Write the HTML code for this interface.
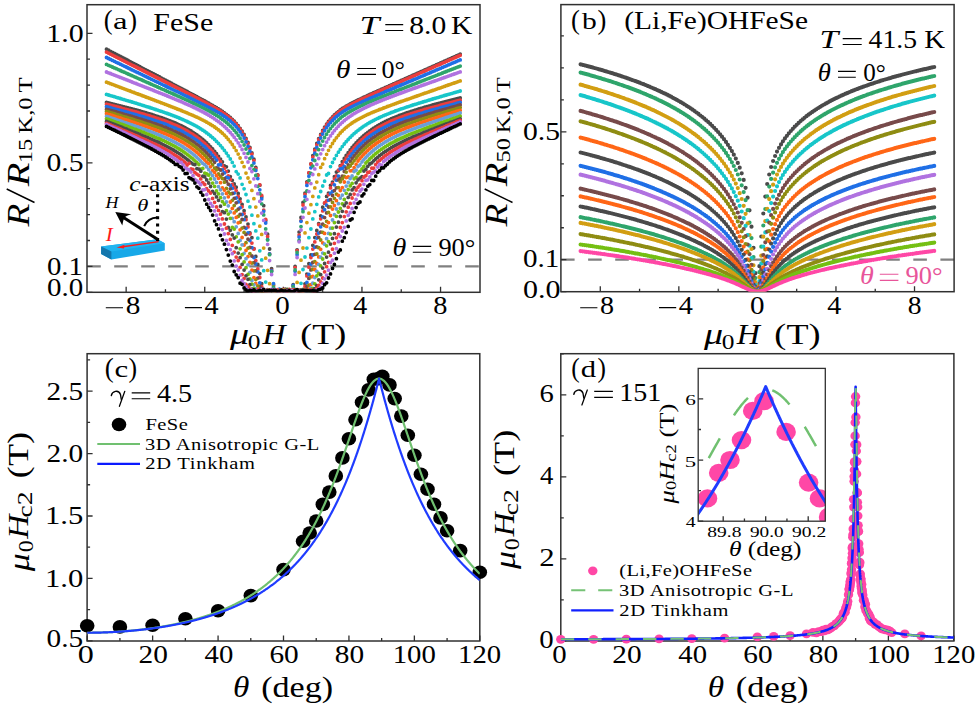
<!DOCTYPE html>
<html><head><meta charset="utf-8"><title>Figure</title>
<style>html,body{margin:0;padding:0;background:#fff;width:977px;height:707px;overflow:hidden}svg{display:block}text{font-family:"Liberation Serif",serif}</style>
</head><body><svg width="977" height="707" viewBox="0 0 977 707"><rect width="977" height="707" fill="#fff"/><clipPath id="ca"><rect x="87" y="4.7" width="393" height="287.6"/></clipPath><clipPath id="cb"><rect x="560.9" y="4.6" width="393.2" height="287.1"/></clipPath><clipPath id="cc"><rect x="87.1" y="353.7" width="392.7" height="287.3"/></clipPath><clipPath id="cd"><rect x="560.8" y="353.7" width="393.1" height="287.3"/></clipPath><clipPath id="ci"><rect x="698.2" y="368.4" width="127.1" height="152.8"/></clipPath><path d="M87.2 266.40H480" stroke="#808080" stroke-width="2.4" stroke-dasharray="13.6 13.4" fill="none"/><path d="M561 259.72H954" stroke="#808080" stroke-width="2.2" stroke-dasharray="13.6 13.5" fill="none"/><path d="M126.15 292.30L126.15 286.80M204.75 292.30L204.75 286.80M283.35 292.30L283.35 286.80M361.95 292.30L361.95 286.80M440.55 292.30L440.55 286.80M165.45 292.30L165.45 289.30M244.05 292.30L244.05 289.30M322.65 292.30L322.65 289.30M401.25 292.30L401.25 289.30M87.00 292.30L92.50 292.30M87.00 266.40L92.50 266.40M87.00 162.80L92.50 162.80M87.00 33.30L92.50 33.30M87.00 240.50L90.00 240.50M87.00 214.60L90.00 214.60M87.00 188.70L90.00 188.70M87.00 136.90L90.00 136.90M87.00 111.00L90.00 111.00M87.00 85.10L90.00 85.10M87.00 59.20L90.00 59.20M600.28 291.70L600.28 286.20M678.84 291.70L678.84 286.20M757.40 291.70L757.40 286.20M835.96 291.70L835.96 286.20M914.52 291.70L914.52 286.20M639.56 291.70L639.56 288.70M718.12 291.70L718.12 288.70M796.68 291.70L796.68 288.70M875.24 291.70L875.24 288.70M560.90 291.70L566.40 291.70M560.90 259.72L566.40 259.72M560.90 131.80L566.40 131.80M560.90 227.74L563.90 227.74M560.90 195.76L563.90 195.76M560.90 163.78L563.90 163.78M560.90 99.82L563.90 99.82M560.90 67.84L563.90 67.84M560.90 35.86L563.90 35.86M87.20 641.00L87.20 635.50M152.63 641.00L152.63 635.50M218.07 641.00L218.07 635.50M283.50 641.00L283.50 635.50M348.94 641.00L348.94 635.50M414.37 641.00L414.37 635.50M479.80 641.00L479.80 635.50M119.92 641.00L119.92 638.00M185.35 641.00L185.35 638.00M250.79 641.00L250.79 638.00M316.22 641.00L316.22 638.00M381.65 641.00L381.65 638.00M447.09 641.00L447.09 638.00M87.10 640.90L92.60 640.90M87.10 578.45L92.60 578.45M87.10 516.00L92.60 516.00M87.10 453.55L92.60 453.55M87.10 391.10L92.60 391.10M87.10 609.67L90.10 609.67M87.10 547.22L90.10 547.22M87.10 484.77L90.10 484.77M87.10 422.32L90.10 422.32M87.10 359.87L90.10 359.87M560.80 641.00L560.80 635.50M626.32 641.00L626.32 635.50M691.83 641.00L691.83 635.50M757.35 641.00L757.35 635.50M822.86 641.00L822.86 635.50M888.38 641.00L888.38 635.50M953.90 641.00L953.90 635.50M593.56 641.00L593.56 638.00M659.07 641.00L659.07 638.00M724.59 641.00L724.59 638.00M790.11 641.00L790.11 638.00M855.62 641.00L855.62 638.00M921.14 641.00L921.14 638.00M560.80 640.90L566.30 640.90M560.80 558.90L566.30 558.90M560.80 476.90L566.30 476.90M560.80 394.90L566.30 394.90M560.80 599.90L563.80 599.90M560.80 517.90L563.80 517.90M560.80 435.90L563.80 435.90M560.80 353.90L563.80 353.90" stroke="#303030" stroke-width="1.3" fill="none"/><rect x="87.0" y="4.7" width="393.00" height="287.60" fill="none" stroke="#303030" stroke-width="1.5"/><rect x="560.9" y="4.6" width="393.20" height="287.10" fill="none" stroke="#303030" stroke-width="1.5"/><rect x="87.1" y="353.7" width="392.70" height="287.30" fill="none" stroke="#303030" stroke-width="1.5"/><rect x="560.8" y="353.7" width="393.10" height="287.30" fill="none" stroke="#303030" stroke-width="1.5"/><g clip-path="url(#ca)" stroke-linecap="round" stroke-width="3.8" fill="none"><path stroke="#4a4a4a" d="M106.5 49.2h0M108.5 50.2h0M110.4 51.3h0M112.4 52.3h0M114.4 53.3h0M116.3 54.4h0M118.3 55.4h0M120.3 56.4h0M122.2 57.5h0M124.2 58.5h0M126.2 59.5h0M128.1 60.5h0M130.1 61.6h0M132.0 62.6h0M134.0 63.6h0M136.0 64.7h0M137.9 65.7h0M139.9 66.7h0M141.9 67.8h0M143.8 68.8h0M145.8 69.8h0M147.8 70.9h0M149.7 71.9h0M151.7 72.9h0M153.7 74.0h0M155.6 75.0h0M157.6 76.0h0M159.6 77.0h0M161.5 78.1h0M163.5 79.1h0M165.5 80.1h0M167.4 81.2h0M169.4 82.2h0M171.3 83.2h0M173.3 84.3h0M175.3 85.3h0M177.2 86.3h0M179.2 87.4h0M181.2 88.4h0M183.1 89.4h0M185.1 90.5h0M187.1 91.5h0M189.0 92.6h0M191.0 93.6h0M193.0 94.6h0M194.9 95.7h0M196.9 96.7h0M198.9 97.8h0M200.8 98.8h0M202.8 99.9h0M204.8 101.0h0M206.7 102.1h0M208.7 103.2h0M210.6 104.3h0M212.6 105.4h0M214.6 106.6h0M216.5 107.7h0M218.5 109.0h0M220.5 110.2h0M222.4 111.5h0M224.4 112.9h0M226.4 114.3h0M228.3 115.9h0M230.3 117.5h0M232.3 119.3h0M234.2 121.2h0M236.2 123.4h0M238.2 125.7h0M240.1 128.3h0M242.1 131.2h0M244.1 134.5h0M246.0 138.3h0M248.0 142.5h0M249.9 147.3h0M251.9 152.9h0M253.9 159.2h0M255.8 167.5h0M257.8 175.0h0M259.8 185.2h0M261.7 196.9h0M263.7 205.7h0M265.7 220.7h0M267.6 234.2h0M269.6 249.0h0M271.6 268.7h0M273.5 284.7h0M275.5 290.6h0M277.5 290.2h0M279.4 291.4h0M281.4 289.9h0M283.4 290.6h0M285.3 289.1h0M287.3 291.3h0M289.2 290.6h0M291.2 290.6h0M293.2 284.7h0M295.1 266.4h0M297.1 249.8h0M299.1 232.1h0M301.0 217.5h0M303.0 202.4h0M305.0 193.1h0M306.9 181.8h0M308.9 172.8h0M310.9 164.0h0M312.8 155.6h0M314.8 149.2h0M316.8 143.5h0M318.7 138.6h0M320.7 134.3h0M322.7 130.5h0M324.6 127.1h0M326.6 124.1h0M328.5 121.5h0M330.5 119.1h0M332.5 117.0h0M334.4 115.0h0M336.4 113.2h0M338.4 111.6h0M340.3 110.0h0M342.3 108.5h0M344.3 107.3h0M346.2 106.2h0M348.2 105.1h0M350.2 104.0h0M352.1 103.0h0M354.1 102.0h0M356.1 101.0h0M358.0 100.0h0M360.0 99.1h0M362.0 98.2h0M363.9 97.2h0M365.9 96.3h0M367.8 95.4h0M369.8 94.5h0M371.8 93.6h0M373.7 92.7h0M375.7 91.9h0M377.7 91.0h0M379.6 90.1h0M381.6 89.2h0M383.6 88.3h0M385.5 87.5h0M387.5 86.6h0M389.5 85.7h0M391.4 84.8h0M393.4 83.9h0M395.4 83.1h0M397.3 82.2h0M399.3 81.3h0M401.2 80.4h0M403.2 79.6h0M405.2 78.7h0M407.1 77.8h0M409.1 76.9h0M411.1 76.1h0M413.0 75.2h0M415.0 74.3h0M417.0 73.4h0M418.9 72.6h0M420.9 71.7h0M422.9 70.8h0M424.8 69.9h0M426.8 69.1h0M428.8 68.2h0M430.7 67.3h0M432.7 66.4h0M434.7 65.6h0M436.6 64.7h0M438.6 63.8h0M440.6 62.9h0M442.5 62.1h0M444.5 61.2h0M446.4 60.3h0M448.4 59.4h0M450.4 58.6h0M452.3 57.7h0M454.3 56.8h0M456.3 55.9h0M458.2 55.1h0M460.2 54.2h0"/><path stroke="#ec3d3d" d="M106.5 52.1h0M108.5 53.1h0M110.4 54.1h0M112.4 55.1h0M114.4 56.1h0M116.3 57.1h0M118.3 58.1h0M120.3 59.1h0M122.2 60.1h0M124.2 61.1h0M126.2 62.1h0M128.1 63.1h0M130.1 64.1h0M132.0 65.1h0M134.0 66.0h0M136.0 67.0h0M137.9 68.0h0M139.9 69.0h0M141.9 70.0h0M143.8 71.0h0M145.8 72.0h0M147.8 73.0h0M149.7 74.0h0M151.7 75.0h0M153.7 76.0h0M155.6 77.0h0M157.6 78.0h0M159.6 79.0h0M161.5 80.0h0M163.5 81.0h0M165.5 82.0h0M167.4 83.0h0M169.4 84.0h0M171.3 85.0h0M173.3 86.0h0M175.3 87.0h0M177.2 88.0h0M179.2 89.0h0M181.2 90.0h0M183.1 91.0h0M185.1 92.0h0M187.1 93.0h0M189.0 94.0h0M191.0 95.0h0M193.0 96.0h0M194.9 97.0h0M196.9 98.0h0M198.9 99.0h0M200.8 100.1h0M202.8 101.1h0M204.8 102.1h0M206.7 103.2h0M208.7 104.3h0M210.6 105.3h0M212.6 106.4h0M214.6 107.6h0M216.5 108.7h0M218.5 109.9h0M220.5 111.1h0M222.4 112.4h0M224.4 113.8h0M226.4 115.2h0M228.3 116.7h0M230.3 118.4h0M232.3 120.1h0M234.2 122.1h0M236.2 124.2h0M238.2 126.6h0M240.1 129.2h0M242.1 132.2h0M244.1 135.5h0M246.0 139.3h0M248.0 143.6h0M249.9 148.5h0M251.9 154.1h0M253.9 160.6h0M255.8 168.7h0M257.8 175.4h0M259.8 184.9h0M261.7 195.4h0M263.7 210.1h0M265.7 219.4h0M267.6 236.5h0M269.6 254.0h0M271.6 270.5h0M273.5 285.6h0M275.5 291.4h0M277.5 289.6h0M279.4 290.1h0M281.4 290.1h0M283.4 290.3h0M285.3 290.0h0M287.3 291.3h0M289.2 290.0h0M291.2 291.0h0M293.2 286.0h0M295.1 267.6h0M297.1 250.6h0M299.1 235.1h0M301.0 220.6h0M303.0 205.0h0M305.0 194.3h0M306.9 183.0h0M308.9 172.9h0M310.9 164.1h0M312.8 157.1h0M314.8 150.5h0M316.8 144.8h0M318.7 139.7h0M320.7 135.3h0M322.7 131.5h0M324.6 128.1h0M326.6 125.0h0M328.5 122.4h0M330.5 120.0h0M332.5 117.8h0M334.4 115.8h0M336.4 114.1h0M338.4 112.4h0M340.3 110.9h0M342.3 109.4h0M344.3 108.2h0M346.2 107.0h0M348.2 105.9h0M350.2 104.8h0M352.1 103.8h0M354.1 102.8h0M356.1 101.8h0M358.0 100.9h0M360.0 99.9h0M362.0 99.0h0M363.9 98.1h0M365.9 97.2h0M367.8 96.3h0M369.8 95.4h0M371.8 94.5h0M373.7 93.6h0M375.7 92.7h0M377.7 91.9h0M379.6 91.0h0M381.6 90.1h0M383.6 89.2h0M385.5 88.4h0M387.5 87.5h0M389.5 86.6h0M391.4 85.7h0M393.4 84.9h0M395.4 84.0h0M397.3 83.1h0M399.3 82.3h0M401.2 81.4h0M403.2 80.5h0M405.2 79.6h0M407.1 78.8h0M409.1 77.9h0M411.1 77.0h0M413.0 76.2h0M415.0 75.3h0M417.0 74.4h0M418.9 73.6h0M420.9 72.7h0M422.9 71.8h0M424.8 71.0h0M426.8 70.1h0M428.8 69.2h0M430.7 68.3h0M432.7 67.5h0M434.7 66.6h0M436.6 65.7h0M438.6 64.9h0M440.6 64.0h0M442.5 63.1h0M444.5 62.3h0M446.4 61.4h0M448.4 60.5h0M450.4 59.6h0M452.3 58.8h0M454.3 57.9h0M456.3 57.0h0M458.2 56.2h0M460.2 55.3h0"/><path stroke="#1f6fe6" d="M106.5 57.5h0M108.5 58.5h0M110.4 59.4h0M112.4 60.4h0M114.4 61.3h0M116.3 62.3h0M118.3 63.2h0M120.3 64.2h0M122.2 65.1h0M124.2 66.1h0M126.2 67.0h0M128.1 68.0h0M130.1 68.9h0M132.0 69.9h0M134.0 70.8h0M136.0 71.8h0M137.9 72.7h0M139.9 73.7h0M141.9 74.6h0M143.8 75.6h0M145.8 76.5h0M147.8 77.5h0M149.7 78.4h0M151.7 79.4h0M153.7 80.3h0M155.6 81.3h0M157.6 82.2h0M159.6 83.2h0M161.5 84.1h0M163.5 85.1h0M165.5 86.0h0M167.4 87.0h0M169.4 87.9h0M171.3 88.9h0M173.3 89.8h0M175.3 90.8h0M177.2 91.7h0M179.2 92.7h0M181.2 93.6h0M183.1 94.6h0M185.1 95.6h0M187.1 96.5h0M189.0 97.5h0M191.0 98.4h0M193.0 99.4h0M194.9 100.4h0M196.9 101.3h0M198.9 102.3h0M200.8 103.3h0M202.8 104.3h0M204.8 105.3h0M206.7 106.3h0M208.7 107.3h0M210.6 108.3h0M212.6 109.4h0M214.6 110.5h0M216.5 111.6h0M218.5 112.7h0M220.5 113.9h0M222.4 115.2h0M224.4 116.5h0M226.4 117.9h0M228.3 119.4h0M230.3 121.0h0M232.3 122.8h0M234.2 124.7h0M236.2 126.8h0M238.2 129.2h0M240.1 131.8h0M242.1 134.8h0M244.1 138.1h0M246.0 141.9h0M248.0 146.3h0M249.9 151.2h0M251.9 156.9h0M253.9 163.1h0M255.8 170.4h0M257.8 178.6h0M259.8 189.8h0M261.7 198.9h0M263.7 211.3h0M265.7 223.0h0M267.6 239.6h0M269.6 254.0h0M271.6 270.9h0M273.5 283.6h0M275.5 291.9h0M277.5 291.3h0M279.4 290.4h0M281.4 290.2h0M283.4 291.7h0M285.3 291.6h0M287.3 290.2h0M289.2 289.7h0M291.2 291.4h0M293.2 285.5h0M295.1 271.3h0M297.1 254.7h0M299.1 237.1h0M301.0 221.3h0M303.0 209.2h0M305.0 196.7h0M306.9 185.4h0M308.9 176.2h0M310.9 167.8h0M312.8 159.8h0M314.8 153.2h0M316.8 147.5h0M318.7 142.4h0M320.7 138.0h0M322.7 134.1h0M324.6 130.7h0M326.6 127.7h0M328.5 125.0h0M330.5 122.6h0M332.5 120.4h0M334.4 118.5h0M336.4 116.7h0M338.4 115.1h0M340.3 113.6h0M342.3 112.2h0M344.3 110.9h0M346.2 109.8h0M348.2 108.7h0M350.2 107.7h0M352.1 106.7h0M354.1 105.7h0M356.1 104.7h0M358.0 103.8h0M360.0 102.9h0M362.0 102.0h0M363.9 101.1h0M365.9 100.2h0M367.8 99.4h0M369.8 98.5h0M371.8 97.7h0M373.7 96.8h0M375.7 96.0h0M377.7 95.1h0M379.6 94.3h0M381.6 93.4h0M383.6 92.6h0M385.5 91.7h0M387.5 90.9h0M389.5 90.1h0M391.4 89.2h0M393.4 88.4h0M395.4 87.5h0M397.3 86.7h0M399.3 85.9h0M401.2 85.0h0M403.2 84.2h0M405.2 83.3h0M407.1 82.5h0M409.1 81.7h0M411.1 80.8h0M413.0 80.0h0M415.0 79.2h0M417.0 78.3h0M418.9 77.5h0M420.9 76.6h0M422.9 75.8h0M424.8 75.0h0M426.8 74.1h0M428.8 73.3h0M430.7 72.5h0M432.7 71.6h0M434.7 70.8h0M436.6 69.9h0M438.6 69.1h0M440.6 68.3h0M442.5 67.4h0M444.5 66.6h0M446.4 65.8h0M448.4 64.9h0M450.4 64.1h0M452.3 63.2h0M454.3 62.4h0M456.3 61.6h0M458.2 60.7h0M460.2 59.9h0"/><path stroke="#2ea56b" d="M106.5 64.4h0M108.5 65.3h0M110.4 66.1h0M112.4 67.0h0M114.4 67.9h0M116.3 68.7h0M118.3 69.6h0M120.3 70.5h0M122.2 71.4h0M124.2 72.2h0M126.2 73.1h0M128.1 74.0h0M130.1 74.8h0M132.0 75.7h0M134.0 76.6h0M136.0 77.4h0M137.9 78.3h0M139.9 79.2h0M141.9 80.0h0M143.8 80.9h0M145.8 81.8h0M147.8 82.7h0M149.7 83.5h0M151.7 84.4h0M153.7 85.3h0M155.6 86.1h0M157.6 87.0h0M159.6 87.9h0M161.5 88.8h0M163.5 89.6h0M165.5 90.5h0M167.4 91.4h0M169.4 92.3h0M171.3 93.1h0M173.3 94.0h0M175.3 94.9h0M177.2 95.8h0M179.2 96.7h0M181.2 97.6h0M183.1 98.4h0M185.1 99.3h0M187.1 100.2h0M189.0 101.1h0M191.0 102.1h0M193.0 103.0h0M194.9 103.9h0M196.9 104.9h0M198.9 105.8h0M200.8 106.8h0M202.8 107.8h0M204.8 108.8h0M206.7 109.8h0M208.7 110.8h0M210.6 111.9h0M212.6 113.0h0M214.6 114.2h0M216.5 115.4h0M218.5 116.7h0M220.5 118.0h0M222.4 119.4h0M224.4 120.9h0M226.4 122.5h0M228.3 124.2h0M230.3 126.1h0M232.3 128.1h0M234.2 130.3h0M236.2 132.7h0M238.2 135.3h0M240.1 138.2h0M242.1 141.4h0M244.1 145.0h0M246.0 149.0h0M248.0 153.4h0M249.9 158.4h0M251.9 165.7h0M253.9 169.7h0M255.8 175.5h0M257.8 186.3h0M259.8 193.7h0M261.7 203.8h0M263.7 214.9h0M265.7 228.9h0M267.6 239.9h0M269.6 254.7h0M271.6 271.6h0M273.5 287.0h0M275.5 289.8h0M277.5 290.8h0M279.4 291.3h0M281.4 290.4h0M283.4 290.2h0M285.3 290.1h0M287.3 290.7h0M289.2 290.8h0M291.2 291.6h0M293.2 286.7h0M295.1 269.9h0M297.1 252.5h0M299.1 240.4h0M301.0 226.6h0M303.0 211.7h0M305.0 200.5h0M306.9 191.0h0M308.9 180.4h0M310.9 173.3h0M312.8 166.1h0M314.8 160.5h0M316.8 154.8h0M318.7 149.7h0M320.7 145.2h0M322.7 141.1h0M324.6 137.5h0M326.6 134.2h0M328.5 131.2h0M330.5 128.6h0M332.5 126.1h0M334.4 123.9h0M336.4 121.9h0M338.4 120.0h0M340.3 118.2h0M342.3 116.6h0M344.3 115.2h0M346.2 113.9h0M348.2 112.7h0M350.2 111.5h0M352.1 110.4h0M354.1 109.3h0M356.1 108.3h0M358.0 107.3h0M360.0 106.3h0M362.0 105.4h0M363.9 104.5h0M365.9 103.6h0M367.8 102.7h0M369.8 101.9h0M371.8 101.0h0M373.7 100.2h0M375.7 99.4h0M377.7 98.6h0M379.6 97.8h0M381.6 97.0h0M383.6 96.2h0M385.5 95.4h0M387.5 94.6h0M389.5 93.8h0M391.4 93.0h0M393.4 92.3h0M395.4 91.5h0M397.3 90.7h0M399.3 89.9h0M401.2 89.2h0M403.2 88.4h0M405.2 87.6h0M407.1 86.8h0M409.1 86.1h0M411.1 85.3h0M413.0 84.5h0M415.0 83.8h0M417.0 83.0h0M418.9 82.2h0M420.9 81.5h0M422.9 80.7h0M424.8 79.9h0M426.8 79.1h0M428.8 78.4h0M430.7 77.6h0M432.7 76.8h0M434.7 76.1h0M436.6 75.3h0M438.6 74.5h0M440.6 73.8h0M442.5 73.0h0M444.5 72.2h0M446.4 71.5h0M448.4 70.7h0M450.4 69.9h0M452.3 69.2h0M454.3 68.4h0M456.3 67.6h0M458.2 66.9h0M460.2 66.1h0"/><path stroke="#b072e0" d="M106.5 72.0h0M108.5 72.8h0M110.4 73.5h0M112.4 74.3h0M114.4 75.1h0M116.3 75.8h0M118.3 76.6h0M120.3 77.4h0M122.2 78.1h0M124.2 78.9h0M126.2 79.7h0M128.1 80.4h0M130.1 81.2h0M132.0 82.0h0M134.0 82.8h0M136.0 83.5h0M137.9 84.3h0M139.9 85.1h0M141.9 85.8h0M143.8 86.6h0M145.8 87.4h0M147.8 88.2h0M149.7 88.9h0M151.7 89.7h0M153.7 90.5h0M155.6 91.3h0M157.6 92.1h0M159.6 92.9h0M161.5 93.6h0M163.5 94.4h0M165.5 95.2h0M167.4 96.0h0M169.4 96.8h0M171.3 97.6h0M173.3 98.4h0M175.3 99.3h0M177.2 100.1h0M179.2 100.9h0M181.2 101.7h0M183.1 102.6h0M185.1 103.5h0M187.1 104.3h0M189.0 105.2h0M191.0 106.1h0M193.0 107.0h0M194.9 107.9h0M196.9 108.9h0M198.9 109.9h0M200.8 110.9h0M202.8 111.9h0M204.8 113.0h0M206.7 114.0h0M208.7 115.2h0M210.6 116.4h0M212.6 117.6h0M214.6 118.9h0M216.5 120.3h0M218.5 121.7h0M220.5 123.2h0M222.4 124.8h0M224.4 126.6h0M226.4 128.4h0M228.3 130.4h0M230.3 132.5h0M232.3 134.8h0M234.2 137.2h0M236.2 139.9h0M238.2 142.8h0M240.1 146.0h0M242.1 149.5h0M244.1 153.3h0M246.0 157.4h0M248.0 162.0h0M249.9 168.4h0M251.9 171.6h0M253.9 178.8h0M255.8 185.9h0M257.8 193.7h0M259.8 201.4h0M261.7 213.1h0M263.7 220.4h0M265.7 233.0h0M267.6 244.3h0M269.6 260.6h0M271.6 274.5h0M273.5 289.4h0M275.5 290.7h0M277.5 291.3h0M279.4 290.1h0M281.4 291.0h0M283.4 290.2h0M285.3 289.5h0M287.3 290.5h0M289.2 290.5h0M291.2 291.2h0M293.2 289.3h0M295.1 274.4h0M297.1 257.5h0M299.1 241.8h0M301.0 230.0h0M303.0 217.3h0M305.0 208.0h0M306.9 199.4h0M308.9 191.6h0M310.9 183.6h0M312.8 174.5h0M314.8 168.9h0M316.8 164.4h0M318.7 158.5h0M320.7 153.8h0M322.7 149.6h0M324.6 145.7h0M326.6 142.2h0M328.5 138.9h0M330.5 135.9h0M332.5 133.2h0M334.4 130.7h0M336.4 128.4h0M338.4 126.2h0M340.3 124.2h0M342.3 122.4h0M344.3 120.7h0M346.2 119.1h0M348.2 117.7h0M350.2 116.3h0M352.1 115.0h0M354.1 113.7h0M356.1 112.6h0M358.0 111.4h0M360.0 110.4h0M362.0 109.3h0M363.9 108.3h0M365.9 107.4h0M367.8 106.4h0M369.8 105.5h0M371.8 104.6h0M373.7 103.8h0M375.7 102.9h0M377.7 102.1h0M379.6 101.3h0M381.6 100.5h0M383.6 99.7h0M385.5 98.9h0M387.5 98.2h0M389.5 97.4h0M391.4 96.7h0M393.4 95.9h0M395.4 95.2h0M397.3 94.4h0M399.3 93.7h0M401.2 93.0h0M403.2 92.3h0M405.2 91.5h0M407.1 90.8h0M409.1 90.1h0M411.1 89.4h0M413.0 88.7h0M415.0 88.0h0M417.0 87.3h0M418.9 86.6h0M420.9 85.9h0M422.9 85.2h0M424.8 84.5h0M426.8 83.8h0M428.8 83.1h0M430.7 82.4h0M432.7 81.7h0M434.7 81.0h0M436.6 80.3h0M438.6 79.6h0M440.6 78.9h0M442.5 78.2h0M444.5 77.5h0M446.4 76.8h0M448.4 76.1h0M450.4 75.4h0M452.3 74.7h0M454.3 74.0h0M456.3 73.3h0M458.2 72.6h0M460.2 71.9h0"/><path stroke="#d29e12" d="M106.5 82.2h0M108.5 82.9h0M110.4 83.7h0M112.4 84.4h0M114.4 85.1h0M116.3 85.9h0M118.3 86.6h0M120.3 87.4h0M122.2 88.1h0M124.2 88.8h0M126.2 89.6h0M128.1 90.3h0M130.1 91.0h0M132.0 91.8h0M134.0 92.5h0M136.0 93.3h0M137.9 94.0h0M139.9 94.7h0M141.9 95.5h0M143.8 96.2h0M145.8 97.0h0M147.8 97.7h0M149.7 98.4h0M151.7 99.2h0M153.7 99.9h0M155.6 100.7h0M157.6 101.4h0M159.6 102.1h0M161.5 102.9h0M163.5 103.6h0M165.5 104.4h0M167.4 105.1h0M169.4 105.9h0M171.3 106.7h0M173.3 107.4h0M175.3 108.2h0M177.2 109.0h0M179.2 109.7h0M181.2 110.5h0M183.1 111.3h0M185.1 112.1h0M187.1 112.9h0M189.0 113.8h0M191.0 114.6h0M193.0 115.4h0M194.9 116.3h0M196.9 117.2h0M198.9 118.1h0M200.8 119.1h0M202.8 120.1h0M204.8 121.1h0M206.7 122.2h0M208.7 123.3h0M210.6 124.5h0M212.6 125.7h0M214.6 127.0h0M216.5 128.4h0M218.5 129.9h0M220.5 131.5h0M222.4 133.2h0M224.4 135.1h0M226.4 137.2h0M228.3 139.4h0M230.3 141.8h0M232.3 144.5h0M234.2 147.4h0M236.2 150.6h0M238.2 154.1h0M240.1 158.0h0M242.1 162.3h0M244.1 166.7h0M246.0 173.1h0M248.0 178.0h0M249.9 182.1h0M251.9 190.4h0M253.9 198.7h0M255.8 207.1h0M257.8 215.9h0M259.8 226.2h0M261.7 234.4h0M263.7 248.1h0M265.7 258.2h0M267.6 270.3h0M269.6 283.7h0M271.6 290.4h0M273.5 290.7h0M275.5 291.4h0M277.5 290.5h0M279.4 291.0h0M281.4 290.7h0M283.4 290.2h0M285.3 291.3h0M287.3 291.2h0M289.2 290.5h0M291.2 290.4h0M293.2 290.3h0M295.1 290.7h0M297.1 282.4h0M299.1 272.4h0M301.0 260.2h0M303.0 248.0h0M305.0 232.9h0M306.9 222.6h0M308.9 213.2h0M310.9 204.7h0M312.8 196.4h0M314.8 187.9h0M316.8 182.1h0M318.7 174.7h0M320.7 167.4h0M322.7 164.1h0M324.6 158.7h0M326.6 154.3h0M328.5 150.3h0M330.5 146.7h0M332.5 143.5h0M334.4 140.5h0M336.4 137.8h0M338.4 135.3h0M340.3 133.0h0M342.3 131.0h0M344.3 129.1h0M346.2 127.4h0M348.2 125.8h0M350.2 124.3h0M352.1 123.0h0M354.1 121.7h0M356.1 120.5h0M358.0 119.4h0M360.0 118.3h0M362.0 117.3h0M363.9 116.3h0M365.9 115.3h0M367.8 114.4h0M369.8 113.6h0M371.8 112.7h0M373.7 111.9h0M375.7 111.1h0M377.7 110.3h0M379.6 109.5h0M381.6 108.8h0M383.6 108.0h0M385.5 107.3h0M387.5 106.5h0M389.5 105.8h0M391.4 105.1h0M393.4 104.4h0M395.4 103.7h0M397.3 102.9h0M399.3 102.2h0M401.2 101.5h0M403.2 100.8h0M405.2 100.1h0M407.1 99.5h0M409.1 98.8h0M411.1 98.1h0M413.0 97.4h0M415.0 96.7h0M417.0 96.0h0M418.9 95.3h0M420.9 94.6h0M422.9 93.9h0M424.8 93.2h0M426.8 92.6h0M428.8 91.9h0M430.7 91.2h0M432.7 90.5h0M434.7 89.8h0M436.6 89.1h0M438.6 88.4h0M440.6 87.8h0M442.5 87.1h0M444.5 86.4h0M446.4 85.7h0M448.4 85.0h0M450.4 84.3h0M452.3 83.6h0M454.3 83.0h0M456.3 82.3h0M458.2 81.6h0M460.2 80.9h0"/><path stroke="#17c6c9" d="M106.5 94.4h0M108.5 95.0h0M110.4 95.6h0M112.4 96.1h0M114.4 96.7h0M116.3 97.3h0M118.3 97.9h0M120.3 98.5h0M122.2 99.1h0M124.2 99.7h0M126.2 100.3h0M128.1 100.8h0M130.1 101.4h0M132.0 102.0h0M134.0 102.6h0M136.0 103.2h0M137.9 103.8h0M139.9 104.4h0M141.9 105.1h0M143.8 105.7h0M145.8 106.3h0M147.8 106.9h0M149.7 107.5h0M151.7 108.2h0M153.7 108.8h0M155.6 109.5h0M157.6 110.1h0M159.6 110.8h0M161.5 111.4h0M163.5 112.1h0M165.5 112.8h0M167.4 113.5h0M169.4 114.2h0M171.3 114.9h0M173.3 115.7h0M175.3 116.4h0M177.2 117.2h0M179.2 118.0h0M181.2 118.8h0M183.1 119.7h0M185.1 120.6h0M187.1 121.5h0M189.0 122.4h0M191.0 123.4h0M193.0 124.4h0M194.9 125.4h0M196.9 126.5h0M198.9 127.7h0M200.8 128.9h0M202.8 130.2h0M204.8 131.5h0M206.7 132.9h0M208.7 134.4h0M210.6 136.0h0M212.6 137.7h0M214.6 139.4h0M216.5 141.4h0M218.5 143.4h0M220.5 145.6h0M222.4 147.9h0M224.4 150.4h0M226.4 153.1h0M228.3 155.9h0M230.3 159.0h0M232.3 162.4h0M234.2 166.1h0M236.2 171.6h0M238.2 174.1h0M240.1 177.9h0M242.1 184.3h0M244.1 188.8h0M246.0 194.5h0M248.0 201.2h0M249.9 206.9h0M251.9 215.2h0M253.9 223.7h0M255.8 230.9h0M257.8 238.2h0M259.8 250.8h0M261.7 259.9h0M263.7 270.7h0M265.7 282.1h0M267.6 291.6h0M269.6 291.2h0M271.6 290.9h0M273.5 291.0h0M275.5 291.6h0M277.5 290.5h0M279.4 291.1h0M281.4 289.7h0M283.4 290.5h0M285.3 291.0h0M287.3 289.8h0M289.2 290.5h0M291.2 290.8h0M293.2 291.4h0M295.1 291.1h0M297.1 290.3h0M299.1 290.3h0M301.0 283.3h0M303.0 269.5h0M305.0 257.0h0M306.9 248.1h0M308.9 237.7h0M310.9 229.0h0M312.8 218.9h0M314.8 211.7h0M316.8 204.3h0M318.7 196.9h0M320.7 191.5h0M322.7 186.0h0M324.6 181.2h0M326.6 175.0h0M328.5 173.5h0M330.5 166.6h0M332.5 162.5h0M334.4 158.8h0M336.4 155.4h0M338.4 152.2h0M340.3 149.3h0M342.3 146.6h0M344.3 144.0h0M346.2 141.7h0M348.2 139.5h0M350.2 137.4h0M352.1 135.5h0M354.1 133.7h0M356.1 132.0h0M358.0 130.4h0M360.0 128.9h0M362.0 127.5h0M363.9 126.1h0M365.9 124.9h0M367.8 123.6h0M369.8 122.5h0M371.8 121.4h0M373.7 120.4h0M375.7 119.3h0M377.7 118.4h0M379.6 117.5h0M381.6 116.6h0M383.6 115.7h0M385.5 114.9h0M387.5 114.1h0M389.5 113.3h0M391.4 112.5h0M393.4 111.8h0M395.4 111.0h0M397.3 110.3h0M399.3 109.6h0M401.2 108.9h0M403.2 108.3h0M405.2 107.6h0M407.1 106.9h0M409.1 106.3h0M411.1 105.7h0M413.0 105.0h0M415.0 104.4h0M417.0 103.8h0M418.9 103.2h0M420.9 102.6h0M422.9 102.0h0M424.8 101.4h0M426.8 100.8h0M428.8 100.2h0M430.7 99.6h0M432.7 99.0h0M434.7 98.4h0M436.6 97.8h0M438.6 97.3h0M440.6 96.7h0M442.5 96.1h0M444.5 95.5h0M446.4 95.0h0M448.4 94.4h0M450.4 93.8h0M452.3 93.3h0M454.3 92.7h0M456.3 92.1h0M458.2 91.6h0M460.2 91.0h0"/><path stroke="#4a4a4a" d="M106.5 102.3h0M108.5 102.8h0M110.4 103.3h0M112.4 103.8h0M114.4 104.3h0M116.3 104.8h0M118.3 105.3h0M120.3 105.8h0M122.2 106.3h0M124.2 106.8h0M126.2 107.3h0M128.1 107.8h0M130.1 108.4h0M132.0 108.9h0M134.0 109.4h0M136.0 110.0h0M137.9 110.5h0M139.9 111.0h0M141.9 111.6h0M143.8 112.2h0M145.8 112.7h0M147.8 113.3h0M149.7 113.9h0M151.7 114.5h0M153.7 115.1h0M155.6 115.8h0M157.6 116.4h0M159.6 117.1h0M161.5 117.7h0M163.5 118.4h0M165.5 119.1h0M167.4 119.9h0M169.4 120.6h0M171.3 121.4h0M173.3 122.2h0M175.3 123.0h0M177.2 123.9h0M179.2 124.8h0M181.2 125.7h0M183.1 126.7h0M185.1 127.7h0M187.1 128.8h0M189.0 129.9h0M191.0 131.0h0M193.0 132.3h0M194.9 133.6h0M196.9 134.9h0M198.9 136.3h0M200.8 137.9h0M202.8 139.5h0M204.8 141.2h0M206.7 142.9h0M208.7 144.9h0M210.6 146.9h0M212.6 149.0h0M214.6 151.3h0M216.5 153.7h0M218.5 156.3h0M220.5 159.1h0M222.4 162.0h0M224.4 166.0h0M226.4 166.8h0M228.3 171.1h0M230.3 176.6h0M232.3 180.3h0M234.2 183.9h0M236.2 187.2h0M238.2 193.4h0M240.1 198.8h0M242.1 204.4h0M244.1 210.7h0M246.0 217.0h0M248.0 224.1h0M249.9 232.9h0M251.9 237.7h0M253.9 248.7h0M255.8 256.5h0M257.8 264.4h0M259.8 273.6h0M261.7 283.7h0M263.7 290.9h0M265.7 291.1h0M267.6 291.2h0M269.6 290.5h0M271.6 290.5h0M273.5 291.0h0M275.5 289.6h0M277.5 290.9h0M279.4 289.6h0M281.4 290.7h0M283.4 291.2h0M285.3 291.1h0M287.3 290.7h0M289.2 290.9h0M291.2 290.3h0M293.2 291.4h0M295.1 291.0h0M297.1 291.1h0M299.1 290.5h0M301.0 289.8h0M303.0 290.7h0M305.0 283.8h0M306.9 274.1h0M308.9 263.7h0M310.9 255.0h0M312.8 245.3h0M314.8 237.6h0M316.8 230.4h0M318.7 223.6h0M320.7 215.8h0M322.7 207.2h0M324.6 203.2h0M326.6 196.4h0M328.5 193.1h0M330.5 185.5h0M332.5 182.1h0M334.4 176.7h0M336.4 172.1h0M338.4 170.8h0M340.3 165.6h0M342.3 161.7h0M344.3 158.5h0M346.2 155.5h0M348.2 152.7h0M350.2 150.0h0M352.1 147.5h0M354.1 145.2h0M356.1 143.0h0M358.0 140.9h0M360.0 139.0h0M362.0 137.2h0M363.9 135.4h0M365.9 133.8h0M367.8 132.3h0M369.8 130.8h0M371.8 129.4h0M373.7 128.1h0M375.7 126.9h0M377.7 125.7h0M379.6 124.6h0M381.6 123.5h0M383.6 122.4h0M385.5 121.5h0M387.5 120.5h0M389.5 119.6h0M391.4 118.7h0M393.4 117.9h0M395.4 117.1h0M397.3 116.3h0M399.3 115.5h0M401.2 114.8h0M403.2 114.1h0M405.2 113.4h0M407.1 112.7h0M409.1 112.1h0M411.1 111.4h0M413.0 110.8h0M415.0 110.2h0M417.0 109.6h0M418.9 109.0h0M420.9 108.4h0M422.9 107.8h0M424.8 107.2h0M426.8 106.7h0M428.8 106.1h0M430.7 105.6h0M432.7 105.0h0M434.7 104.5h0M436.6 104.0h0M438.6 103.4h0M440.6 102.9h0M442.5 102.4h0M444.5 101.9h0M446.4 101.4h0M448.4 100.9h0M450.4 100.4h0M452.3 99.9h0M454.3 99.4h0M456.3 98.9h0M458.2 98.4h0M460.2 97.9h0"/><path stroke="#ec3d3d" d="M106.5 104.2h0M108.5 104.7h0M110.4 105.2h0M112.4 105.7h0M114.4 106.2h0M116.3 106.7h0M118.3 107.2h0M120.3 107.7h0M122.2 108.3h0M124.2 108.8h0M126.2 109.3h0M128.1 109.8h0M130.1 110.4h0M132.0 110.9h0M134.0 111.4h0M136.0 112.0h0M137.9 112.5h0M139.9 113.1h0M141.9 113.6h0M143.8 114.2h0M145.8 114.8h0M147.8 115.4h0M149.7 116.0h0M151.7 116.6h0M153.7 117.2h0M155.6 117.8h0M157.6 118.5h0M159.6 119.2h0M161.5 119.8h0M163.5 120.5h0M165.5 121.2h0M167.4 122.0h0M169.4 122.7h0M171.3 123.5h0M173.3 124.3h0M175.3 125.2h0M177.2 126.0h0M179.2 126.9h0M181.2 127.9h0M183.1 128.9h0M185.1 129.9h0M187.1 131.0h0M189.0 132.1h0M191.0 133.3h0M193.0 134.5h0M194.9 135.8h0M196.9 137.2h0M198.9 138.6h0M200.8 140.2h0M202.8 141.8h0M204.8 143.5h0M206.7 145.3h0M208.7 147.3h0M210.6 149.3h0M212.6 151.5h0M214.6 153.8h0M216.5 156.3h0M218.5 158.9h0M220.5 161.7h0M222.4 165.5h0M224.4 168.3h0M226.4 171.7h0M228.3 176.0h0M230.3 179.5h0M232.3 184.5h0M234.2 187.7h0M236.2 190.6h0M238.2 196.5h0M240.1 201.7h0M242.1 206.8h0M244.1 213.6h0M246.0 219.7h0M248.0 226.9h0M249.9 234.0h0M251.9 243.1h0M253.9 249.0h0M255.8 260.6h0M257.8 269.0h0M259.8 277.5h0M261.7 286.7h0M263.7 290.6h0M265.7 291.5h0M267.6 289.6h0M269.6 290.4h0M271.6 290.6h0M273.5 292.0h0M275.5 290.9h0M277.5 290.0h0M279.4 290.7h0M281.4 290.3h0M283.4 289.5h0M285.3 290.1h0M287.3 291.5h0M289.2 289.5h0M291.2 290.7h0M293.2 290.9h0M295.1 291.0h0M297.1 291.2h0M299.1 289.9h0M301.0 290.4h0M303.0 291.0h0M305.0 286.5h0M306.9 275.9h0M308.9 267.2h0M310.9 257.5h0M312.8 249.1h0M314.8 241.9h0M316.8 234.0h0M318.7 224.6h0M320.7 218.8h0M322.7 210.9h0M324.6 203.0h0M326.6 200.8h0M328.5 194.6h0M330.5 187.9h0M332.5 183.6h0M334.4 178.8h0M336.4 175.9h0M338.4 170.2h0M340.3 166.6h0M342.3 164.4h0M344.3 161.2h0M346.2 158.1h0M348.2 155.3h0M350.2 152.6h0M352.1 150.1h0M354.1 147.7h0M356.1 145.5h0M358.0 143.4h0M360.0 141.4h0M362.0 139.6h0M363.9 137.8h0M365.9 136.2h0M367.8 134.6h0M369.8 133.2h0M371.8 131.8h0M373.7 130.5h0M375.7 129.2h0M377.7 128.0h0M379.6 126.9h0M381.6 125.8h0M383.6 124.8h0M385.5 123.8h0M387.5 122.8h0M389.5 121.9h0M391.4 121.0h0M393.4 120.2h0M395.4 119.4h0M397.3 118.6h0M399.3 117.8h0M401.2 117.1h0M403.2 116.4h0M405.2 115.7h0M407.1 115.0h0M409.1 114.4h0M411.1 113.7h0M413.0 113.1h0M415.0 112.5h0M417.0 111.9h0M418.9 111.3h0M420.9 110.7h0M422.9 110.1h0M424.8 109.5h0M426.8 109.0h0M428.8 108.4h0M430.7 107.9h0M432.7 107.3h0M434.7 106.8h0M436.6 106.3h0M438.6 105.8h0M440.6 105.2h0M442.5 104.7h0M444.5 104.2h0M446.4 103.7h0M448.4 103.2h0M450.4 102.7h0M452.3 102.2h0M454.3 101.7h0M456.3 101.2h0M458.2 100.7h0M460.2 100.2h0"/><path stroke="#1f6fe6" d="M106.5 106.7h0M108.5 107.2h0M110.4 107.7h0M112.4 108.3h0M114.4 108.8h0M116.3 109.3h0M118.3 109.8h0M120.3 110.4h0M122.2 110.9h0M124.2 111.4h0M126.2 112.0h0M128.1 112.5h0M130.1 113.1h0M132.0 113.6h0M134.0 114.2h0M136.0 114.7h0M137.9 115.3h0M139.9 115.9h0M141.9 116.4h0M143.8 117.0h0M145.8 117.6h0M147.8 118.2h0M149.7 118.8h0M151.7 119.5h0M153.7 120.1h0M155.6 120.8h0M157.6 121.4h0M159.6 122.1h0M161.5 122.8h0M163.5 123.5h0M165.5 124.2h0M167.4 125.0h0M169.4 125.8h0M171.3 126.6h0M173.3 127.4h0M175.3 128.2h0M177.2 129.1h0M179.2 130.0h0M181.2 131.0h0M183.1 132.0h0M185.1 133.1h0M187.1 134.2h0M189.0 135.3h0M191.0 136.5h0M193.0 137.8h0M194.9 139.1h0M196.9 140.5h0M198.9 142.0h0M200.8 143.6h0M202.8 145.3h0M204.8 147.0h0M206.7 148.9h0M208.7 150.9h0M210.6 153.0h0M212.6 155.3h0M214.6 157.7h0M216.5 160.2h0M218.5 165.0h0M220.5 164.7h0M222.4 169.9h0M224.4 172.9h0M226.4 177.4h0M228.3 177.8h0M230.3 185.4h0M232.3 188.3h0M234.2 193.1h0M236.2 198.0h0M238.2 201.9h0M240.1 207.8h0M242.1 214.5h0M244.1 219.6h0M246.0 228.3h0M248.0 232.8h0M249.9 240.5h0M251.9 247.7h0M253.9 257.5h0M255.8 264.0h0M257.8 271.8h0M259.8 282.8h0M261.7 289.2h0M263.7 290.3h0M265.7 290.9h0M267.6 290.7h0M269.6 290.2h0M271.6 289.9h0M273.5 291.2h0M275.5 290.4h0M277.5 290.9h0M279.4 289.2h0M281.4 291.4h0M283.4 289.9h0M285.3 290.7h0M287.3 290.8h0M289.2 292.1h0M291.2 290.4h0M293.2 291.3h0M295.1 289.3h0M297.1 291.5h0M299.1 290.4h0M301.0 290.8h0M303.0 290.6h0M305.0 289.7h0M306.9 282.5h0M308.9 274.3h0M310.9 264.1h0M312.8 255.0h0M314.8 247.2h0M316.8 238.1h0M318.7 233.1h0M320.7 226.8h0M322.7 216.8h0M324.6 209.7h0M326.6 205.2h0M328.5 200.2h0M330.5 193.4h0M332.5 191.5h0M334.4 184.8h0M336.4 180.2h0M338.4 176.1h0M340.3 168.9h0M342.3 168.4h0M344.3 166.4h0M346.2 162.3h0M348.2 159.3h0M350.2 156.5h0M352.1 153.9h0M354.1 151.5h0M356.1 149.2h0M358.0 147.0h0M360.0 145.0h0M362.0 143.1h0M363.9 141.3h0M365.9 139.6h0M367.8 138.0h0M369.8 136.5h0M371.8 135.0h0M373.7 133.7h0M375.7 132.4h0M377.7 131.2h0M379.6 130.0h0M381.6 128.9h0M383.6 127.8h0M385.5 126.8h0M387.5 125.9h0M389.5 124.9h0M391.4 124.0h0M393.4 123.2h0M395.4 122.3h0M397.3 121.5h0M399.3 120.7h0M401.2 120.0h0M403.2 119.3h0M405.2 118.5h0M407.1 117.9h0M409.1 117.2h0M411.1 116.5h0M413.0 115.9h0M415.0 115.2h0M417.0 114.6h0M418.9 114.0h0M420.9 113.4h0M422.9 112.8h0M424.8 112.2h0M426.8 111.6h0M428.8 111.1h0M430.7 110.5h0M432.7 109.9h0M434.7 109.4h0M436.6 108.8h0M438.6 108.3h0M440.6 107.7h0M442.5 107.2h0M444.5 106.7h0M446.4 106.1h0M448.4 105.6h0M450.4 105.1h0M452.3 104.6h0M454.3 104.1h0M456.3 103.5h0M458.2 103.0h0M460.2 102.5h0"/><path stroke="#774a4a" d="M106.5 109.3h0M108.5 109.8h0M110.4 110.4h0M112.4 110.9h0M114.4 111.5h0M116.3 112.0h0M118.3 112.6h0M120.3 113.1h0M122.2 113.7h0M124.2 114.3h0M126.2 114.8h0M128.1 115.4h0M130.1 116.0h0M132.0 116.5h0M134.0 117.1h0M136.0 117.7h0M137.9 118.3h0M139.9 118.9h0M141.9 119.5h0M143.8 120.1h0M145.8 120.7h0M147.8 121.3h0M149.7 122.0h0M151.7 122.6h0M153.7 123.3h0M155.6 123.9h0M157.6 124.6h0M159.6 125.3h0M161.5 126.0h0M163.5 126.8h0M165.5 127.5h0M167.4 128.3h0M169.4 129.1h0M171.3 129.9h0M173.3 130.8h0M175.3 131.6h0M177.2 132.6h0M179.2 133.5h0M181.2 134.5h0M183.1 135.5h0M185.1 136.6h0M187.1 137.8h0M189.0 139.0h0M191.0 140.2h0M193.0 141.5h0M194.9 142.9h0M196.9 144.4h0M198.9 145.9h0M200.8 147.6h0M202.8 149.3h0M204.8 151.1h0M206.7 153.1h0M208.7 155.2h0M210.6 157.4h0M212.6 159.8h0M214.6 162.3h0M216.5 167.9h0M218.5 168.9h0M220.5 170.0h0M222.4 174.2h0M224.4 178.7h0M226.4 181.4h0M228.3 184.2h0M230.3 188.8h0M232.3 193.5h0M234.2 198.4h0M236.2 202.8h0M238.2 209.2h0M240.1 214.5h0M242.1 219.5h0M244.1 227.3h0M246.0 234.4h0M248.0 239.2h0M249.9 247.3h0M251.9 256.0h0M253.9 262.7h0M255.8 270.8h0M257.8 278.1h0M259.8 286.6h0M261.7 291.0h0M263.7 289.9h0M265.7 291.2h0M267.6 290.2h0M269.6 291.8h0M271.6 290.5h0M273.5 290.1h0M275.5 291.4h0M277.5 290.7h0M279.4 291.4h0M281.4 290.7h0M283.4 291.8h0M285.3 290.8h0M287.3 291.0h0M289.2 289.8h0M291.2 290.8h0M293.2 291.0h0M295.1 290.8h0M297.1 290.8h0M299.1 290.3h0M301.0 291.8h0M303.0 292.4h0M305.0 291.0h0M306.9 286.7h0M308.9 278.4h0M310.9 269.9h0M312.8 262.5h0M314.8 254.3h0M316.8 246.8h0M318.7 237.4h0M320.7 232.1h0M322.7 224.2h0M324.6 217.6h0M326.6 212.9h0M328.5 207.0h0M330.5 199.7h0M332.5 195.5h0M334.4 190.6h0M336.4 187.8h0M338.4 179.8h0M340.3 178.6h0M342.3 176.1h0M344.3 171.4h0M346.2 168.2h0M348.2 164.8h0M350.2 161.3h0M352.1 158.5h0M354.1 156.0h0M356.1 153.6h0M358.0 151.3h0M360.0 149.2h0M362.0 147.2h0M363.9 145.3h0M365.9 143.5h0M367.8 141.9h0M369.8 140.3h0M371.8 138.8h0M373.7 137.4h0M375.7 136.1h0M377.7 134.8h0M379.6 133.6h0M381.6 132.4h0M383.6 131.3h0M385.5 130.3h0M387.5 129.3h0M389.5 128.3h0M391.4 127.4h0M393.4 126.5h0M395.4 125.6h0M397.3 124.8h0M399.3 124.0h0M401.2 123.2h0M403.2 122.5h0M405.2 121.7h0M407.1 121.0h0M409.1 120.3h0M411.1 119.6h0M413.0 119.0h0M415.0 118.3h0M417.0 117.6h0M418.9 117.0h0M420.9 116.4h0M422.9 115.8h0M424.8 115.2h0M426.8 114.6h0M428.8 114.0h0M430.7 113.4h0M432.7 112.8h0M434.7 112.2h0M436.6 111.6h0M438.6 111.1h0M440.6 110.5h0M442.5 109.9h0M444.5 109.4h0M446.4 108.8h0M448.4 108.3h0M450.4 107.7h0M452.3 107.2h0M454.3 106.6h0M456.3 106.1h0M458.2 105.5h0M460.2 105.0h0"/><path stroke="#8e8c12" d="M106.5 111.4h0M108.5 112.0h0M110.4 112.6h0M112.4 113.1h0M114.4 113.7h0M116.3 114.3h0M118.3 114.9h0M120.3 115.5h0M122.2 116.1h0M124.2 116.6h0M126.2 117.2h0M128.1 117.8h0M130.1 118.4h0M132.0 119.0h0M134.0 119.7h0M136.0 120.3h0M137.9 120.9h0M139.9 121.5h0M141.9 122.1h0M143.8 122.8h0M145.8 123.4h0M147.8 124.1h0M149.7 124.7h0M151.7 125.4h0M153.7 126.1h0M155.6 126.8h0M157.6 127.5h0M159.6 128.2h0M161.5 129.0h0M163.5 129.8h0M165.5 130.5h0M167.4 131.3h0M169.4 132.2h0M171.3 133.0h0M173.3 133.9h0M175.3 134.8h0M177.2 135.8h0M179.2 136.8h0M181.2 137.8h0M183.1 138.9h0M185.1 140.1h0M187.1 141.2h0M189.0 142.5h0M191.0 143.8h0M193.0 145.2h0M194.9 146.6h0M196.9 148.2h0M198.9 149.8h0M200.8 151.5h0M202.8 153.4h0M204.8 155.3h0M206.7 157.4h0M208.7 159.6h0M210.6 161.9h0M212.6 164.8h0M214.6 168.2h0M216.5 169.8h0M218.5 174.0h0M220.5 176.7h0M222.4 178.5h0M224.4 182.2h0M226.4 188.4h0M228.3 192.1h0M230.3 193.9h0M232.3 200.3h0M234.2 205.6h0M236.2 210.8h0M238.2 216.4h0M240.1 222.2h0M242.1 228.1h0M244.1 232.4h0M246.0 242.7h0M248.0 248.2h0M249.9 253.6h0M251.9 263.1h0M253.9 270.8h0M255.8 279.4h0M257.8 285.9h0M259.8 290.6h0M261.7 290.2h0M263.7 290.6h0M265.7 290.8h0M267.6 291.1h0M269.6 290.9h0M271.6 290.9h0M273.5 290.5h0M275.5 290.8h0M277.5 290.2h0M279.4 290.7h0M281.4 290.3h0M283.4 290.5h0M285.3 289.7h0M287.3 289.8h0M289.2 291.6h0M291.2 291.5h0M293.2 291.8h0M295.1 291.1h0M297.1 291.1h0M299.1 291.5h0M301.0 290.7h0M303.0 289.3h0M305.0 290.2h0M306.9 290.4h0M308.9 285.2h0M310.9 276.8h0M312.8 269.3h0M314.8 261.6h0M316.8 254.0h0M318.7 247.7h0M320.7 240.0h0M322.7 232.3h0M324.6 225.6h0M326.6 221.3h0M328.5 212.4h0M330.5 206.8h0M332.5 202.4h0M334.4 198.3h0M336.4 194.1h0M338.4 187.6h0M340.3 181.8h0M342.3 178.9h0M344.3 176.5h0M346.2 172.1h0M348.2 167.7h0M350.2 166.0h0M352.1 163.3h0M354.1 160.8h0M356.1 158.2h0M358.0 155.8h0M360.0 153.6h0M362.0 151.5h0M363.9 149.5h0M365.9 147.6h0M367.8 145.9h0M369.8 144.2h0M371.8 142.7h0M373.7 141.2h0M375.7 139.8h0M377.7 138.5h0M379.6 137.2h0M381.6 136.0h0M383.6 134.9h0M385.5 133.8h0M387.5 132.7h0M389.5 131.7h0M391.4 130.8h0M393.4 129.9h0M395.4 129.0h0M397.3 128.1h0M399.3 127.3h0M401.2 126.5h0M403.2 125.7h0M405.2 125.0h0M407.1 124.2h0M409.1 123.5h0M411.1 122.8h0M413.0 122.1h0M415.0 121.4h0M417.0 120.7h0M418.9 120.1h0M420.9 119.4h0M422.9 118.8h0M424.8 118.2h0M426.8 117.6h0M428.8 116.9h0M430.7 116.3h0M432.7 115.7h0M434.7 115.1h0M436.6 114.5h0M438.6 113.9h0M440.6 113.3h0M442.5 112.8h0M444.5 112.2h0M446.4 111.6h0M448.4 111.0h0M450.4 110.4h0M452.3 109.9h0M454.3 109.3h0M456.3 108.7h0M458.2 108.2h0M460.2 107.6h0"/><path stroke="#ff6616" d="M106.5 113.7h0M108.5 114.3h0M110.4 114.9h0M112.4 115.5h0M114.4 116.2h0M116.3 116.8h0M118.3 117.4h0M120.3 118.0h0M122.2 118.7h0M124.2 119.3h0M126.2 119.9h0M128.1 120.5h0M130.1 121.2h0M132.0 121.8h0M134.0 122.5h0M136.0 123.1h0M137.9 123.8h0M139.9 124.4h0M141.9 125.1h0M143.8 125.8h0M145.8 126.5h0M147.8 127.1h0M149.7 127.8h0M151.7 128.6h0M153.7 129.3h0M155.6 130.0h0M157.6 130.8h0M159.6 131.5h0M161.5 132.3h0M163.5 133.1h0M165.5 133.9h0M167.4 134.8h0M169.4 135.6h0M171.3 136.5h0M173.3 137.5h0M175.3 138.4h0M177.2 139.4h0M179.2 140.5h0M181.2 141.6h0M183.1 142.7h0M185.1 143.9h0M187.1 145.2h0M189.0 146.5h0M191.0 147.9h0M193.0 149.3h0M194.9 150.9h0M196.9 152.5h0M198.9 154.3h0M200.8 156.1h0M202.8 158.0h0M204.8 160.1h0M206.7 162.3h0M208.7 163.6h0M210.6 166.8h0M212.6 170.7h0M214.6 172.3h0M216.5 175.5h0M218.5 178.3h0M220.5 182.7h0M222.4 187.9h0M224.4 190.1h0M226.4 193.4h0M228.3 196.8h0M230.3 202.0h0M232.3 208.4h0M234.2 212.9h0M236.2 217.4h0M238.2 222.8h0M240.1 229.8h0M242.1 237.5h0M244.1 245.0h0M246.0 250.4h0M248.0 256.6h0M249.9 262.5h0M251.9 270.2h0M253.9 277.7h0M255.8 283.3h0M257.8 289.0h0M259.8 290.9h0M261.7 290.7h0M263.7 290.4h0M265.7 290.9h0M267.6 291.0h0M269.6 291.2h0M271.6 290.3h0M273.5 290.8h0M275.5 290.8h0M277.5 290.6h0M279.4 291.7h0M281.4 290.1h0M283.4 290.0h0M285.3 290.8h0M287.3 291.1h0M289.2 291.2h0M291.2 290.3h0M293.2 290.8h0M295.1 290.2h0M297.1 289.7h0M299.1 291.1h0M301.0 290.3h0M303.0 291.1h0M305.0 289.3h0M306.9 290.2h0M308.9 289.1h0M310.9 284.6h0M312.8 276.5h0M314.8 269.5h0M316.8 263.4h0M318.7 256.9h0M320.7 249.3h0M322.7 242.8h0M324.6 233.4h0M326.6 226.4h0M328.5 222.6h0M330.5 215.5h0M332.5 209.1h0M334.4 205.5h0M336.4 200.7h0M338.4 195.4h0M340.3 190.5h0M342.3 187.6h0M344.3 182.0h0M346.2 177.6h0M348.2 177.0h0M350.2 170.8h0M352.1 170.6h0M354.1 167.6h0M356.1 164.3h0M358.0 161.0h0M360.0 158.6h0M362.0 156.3h0M363.9 154.2h0M365.9 152.3h0M367.8 150.4h0M369.8 148.7h0M371.8 147.0h0M373.7 145.4h0M375.7 144.0h0M377.7 142.6h0M379.6 141.3h0M381.6 140.0h0M383.6 138.8h0M385.5 137.7h0M387.5 136.6h0M389.5 135.5h0M391.4 134.5h0M393.4 133.6h0M395.4 132.7h0M397.3 131.8h0M399.3 130.9h0M401.2 130.1h0M403.2 129.3h0M405.2 128.5h0M407.1 127.7h0M409.1 127.0h0M411.1 126.2h0M413.0 125.5h0M415.0 124.8h0M417.0 124.1h0M418.9 123.4h0M420.9 122.7h0M422.9 122.1h0M424.8 121.4h0M426.8 120.8h0M428.8 120.1h0M430.7 119.5h0M432.7 118.8h0M434.7 118.2h0M436.6 117.6h0M438.6 117.0h0M440.6 116.4h0M442.5 115.7h0M444.5 115.1h0M446.4 114.5h0M448.4 113.9h0M450.4 113.3h0M452.3 112.7h0M454.3 112.1h0M456.3 111.5h0M458.2 110.9h0M460.2 110.3h0"/><path stroke="#6a9fd8" d="M106.5 116.3h0M108.5 117.0h0M110.4 117.6h0M112.4 118.3h0M114.4 118.9h0M116.3 119.6h0M118.3 120.3h0M120.3 120.9h0M122.2 121.6h0M124.2 122.3h0M126.2 122.9h0M128.1 123.6h0M130.1 124.3h0M132.0 125.0h0M134.0 125.6h0M136.0 126.3h0M137.9 127.0h0M139.9 127.7h0M141.9 128.4h0M143.8 129.1h0M145.8 129.9h0M147.8 130.6h0M149.7 131.3h0M151.7 132.1h0M153.7 132.8h0M155.6 133.6h0M157.6 134.4h0M159.6 135.2h0M161.5 136.0h0M163.5 136.9h0M165.5 137.7h0M167.4 138.6h0M169.4 139.6h0M171.3 140.5h0M173.3 141.5h0M175.3 142.5h0M177.2 143.6h0M179.2 144.7h0M181.2 145.8h0M183.1 147.0h0M185.1 148.3h0M187.1 149.6h0M189.0 151.0h0M191.0 152.5h0M193.0 154.1h0M194.9 155.7h0M196.9 157.5h0M198.9 159.3h0M200.8 161.3h0M202.8 163.4h0M204.8 164.7h0M206.7 166.9h0M208.7 169.7h0M210.6 172.9h0M212.6 175.7h0M214.6 179.0h0M216.5 182.4h0M218.5 186.7h0M220.5 189.8h0M222.4 193.9h0M224.4 197.9h0M226.4 202.0h0M228.3 205.8h0M230.3 212.0h0M232.3 218.3h0M234.2 221.7h0M236.2 226.8h0M238.2 233.4h0M240.1 240.4h0M242.1 244.8h0M244.1 253.3h0M246.0 258.7h0M248.0 264.8h0M249.9 272.4h0M251.9 280.4h0M253.9 284.8h0M255.8 288.7h0M257.8 291.0h0M259.8 290.5h0M261.7 291.1h0M263.7 290.0h0M265.7 291.2h0M267.6 290.9h0M269.6 291.2h0M271.6 290.7h0M273.5 290.8h0M275.5 290.7h0M277.5 290.0h0M279.4 291.4h0M281.4 290.8h0M283.4 290.4h0M285.3 291.2h0M287.3 290.2h0M289.2 291.5h0M291.2 290.8h0M293.2 290.6h0M295.1 290.9h0M297.1 290.9h0M299.1 290.6h0M301.0 290.6h0M303.0 290.2h0M305.0 291.5h0M306.9 290.5h0M308.9 291.5h0M310.9 288.2h0M312.8 283.2h0M314.8 277.6h0M316.8 271.3h0M318.7 264.4h0M320.7 257.1h0M322.7 253.1h0M324.6 244.2h0M326.6 238.7h0M328.5 233.4h0M330.5 228.2h0M332.5 220.0h0M334.4 214.7h0M336.4 209.0h0M338.4 203.7h0M340.3 198.1h0M342.3 195.1h0M344.3 190.3h0M346.2 186.1h0M348.2 182.5h0M350.2 178.5h0M352.1 176.0h0M354.1 171.5h0M356.1 170.2h0M358.0 166.6h0M360.0 165.0h0M362.0 161.9h0M363.9 159.6h0M365.9 157.5h0M367.8 155.5h0M369.8 153.6h0M371.8 151.9h0M373.7 150.2h0M375.7 148.6h0M377.7 147.1h0M379.6 145.7h0M381.6 144.4h0M383.6 143.1h0M385.5 141.9h0M387.5 140.8h0M389.5 139.7h0M391.4 138.6h0M393.4 137.6h0M395.4 136.7h0M397.3 135.7h0M399.3 134.8h0M401.2 133.9h0M403.2 133.1h0M405.2 132.3h0M407.1 131.4h0M409.1 130.7h0M411.1 129.9h0M413.0 129.1h0M415.0 128.4h0M417.0 127.6h0M418.9 126.9h0M420.9 126.2h0M422.9 125.5h0M424.8 124.8h0M426.8 124.1h0M428.8 123.4h0M430.7 122.8h0M432.7 122.1h0M434.7 121.4h0M436.6 120.8h0M438.6 120.1h0M440.6 119.5h0M442.5 118.8h0M444.5 118.1h0M446.4 117.5h0M448.4 116.9h0M450.4 116.2h0M452.3 115.6h0M454.3 114.9h0M456.3 114.3h0M458.2 113.6h0M460.2 113.0h0"/><path stroke="#74bf12" d="M106.5 118.8h0M108.5 119.5h0M110.4 120.2h0M112.4 120.9h0M114.4 121.6h0M116.3 122.3h0M118.3 123.0h0M120.3 123.8h0M122.2 124.5h0M124.2 125.2h0M126.2 125.9h0M128.1 126.6h0M130.1 127.3h0M132.0 128.1h0M134.0 128.8h0M136.0 129.5h0M137.9 130.3h0M139.9 131.0h0M141.9 131.8h0M143.8 132.5h0M145.8 133.3h0M147.8 134.1h0M149.7 134.9h0M151.7 135.6h0M153.7 136.5h0M155.6 137.3h0M157.6 138.1h0M159.6 139.0h0M161.5 139.8h0M163.5 140.7h0M165.5 141.6h0M167.4 142.6h0M169.4 143.6h0M171.3 144.6h0M173.3 145.6h0M175.3 146.7h0M177.2 147.8h0M179.2 149.0h0M181.2 150.2h0M183.1 151.5h0M185.1 152.9h0M187.1 154.3h0M189.0 155.8h0M191.0 157.4h0M193.0 159.0h0M194.9 160.8h0M196.9 162.7h0M198.9 164.5h0M200.8 169.2h0M202.8 168.4h0M204.8 173.1h0M206.7 173.9h0M208.7 175.2h0M210.6 178.9h0M212.6 183.1h0M214.6 186.4h0M216.5 190.9h0M218.5 193.9h0M220.5 197.7h0M222.4 201.6h0M224.4 204.2h0M226.4 210.6h0M228.3 214.1h0M230.3 218.3h0M232.3 227.3h0M234.2 229.1h0M236.2 236.8h0M238.2 241.8h0M240.1 248.8h0M242.1 254.7h0M244.1 261.9h0M246.0 267.7h0M248.0 274.4h0M249.9 278.9h0M251.9 284.1h0M253.9 288.4h0M255.8 290.9h0M257.8 291.0h0M259.8 290.2h0M261.7 291.9h0M263.7 290.5h0M265.7 291.4h0M267.6 290.0h0M269.6 290.0h0M271.6 290.2h0M273.5 291.4h0M275.5 291.7h0M277.5 290.4h0M279.4 290.6h0M281.4 291.3h0M283.4 290.8h0M285.3 289.6h0M287.3 289.5h0M289.2 291.2h0M291.2 291.3h0M293.2 289.8h0M295.1 289.9h0M297.1 290.9h0M299.1 290.0h0M301.0 291.2h0M303.0 292.0h0M305.0 290.7h0M306.9 289.9h0M308.9 291.0h0M310.9 291.0h0M312.8 288.5h0M314.8 283.8h0M316.8 275.8h0M318.7 273.3h0M320.7 265.9h0M322.7 259.0h0M324.6 253.8h0M326.6 245.8h0M328.5 241.7h0M330.5 234.1h0M332.5 228.1h0M334.4 222.6h0M336.4 216.3h0M338.4 212.0h0M340.3 208.3h0M342.3 203.8h0M344.3 199.4h0M346.2 193.3h0M348.2 189.6h0M350.2 185.9h0M352.1 183.4h0M354.1 178.8h0M356.1 177.3h0M358.0 173.6h0M360.0 171.4h0M362.0 168.8h0M363.9 166.4h0M365.9 163.0h0M367.8 161.1h0M369.8 159.0h0M371.8 157.2h0M373.7 155.4h0M375.7 153.7h0M377.7 152.1h0M379.6 150.6h0M381.6 149.2h0M383.6 147.9h0M385.5 146.6h0M387.5 145.4h0M389.5 144.2h0M391.4 143.1h0M393.4 142.1h0M395.4 141.0h0M397.3 140.0h0M399.3 139.1h0M401.2 138.2h0M403.2 137.3h0M405.2 136.4h0M407.1 135.6h0M409.1 134.7h0M411.1 133.9h0M413.0 133.1h0M415.0 132.4h0M417.0 131.6h0M418.9 130.8h0M420.9 130.1h0M422.9 129.4h0M424.8 128.6h0M426.8 127.9h0M428.8 127.2h0M430.7 126.5h0M432.7 125.8h0M434.7 125.1h0M436.6 124.4h0M438.6 123.7h0M440.6 123.0h0M442.5 122.3h0M444.5 121.6h0M446.4 120.9h0M448.4 120.3h0M450.4 119.6h0M452.3 118.9h0M454.3 118.2h0M456.3 117.6h0M458.2 116.9h0M460.2 116.2h0"/><path stroke="#4a4a4a" d="M106.5 121.4h0M108.5 122.2h0M110.4 122.9h0M112.4 123.7h0M114.4 124.4h0M116.3 125.2h0M118.3 126.0h0M120.3 126.7h0M122.2 127.5h0M124.2 128.3h0M126.2 129.0h0M128.1 129.8h0M130.1 130.6h0M132.0 131.3h0M134.0 132.1h0M136.0 132.9h0M137.9 133.7h0M139.9 134.5h0M141.9 135.3h0M143.8 136.1h0M145.8 136.9h0M147.8 137.7h0M149.7 138.6h0M151.7 139.4h0M153.7 140.3h0M155.6 141.1h0M157.6 142.0h0M159.6 142.9h0M161.5 143.9h0M163.5 144.8h0M165.5 145.8h0M167.4 146.8h0M169.4 147.8h0M171.3 148.9h0M173.3 150.0h0M175.3 151.2h0M177.2 152.4h0M179.2 153.6h0M181.2 154.9h0M183.1 156.3h0M185.1 157.8h0M187.1 159.3h0M189.0 160.9h0M191.0 162.6h0M193.0 164.1h0M194.9 164.7h0M196.9 168.7h0M198.9 169.1h0M200.8 171.2h0M202.8 176.2h0M204.8 176.9h0M206.7 179.9h0M208.7 183.0h0M210.6 186.5h0M212.6 191.4h0M214.6 193.6h0M216.5 196.9h0M218.5 200.3h0M220.5 206.2h0M222.4 211.7h0M224.4 212.7h0M226.4 219.1h0M228.3 227.5h0M230.3 230.3h0M232.3 234.8h0M234.2 238.1h0M236.2 247.7h0M238.2 253.1h0M240.1 257.7h0M242.1 264.4h0M244.1 270.1h0M246.0 275.8h0M248.0 279.3h0M249.9 284.7h0M251.9 289.1h0M253.9 289.9h0M255.8 292.4h0M257.8 291.3h0M259.8 290.5h0M261.7 291.2h0M263.7 289.9h0M265.7 290.8h0M267.6 290.2h0M269.6 291.7h0M271.6 290.9h0M273.5 290.7h0M275.5 291.3h0M277.5 291.1h0M279.4 290.5h0M281.4 290.8h0M283.4 291.0h0M285.3 290.4h0M287.3 289.6h0M289.2 290.5h0M291.2 291.7h0M293.2 290.6h0M295.1 291.2h0M297.1 291.0h0M299.1 290.9h0M301.0 290.2h0M303.0 290.1h0M305.0 291.8h0M306.9 290.8h0M308.9 291.0h0M310.9 289.7h0M312.8 290.6h0M314.8 288.7h0M316.8 285.6h0M318.7 279.8h0M320.7 274.7h0M322.7 268.1h0M324.6 263.5h0M326.6 257.1h0M328.5 252.2h0M330.5 244.1h0M332.5 238.4h0M334.4 233.7h0M336.4 227.1h0M338.4 222.2h0M340.3 216.5h0M342.3 211.3h0M344.3 205.7h0M346.2 202.9h0M348.2 197.4h0M350.2 194.4h0M352.1 189.9h0M354.1 187.6h0M356.1 182.8h0M358.0 179.9h0M360.0 178.1h0M362.0 176.7h0M363.9 171.1h0M365.9 169.3h0M367.8 166.3h0M369.8 164.0h0M371.8 162.8h0M373.7 160.8h0M375.7 159.0h0M377.7 157.3h0M379.6 155.7h0M381.6 154.2h0M383.6 152.7h0M385.5 151.4h0M387.5 150.1h0M389.5 148.8h0M391.4 147.6h0M393.4 146.5h0M395.4 145.4h0M397.3 144.4h0M399.3 143.4h0M401.2 142.4h0M403.2 141.4h0M405.2 140.5h0M407.1 139.6h0M409.1 138.7h0M411.1 137.9h0M413.0 137.0h0M415.0 136.2h0M417.0 135.4h0M418.9 134.6h0M420.9 133.8h0M422.9 133.0h0M424.8 132.2h0M426.8 131.5h0M428.8 130.7h0M430.7 129.9h0M432.7 129.2h0M434.7 128.4h0M436.6 127.7h0M438.6 126.9h0M440.6 126.2h0M442.5 125.5h0M444.5 124.7h0M446.4 124.0h0M448.4 123.3h0M450.4 122.5h0M452.3 121.8h0M454.3 121.1h0M456.3 120.4h0M458.2 119.6h0M460.2 118.9h0"/><path stroke="#ec3d3d" d="M106.5 123.3h0M108.5 124.1h0M110.4 124.9h0M112.4 125.8h0M114.4 126.6h0M116.3 127.4h0M118.3 128.2h0M120.3 129.0h0M122.2 129.9h0M124.2 130.7h0M126.2 131.5h0M128.1 132.3h0M130.1 133.2h0M132.0 134.0h0M134.0 134.9h0M136.0 135.7h0M137.9 136.5h0M139.9 137.4h0M141.9 138.3h0M143.8 139.1h0M145.8 140.0h0M147.8 140.9h0M149.7 141.8h0M151.7 142.7h0M153.7 143.6h0M155.6 144.5h0M157.6 145.5h0M159.6 146.5h0M161.5 147.4h0M163.5 148.5h0M165.5 149.5h0M167.4 150.6h0M169.4 151.7h0M171.3 152.9h0M173.3 154.1h0M175.3 155.3h0M177.2 156.6h0M179.2 158.0h0M181.2 159.4h0M183.1 160.9h0M185.1 162.5h0M187.1 165.1h0M189.0 163.4h0M191.0 168.9h0M193.0 169.5h0M194.9 172.6h0M196.9 174.1h0M198.9 175.4h0M200.8 178.9h0M202.8 182.7h0M204.8 184.5h0M206.7 188.7h0M208.7 190.9h0M210.6 193.1h0M212.6 198.4h0M214.6 202.3h0M216.5 206.9h0M218.5 210.4h0M220.5 214.2h0M222.4 218.9h0M224.4 224.0h0M226.4 228.2h0M228.3 233.6h0M230.3 239.4h0M232.3 245.3h0M234.2 252.1h0M236.2 257.1h0M238.2 260.5h0M240.1 267.4h0M242.1 274.6h0M244.1 278.4h0M246.0 284.4h0M248.0 286.6h0M249.9 289.2h0M251.9 290.5h0M253.9 291.5h0M255.8 290.8h0M257.8 289.6h0M259.8 290.5h0M261.7 291.0h0M263.7 290.5h0M265.7 291.0h0M267.6 290.5h0M269.6 290.5h0M271.6 290.2h0M273.5 290.6h0M275.5 290.9h0M277.5 290.0h0M279.4 291.1h0M281.4 291.4h0M283.4 290.6h0M285.3 290.3h0M287.3 291.2h0M289.2 290.1h0M291.2 290.6h0M293.2 290.0h0M295.1 290.1h0M297.1 291.7h0M299.1 290.5h0M301.0 291.1h0M303.0 291.1h0M305.0 290.3h0M306.9 290.2h0M308.9 290.3h0M310.9 289.8h0M312.8 291.1h0M314.8 291.5h0M316.8 288.3h0M318.7 285.3h0M320.7 281.8h0M322.7 278.0h0M324.6 271.8h0M326.6 266.7h0M328.5 262.3h0M330.5 255.6h0M332.5 249.2h0M334.4 243.3h0M336.4 237.8h0M338.4 234.5h0M340.3 227.5h0M342.3 222.6h0M344.3 216.6h0M346.2 211.8h0M348.2 207.2h0M350.2 203.4h0M352.1 198.0h0M354.1 194.1h0M356.1 190.0h0M358.0 187.2h0M360.0 185.0h0M362.0 180.7h0M363.9 177.2h0M365.9 175.7h0M367.8 172.5h0M369.8 172.0h0M371.8 168.2h0M373.7 168.1h0M375.7 164.6h0M377.7 162.2h0M379.6 160.4h0M381.6 158.8h0M383.6 157.2h0M385.5 155.7h0M387.5 154.3h0M389.5 152.9h0M391.4 151.6h0M393.4 150.4h0M395.4 149.2h0M397.3 148.1h0M399.3 147.0h0M401.2 145.9h0M403.2 144.9h0M405.2 143.9h0M407.1 142.9h0M409.1 142.0h0M411.1 141.0h0M413.0 140.1h0M415.0 139.2h0M417.0 138.3h0M418.9 137.5h0M420.9 136.6h0M422.9 135.8h0M424.8 134.9h0M426.8 134.1h0M428.8 133.3h0M430.7 132.4h0M432.7 131.6h0M434.7 130.8h0M436.6 130.0h0M438.6 129.2h0M440.6 128.4h0M442.5 127.6h0M444.5 126.8h0M446.4 126.0h0M448.4 125.2h0M450.4 124.4h0M452.3 123.6h0M454.3 122.8h0M456.3 122.0h0M458.2 121.2h0M460.2 120.4h0"/><path stroke="#b072e0" d="M106.5 124.5h0M108.5 125.4h0M110.4 126.3h0M112.4 127.2h0M114.4 128.1h0M116.3 128.9h0M118.3 129.8h0M120.3 130.7h0M122.2 131.6h0M124.2 132.5h0M126.2 133.4h0M128.1 134.3h0M130.1 135.2h0M132.0 136.1h0M134.0 137.0h0M136.0 137.9h0M137.9 138.8h0M139.9 139.8h0M141.9 140.7h0M143.8 141.6h0M145.8 142.6h0M147.8 143.5h0M149.7 144.5h0M151.7 145.5h0M153.7 146.5h0M155.6 147.5h0M157.6 148.5h0M159.6 149.5h0M161.5 150.6h0M163.5 151.7h0M165.5 152.8h0M167.4 154.0h0M169.4 155.2h0M171.3 156.5h0M173.3 157.8h0M175.3 159.1h0M177.2 160.6h0M179.2 162.1h0M181.2 162.4h0M183.1 164.8h0M185.1 168.0h0M187.1 168.9h0M189.0 169.9h0M191.0 172.1h0M193.0 175.7h0M194.9 179.5h0M196.9 180.9h0M198.9 182.5h0M200.8 184.7h0M202.8 190.0h0M204.8 189.6h0M206.7 194.5h0M208.7 199.5h0M210.6 203.4h0M212.6 206.2h0M214.6 210.9h0M216.5 215.2h0M218.5 219.2h0M220.5 224.9h0M222.4 229.6h0M224.4 234.0h0M226.4 240.4h0M228.3 244.2h0M230.3 249.7h0M232.3 253.7h0M234.2 260.9h0M236.2 266.1h0M238.2 269.9h0M240.1 275.3h0M242.1 280.5h0M244.1 283.6h0M246.0 286.8h0M248.0 290.0h0M249.9 290.8h0M251.9 289.8h0M253.9 291.3h0M255.8 291.0h0M257.8 290.9h0M259.8 290.6h0M261.7 290.0h0M263.7 289.6h0M265.7 291.2h0M267.6 290.4h0M269.6 290.9h0M271.6 289.3h0M273.5 291.0h0M275.5 290.1h0M277.5 291.7h0M279.4 291.4h0M281.4 290.8h0M283.4 290.9h0M285.3 291.0h0M287.3 291.2h0M289.2 291.3h0M291.2 290.5h0M293.2 291.2h0M295.1 290.8h0M297.1 290.9h0M299.1 290.5h0M301.0 290.9h0M303.0 290.8h0M305.0 290.5h0M306.9 290.6h0M308.9 290.8h0M310.9 290.8h0M312.8 290.6h0M314.8 290.6h0M316.8 290.1h0M318.7 289.5h0M320.7 287.3h0M322.7 283.3h0M324.6 278.8h0M326.6 275.1h0M328.5 270.2h0M330.5 262.6h0M332.5 260.2h0M334.4 253.2h0M336.4 248.7h0M338.4 241.7h0M340.3 236.5h0M342.3 231.0h0M344.3 227.3h0M346.2 220.9h0M348.2 215.3h0M350.2 212.4h0M352.1 208.5h0M354.1 202.9h0M356.1 199.3h0M358.0 194.8h0M360.0 191.2h0M362.0 189.1h0M363.9 184.3h0M365.9 180.4h0M367.8 179.8h0M369.8 176.8h0M371.8 173.6h0M373.7 172.2h0M375.7 170.8h0M377.7 167.1h0M379.6 164.5h0M381.6 165.1h0M383.6 161.7h0M385.5 160.1h0M387.5 158.5h0M389.5 157.0h0M391.4 155.6h0M393.4 154.3h0M395.4 153.0h0M397.3 151.8h0M399.3 150.6h0M401.2 149.4h0M403.2 148.3h0M405.2 147.2h0M407.1 146.2h0M409.1 145.2h0M411.1 144.2h0M413.0 143.2h0M415.0 142.2h0M417.0 141.3h0M418.9 140.4h0M420.9 139.4h0M422.9 138.5h0M424.8 137.6h0M426.8 136.7h0M428.8 135.8h0M430.7 135.0h0M432.7 134.1h0M434.7 133.2h0M436.6 132.3h0M438.6 131.5h0M440.6 130.6h0M442.5 129.7h0M444.5 128.9h0M446.4 128.0h0M448.4 127.1h0M450.4 126.3h0M452.3 125.4h0M454.3 124.6h0M456.3 123.7h0M458.2 122.9h0M460.2 122.0h0"/><path stroke="#000000" d="M106.5 126.4h0M108.5 127.4h0M110.4 128.3h0M112.4 129.3h0M114.4 130.2h0M116.3 131.2h0M118.3 132.2h0M120.3 133.1h0M122.2 134.1h0M124.2 135.0h0M126.2 136.0h0M128.1 137.0h0M130.1 138.0h0M132.0 138.9h0M134.0 139.9h0M136.0 140.9h0M137.9 141.9h0M139.9 142.9h0M141.9 143.9h0M143.8 144.9h0M145.8 145.9h0M147.8 146.9h0M149.7 147.9h0M151.7 149.0h0M153.7 150.1h0M155.6 151.2h0M157.6 152.3h0M159.6 153.4h0M161.5 154.5h0M163.5 155.7h0M165.5 157.0h0M167.4 158.2h0M169.4 159.6h0M171.3 160.9h0M173.3 162.3h0M175.3 164.4h0M177.2 164.4h0M179.2 166.3h0M181.2 167.5h0M183.1 170.1h0M185.1 173.6h0M187.1 173.4h0M189.0 177.6h0M191.0 178.7h0M193.0 179.9h0M194.9 183.1h0M196.9 186.8h0M198.9 188.3h0M200.8 192.3h0M202.8 195.2h0M204.8 200.0h0M206.7 204.2h0M208.7 207.5h0M210.6 210.6h0M212.6 215.1h0M214.6 220.9h0M216.5 224.7h0M218.5 228.9h0M220.5 235.3h0M222.4 239.8h0M224.4 244.2h0M226.4 249.6h0M228.3 255.1h0M230.3 261.1h0M232.3 265.1h0M234.2 271.5h0M236.2 274.8h0M238.2 277.7h0M240.1 283.2h0M242.1 284.3h0M244.1 287.9h0M246.0 290.0h0M248.0 291.5h0M249.9 290.3h0M251.9 290.7h0M253.9 290.0h0M255.8 291.3h0M257.8 291.1h0M259.8 290.5h0M261.7 291.1h0M263.7 289.5h0M265.7 291.6h0M267.6 290.6h0M269.6 290.5h0M271.6 290.5h0M273.5 290.5h0M275.5 290.3h0M277.5 291.5h0M279.4 291.2h0M281.4 290.1h0M283.4 290.8h0M285.3 291.0h0M287.3 291.4h0M289.2 290.6h0M291.2 291.6h0M293.2 291.7h0M295.1 290.3h0M297.1 289.7h0M299.1 291.4h0M301.0 290.9h0M303.0 290.4h0M305.0 290.3h0M306.9 290.4h0M308.9 290.9h0M310.9 290.8h0M312.8 290.6h0M314.8 290.9h0M316.8 291.1h0M318.7 289.6h0M320.7 289.1h0M322.7 288.0h0M324.6 284.7h0M326.6 282.8h0M328.5 278.0h0M330.5 273.9h0M332.5 268.4h0M334.4 264.5h0M336.4 258.7h0M338.4 252.1h0M340.3 249.9h0M342.3 241.2h0M344.3 237.7h0M346.2 232.5h0M348.2 226.4h0M350.2 220.0h0M352.1 218.8h0M354.1 212.3h0M356.1 207.6h0M358.0 203.4h0M360.0 202.0h0M362.0 195.9h0M363.9 193.8h0M365.9 189.9h0M367.8 186.2h0M369.8 184.6h0M371.8 180.4h0M373.7 180.5h0M375.7 176.2h0M377.7 172.3h0M379.6 170.7h0M381.6 168.0h0M383.6 167.8h0M385.5 165.7h0M387.5 164.0h0M389.5 161.9h0M391.4 160.3h0M393.4 158.9h0M395.4 157.5h0M397.3 156.1h0M399.3 154.8h0M401.2 153.6h0M403.2 152.4h0M405.2 151.2h0M407.1 150.1h0M409.1 149.0h0M411.1 147.9h0M413.0 146.8h0M415.0 145.8h0M417.0 144.8h0M418.9 143.8h0M420.9 142.8h0M422.9 141.8h0M424.8 140.8h0M426.8 139.8h0M428.8 138.9h0M430.7 137.9h0M432.7 137.0h0M434.7 136.0h0M436.6 135.1h0M438.6 134.1h0M440.6 133.2h0M442.5 132.3h0M444.5 131.3h0M446.4 130.4h0M448.4 129.5h0M450.4 128.5h0M452.3 127.6h0M454.3 126.7h0M456.3 125.8h0M458.2 124.8h0M460.2 123.9h0"/></g><polygon points="101.1,246.4 157.5,239.2 164.8,243.2 164.8,250.6 111.4,259.6 101.1,254.0" fill="#17a8e8"/><polygon points="101.1,246.4 157.5,239.2 164.8,243.2 111.4,251.4" fill="#22b4f0"/><polygon points="101.1,246.4 111.4,251.4 111.4,259.6 101.1,254.0" fill="#1477ad"/><path d="M158.6 241.6L121 247.0" stroke="#ff1a1a" stroke-width="1.3"/><polygon points="116.6,247.6 124.5,244.8 124.0,248.6" fill="#ff1a1a"/><path d="M157.6 194.25V241" stroke="#000" stroke-width="3.1" stroke-dasharray="3.1 4.2"/><path d="M157.8 239.6L123.5 217.4" stroke="#000" stroke-width="3.0"/><path d="M115.3 212.1L131.4 214.3Q126 215.6 124.3 217.9Q122.9 220.6 122.3 225.6Z" fill="#000"/><path d="M157.4 217.6C151 217.8 146.5 221 144.2 226.2" stroke="#000" stroke-width="2.0" fill="none"/><g clip-path="url(#cb)" stroke-linecap="round" stroke-width="4.2" fill="none"><path stroke="#4a4a4a" d="M580.6 64.3h0M582.6 64.8h0M584.6 65.3h0M586.5 65.8h0M588.5 66.4h0M590.5 66.9h0M592.4 67.4h0M594.4 68.0h0M596.4 68.5h0M598.3 69.1h0M600.3 69.7h0M602.2 70.2h0M604.2 70.8h0M606.2 71.4h0M608.1 72.0h0M610.1 72.6h0M612.1 73.2h0M614.0 73.8h0M616.0 74.4h0M618.0 75.1h0M619.9 75.7h0M621.9 76.4h0M623.8 77.0h0M625.8 77.7h0M627.8 78.4h0M629.7 79.1h0M631.7 79.8h0M633.7 80.5h0M635.6 81.2h0M637.6 81.9h0M639.6 82.7h0M641.5 83.5h0M643.5 84.2h0M645.5 85.0h0M647.4 85.8h0M649.4 86.6h0M651.3 87.5h0M653.3 88.3h0M655.3 89.2h0M657.2 90.1h0M659.2 90.9h0M661.2 91.9h0M663.1 92.8h0M665.1 93.7h0M667.1 94.7h0M669.0 95.7h0M671.0 96.7h0M672.9 97.8h0M674.9 98.8h0M676.9 99.9h0M678.8 101.0h0M680.8 102.2h0M682.8 103.3h0M684.7 104.5h0M686.7 105.8h0M688.7 107.0h0M690.6 108.3h0M692.6 109.7h0M694.6 111.1h0M696.5 112.5h0M698.5 113.9h0M700.4 115.5h0M702.4 117.0h0M704.4 118.7h0M706.3 120.4h0M708.3 122.1h0M710.3 123.9h0M712.2 125.8h0M714.2 127.8h0M716.2 129.9h0M718.1 132.0h0M720.1 134.3h0M722.0 136.7h0M724.0 139.2h0M726.0 141.9h0M727.9 144.8h0M729.9 147.8h0M731.9 151.1h0M733.8 154.7h0M735.8 158.6h0M737.8 162.9h0M739.7 167.7h0M741.7 173.3h0M743.7 179.9h0M745.6 187.8h0M747.6 197.7h0M749.5 210.3h0M751.5 226.7h0M753.5 247.8h0M755.4 273.2h0M757.4 291.7h0M759.4 266.2h0M761.3 236.5h0M763.3 213.5h0M765.3 196.6h0M767.2 184.0h0M769.2 174.5h0M771.1 167.0h0M773.1 161.0h0M775.1 156.0h0M777.0 151.6h0M779.0 147.8h0M781.0 144.4h0M782.9 141.3h0M784.9 138.4h0M786.9 135.8h0M788.8 133.3h0M790.8 131.0h0M792.8 128.8h0M794.7 126.7h0M796.7 124.8h0M798.6 122.9h0M800.6 121.1h0M802.6 119.4h0M804.5 117.8h0M806.5 116.2h0M808.5 114.7h0M810.4 113.3h0M812.4 111.9h0M814.4 110.6h0M816.3 109.3h0M818.3 108.0h0M820.2 106.8h0M822.2 105.6h0M824.2 104.5h0M826.1 103.4h0M828.1 102.3h0M830.1 101.2h0M832.0 100.2h0M834.0 99.2h0M836.0 98.2h0M837.9 97.3h0M839.9 96.3h0M841.9 95.4h0M843.8 94.6h0M845.8 93.7h0M847.7 92.9h0M849.7 92.0h0M851.7 91.2h0M853.6 90.4h0M855.6 89.6h0M857.6 88.9h0M859.5 88.1h0M861.5 87.4h0M863.5 86.7h0M865.4 86.0h0M867.4 85.3h0M869.3 84.6h0M871.3 83.9h0M873.3 83.3h0M875.2 82.6h0M877.2 82.0h0M879.2 81.4h0M881.1 80.7h0M883.1 80.1h0M885.1 79.5h0M887.0 79.0h0M889.0 78.4h0M891.0 77.8h0M892.9 77.2h0M894.9 76.7h0M896.8 76.1h0M898.8 75.6h0M900.8 75.1h0M902.7 74.5h0M904.7 74.0h0M906.7 73.5h0M908.6 73.0h0M910.6 72.5h0M912.6 72.0h0M914.5 71.5h0M916.5 71.1h0M918.4 70.6h0M920.4 70.1h0M922.4 69.7h0M924.3 69.2h0M926.3 68.8h0M928.3 68.3h0M930.2 67.9h0M932.2 67.4h0M934.2 67.0h0"/><path stroke="#2ea56b" d="M580.6 72.6h0M582.6 73.1h0M584.6 73.7h0M586.5 74.2h0M588.5 74.7h0M590.5 75.3h0M592.4 75.9h0M594.4 76.4h0M596.4 77.0h0M598.3 77.6h0M600.3 78.2h0M602.2 78.8h0M604.2 79.4h0M606.2 80.0h0M608.1 80.6h0M610.1 81.2h0M612.1 81.8h0M614.0 82.5h0M616.0 83.1h0M618.0 83.8h0M619.9 84.5h0M621.9 85.1h0M623.8 85.8h0M625.8 86.5h0M627.8 87.2h0M629.7 87.9h0M631.7 88.7h0M633.7 89.4h0M635.6 90.2h0M637.6 90.9h0M639.6 91.7h0M641.5 92.5h0M643.5 93.3h0M645.5 94.1h0M647.4 95.0h0M649.4 95.8h0M651.3 96.7h0M653.3 97.5h0M655.3 98.4h0M657.2 99.3h0M659.2 100.3h0M661.2 101.2h0M663.1 102.2h0M665.1 103.2h0M667.1 104.2h0M669.0 105.2h0M671.0 106.3h0M672.9 107.3h0M674.9 108.4h0M676.9 109.6h0M678.8 110.7h0M680.8 111.9h0M682.8 113.1h0M684.7 114.3h0M686.7 115.6h0M688.7 116.9h0M690.6 118.3h0M692.6 119.7h0M694.6 121.1h0M696.5 122.6h0M698.5 124.1h0M700.4 125.6h0M702.4 127.3h0M704.4 128.9h0M706.3 130.7h0M708.3 132.5h0M710.3 134.4h0M712.2 136.3h0M714.2 138.4h0M716.2 140.5h0M718.1 142.7h0M720.1 145.1h0M722.0 147.5h0M724.0 150.1h0M726.0 152.9h0M727.9 155.8h0M729.9 159.0h0M731.9 162.3h0M733.8 166.0h0M735.8 170.0h0M737.8 174.5h0M739.7 179.5h0M741.7 185.3h0M743.7 192.1h0M745.6 200.2h0M747.6 210.2h0M749.5 222.6h0M751.5 238.1h0M753.5 257.0h0M755.4 278.1h0M757.4 291.7h0M759.4 272.2h0M761.3 246.7h0M763.3 225.5h0M765.3 209.0h0M767.2 196.4h0M769.2 186.6h0M771.1 178.9h0M773.1 172.6h0M775.1 167.3h0M777.0 162.8h0M779.0 158.8h0M781.0 155.3h0M782.9 152.1h0M784.9 149.1h0M786.9 146.4h0M788.8 143.9h0M790.8 141.5h0M792.8 139.3h0M794.7 137.2h0M796.7 135.2h0M798.6 133.3h0M800.6 131.4h0M802.6 129.7h0M804.5 128.0h0M806.5 126.4h0M808.5 124.9h0M810.4 123.4h0M812.4 122.0h0M814.4 120.6h0M816.3 119.3h0M818.3 118.0h0M820.2 116.8h0M822.2 115.6h0M824.2 114.4h0M826.1 113.3h0M828.1 112.1h0M830.1 111.1h0M832.0 110.0h0M834.0 109.0h0M836.0 108.0h0M837.9 107.0h0M839.9 106.1h0M841.9 105.2h0M843.8 104.3h0M845.8 103.4h0M847.7 102.5h0M849.7 101.7h0M851.7 100.8h0M853.6 100.0h0M855.6 99.2h0M857.6 98.4h0M859.5 97.7h0M861.5 96.9h0M863.5 96.2h0M865.4 95.5h0M867.4 94.7h0M869.3 94.0h0M871.3 93.4h0M873.3 92.7h0M875.2 92.0h0M877.2 91.4h0M879.2 90.7h0M881.1 90.1h0M883.1 89.5h0M885.1 88.9h0M887.0 88.3h0M889.0 87.7h0M891.0 87.1h0M892.9 86.5h0M894.9 85.9h0M896.8 85.4h0M898.8 84.8h0M900.8 84.3h0M902.7 83.7h0M904.7 83.2h0M906.7 82.7h0M908.6 82.2h0M910.6 81.7h0M912.6 81.2h0M914.5 80.7h0M916.5 80.2h0M918.4 79.7h0M920.4 79.2h0M922.4 78.7h0M924.3 78.3h0M926.3 77.8h0M928.3 77.3h0M930.2 76.9h0M932.2 76.4h0M934.2 76.0h0"/><path stroke="#d29e12" d="M580.6 84.7h0M582.6 85.2h0M584.6 85.8h0M586.5 86.3h0M588.5 86.9h0M590.5 87.5h0M592.4 88.0h0M594.4 88.6h0M596.4 89.2h0M598.3 89.8h0M600.3 90.4h0M602.2 91.0h0M604.2 91.6h0M606.2 92.2h0M608.1 92.9h0M610.1 93.5h0M612.1 94.2h0M614.0 94.8h0M616.0 95.5h0M618.0 96.2h0M619.9 96.8h0M621.9 97.5h0M623.8 98.2h0M625.8 99.0h0M627.8 99.7h0M629.7 100.4h0M631.7 101.2h0M633.7 101.9h0M635.6 102.7h0M637.6 103.5h0M639.6 104.3h0M641.5 105.1h0M643.5 105.9h0M645.5 106.7h0M647.4 107.6h0M649.4 108.4h0M651.3 109.3h0M653.3 110.2h0M655.3 111.1h0M657.2 112.1h0M659.2 113.0h0M661.2 114.0h0M663.1 115.0h0M665.1 116.0h0M667.1 117.0h0M669.0 118.0h0M671.0 119.1h0M672.9 120.2h0M674.9 121.3h0M676.9 122.5h0M678.8 123.6h0M680.8 124.8h0M682.8 126.1h0M684.7 127.3h0M686.7 128.6h0M688.7 130.0h0M690.6 131.3h0M692.6 132.8h0M694.6 134.2h0M696.5 135.7h0M698.5 137.2h0M700.4 138.8h0M702.4 140.5h0M704.4 142.2h0M706.3 143.9h0M708.3 145.8h0M710.3 147.7h0M712.2 149.7h0M714.2 151.7h0M716.2 153.9h0M718.1 156.1h0M720.1 158.5h0M722.0 161.0h0M724.0 163.6h0M726.0 166.4h0M727.9 169.3h0M729.9 172.5h0M731.9 175.9h0M733.8 179.6h0M735.8 183.6h0M737.8 188.1h0M739.7 193.2h0M741.7 199.0h0M743.7 205.8h0M745.6 213.8h0M747.6 223.4h0M749.5 235.0h0M751.5 249.0h0M753.5 265.3h0M755.4 282.0h0M757.4 291.7h0M759.4 277.2h0M761.3 255.7h0M763.3 236.7h0M765.3 221.2h0M767.2 208.9h0M769.2 199.1h0M771.1 191.2h0M773.1 184.7h0M775.1 179.3h0M777.0 174.6h0M779.0 170.5h0M781.0 166.9h0M782.9 163.6h0M784.9 160.6h0M786.9 157.8h0M788.8 155.3h0M790.8 152.8h0M792.8 150.6h0M794.7 148.4h0M796.7 146.4h0M798.6 144.4h0M800.6 142.6h0M802.6 140.8h0M804.5 139.1h0M806.5 137.5h0M808.5 136.0h0M810.4 134.4h0M812.4 133.0h0M814.4 131.6h0M816.3 130.2h0M818.3 128.9h0M820.2 127.7h0M822.2 126.4h0M824.2 125.2h0M826.1 124.1h0M828.1 122.9h0M830.1 121.8h0M832.0 120.8h0M834.0 119.7h0M836.0 118.7h0M837.9 117.7h0M839.9 116.8h0M841.9 115.8h0M843.8 114.9h0M845.8 114.0h0M847.7 113.1h0M849.7 112.2h0M851.7 111.4h0M853.6 110.6h0M855.6 109.7h0M857.6 108.9h0M859.5 108.2h0M861.5 107.4h0M863.5 106.6h0M865.4 105.9h0M867.4 105.2h0M869.3 104.5h0M871.3 103.8h0M873.3 103.1h0M875.2 102.4h0M877.2 101.7h0M879.2 101.1h0M881.1 100.4h0M883.1 99.8h0M885.1 99.2h0M887.0 98.5h0M889.0 97.9h0M891.0 97.3h0M892.9 96.7h0M894.9 96.2h0M896.8 95.6h0M898.8 95.0h0M900.8 94.5h0M902.7 93.9h0M904.7 93.4h0M906.7 92.8h0M908.6 92.3h0M910.6 91.8h0M912.6 91.3h0M914.5 90.8h0M916.5 90.3h0M918.4 89.8h0M920.4 89.3h0M922.4 88.8h0M924.3 88.3h0M926.3 87.8h0M928.3 87.4h0M930.2 86.9h0M932.2 86.5h0M934.2 86.0h0"/><path stroke="#17c6c9" d="M580.6 95.1h0M582.6 95.7h0M584.6 96.2h0M586.5 96.8h0M588.5 97.4h0M590.5 98.0h0M592.4 98.6h0M594.4 99.2h0M596.4 99.8h0M598.3 100.4h0M600.3 101.0h0M602.2 101.6h0M604.2 102.3h0M606.2 102.9h0M608.1 103.6h0M610.1 104.2h0M612.1 104.9h0M614.0 105.6h0M616.0 106.3h0M618.0 107.0h0M619.9 107.7h0M621.9 108.4h0M623.8 109.1h0M625.8 109.8h0M627.8 110.6h0M629.7 111.3h0M631.7 112.1h0M633.7 112.9h0M635.6 113.7h0M637.6 114.5h0M639.6 115.3h0M641.5 116.2h0M643.5 117.0h0M645.5 117.9h0M647.4 118.7h0M649.4 119.6h0M651.3 120.5h0M653.3 121.5h0M655.3 122.4h0M657.2 123.4h0M659.2 124.3h0M661.2 125.3h0M663.1 126.3h0M665.1 127.4h0M667.1 128.4h0M669.0 129.5h0M671.0 130.6h0M672.9 131.7h0M674.9 132.9h0M676.9 134.1h0M678.8 135.3h0M680.8 136.5h0M682.8 137.8h0M684.7 139.1h0M686.7 140.4h0M688.7 141.8h0M690.6 143.2h0M692.6 144.6h0M694.6 146.1h0M696.5 147.6h0M698.5 149.2h0M700.4 150.8h0M702.4 152.5h0M704.4 154.3h0M706.3 156.1h0M708.3 157.9h0M710.3 159.9h0M712.2 161.9h0M714.2 164.0h0M716.2 166.1h0M718.1 168.4h0M720.1 170.8h0M722.0 173.3h0M724.0 176.0h0M726.0 178.8h0M727.9 181.8h0M729.9 185.0h0M731.9 188.4h0M733.8 192.1h0M735.8 196.2h0M737.8 200.7h0M739.7 205.8h0M741.7 211.5h0M743.7 218.2h0M745.6 225.9h0M747.6 235.0h0M749.5 245.7h0M751.5 258.1h0M753.5 271.8h0M755.4 284.8h0M757.4 291.7h0M759.4 281.0h0M761.3 263.4h0M763.3 246.6h0M765.3 232.4h0M767.2 220.6h0M769.2 211.0h0M771.1 203.1h0M773.1 196.6h0M775.1 191.0h0M777.0 186.3h0M779.0 182.1h0M781.0 178.3h0M782.9 175.0h0M784.9 171.9h0M786.9 169.1h0M788.8 166.5h0M790.8 164.0h0M792.8 161.7h0M794.7 159.5h0M796.7 157.4h0M798.6 155.4h0M800.6 153.6h0M802.6 151.8h0M804.5 150.0h0M806.5 148.4h0M808.5 146.8h0M810.4 145.2h0M812.4 143.8h0M814.4 142.3h0M816.3 141.0h0M818.3 139.6h0M820.2 138.3h0M822.2 137.1h0M824.2 135.8h0M826.1 134.6h0M828.1 133.5h0M830.1 132.4h0M832.0 131.3h0M834.0 130.2h0M836.0 129.2h0M837.9 128.1h0M839.9 127.2h0M841.9 126.2h0M843.8 125.2h0M845.8 124.3h0M847.7 123.4h0M849.7 122.5h0M851.7 121.7h0M853.6 120.8h0M855.6 120.0h0M857.6 119.2h0M859.5 118.3h0M861.5 117.6h0M863.5 116.8h0M865.4 116.0h0M867.4 115.3h0M869.3 114.6h0M871.3 113.8h0M873.3 113.1h0M875.2 112.4h0M877.2 111.7h0M879.2 111.1h0M881.1 110.4h0M883.1 109.8h0M885.1 109.1h0M887.0 108.5h0M889.0 107.9h0M891.0 107.2h0M892.9 106.6h0M894.9 106.0h0M896.8 105.5h0M898.8 104.9h0M900.8 104.3h0M902.7 103.7h0M904.7 103.2h0M906.7 102.6h0M908.6 102.1h0M910.6 101.5h0M912.6 101.0h0M914.5 100.5h0M916.5 100.0h0M918.4 99.5h0M920.4 99.0h0M922.4 98.5h0M924.3 98.0h0M926.3 97.5h0M928.3 97.0h0M930.2 96.5h0M932.2 96.1h0M934.2 95.6h0"/><path stroke="#774a4a" d="M580.6 110.9h0M582.6 111.4h0M584.6 112.0h0M586.5 112.6h0M588.5 113.1h0M590.5 113.7h0M592.4 114.3h0M594.4 114.8h0M596.4 115.4h0M598.3 116.0h0M600.3 116.6h0M602.2 117.2h0M604.2 117.9h0M606.2 118.5h0M608.1 119.1h0M610.1 119.8h0M612.1 120.4h0M614.0 121.1h0M616.0 121.7h0M618.0 122.4h0M619.9 123.1h0M621.9 123.8h0M623.8 124.5h0M625.8 125.2h0M627.8 125.9h0M629.7 126.7h0M631.7 127.4h0M633.7 128.2h0M635.6 128.9h0M637.6 129.7h0M639.6 130.5h0M641.5 131.3h0M643.5 132.1h0M645.5 133.0h0M647.4 133.8h0M649.4 134.7h0M651.3 135.6h0M653.3 136.5h0M655.3 137.4h0M657.2 138.3h0M659.2 139.2h0M661.2 140.2h0M663.1 141.2h0M665.1 142.2h0M667.1 143.2h0M669.0 144.3h0M671.0 145.3h0M672.9 146.4h0M674.9 147.5h0M676.9 148.7h0M678.8 149.8h0M680.8 151.0h0M682.8 152.2h0M684.7 153.5h0M686.7 154.8h0M688.7 156.1h0M690.6 157.4h0M692.6 158.8h0M694.6 160.3h0M696.5 161.7h0M698.5 163.3h0M700.4 164.8h0M702.4 166.4h0M704.4 168.1h0M706.3 169.8h0M708.3 171.6h0M710.3 173.5h0M712.2 175.4h0M714.2 177.4h0M716.2 179.5h0M718.1 181.7h0M720.1 184.0h0M722.0 186.4h0M724.0 188.9h0M726.0 191.6h0M727.9 194.4h0M729.9 197.5h0M731.9 200.8h0M733.8 204.3h0M735.8 208.2h0M737.8 212.5h0M739.7 217.3h0M741.7 222.8h0M743.7 229.0h0M745.6 236.2h0M747.6 244.5h0M749.5 254.1h0M751.5 264.8h0M753.5 276.2h0M755.4 286.6h0M757.4 291.7h0M759.4 283.6h0M761.3 269.3h0M763.3 255.0h0M765.3 242.3h0M767.2 231.6h0M769.2 222.6h0M771.1 215.2h0M773.1 208.9h0M775.1 203.6h0M777.0 199.0h0M779.0 194.9h0M781.0 191.3h0M782.9 188.1h0M784.9 185.1h0M786.9 182.4h0M788.8 179.9h0M790.8 177.5h0M792.8 175.3h0M794.7 173.2h0M796.7 171.3h0M798.6 169.4h0M800.6 167.6h0M802.6 165.8h0M804.5 164.2h0M806.5 162.6h0M808.5 161.1h0M810.4 159.6h0M812.4 158.2h0M814.4 156.8h0M816.3 155.5h0M818.3 154.2h0M820.2 153.0h0M822.2 151.8h0M824.2 150.6h0M826.1 149.5h0M828.1 148.4h0M830.1 147.3h0M832.0 146.2h0M834.0 145.2h0M836.0 144.2h0M837.9 143.2h0M839.9 142.3h0M841.9 141.4h0M843.8 140.5h0M845.8 139.6h0M847.7 138.7h0M849.7 137.9h0M851.7 137.0h0M853.6 136.2h0M855.6 135.4h0M857.6 134.6h0M859.5 133.8h0M861.5 133.1h0M863.5 132.4h0M865.4 131.6h0M867.4 130.9h0M869.3 130.2h0M871.3 129.5h0M873.3 128.8h0M875.2 128.2h0M877.2 127.5h0M879.2 126.9h0M881.1 126.2h0M883.1 125.6h0M885.1 125.0h0M887.0 124.4h0M889.0 123.8h0M891.0 123.2h0M892.9 122.6h0M894.9 122.0h0M896.8 121.5h0M898.8 120.9h0M900.8 120.4h0M902.7 119.8h0M904.7 119.3h0M906.7 118.8h0M908.6 118.2h0M910.6 117.7h0M912.6 117.2h0M914.5 116.7h0M916.5 116.2h0M918.4 115.7h0M920.4 115.2h0M922.4 114.8h0M924.3 114.3h0M926.3 113.8h0M928.3 113.4h0M930.2 112.9h0M932.2 112.4h0M934.2 112.0h0"/><path stroke="#8e8c12" d="M580.6 121.3h0M582.6 121.8h0M584.6 122.4h0M586.5 122.9h0M588.5 123.5h0M590.5 124.1h0M592.4 124.6h0M594.4 125.2h0M596.4 125.8h0M598.3 126.4h0M600.3 127.0h0M602.2 127.6h0M604.2 128.2h0M606.2 128.9h0M608.1 129.5h0M610.1 130.1h0M612.1 130.8h0M614.0 131.4h0M616.0 132.1h0M618.0 132.8h0M619.9 133.5h0M621.9 134.1h0M623.8 134.9h0M625.8 135.6h0M627.8 136.3h0M629.7 137.0h0M631.7 137.8h0M633.7 138.5h0M635.6 139.3h0M637.6 140.1h0M639.6 140.9h0M641.5 141.7h0M643.5 142.5h0M645.5 143.3h0M647.4 144.1h0M649.4 145.0h0M651.3 145.9h0M653.3 146.8h0M655.3 147.7h0M657.2 148.6h0M659.2 149.5h0M661.2 150.5h0M663.1 151.5h0M665.1 152.4h0M667.1 153.5h0M669.0 154.5h0M671.0 155.5h0M672.9 156.6h0M674.9 157.7h0M676.9 158.9h0M678.8 160.0h0M680.8 161.2h0M682.8 162.4h0M684.7 163.6h0M686.7 164.9h0M688.7 166.2h0M690.6 167.5h0M692.6 168.9h0M694.6 170.3h0M696.5 171.8h0M698.5 173.3h0M700.4 174.8h0M702.4 176.4h0M704.4 178.0h0M706.3 179.7h0M708.3 181.5h0M710.3 183.3h0M712.2 185.2h0M714.2 187.2h0M716.2 189.2h0M718.1 191.4h0M720.1 193.6h0M722.0 196.0h0M724.0 198.4h0M726.0 201.1h0M727.9 203.8h0M729.9 206.8h0M731.9 210.0h0M733.8 213.5h0M735.8 217.3h0M737.8 221.4h0M739.7 226.1h0M741.7 231.3h0M743.7 237.3h0M745.6 244.0h0M747.6 251.7h0M749.5 260.3h0M751.5 269.8h0M753.5 279.4h0M755.4 287.8h0M757.4 291.7h0M759.4 285.4h0M761.3 273.5h0M763.3 261.0h0M765.3 249.5h0M767.2 239.6h0M769.2 231.0h0M771.1 223.8h0M773.1 217.7h0M775.1 212.4h0M777.0 207.9h0M779.0 203.9h0M781.0 200.3h0M782.9 197.1h0M784.9 194.2h0M786.9 191.5h0M788.8 189.0h0M790.8 186.7h0M792.8 184.5h0M794.7 182.4h0M796.7 180.5h0M798.6 178.6h0M800.6 176.8h0M802.6 175.1h0M804.5 173.5h0M806.5 171.9h0M808.5 170.4h0M810.4 169.0h0M812.4 167.6h0M814.4 166.2h0M816.3 164.9h0M818.3 163.7h0M820.2 162.4h0M822.2 161.2h0M824.2 160.1h0M826.1 159.0h0M828.1 157.9h0M830.1 156.8h0M832.0 155.8h0M834.0 154.8h0M836.0 153.8h0M837.9 152.8h0M839.9 151.9h0M841.9 150.9h0M843.8 150.0h0M845.8 149.2h0M847.7 148.3h0M849.7 147.5h0M851.7 146.6h0M853.6 145.8h0M855.6 145.0h0M857.6 144.3h0M859.5 143.5h0M861.5 142.7h0M863.5 142.0h0M865.4 141.3h0M867.4 140.6h0M869.3 139.9h0M871.3 139.2h0M873.3 138.5h0M875.2 137.9h0M877.2 137.2h0M879.2 136.6h0M881.1 135.9h0M883.1 135.3h0M885.1 134.7h0M887.0 134.1h0M889.0 133.5h0M891.0 132.9h0M892.9 132.3h0M894.9 131.8h0M896.8 131.2h0M898.8 130.7h0M900.8 130.1h0M902.7 129.6h0M904.7 129.0h0M906.7 128.5h0M908.6 128.0h0M910.6 127.5h0M912.6 127.0h0M914.5 126.5h0M916.5 126.0h0M918.4 125.5h0M920.4 125.0h0M922.4 124.5h0M924.3 124.1h0M926.3 123.6h0M928.3 123.1h0M930.2 122.7h0M932.2 122.2h0M934.2 121.8h0"/><path stroke="#ff6616" d="M580.6 137.6h0M582.6 138.1h0M584.6 138.6h0M586.5 139.2h0M588.5 139.7h0M590.5 140.3h0M592.4 140.8h0M594.4 141.4h0M596.4 141.9h0M598.3 142.5h0M600.3 143.1h0M602.2 143.7h0M604.2 144.3h0M606.2 144.8h0M608.1 145.5h0M610.1 146.1h0M612.1 146.7h0M614.0 147.3h0M616.0 148.0h0M618.0 148.6h0M619.9 149.3h0M621.9 149.9h0M623.8 150.6h0M625.8 151.3h0M627.8 152.0h0M629.7 152.7h0M631.7 153.4h0M633.7 154.1h0M635.6 154.8h0M637.6 155.6h0M639.6 156.3h0M641.5 157.1h0M643.5 157.9h0M645.5 158.7h0M647.4 159.5h0M649.4 160.3h0M651.3 161.1h0M653.3 162.0h0M655.3 162.8h0M657.2 163.7h0M659.2 164.6h0M661.2 165.5h0M663.1 166.4h0M665.1 167.4h0M667.1 168.3h0M669.0 169.3h0M671.0 170.3h0M672.9 171.4h0M674.9 172.4h0M676.9 173.5h0M678.8 174.6h0M680.8 175.7h0M682.8 176.8h0M684.7 178.0h0M686.7 179.2h0M688.7 180.5h0M690.6 181.7h0M692.6 183.0h0M694.6 184.4h0M696.5 185.7h0M698.5 187.1h0M700.4 188.6h0M702.4 190.1h0M704.4 191.6h0M706.3 193.2h0M708.3 194.9h0M710.3 196.6h0M712.2 198.4h0M714.2 200.2h0M716.2 202.2h0M718.1 204.2h0M720.1 206.3h0M722.0 208.5h0M724.0 210.8h0M726.0 213.2h0M727.9 215.8h0M729.9 218.6h0M731.9 221.6h0M733.8 224.8h0M735.8 228.3h0M737.8 232.2h0M739.7 236.5h0M741.7 241.2h0M743.7 246.6h0M745.6 252.6h0M747.6 259.3h0M749.5 266.7h0M751.5 274.6h0M753.5 282.4h0M755.4 288.9h0M757.4 291.7h0M759.4 287.1h0M761.3 277.8h0M763.3 267.4h0M765.3 257.6h0M767.2 248.9h0M769.2 241.3h0M771.1 234.7h0M773.1 229.1h0M775.1 224.2h0M777.0 219.9h0M779.0 216.2h0M781.0 212.8h0M782.9 209.8h0M784.9 207.0h0M786.9 204.5h0M788.8 202.2h0M790.8 200.0h0M792.8 197.9h0M794.7 196.0h0M796.7 194.1h0M798.6 192.4h0M800.6 190.7h0M802.6 189.1h0M804.5 187.6h0M806.5 186.1h0M808.5 184.7h0M810.4 183.4h0M812.4 182.1h0M814.4 180.8h0M816.3 179.6h0M818.3 178.4h0M820.2 177.2h0M822.2 176.1h0M824.2 175.0h0M826.1 173.9h0M828.1 172.9h0M830.1 171.9h0M832.0 170.9h0M834.0 170.0h0M836.0 169.0h0M837.9 168.1h0M839.9 167.2h0M841.9 166.4h0M843.8 165.5h0M845.8 164.7h0M847.7 163.9h0M849.7 163.1h0M851.7 162.3h0M853.6 161.5h0M855.6 160.8h0M857.6 160.1h0M859.5 159.3h0M861.5 158.6h0M863.5 157.9h0M865.4 157.2h0M867.4 156.6h0M869.3 155.9h0M871.3 155.3h0M873.3 154.6h0M875.2 154.0h0M877.2 153.4h0M879.2 152.8h0M881.1 152.2h0M883.1 151.6h0M885.1 151.0h0M887.0 150.4h0M889.0 149.9h0M891.0 149.3h0M892.9 148.8h0M894.9 148.2h0M896.8 147.7h0M898.8 147.2h0M900.8 146.7h0M902.7 146.2h0M904.7 145.7h0M906.7 145.2h0M908.6 144.7h0M910.6 144.2h0M912.6 143.7h0M914.5 143.2h0M916.5 142.8h0M918.4 142.3h0M920.4 141.8h0M922.4 141.4h0M924.3 141.0h0M926.3 140.5h0M928.3 140.1h0M930.2 139.6h0M932.2 139.2h0M934.2 138.8h0"/><path stroke="#4a4a4a" d="M580.6 152.5h0M582.6 153.0h0M584.6 153.5h0M586.5 154.0h0M588.5 154.5h0M590.5 155.1h0M592.4 155.6h0M594.4 156.1h0M596.4 156.7h0M598.3 157.2h0M600.3 157.8h0M602.2 158.3h0M604.2 158.9h0M606.2 159.5h0M608.1 160.0h0M610.1 160.6h0M612.1 161.2h0M614.0 161.8h0M616.0 162.4h0M618.0 163.0h0M619.9 163.7h0M621.9 164.3h0M623.8 165.0h0M625.8 165.6h0M627.8 166.3h0M629.7 166.9h0M631.7 167.6h0M633.7 168.3h0M635.6 169.0h0M637.6 169.7h0M639.6 170.4h0M641.5 171.2h0M643.5 171.9h0M645.5 172.7h0M647.4 173.4h0M649.4 174.2h0M651.3 175.0h0M653.3 175.8h0M655.3 176.6h0M657.2 177.5h0M659.2 178.3h0M661.2 179.2h0M663.1 180.1h0M665.1 181.0h0M667.1 181.9h0M669.0 182.8h0M671.0 183.8h0M672.9 184.8h0M674.9 185.8h0M676.9 186.8h0M678.8 187.8h0M680.8 188.9h0M682.8 190.0h0M684.7 191.1h0M686.7 192.2h0M688.7 193.4h0M690.6 194.6h0M692.6 195.8h0M694.6 197.1h0M696.5 198.4h0M698.5 199.7h0M700.4 201.1h0M702.4 202.5h0M704.4 203.9h0M706.3 205.4h0M708.3 207.0h0M710.3 208.6h0M712.2 210.3h0M714.2 212.0h0M716.2 213.8h0M718.1 215.7h0M720.1 217.6h0M722.0 219.7h0M724.0 221.8h0M726.0 224.1h0M727.9 226.5h0M729.9 229.1h0M731.9 231.9h0M733.8 234.8h0M735.8 238.1h0M737.8 241.6h0M739.7 245.5h0M741.7 249.8h0M743.7 254.6h0M745.6 259.9h0M747.6 265.7h0M749.5 272.0h0M751.5 278.4h0M753.5 284.7h0M755.4 289.6h0M757.4 291.7h0M759.4 288.3h0M761.3 280.9h0M763.3 272.4h0M765.3 264.1h0M767.2 256.4h0M769.2 249.6h0M771.1 243.6h0M773.1 238.4h0M775.1 233.9h0M777.0 229.9h0M779.0 226.3h0M781.0 223.1h0M782.9 220.3h0M784.9 217.7h0M786.9 215.3h0M788.8 213.0h0M790.8 211.0h0M792.8 209.0h0M794.7 207.2h0M796.7 205.4h0M798.6 203.8h0M800.6 202.2h0M802.6 200.7h0M804.5 199.2h0M806.5 197.8h0M808.5 196.5h0M810.4 195.2h0M812.4 194.0h0M814.4 192.7h0M816.3 191.6h0M818.3 190.4h0M820.2 189.3h0M822.2 188.3h0M824.2 187.2h0M826.1 186.2h0M828.1 185.2h0M830.1 184.3h0M832.0 183.3h0M834.0 182.4h0M836.0 181.5h0M837.9 180.7h0M839.9 179.8h0M841.9 179.0h0M843.8 178.2h0M845.8 177.4h0M847.7 176.6h0M849.7 175.9h0M851.7 175.1h0M853.6 174.4h0M855.6 173.7h0M857.6 173.0h0M859.5 172.3h0M861.5 171.6h0M863.5 170.9h0M865.4 170.3h0M867.4 169.6h0M869.3 169.0h0M871.3 168.4h0M873.3 167.8h0M875.2 167.2h0M877.2 166.6h0M879.2 166.0h0M881.1 165.4h0M883.1 164.9h0M885.1 164.3h0M887.0 163.8h0M889.0 163.2h0M891.0 162.7h0M892.9 162.2h0M894.9 161.7h0M896.8 161.1h0M898.8 160.6h0M900.8 160.1h0M902.7 159.7h0M904.7 159.2h0M906.7 158.7h0M908.6 158.2h0M910.6 157.8h0M912.6 157.3h0M914.5 156.9h0M916.5 156.4h0M918.4 156.0h0M920.4 155.5h0M922.4 155.1h0M924.3 154.7h0M926.3 154.2h0M928.3 153.8h0M930.2 153.4h0M932.2 153.0h0M934.2 152.6h0"/><path stroke="#1f6fe6" d="M580.6 165.8h0M582.6 166.3h0M584.6 166.8h0M586.5 167.3h0M588.5 167.8h0M590.5 168.3h0M592.4 168.8h0M594.4 169.3h0M596.4 169.8h0M598.3 170.3h0M600.3 170.9h0M602.2 171.4h0M604.2 171.9h0M606.2 172.5h0M608.1 173.1h0M610.1 173.6h0M612.1 174.2h0M614.0 174.8h0M616.0 175.4h0M618.0 175.9h0M619.9 176.5h0M621.9 177.2h0M623.8 177.8h0M625.8 178.4h0M627.8 179.0h0M629.7 179.7h0M631.7 180.3h0M633.7 181.0h0M635.6 181.7h0M637.6 182.3h0M639.6 183.0h0M641.5 183.7h0M643.5 184.4h0M645.5 185.2h0M647.4 185.9h0M649.4 186.7h0M651.3 187.4h0M653.3 188.2h0M655.3 189.0h0M657.2 189.8h0M659.2 190.6h0M661.2 191.4h0M663.1 192.3h0M665.1 193.1h0M667.1 194.0h0M669.0 194.9h0M671.0 195.8h0M672.9 196.7h0M674.9 197.7h0M676.9 198.6h0M678.8 199.6h0M680.8 200.6h0M682.8 201.6h0M684.7 202.7h0M686.7 203.8h0M688.7 204.9h0M690.6 206.0h0M692.6 207.2h0M694.6 208.4h0M696.5 209.6h0M698.5 210.8h0M700.4 212.1h0M702.4 213.5h0M704.4 214.8h0M706.3 216.2h0M708.3 217.7h0M710.3 219.2h0M712.2 220.8h0M714.2 222.4h0M716.2 224.1h0M718.1 225.8h0M720.1 227.6h0M722.0 229.5h0M724.0 231.5h0M726.0 233.6h0M727.9 235.9h0M729.9 238.2h0M731.9 240.8h0M733.8 243.5h0M735.8 246.5h0M737.8 249.7h0M739.7 253.2h0M741.7 257.0h0M743.7 261.3h0M745.6 265.9h0M747.6 270.9h0M749.5 276.1h0M751.5 281.4h0M753.5 286.4h0M755.4 290.2h0M757.4 291.7h0M759.4 289.2h0M761.3 283.4h0M763.3 276.5h0M765.3 269.5h0M767.2 262.9h0M769.2 256.9h0M771.1 251.6h0M773.1 246.9h0M775.1 242.7h0M777.0 239.0h0M779.0 235.7h0M781.0 232.7h0M782.9 230.0h0M784.9 227.6h0M786.9 225.3h0M788.8 223.2h0M790.8 221.3h0M792.8 219.5h0M794.7 217.7h0M796.7 216.1h0M798.6 214.5h0M800.6 213.0h0M802.6 211.6h0M804.5 210.2h0M806.5 208.9h0M808.5 207.7h0M810.4 206.4h0M812.4 205.2h0M814.4 204.1h0M816.3 203.0h0M818.3 201.9h0M820.2 200.9h0M822.2 199.9h0M824.2 198.9h0M826.1 197.9h0M828.1 197.0h0M830.1 196.1h0M832.0 195.2h0M834.0 194.3h0M836.0 193.5h0M837.9 192.7h0M839.9 191.9h0M841.9 191.1h0M843.8 190.3h0M845.8 189.6h0M847.7 188.8h0M849.7 188.1h0M851.7 187.4h0M853.6 186.7h0M855.6 186.0h0M857.6 185.3h0M859.5 184.7h0M861.5 184.0h0M863.5 183.4h0M865.4 182.8h0M867.4 182.2h0M869.3 181.6h0M871.3 181.0h0M873.3 180.4h0M875.2 179.8h0M877.2 179.3h0M879.2 178.7h0M881.1 178.2h0M883.1 177.6h0M885.1 177.1h0M887.0 176.6h0M889.0 176.1h0M891.0 175.5h0M892.9 175.0h0M894.9 174.6h0M896.8 174.1h0M898.8 173.6h0M900.8 173.1h0M902.7 172.6h0M904.7 172.2h0M906.7 171.7h0M908.6 171.3h0M910.6 170.8h0M912.6 170.4h0M914.5 170.0h0M916.5 169.5h0M918.4 169.1h0M920.4 168.7h0M922.4 168.3h0M924.3 167.9h0M926.3 167.5h0M928.3 167.1h0M930.2 166.7h0M932.2 166.3h0M934.2 165.9h0"/><path stroke="#b072e0" d="M580.6 174.7h0M582.6 175.2h0M584.6 175.6h0M586.5 176.1h0M588.5 176.6h0M590.5 177.1h0M592.4 177.6h0M594.4 178.1h0M596.4 178.6h0M598.3 179.1h0M600.3 179.7h0M602.2 180.2h0M604.2 180.7h0M606.2 181.3h0M608.1 181.8h0M610.1 182.4h0M612.1 182.9h0M614.0 183.5h0M616.0 184.1h0M618.0 184.6h0M619.9 185.2h0M621.9 185.8h0M623.8 186.4h0M625.8 187.0h0M627.8 187.6h0M629.7 188.3h0M631.7 188.9h0M633.7 189.6h0M635.6 190.2h0M637.6 190.9h0M639.6 191.5h0M641.5 192.2h0M643.5 192.9h0M645.5 193.6h0M647.4 194.3h0M649.4 195.1h0M651.3 195.8h0M653.3 196.6h0M655.3 197.3h0M657.2 198.1h0M659.2 198.9h0M661.2 199.7h0M663.1 200.5h0M665.1 201.3h0M667.1 202.2h0M669.0 203.1h0M671.0 203.9h0M672.9 204.8h0M674.9 205.7h0M676.9 206.7h0M678.8 207.6h0M680.8 208.6h0M682.8 209.6h0M684.7 210.6h0M686.7 211.7h0M688.7 212.7h0M690.6 213.8h0M692.6 214.9h0M694.6 216.1h0M696.5 217.2h0M698.5 218.5h0M700.4 219.7h0M702.4 221.0h0M704.4 222.3h0M706.3 223.6h0M708.3 225.0h0M710.3 226.4h0M712.2 227.9h0M714.2 229.5h0M716.2 231.1h0M718.1 232.7h0M720.1 234.4h0M722.0 236.3h0M724.0 238.1h0M726.0 240.1h0M727.9 242.2h0M729.9 244.5h0M731.9 246.9h0M733.8 249.4h0M735.8 252.2h0M737.8 255.2h0M739.7 258.4h0M741.7 261.9h0M743.7 265.8h0M745.6 269.9h0M747.6 274.3h0M749.5 278.9h0M751.5 283.4h0M753.5 287.5h0M755.4 290.5h0M757.4 291.7h0M759.4 289.9h0M761.3 285.6h0M763.3 280.2h0M765.3 274.4h0M767.2 268.8h0M769.2 263.6h0M771.1 258.8h0M773.1 254.5h0M775.1 250.6h0M777.0 247.2h0M779.0 244.0h0M781.0 241.2h0M782.9 238.6h0M784.9 236.3h0M786.9 234.1h0M788.8 232.0h0M790.8 230.1h0M792.8 228.3h0M794.7 226.6h0M796.7 225.0h0M798.6 223.5h0M800.6 222.0h0M802.6 220.6h0M804.5 219.3h0M806.5 218.0h0M808.5 216.7h0M810.4 215.5h0M812.4 214.3h0M814.4 213.2h0M816.3 212.1h0M818.3 211.0h0M820.2 210.0h0M822.2 209.0h0M824.2 208.0h0M826.1 207.1h0M828.1 206.1h0M830.1 205.2h0M832.0 204.3h0M834.0 203.5h0M836.0 202.6h0M837.9 201.8h0M839.9 201.0h0M841.9 200.2h0M843.8 199.4h0M845.8 198.7h0M847.7 197.9h0M849.7 197.2h0M851.7 196.5h0M853.6 195.8h0M855.6 195.1h0M857.6 194.4h0M859.5 193.8h0M861.5 193.1h0M863.5 192.5h0M865.4 191.9h0M867.4 191.3h0M869.3 190.7h0M871.3 190.1h0M873.3 189.5h0M875.2 188.9h0M877.2 188.3h0M879.2 187.8h0M881.1 187.2h0M883.1 186.7h0M885.1 186.1h0M887.0 185.6h0M889.0 185.1h0M891.0 184.6h0M892.9 184.1h0M894.9 183.6h0M896.8 183.1h0M898.8 182.6h0M900.8 182.1h0M902.7 181.6h0M904.7 181.2h0M906.7 180.7h0M908.6 180.3h0M910.6 179.8h0M912.6 179.4h0M914.5 178.9h0M916.5 178.5h0M918.4 178.1h0M920.4 177.6h0M922.4 177.2h0M924.3 176.8h0M926.3 176.4h0M928.3 176.0h0M930.2 175.6h0M932.2 175.2h0M934.2 174.8h0"/><path stroke="#774a4a" d="M580.6 188.7h0M582.6 189.1h0M584.6 189.6h0M586.5 190.0h0M588.5 190.5h0M590.5 190.9h0M592.4 191.4h0M594.4 191.9h0M596.4 192.3h0M598.3 192.8h0M600.3 193.3h0M602.2 193.8h0M604.2 194.3h0M606.2 194.8h0M608.1 195.3h0M610.1 195.8h0M612.1 196.3h0M614.0 196.8h0M616.0 197.4h0M618.0 197.9h0M619.9 198.5h0M621.9 199.0h0M623.8 199.6h0M625.8 200.1h0M627.8 200.7h0M629.7 201.3h0M631.7 201.9h0M633.7 202.5h0M635.6 203.1h0M637.6 203.7h0M639.6 204.3h0M641.5 204.9h0M643.5 205.6h0M645.5 206.2h0M647.4 206.9h0M649.4 207.6h0M651.3 208.2h0M653.3 208.9h0M655.3 209.6h0M657.2 210.3h0M659.2 211.1h0M661.2 211.8h0M663.1 212.6h0M665.1 213.3h0M667.1 214.1h0M669.0 214.9h0M671.0 215.7h0M672.9 216.5h0M674.9 217.4h0M676.9 218.2h0M678.8 219.1h0M680.8 220.0h0M682.8 220.9h0M684.7 221.8h0M686.7 222.8h0M688.7 223.7h0M690.6 224.7h0M692.6 225.7h0M694.6 226.8h0M696.5 227.8h0M698.5 228.9h0M700.4 230.1h0M702.4 231.2h0M704.4 232.4h0M706.3 233.6h0M708.3 234.9h0M710.3 236.2h0M712.2 237.5h0M714.2 238.9h0M716.2 240.3h0M718.1 241.8h0M720.1 243.3h0M722.0 245.0h0M724.0 246.7h0M726.0 248.4h0M727.9 250.3h0M729.9 252.3h0M731.9 254.4h0M733.8 256.7h0M735.8 259.1h0M737.8 261.7h0M739.7 264.5h0M741.7 267.6h0M743.7 270.8h0M745.6 274.3h0M747.6 278.0h0M749.5 281.7h0M751.5 285.3h0M753.5 288.5h0M755.4 290.8h0M757.4 291.7h0M759.4 290.5h0M761.3 287.5h0M763.3 283.4h0M765.3 279.0h0M767.2 274.5h0M769.2 270.3h0M771.1 266.3h0M773.1 262.7h0M775.1 259.4h0M777.0 256.4h0M779.0 253.7h0M781.0 251.1h0M782.9 248.8h0M784.9 246.7h0M786.9 244.7h0M788.8 242.9h0M790.8 241.2h0M792.8 239.5h0M794.7 238.0h0M796.7 236.5h0M798.6 235.1h0M800.6 233.8h0M802.6 232.5h0M804.5 231.2h0M806.5 230.0h0M808.5 228.9h0M810.4 227.8h0M812.4 226.7h0M814.4 225.6h0M816.3 224.6h0M818.3 223.6h0M820.2 222.7h0M822.2 221.7h0M824.2 220.8h0M826.1 219.9h0M828.1 219.0h0M830.1 218.2h0M832.0 217.4h0M834.0 216.6h0M836.0 215.8h0M837.9 215.0h0M839.9 214.2h0M841.9 213.5h0M843.8 212.8h0M845.8 212.1h0M847.7 211.4h0M849.7 210.7h0M851.7 210.0h0M853.6 209.3h0M855.6 208.7h0M857.6 208.1h0M859.5 207.4h0M861.5 206.8h0M863.5 206.2h0M865.4 205.6h0M867.4 205.0h0M869.3 204.5h0M871.3 203.9h0M873.3 203.4h0M875.2 202.8h0M877.2 202.3h0M879.2 201.7h0M881.1 201.2h0M883.1 200.7h0M885.1 200.2h0M887.0 199.7h0M889.0 199.2h0M891.0 198.7h0M892.9 198.2h0M894.9 197.8h0M896.8 197.3h0M898.8 196.8h0M900.8 196.4h0M902.7 195.9h0M904.7 195.5h0M906.7 195.0h0M908.6 194.6h0M910.6 194.2h0M912.6 193.7h0M914.5 193.3h0M916.5 192.9h0M918.4 192.5h0M920.4 192.1h0M922.4 191.7h0M924.3 191.3h0M926.3 190.9h0M928.3 190.5h0M930.2 190.2h0M932.2 189.8h0M934.2 189.4h0"/><path stroke="#ff6616" d="M580.6 196.4h0M582.6 196.8h0M584.6 197.3h0M586.5 197.7h0M588.5 198.1h0M590.5 198.6h0M592.4 199.0h0M594.4 199.5h0M596.4 200.0h0M598.3 200.4h0M600.3 200.9h0M602.2 201.4h0M604.2 201.9h0M606.2 202.3h0M608.1 202.8h0M610.1 203.3h0M612.1 203.8h0M614.0 204.4h0M616.0 204.9h0M618.0 205.4h0M619.9 205.9h0M621.9 206.5h0M623.8 207.0h0M625.8 207.6h0M627.8 208.1h0M629.7 208.7h0M631.7 209.2h0M633.7 209.8h0M635.6 210.4h0M637.6 211.0h0M639.6 211.6h0M641.5 212.2h0M643.5 212.8h0M645.5 213.5h0M647.4 214.1h0M649.4 214.8h0M651.3 215.4h0M653.3 216.1h0M655.3 216.8h0M657.2 217.5h0M659.2 218.2h0M661.2 218.9h0M663.1 219.6h0M665.1 220.3h0M667.1 221.1h0M669.0 221.8h0M671.0 222.6h0M672.9 223.4h0M674.9 224.2h0M676.9 225.0h0M678.8 225.9h0M680.8 226.7h0M682.8 227.6h0M684.7 228.5h0M686.7 229.4h0M688.7 230.3h0M690.6 231.3h0M692.6 232.2h0M694.6 233.2h0M696.5 234.2h0M698.5 235.3h0M700.4 236.3h0M702.4 237.4h0M704.4 238.6h0M706.3 239.7h0M708.3 240.9h0M710.3 242.1h0M712.2 243.4h0M714.2 244.7h0M716.2 246.0h0M718.1 247.4h0M720.1 248.9h0M722.0 250.4h0M724.0 252.0h0M726.0 253.6h0M727.9 255.4h0M729.9 257.2h0M731.9 259.2h0M733.8 261.3h0M735.8 263.5h0M737.8 265.9h0M739.7 268.4h0M741.7 271.2h0M743.7 274.1h0M745.6 277.1h0M747.6 280.3h0M749.5 283.5h0M751.5 286.5h0M753.5 289.2h0M755.4 291.0h0M757.4 291.7h0M759.4 290.8h0M761.3 288.5h0M763.3 285.4h0M765.3 281.8h0M767.2 278.1h0M769.2 274.5h0M771.1 271.1h0M773.1 267.9h0M775.1 264.9h0M777.0 262.2h0M779.0 259.7h0M781.0 257.4h0M782.9 255.2h0M784.9 253.2h0M786.9 251.4h0M788.8 249.6h0M790.8 248.0h0M792.8 246.5h0M794.7 245.0h0M796.7 243.6h0M798.6 242.2h0M800.6 240.9h0M802.6 239.7h0M804.5 238.5h0M806.5 237.3h0M808.5 236.2h0M810.4 235.1h0M812.4 234.1h0M814.4 233.0h0M816.3 232.0h0M818.3 231.1h0M820.2 230.1h0M822.2 229.2h0M824.2 228.3h0M826.1 227.4h0M828.1 226.6h0M830.1 225.7h0M832.0 224.9h0M834.0 224.1h0M836.0 223.4h0M837.9 222.6h0M839.9 221.8h0M841.9 221.1h0M843.8 220.4h0M845.8 219.7h0M847.7 219.0h0M849.7 218.3h0M851.7 217.6h0M853.6 217.0h0M855.6 216.3h0M857.6 215.7h0M859.5 215.1h0M861.5 214.5h0M863.5 213.9h0M865.4 213.3h0M867.4 212.7h0M869.3 212.1h0M871.3 211.6h0M873.3 211.0h0M875.2 210.5h0M877.2 209.9h0M879.2 209.4h0M881.1 208.9h0M883.1 208.4h0M885.1 207.8h0M887.0 207.3h0M889.0 206.9h0M891.0 206.4h0M892.9 205.9h0M894.9 205.4h0M896.8 204.9h0M898.8 204.5h0M900.8 204.0h0M902.7 203.6h0M904.7 203.1h0M906.7 202.7h0M908.6 202.2h0M910.6 201.8h0M912.6 201.4h0M914.5 201.0h0M916.5 200.5h0M918.4 200.1h0M920.4 199.7h0M922.4 199.3h0M924.3 198.9h0M926.3 198.5h0M928.3 198.1h0M930.2 197.8h0M932.2 197.4h0M934.2 197.0h0"/><path stroke="#4a4a4a" d="M580.6 206.5h0M582.6 206.9h0M584.6 207.3h0M586.5 207.7h0M588.5 208.1h0M590.5 208.6h0M592.4 209.0h0M594.4 209.4h0M596.4 209.9h0M598.3 210.3h0M600.3 210.8h0M602.2 211.2h0M604.2 211.7h0M606.2 212.1h0M608.1 212.6h0M610.1 213.0h0M612.1 213.5h0M614.0 214.0h0M616.0 214.5h0M618.0 215.0h0M619.9 215.5h0M621.9 216.0h0M623.8 216.5h0M625.8 217.0h0M627.8 217.5h0M629.7 218.1h0M631.7 218.6h0M633.7 219.1h0M635.6 219.7h0M637.6 220.3h0M639.6 220.8h0M641.5 221.4h0M643.5 222.0h0M645.5 222.6h0M647.4 223.2h0M649.4 223.8h0M651.3 224.4h0M653.3 225.0h0M655.3 225.6h0M657.2 226.3h0M659.2 226.9h0M661.2 227.6h0M663.1 228.3h0M665.1 229.0h0M667.1 229.7h0M669.0 230.4h0M671.0 231.1h0M672.9 231.8h0M674.9 232.6h0M676.9 233.3h0M678.8 234.1h0M680.8 234.9h0M682.8 235.7h0M684.7 236.5h0M686.7 237.4h0M688.7 238.2h0M690.6 239.1h0M692.6 240.0h0M694.6 240.9h0M696.5 241.8h0M698.5 242.8h0M700.4 243.7h0M702.4 244.7h0M704.4 245.8h0M706.3 246.8h0M708.3 247.9h0M710.3 249.0h0M712.2 250.1h0M714.2 251.3h0M716.2 252.5h0M718.1 253.8h0M720.1 255.1h0M722.0 256.5h0M724.0 257.9h0M726.0 259.4h0M727.9 261.0h0M729.9 262.6h0M731.9 264.3h0M733.8 266.2h0M735.8 268.2h0M737.8 270.3h0M739.7 272.5h0M741.7 274.8h0M743.7 277.3h0M745.6 279.9h0M747.6 282.6h0M749.5 285.2h0M751.5 287.7h0M753.5 289.7h0M755.4 291.2h0M757.4 291.7h0M759.4 291.1h0M761.3 289.4h0M763.3 287.0h0M765.3 284.3h0M767.2 281.3h0M769.2 278.4h0M771.1 275.6h0M773.1 272.9h0M775.1 270.4h0M777.0 268.0h0M779.0 265.9h0M781.0 263.8h0M782.9 261.9h0M784.9 260.2h0M786.9 258.5h0M788.8 256.9h0M790.8 255.4h0M792.8 254.0h0M794.7 252.7h0M796.7 251.4h0M798.6 250.2h0M800.6 249.0h0M802.6 247.8h0M804.5 246.7h0M806.5 245.6h0M808.5 244.6h0M810.4 243.6h0M812.4 242.6h0M814.4 241.7h0M816.3 240.7h0M818.3 239.8h0M820.2 239.0h0M822.2 238.1h0M824.2 237.3h0M826.1 236.4h0M828.1 235.6h0M830.1 234.8h0M832.0 234.1h0M834.0 233.3h0M836.0 232.6h0M837.9 231.9h0M839.9 231.1h0M841.9 230.5h0M843.8 229.8h0M845.8 229.1h0M847.7 228.4h0M849.7 227.8h0M851.7 227.2h0M853.6 226.5h0M855.6 225.9h0M857.6 225.3h0M859.5 224.7h0M861.5 224.1h0M863.5 223.6h0M865.4 223.0h0M867.4 222.4h0M869.3 221.9h0M871.3 221.4h0M873.3 220.8h0M875.2 220.3h0M877.2 219.8h0M879.2 219.3h0M881.1 218.8h0M883.1 218.3h0M885.1 217.8h0M887.0 217.3h0M889.0 216.8h0M891.0 216.4h0M892.9 215.9h0M894.9 215.4h0M896.8 215.0h0M898.8 214.5h0M900.8 214.1h0M902.7 213.7h0M904.7 213.2h0M906.7 212.8h0M908.6 212.4h0M910.6 212.0h0M912.6 211.5h0M914.5 211.1h0M916.5 210.7h0M918.4 210.3h0M920.4 209.9h0M922.4 209.6h0M924.3 209.2h0M926.3 208.8h0M928.3 208.4h0M930.2 208.0h0M932.2 207.7h0M934.2 207.3h0"/><path stroke="#2ea56b" d="M580.6 217.2h0M582.6 217.6h0M584.6 218.0h0M586.5 218.3h0M588.5 218.7h0M590.5 219.1h0M592.4 219.5h0M594.4 219.9h0M596.4 220.3h0M598.3 220.7h0M600.3 221.1h0M602.2 221.5h0M604.2 222.0h0M606.2 222.4h0M608.1 222.8h0M610.1 223.3h0M612.1 223.7h0M614.0 224.1h0M616.0 224.6h0M618.0 225.0h0M619.9 225.5h0M621.9 226.0h0M623.8 226.4h0M625.8 226.9h0M627.8 227.4h0M629.7 227.9h0M631.7 228.4h0M633.7 228.9h0M635.6 229.4h0M637.6 229.9h0M639.6 230.4h0M641.5 230.9h0M643.5 231.5h0M645.5 232.0h0M647.4 232.5h0M649.4 233.1h0M651.3 233.7h0M653.3 234.2h0M655.3 234.8h0M657.2 235.4h0M659.2 236.0h0M661.2 236.6h0M663.1 237.2h0M665.1 237.8h0M667.1 238.5h0M669.0 239.1h0M671.0 239.8h0M672.9 240.4h0M674.9 241.1h0M676.9 241.8h0M678.8 242.5h0M680.8 243.2h0M682.8 243.9h0M684.7 244.7h0M686.7 245.4h0M688.7 246.2h0M690.6 247.0h0M692.6 247.8h0M694.6 248.6h0M696.5 249.4h0M698.5 250.3h0M700.4 251.2h0M702.4 252.0h0M704.4 253.0h0M706.3 253.9h0M708.3 254.8h0M710.3 255.8h0M712.2 256.8h0M714.2 257.9h0M716.2 259.0h0M718.1 260.1h0M720.1 261.2h0M722.0 262.4h0M724.0 263.7h0M726.0 265.0h0M727.9 266.3h0M729.9 267.8h0M731.9 269.3h0M733.8 270.9h0M735.8 272.5h0M737.8 274.3h0M739.7 276.2h0M741.7 278.2h0M743.7 280.3h0M745.6 282.4h0M747.6 284.6h0M749.5 286.7h0M751.5 288.6h0M753.5 290.2h0M755.4 291.3h0M757.4 291.7h0M759.4 291.3h0M761.3 290.1h0M763.3 288.3h0M765.3 286.2h0M767.2 283.9h0M769.2 281.6h0M771.1 279.3h0M773.1 277.1h0M775.1 275.0h0M777.0 273.0h0M779.0 271.1h0M781.0 269.4h0M782.9 267.8h0M784.9 266.2h0M786.9 264.8h0M788.8 263.4h0M790.8 262.1h0M792.8 260.8h0M794.7 259.6h0M796.7 258.5h0M798.6 257.4h0M800.6 256.3h0M802.6 255.3h0M804.5 254.3h0M806.5 253.3h0M808.5 252.4h0M810.4 251.4h0M812.4 250.6h0M814.4 249.7h0M816.3 248.8h0M818.3 248.0h0M820.2 247.2h0M822.2 246.4h0M824.2 245.6h0M826.1 244.9h0M828.1 244.1h0M830.1 243.4h0M832.0 242.7h0M834.0 242.0h0M836.0 241.3h0M837.9 240.6h0M839.9 240.0h0M841.9 239.3h0M843.8 238.7h0M845.8 238.1h0M847.7 237.5h0M849.7 236.9h0M851.7 236.3h0M853.6 235.7h0M855.6 235.1h0M857.6 234.5h0M859.5 234.0h0M861.5 233.4h0M863.5 232.9h0M865.4 232.3h0M867.4 231.8h0M869.3 231.3h0M871.3 230.8h0M873.3 230.3h0M875.2 229.8h0M877.2 229.3h0M879.2 228.8h0M881.1 228.3h0M883.1 227.9h0M885.1 227.4h0M887.0 227.0h0M889.0 226.5h0M891.0 226.1h0M892.9 225.6h0M894.9 225.2h0M896.8 224.7h0M898.8 224.3h0M900.8 223.9h0M902.7 223.5h0M904.7 223.1h0M906.7 222.7h0M908.6 222.3h0M910.6 221.9h0M912.6 221.5h0M914.5 221.1h0M916.5 220.7h0M918.4 220.3h0M920.4 219.9h0M922.4 219.6h0M924.3 219.2h0M926.3 218.8h0M928.3 218.5h0M930.2 218.1h0M932.2 217.8h0M934.2 217.4h0"/><path stroke="#d29e12" d="M580.6 222.9h0M582.6 223.3h0M584.6 223.6h0M586.5 224.0h0M588.5 224.4h0M590.5 224.8h0M592.4 225.2h0M594.4 225.6h0M596.4 225.9h0M598.3 226.3h0M600.3 226.7h0M602.2 227.2h0M604.2 227.6h0M606.2 228.0h0M608.1 228.4h0M610.1 228.8h0M612.1 229.2h0M614.0 229.7h0M616.0 230.1h0M618.0 230.6h0M619.9 231.0h0M621.9 231.4h0M623.8 231.9h0M625.8 232.4h0M627.8 232.8h0M629.7 233.3h0M631.7 233.8h0M633.7 234.3h0M635.6 234.8h0M637.6 235.2h0M639.6 235.7h0M641.5 236.3h0M643.5 236.8h0M645.5 237.3h0M647.4 237.8h0M649.4 238.4h0M651.3 238.9h0M653.3 239.4h0M655.3 240.0h0M657.2 240.6h0M659.2 241.1h0M661.2 241.7h0M663.1 242.3h0M665.1 242.9h0M667.1 243.5h0M669.0 244.1h0M671.0 244.8h0M672.9 245.4h0M674.9 246.0h0M676.9 246.7h0M678.8 247.4h0M680.8 248.0h0M682.8 248.7h0M684.7 249.4h0M686.7 250.1h0M688.7 250.9h0M690.6 251.6h0M692.6 252.4h0M694.6 253.1h0M696.5 253.9h0M698.5 254.7h0M700.4 255.5h0M702.4 256.4h0M704.4 257.2h0M706.3 258.1h0M708.3 259.0h0M710.3 259.9h0M712.2 260.9h0M714.2 261.8h0M716.2 262.8h0M718.1 263.9h0M720.1 264.9h0M722.0 266.0h0M724.0 267.2h0M726.0 268.4h0M727.9 269.6h0M729.9 270.9h0M731.9 272.3h0M733.8 273.7h0M735.8 275.3h0M737.8 276.9h0M739.7 278.5h0M741.7 280.3h0M743.7 282.1h0M745.6 284.0h0M747.6 285.8h0M749.5 287.6h0M751.5 289.2h0M753.5 290.5h0M755.4 291.4h0M757.4 291.7h0M759.4 291.4h0M761.3 290.5h0M763.3 289.1h0M765.3 287.5h0M767.2 285.7h0M769.2 283.8h0M771.1 281.9h0M773.1 280.1h0M775.1 278.3h0M777.0 276.6h0M779.0 275.0h0M781.0 273.5h0M782.9 272.0h0M784.9 270.7h0M786.9 269.4h0M788.8 268.1h0M790.8 266.9h0M792.8 265.8h0M794.7 264.7h0M796.7 263.7h0M798.6 262.7h0M800.6 261.7h0M802.6 260.7h0M804.5 259.8h0M806.5 258.9h0M808.5 258.0h0M810.4 257.2h0M812.4 256.4h0M814.4 255.5h0M816.3 254.7h0M818.3 254.0h0M820.2 253.2h0M822.2 252.5h0M824.2 251.7h0M826.1 251.0h0M828.1 250.3h0M830.1 249.6h0M832.0 248.9h0M834.0 248.3h0M836.0 247.6h0M837.9 247.0h0M839.9 246.3h0M841.9 245.7h0M843.8 245.1h0M845.8 244.5h0M847.7 243.9h0M849.7 243.3h0M851.7 242.7h0M853.6 242.2h0M855.6 241.6h0M857.6 241.1h0M859.5 240.5h0M861.5 240.0h0M863.5 239.5h0M865.4 239.0h0M867.4 238.4h0M869.3 237.9h0M871.3 237.4h0M873.3 236.9h0M875.2 236.5h0M877.2 236.0h0M879.2 235.5h0M881.1 235.0h0M883.1 234.6h0M885.1 234.1h0M887.0 233.7h0M889.0 233.2h0M891.0 232.8h0M892.9 232.3h0M894.9 231.9h0M896.8 231.5h0M898.8 231.1h0M900.8 230.7h0M902.7 230.2h0M904.7 229.8h0M906.7 229.4h0M908.6 229.0h0M910.6 228.6h0M912.6 228.2h0M914.5 227.9h0M916.5 227.5h0M918.4 227.1h0M920.4 226.7h0M922.4 226.4h0M924.3 226.0h0M926.3 225.6h0M928.3 225.3h0M930.2 224.9h0M932.2 224.6h0M934.2 224.2h0"/><path stroke="#8e8c12" d="M580.6 234.1h0M582.6 234.4h0M584.6 234.8h0M586.5 235.1h0M588.5 235.4h0M590.5 235.8h0M592.4 236.1h0M594.4 236.5h0M596.4 236.8h0M598.3 237.2h0M600.3 237.5h0M602.2 237.9h0M604.2 238.2h0M606.2 238.6h0M608.1 239.0h0M610.1 239.3h0M612.1 239.7h0M614.0 240.1h0M616.0 240.5h0M618.0 240.9h0M619.9 241.3h0M621.9 241.7h0M623.8 242.1h0M625.8 242.5h0M627.8 242.9h0M629.7 243.3h0M631.7 243.7h0M633.7 244.1h0M635.6 244.6h0M637.6 245.0h0M639.6 245.4h0M641.5 245.9h0M643.5 246.3h0M645.5 246.8h0M647.4 247.2h0M649.4 247.7h0M651.3 248.2h0M653.3 248.7h0M655.3 249.1h0M657.2 249.6h0M659.2 250.1h0M661.2 250.6h0M663.1 251.1h0M665.1 251.7h0M667.1 252.2h0M669.0 252.7h0M671.0 253.3h0M672.9 253.8h0M674.9 254.4h0M676.9 254.9h0M678.8 255.5h0M680.8 256.1h0M682.8 256.7h0M684.7 257.3h0M686.7 257.9h0M688.7 258.5h0M690.6 259.1h0M692.6 259.8h0M694.6 260.4h0M696.5 261.1h0M698.5 261.8h0M700.4 262.5h0M702.4 263.2h0M704.4 263.9h0M706.3 264.7h0M708.3 265.4h0M710.3 266.2h0M712.2 267.0h0M714.2 267.8h0M716.2 268.6h0M718.1 269.5h0M720.1 270.4h0M722.0 271.3h0M724.0 272.3h0M726.0 273.2h0M727.9 274.3h0M729.9 275.4h0M731.9 276.5h0M733.8 277.7h0M735.8 278.9h0M737.8 280.2h0M739.7 281.6h0M741.7 283.0h0M743.7 284.4h0M745.6 285.9h0M747.6 287.3h0M749.5 288.6h0M751.5 289.9h0M753.5 290.8h0M755.4 291.5h0M757.4 291.7h0M759.4 291.5h0M761.3 290.9h0M763.3 289.9h0M765.3 288.7h0M767.2 287.3h0M769.2 285.9h0M771.1 284.4h0M773.1 283.0h0M775.1 281.6h0M777.0 280.3h0M779.0 279.0h0M781.0 277.7h0M782.9 276.6h0M784.9 275.4h0M786.9 274.4h0M788.8 273.3h0M790.8 272.4h0M792.8 271.4h0M794.7 270.5h0M796.7 269.6h0M798.6 268.8h0M800.6 267.9h0M802.6 267.1h0M804.5 266.3h0M806.5 265.6h0M808.5 264.8h0M810.4 264.1h0M812.4 263.3h0M814.4 262.6h0M816.3 262.0h0M818.3 261.3h0M820.2 260.6h0M822.2 260.0h0M824.2 259.3h0M826.1 258.7h0M828.1 258.1h0M830.1 257.5h0M832.0 256.9h0M834.0 256.3h0M836.0 255.7h0M837.9 255.1h0M839.9 254.6h0M841.9 254.0h0M843.8 253.5h0M845.8 252.9h0M847.7 252.4h0M849.7 251.9h0M851.7 251.3h0M853.6 250.8h0M855.6 250.3h0M857.6 249.8h0M859.5 249.4h0M861.5 248.9h0M863.5 248.4h0M865.4 247.9h0M867.4 247.5h0M869.3 247.0h0M871.3 246.6h0M873.3 246.1h0M875.2 245.7h0M877.2 245.2h0M879.2 244.8h0M881.1 244.4h0M883.1 244.0h0M885.1 243.5h0M887.0 243.1h0M889.0 242.7h0M891.0 242.3h0M892.9 241.9h0M894.9 241.5h0M896.8 241.1h0M898.8 240.7h0M900.8 240.4h0M902.7 240.0h0M904.7 239.6h0M906.7 239.2h0M908.6 238.9h0M910.6 238.5h0M912.6 238.1h0M914.5 237.8h0M916.5 237.4h0M918.4 237.1h0M920.4 236.7h0M922.4 236.4h0M924.3 236.1h0M926.3 235.7h0M928.3 235.4h0M930.2 235.1h0M932.2 234.7h0M934.2 234.4h0"/><path stroke="#74bf12" d="M580.6 244.5h0M582.6 244.8h0M584.6 245.1h0M586.5 245.3h0M588.5 245.6h0M590.5 245.9h0M592.4 246.2h0M594.4 246.5h0M596.4 246.8h0M598.3 247.1h0M600.3 247.4h0M602.2 247.7h0M604.2 248.0h0M606.2 248.3h0M608.1 248.6h0M610.1 248.9h0M612.1 249.3h0M614.0 249.6h0M616.0 249.9h0M618.0 250.2h0M619.9 250.6h0M621.9 250.9h0M623.8 251.2h0M625.8 251.6h0M627.8 251.9h0M629.7 252.3h0M631.7 252.6h0M633.7 253.0h0M635.6 253.4h0M637.6 253.7h0M639.6 254.1h0M641.5 254.5h0M643.5 254.8h0M645.5 255.2h0M647.4 255.6h0M649.4 256.0h0M651.3 256.4h0M653.3 256.8h0M655.3 257.2h0M657.2 257.6h0M659.2 258.0h0M661.2 258.5h0M663.1 258.9h0M665.1 259.3h0M667.1 259.8h0M669.0 260.2h0M671.0 260.7h0M672.9 261.1h0M674.9 261.6h0M676.9 262.1h0M678.8 262.5h0M680.8 263.0h0M682.8 263.5h0M684.7 264.0h0M686.7 264.5h0M688.7 265.0h0M690.6 265.6h0M692.6 266.1h0M694.6 266.6h0M696.5 267.2h0M698.5 267.8h0M700.4 268.3h0M702.4 268.9h0M704.4 269.5h0M706.3 270.1h0M708.3 270.7h0M710.3 271.4h0M712.2 272.0h0M714.2 272.7h0M716.2 273.4h0M718.1 274.1h0M720.1 274.8h0M722.0 275.6h0M724.0 276.3h0M726.0 277.1h0M727.9 278.0h0M729.9 278.9h0M731.9 279.8h0M733.8 280.7h0M735.8 281.7h0M737.8 282.8h0M739.7 283.9h0M741.7 285.0h0M743.7 286.1h0M745.6 287.3h0M747.6 288.4h0M749.5 289.4h0M751.5 290.3h0M753.5 291.1h0M755.4 291.5h0M757.4 291.7h0M759.4 291.5h0M761.3 291.0h0M763.3 290.3h0M765.3 289.3h0M767.2 288.2h0M769.2 287.1h0M771.1 285.9h0M773.1 284.7h0M775.1 283.5h0M777.0 282.4h0M779.0 281.3h0M781.0 280.3h0M782.9 279.3h0M784.9 278.3h0M786.9 277.4h0M788.8 276.6h0M790.8 275.7h0M792.8 274.9h0M794.7 274.1h0M796.7 273.4h0M798.6 272.6h0M800.6 271.9h0M802.6 271.2h0M804.5 270.6h0M806.5 269.9h0M808.5 269.3h0M810.4 268.6h0M812.4 268.0h0M814.4 267.4h0M816.3 266.8h0M818.3 266.2h0M820.2 265.6h0M822.2 265.1h0M824.2 264.5h0M826.1 264.0h0M828.1 263.4h0M830.1 262.9h0M832.0 262.4h0M834.0 261.9h0M836.0 261.4h0M837.9 260.9h0M839.9 260.4h0M841.9 259.9h0M843.8 259.4h0M845.8 258.9h0M847.7 258.5h0M849.7 258.0h0M851.7 257.6h0M853.6 257.1h0M855.6 256.7h0M857.6 256.3h0M859.5 255.8h0M861.5 255.4h0M863.5 255.0h0M865.4 254.6h0M867.4 254.2h0M869.3 253.8h0M871.3 253.4h0M873.3 253.0h0M875.2 252.6h0M877.2 252.2h0M879.2 251.8h0M881.1 251.4h0M883.1 251.1h0M885.1 250.7h0M887.0 250.3h0M889.0 250.0h0M891.0 249.6h0M892.9 249.3h0M894.9 248.9h0M896.8 248.6h0M898.8 248.2h0M900.8 247.9h0M902.7 247.6h0M904.7 247.2h0M906.7 246.9h0M908.6 246.6h0M910.6 246.2h0M912.6 245.9h0M914.5 245.6h0M916.5 245.3h0M918.4 245.0h0M920.4 244.7h0M922.4 244.4h0M924.3 244.1h0M926.3 243.8h0M928.3 243.5h0M930.2 243.2h0M932.2 242.9h0M934.2 242.6h0"/><path stroke="#ff47a6" d="M580.6 251.1h0M582.6 251.3h0M584.6 251.6h0M586.5 251.9h0M588.5 252.1h0M590.5 252.4h0M592.4 252.6h0M594.4 252.9h0M596.4 253.1h0M598.3 253.4h0M600.3 253.7h0M602.2 254.0h0M604.2 254.2h0M606.2 254.5h0M608.1 254.8h0M610.1 255.1h0M612.1 255.3h0M614.0 255.6h0M616.0 255.9h0M618.0 256.2h0M619.9 256.5h0M621.9 256.8h0M623.8 257.1h0M625.8 257.4h0M627.8 257.7h0M629.7 258.0h0M631.7 258.3h0M633.7 258.7h0M635.6 259.0h0M637.6 259.3h0M639.6 259.6h0M641.5 260.0h0M643.5 260.3h0M645.5 260.6h0M647.4 261.0h0M649.4 261.3h0M651.3 261.7h0M653.3 262.0h0M655.3 262.4h0M657.2 262.7h0M659.2 263.1h0M661.2 263.5h0M663.1 263.9h0M665.1 264.2h0M667.1 264.6h0M669.0 265.0h0M671.0 265.4h0M672.9 265.8h0M674.9 266.2h0M676.9 266.6h0M678.8 267.0h0M680.8 267.5h0M682.8 267.9h0M684.7 268.3h0M686.7 268.8h0M688.7 269.2h0M690.6 269.7h0M692.6 270.1h0M694.6 270.6h0M696.5 271.1h0M698.5 271.6h0M700.4 272.1h0M702.4 272.6h0M704.4 273.1h0M706.3 273.6h0M708.3 274.2h0M710.3 274.7h0M712.2 275.3h0M714.2 275.8h0M716.2 276.4h0M718.1 277.0h0M720.1 277.7h0M722.0 278.3h0M724.0 279.0h0M726.0 279.7h0M727.9 280.4h0M729.9 281.1h0M731.9 281.9h0M733.8 282.7h0M735.8 283.6h0M737.8 284.4h0M739.7 285.3h0M741.7 286.3h0M743.7 287.2h0M745.6 288.1h0M747.6 289.0h0M749.5 289.9h0M751.5 290.6h0M753.5 291.2h0M755.4 291.6h0M757.4 291.7h0M759.4 291.6h0M761.3 291.2h0M763.3 290.6h0M765.3 289.9h0M767.2 289.0h0M769.2 288.1h0M771.1 287.2h0M773.1 286.2h0M775.1 285.3h0M777.0 284.4h0M779.0 283.5h0M781.0 282.7h0M782.9 281.8h0M784.9 281.1h0M786.9 280.3h0M788.8 279.6h0M790.8 278.9h0M792.8 278.2h0M794.7 277.6h0M796.7 277.0h0M798.6 276.4h0M800.6 275.8h0M802.6 275.2h0M804.5 274.6h0M806.5 274.1h0M808.5 273.5h0M810.4 273.0h0M812.4 272.5h0M814.4 272.0h0M816.3 271.5h0M818.3 271.0h0M820.2 270.5h0M822.2 270.0h0M824.2 269.6h0M826.1 269.1h0M828.1 268.7h0M830.1 268.2h0M832.0 267.8h0M834.0 267.4h0M836.0 266.9h0M837.9 266.5h0M839.9 266.1h0M841.9 265.7h0M843.8 265.3h0M845.8 264.9h0M847.7 264.5h0M849.7 264.1h0M851.7 263.7h0M853.6 263.3h0M855.6 263.0h0M857.6 262.6h0M859.5 262.2h0M861.5 261.9h0M863.5 261.5h0M865.4 261.2h0M867.4 260.8h0M869.3 260.5h0M871.3 260.1h0M873.3 259.8h0M875.2 259.5h0M877.2 259.1h0M879.2 258.8h0M881.1 258.5h0M883.1 258.2h0M885.1 257.9h0M887.0 257.6h0M889.0 257.2h0M891.0 256.9h0M892.9 256.6h0M894.9 256.3h0M896.8 256.0h0M898.8 255.7h0M900.8 255.5h0M902.7 255.2h0M904.7 254.9h0M906.7 254.6h0M908.6 254.3h0M910.6 254.0h0M912.6 253.8h0M914.5 253.5h0M916.5 253.2h0M918.4 253.0h0M920.4 252.7h0M922.4 252.4h0M924.3 252.2h0M926.3 251.9h0M928.3 251.7h0M930.2 251.4h0M932.2 251.1h0M934.2 250.9h0"/></g><g fill="#000"><ellipse cx="87.2" cy="625.7" rx="7.3" ry="6.8"/><ellipse cx="119.9" cy="626.9" rx="7.3" ry="6.8"/><ellipse cx="152.6" cy="625.3" rx="7.3" ry="6.8"/><ellipse cx="185.4" cy="618.8" rx="7.3" ry="6.8"/><ellipse cx="218.1" cy="610.7" rx="7.3" ry="6.8"/><ellipse cx="250.8" cy="595.6" rx="7.3" ry="6.8"/><ellipse cx="283.5" cy="569.6" rx="7.3" ry="6.8"/><ellipse cx="303.1" cy="541.2" rx="7.3" ry="6.8"/><ellipse cx="309.7" cy="533.0" rx="7.3" ry="6.8"/><ellipse cx="316.2" cy="521.0" rx="7.3" ry="6.8"/><ellipse cx="322.8" cy="504.4" rx="7.3" ry="6.8"/><ellipse cx="329.3" cy="492.1" rx="7.3" ry="6.8"/><ellipse cx="335.8" cy="475.9" rx="7.3" ry="6.8"/><ellipse cx="342.4" cy="457.9" rx="7.3" ry="6.8"/><ellipse cx="348.9" cy="438.8" rx="7.3" ry="6.8"/><ellipse cx="355.5" cy="419.8" rx="7.3" ry="6.8"/><ellipse cx="362.0" cy="402.3" rx="7.3" ry="6.8"/><ellipse cx="368.6" cy="389.9" rx="7.3" ry="6.8"/><ellipse cx="373.8" cy="379.2" rx="7.3" ry="6.8"/><ellipse cx="378.4" cy="378.6" rx="7.3" ry="6.8"/><ellipse cx="382.3" cy="376.4" rx="7.3" ry="6.8"/><ellipse cx="389.5" cy="384.9" rx="7.3" ry="6.8"/><ellipse cx="394.7" cy="398.6" rx="7.3" ry="6.8"/><ellipse cx="401.3" cy="416.1" rx="7.3" ry="6.8"/><ellipse cx="407.8" cy="435.3" rx="7.3" ry="6.8"/><ellipse cx="414.4" cy="455.3" rx="7.3" ry="6.8"/><ellipse cx="420.9" cy="474.2" rx="7.3" ry="6.8"/><ellipse cx="427.5" cy="489.3" rx="7.3" ry="6.8"/><ellipse cx="434.0" cy="504.3" rx="7.3" ry="6.8"/><ellipse cx="440.5" cy="517.9" rx="7.3" ry="6.8"/><ellipse cx="447.1" cy="530.7" rx="7.3" ry="6.8"/><ellipse cx="460.2" cy="550.6" rx="7.3" ry="6.8"/><ellipse cx="479.8" cy="572.2" rx="7.3" ry="6.8"/></g><g clip-path="url(#cc)"><path d="M87.20 632.77 L87.53 632.77 L87.85 632.77 L88.18 632.77 L88.51 632.77 L88.84 632.76 L89.16 632.76 L89.49 632.76 L89.82 632.76 L90.14 632.75 L90.47 632.75 L90.80 632.74 L91.13 632.74 L91.45 632.74 L91.78 632.73 L92.11 632.73 L92.43 632.72 L92.76 632.72 L93.09 632.71 L93.42 632.71 L93.74 632.70 L94.07 632.70 L94.40 632.69 L94.72 632.68 L95.05 632.68 L95.38 632.67 L95.71 632.66 L96.03 632.66 L96.36 632.65 L96.69 632.64 L97.02 632.63 L97.34 632.63 L97.67 632.62 L98.00 632.61 L98.32 632.60 L98.65 632.59 L98.98 632.58 L99.31 632.57 L99.63 632.56 L99.96 632.55 L100.29 632.54 L100.61 632.53 L100.94 632.52 L101.27 632.51 L101.60 632.50 L101.92 632.49 L102.25 632.48 L102.58 632.47 L102.90 632.46 L103.23 632.45 L103.56 632.44 L103.89 632.42 L104.21 632.41 L104.54 632.40 L104.87 632.39 L105.19 632.37 L105.52 632.36 L105.85 632.35 L106.18 632.33 L106.50 632.32 L106.83 632.31 L107.16 632.29 L107.48 632.28 L107.81 632.26 L108.14 632.25 L108.47 632.23 L108.79 632.22 L109.12 632.20 L109.45 632.19 L109.77 632.17 L110.10 632.15 L110.43 632.14 L110.76 632.12 L111.08 632.10 L111.41 632.09 L111.74 632.07 L112.06 632.05 L112.39 632.04 L112.72 632.02 L113.05 632.00 L113.37 631.98 L113.70 631.96 L114.03 631.94 L114.36 631.93 L114.68 631.91 L115.01 631.89 L115.34 631.87 L115.66 631.85 L115.99 631.83 L116.32 631.81 L116.65 631.79 L116.97 631.77 L117.30 631.75 L117.63 631.72 L117.95 631.70 L118.28 631.68 L118.61 631.66 L118.94 631.64 L119.26 631.62 L119.59 631.59 L119.92 631.57 L120.24 631.55 L120.57 631.52 L120.90 631.50 L121.23 631.48 L121.55 631.45 L121.88 631.43 L122.21 631.41 L122.53 631.38 L122.86 631.36 L123.19 631.33 L123.52 631.31 L123.84 631.28 L124.17 631.26 L124.50 631.23 L124.82 631.20 L125.15 631.18 L125.48 631.15 L125.81 631.13 L126.13 631.10 L126.46 631.07 L126.79 631.04 L127.11 631.02 L127.44 630.99 L127.77 630.96 L128.10 630.93 L128.42 630.90 L128.75 630.87 L129.08 630.85 L129.40 630.82 L129.73 630.79 L130.06 630.76 L130.39 630.73 L130.71 630.70 L131.04 630.67 L131.37 630.64 L131.70 630.61 L132.02 630.57 L132.35 630.54 L132.68 630.51 L133.00 630.48 L133.33 630.45 L133.66 630.42 L133.99 630.38 L134.31 630.35 L134.64 630.32 L134.97 630.28 L135.29 630.25 L135.62 630.22 L135.95 630.18 L136.28 630.15 L136.60 630.11 L136.93 630.08 L137.26 630.04 L137.58 630.01 L137.91 629.97 L138.24 629.94 L138.57 629.90 L138.89 629.87 L139.22 629.83 L139.55 629.79 L139.87 629.76 L140.20 629.72 L140.53 629.68 L140.86 629.64 L141.18 629.61 L141.51 629.57 L141.84 629.53 L142.16 629.49 L142.49 629.45 L142.82 629.41 L143.15 629.37 L143.47 629.33 L143.80 629.29 L144.13 629.25 L144.45 629.21 L144.78 629.17 L145.11 629.13 L145.44 629.09 L145.76 629.05 L146.09 629.01 L146.42 628.97 L146.74 628.92 L147.07 628.88 L147.40 628.84 L147.73 628.80 L148.05 628.75 L148.38 628.71 L148.71 628.66 L149.04 628.62 L149.36 628.58 L149.69 628.53 L150.02 628.49 L150.34 628.44 L150.67 628.40 L151.00 628.35 L151.33 628.30 L151.65 628.26 L151.98 628.21 L152.31 628.16 L152.63 628.12 L152.96 628.07 L153.29 628.02 L153.62 627.97 L153.94 627.93 L154.27 627.88 L154.60 627.83 L154.92 627.78 L155.25 627.73 L155.58 627.68 L155.91 627.63 L156.23 627.58 L156.56 627.53 L156.89 627.48 L157.21 627.43 L157.54 627.38 L157.87 627.33 L158.20 627.27 L158.52 627.22 L158.85 627.17 L159.18 627.12 L159.50 627.06 L159.83 627.01 L160.16 626.96 L160.49 626.90 L160.81 626.85 L161.14 626.80 L161.47 626.74 L161.79 626.69 L162.12 626.63 L162.45 626.57 L162.78 626.52 L163.10 626.46 L163.43 626.41 L163.76 626.35 L164.08 626.29 L164.41 626.23 L164.74 626.18 L165.07 626.12 L165.39 626.06 L165.72 626.00 L166.05 625.94 L166.38 625.88 L166.70 625.82 L167.03 625.76 L167.36 625.70 L167.68 625.64 L168.01 625.58 L168.34 625.52 L168.67 625.46 L168.99 625.40 L169.32 625.34 L169.65 625.27 L169.97 625.21 L170.30 625.15 L170.63 625.08 L170.96 625.02 L171.28 624.96 L171.61 624.89 L171.94 624.83 L172.26 624.76 L172.59 624.70 L172.92 624.63 L173.25 624.56 L173.57 624.50 L173.90 624.43 L174.23 624.36 L174.55 624.30 L174.88 624.23 L175.21 624.16 L175.54 624.09 L175.86 624.02 L176.19 623.95 L176.52 623.89 L176.84 623.82 L177.17 623.75 L177.50 623.67 L177.83 623.60 L178.15 623.53 L178.48 623.46 L178.81 623.39 L179.13 623.32 L179.46 623.24 L179.79 623.17 L180.12 623.10 L180.44 623.02 L180.77 622.95 L181.10 622.88 L181.42 622.80 L181.75 622.73 L182.08 622.65 L182.41 622.57 L182.73 622.50 L183.06 622.42 L183.39 622.34 L183.72 622.27 L184.04 622.19 L184.37 622.11 L184.70 622.03 L185.02 621.95 L185.35 621.88 L185.68 621.80 L186.01 621.72 L186.33 621.63 L186.66 621.55 L186.99 621.47 L187.31 621.39 L187.64 621.31 L187.97 621.23 L188.30 621.14 L188.62 621.06 L188.95 620.98 L189.28 620.89 L189.60 620.81 L189.93 620.72 L190.26 620.64 L190.59 620.55 L190.91 620.47 L191.24 620.38 L191.57 620.30 L191.89 620.21 L192.22 620.12 L192.55 620.03 L192.88 619.94 L193.20 619.85 L193.53 619.77 L193.86 619.68 L194.18 619.59 L194.51 619.50 L194.84 619.40 L195.17 619.31 L195.49 619.22 L195.82 619.13 L196.15 619.04 L196.47 618.94 L196.80 618.85 L197.13 618.76 L197.46 618.66 L197.78 618.57 L198.11 618.47 L198.44 618.38 L198.76 618.28 L199.09 618.18 L199.42 618.08 L199.75 617.99 L200.07 617.89 L200.40 617.79 L200.73 617.69 L201.06 617.59 L201.38 617.49 L201.71 617.39 L202.04 617.29 L202.36 617.19 L202.69 617.09 L203.02 616.99 L203.35 616.88 L203.67 616.78 L204.00 616.68 L204.33 616.57 L204.65 616.47 L204.98 616.36 L205.31 616.26 L205.64 616.15 L205.96 616.04 L206.29 615.94 L206.62 615.83 L206.94 615.72 L207.27 615.61 L207.60 615.50 L207.93 615.39 L208.25 615.28 L208.58 615.17 L208.91 615.06 L209.23 614.95 L209.56 614.84 L209.89 614.72 L210.22 614.61 L210.54 614.50 L210.87 614.38 L211.20 614.27 L211.52 614.15 L211.85 614.04 L212.18 613.92 L212.51 613.80 L212.83 613.68 L213.16 613.57 L213.49 613.45 L213.81 613.33 L214.14 613.21 L214.47 613.09 L214.80 612.97 L215.12 612.85 L215.45 612.72 L215.78 612.60 L216.10 612.48 L216.43 612.35 L216.76 612.23 L217.09 612.10 L217.41 611.98 L217.74 611.85 L218.07 611.73 L218.40 611.60 L218.72 611.47 L219.05 611.34 L219.38 611.21 L219.70 611.08 L220.03 610.95 L220.36 610.82 L220.69 610.69 L221.01 610.56 L221.34 610.43 L221.67 610.29 L221.99 610.16 L222.32 610.02 L222.65 609.89 L222.98 609.75 L223.30 609.62 L223.63 609.48 L223.96 609.34 L224.28 609.20 L224.61 609.06 L224.94 608.92 L225.27 608.78 L225.59 608.64 L225.92 608.50 L226.25 608.36 L226.57 608.21 L226.90 608.07 L227.23 607.92 L227.56 607.78 L227.88 607.63 L228.21 607.49 L228.54 607.34 L228.86 607.19 L229.19 607.04 L229.52 606.89 L229.85 606.74 L230.17 606.59 L230.50 606.44 L230.83 606.29 L231.15 606.14 L231.48 605.98 L231.81 605.83 L232.14 605.67 L232.46 605.52 L232.79 605.36 L233.12 605.20 L233.44 605.04 L233.77 604.88 L234.10 604.72 L234.43 604.56 L234.75 604.40 L235.08 604.24 L235.41 604.08 L235.74 603.91 L236.06 603.75 L236.39 603.58 L236.72 603.42 L237.04 603.25 L237.37 603.08 L237.70 602.92 L238.03 602.75 L238.35 602.58 L238.68 602.41 L239.01 602.23 L239.33 602.06 L239.66 601.89 L239.99 601.71 L240.32 601.54 L240.64 601.36 L240.97 601.19 L241.30 601.01 L241.62 600.83 L241.95 600.65 L242.28 600.47 L242.61 600.29 L242.93 600.11 L243.26 599.92 L243.59 599.74 L243.91 599.56 L244.24 599.37 L244.57 599.18 L244.90 599.00 L245.22 598.81 L245.55 598.62 L245.88 598.43 L246.20 598.24 L246.53 598.05 L246.86 597.85 L247.19 597.66 L247.51 597.46 L247.84 597.27 L248.17 597.07 L248.49 596.87 L248.82 596.67 L249.15 596.47 L249.48 596.27 L249.80 596.07 L250.13 595.87 L250.46 595.67 L250.79 595.46 L251.11 595.25 L251.44 595.05 L251.77 594.84 L252.09 594.63 L252.42 594.42 L252.75 594.21 L253.08 594.00 L253.40 593.78 L253.73 593.57 L254.06 593.35 L254.38 593.14 L254.71 592.92 L255.04 592.70 L255.37 592.48 L255.69 592.26 L256.02 592.04 L256.35 591.82 L256.67 591.59 L257.00 591.37 L257.33 591.14 L257.66 590.91 L257.98 590.68 L258.31 590.45 L258.64 590.22 L258.96 589.99 L259.29 589.75 L259.62 589.52 L259.95 589.28 L260.27 589.05 L260.60 588.81 L260.93 588.57 L261.25 588.33 L261.58 588.08 L261.91 587.84 L262.24 587.60 L262.56 587.35 L262.89 587.10 L263.22 586.85 L263.54 586.60 L263.87 586.35 L264.20 586.10 L264.53 585.85 L264.85 585.59 L265.18 585.33 L265.51 585.08 L265.83 584.82 L266.16 584.56 L266.49 584.29 L266.82 584.03 L267.14 583.77 L267.47 583.50 L267.80 583.23 L268.13 582.96 L268.45 582.69 L268.78 582.42 L269.11 582.15 L269.43 581.87 L269.76 581.60 L270.09 581.32 L270.42 581.04 L270.74 580.76 L271.07 580.48 L271.40 580.19 L271.72 579.91 L272.05 579.62 L272.38 579.33 L272.71 579.04 L273.03 578.75 L273.36 578.46 L273.69 578.16 L274.01 577.87 L274.34 577.57 L274.67 577.27 L275.00 576.97 L275.32 576.67 L275.65 576.36 L275.98 576.06 L276.30 575.75 L276.63 575.44 L276.96 575.13 L277.29 574.82 L277.61 574.50 L277.94 574.19 L278.27 573.87 L278.59 573.55 L278.92 573.23 L279.25 572.90 L279.58 572.58 L279.90 572.25 L280.23 571.92 L280.56 571.59 L280.88 571.26 L281.21 570.93 L281.54 570.59 L281.87 570.25 L282.19 569.91 L282.52 569.57 L282.85 569.23 L283.17 568.88 L283.50 568.53 L283.83 568.18 L284.16 567.83 L284.48 567.48 L284.81 567.12 L285.14 566.77 L285.47 566.41 L285.79 566.05 L286.12 565.68 L286.45 565.32 L286.77 564.95 L287.10 564.58 L287.43 564.21 L287.76 563.83 L288.08 563.46 L288.41 563.08 L288.74 562.70 L289.06 562.32 L289.39 561.93 L289.72 561.54 L290.05 561.16 L290.37 560.76 L290.70 560.37 L291.03 559.97 L291.35 559.58 L291.68 559.18 L292.01 558.77 L292.34 558.37 L292.66 557.96 L292.99 557.55 L293.32 557.14 L293.64 556.72 L293.97 556.31 L294.30 555.89 L294.63 555.46 L294.95 555.04 L295.28 554.61 L295.61 554.18 L295.93 553.75 L296.26 553.32 L296.59 552.88 L296.92 552.44 L297.24 552.00 L297.57 551.55 L297.90 551.11 L298.22 550.66 L298.55 550.20 L298.88 549.75 L299.21 549.29 L299.53 548.83 L299.86 548.37 L300.19 547.90 L300.51 547.43 L300.84 546.96 L301.17 546.49 L301.50 546.01 L301.82 545.53 L302.15 545.04 L302.48 544.56 L302.81 544.07 L303.13 543.58 L303.46 543.08 L303.79 542.59 L304.11 542.09 L304.44 541.58 L304.77 541.08 L305.10 540.57 L305.42 540.05 L305.75 539.54 L306.08 539.02 L306.40 538.50 L306.73 537.97 L307.06 537.44 L307.39 536.91 L307.71 536.38 L308.04 535.84 L308.37 535.30 L308.69 534.76 L309.02 534.21 L309.35 533.66 L309.68 533.10 L310.00 532.55 L310.33 531.99 L310.66 531.42 L310.98 530.86 L311.31 530.29 L311.64 529.71 L311.97 529.13 L312.29 528.55 L312.62 527.97 L312.95 527.38 L313.27 526.79 L313.60 526.19 L313.93 525.60 L314.26 524.99 L314.58 524.39 L314.91 523.78 L315.24 523.17 L315.56 522.55 L315.89 521.93 L316.22 521.31 L316.55 520.68 L316.87 520.05 L317.20 519.41 L317.53 518.77 L317.85 518.13 L318.18 517.48 L318.51 516.83 L318.84 516.18 L319.16 515.52 L319.49 514.86 L319.82 514.20 L320.15 513.53 L320.47 512.85 L320.80 512.18 L321.13 511.50 L321.45 510.81 L321.78 510.12 L322.11 509.43 L322.44 508.73 L322.76 508.03 L323.09 507.33 L323.42 506.62 L323.74 505.90 L324.07 505.19 L324.40 504.47 L324.73 503.74 L325.05 503.01 L325.38 502.28 L325.71 501.54 L326.03 500.80 L326.36 500.05 L326.69 499.31 L327.02 498.55 L327.34 497.79 L327.67 497.03 L328.00 496.27 L328.32 495.50 L328.65 494.72 L328.98 493.94 L329.31 493.16 L329.63 492.37 L329.96 491.58 L330.29 490.79 L330.61 489.99 L330.94 489.19 L331.27 488.38 L331.60 487.57 L331.92 486.75 L332.25 485.93 L332.58 485.11 L332.90 484.28 L333.23 483.45 L333.56 482.62 L333.89 481.78 L334.21 480.93 L334.54 480.08 L334.87 479.23 L335.19 478.38 L335.52 477.52 L335.85 476.66 L336.18 475.79 L336.50 474.92 L336.83 474.04 L337.16 473.17 L337.49 472.29 L337.81 471.40 L338.14 470.51 L338.47 469.62 L338.79 468.72 L339.12 467.82 L339.45 466.92 L339.78 466.01 L340.10 465.10 L340.43 464.19 L340.76 463.28 L341.08 462.36 L341.41 461.43 L341.74 460.51 L342.07 459.58 L342.39 458.65 L342.72 457.72 L343.05 456.78 L343.37 455.84 L343.70 454.90 L344.03 453.96 L344.36 453.01 L344.68 452.06 L345.01 451.11 L345.34 450.16 L345.66 449.21 L345.99 448.25 L346.32 447.29 L346.65 446.33 L346.97 445.37 L347.30 444.41 L347.63 443.44 L347.95 442.48 L348.28 441.51 L348.61 440.55 L348.94 439.58 L349.26 438.61 L349.59 437.65 L349.92 436.68 L350.24 435.71 L350.57 434.74 L350.90 433.78 L351.23 432.81 L351.55 431.84 L351.88 430.88 L352.21 429.91 L352.53 428.95 L352.86 427.99 L353.19 427.03 L353.52 426.07 L353.84 425.11 L354.17 424.16 L354.50 423.21 L354.83 422.26 L355.15 421.31 L355.48 420.37 L355.81 419.43 L356.13 418.50 L356.46 417.57 L356.79 416.64 L357.12 415.71 L357.44 414.80 L357.77 413.88 L358.10 412.97 L358.42 412.07 L358.75 411.17 L359.08 410.28 L359.41 409.40 L359.73 408.52 L360.06 407.65 L360.39 406.78 L360.71 405.93 L361.04 405.08 L361.37 404.24 L361.70 403.40 L362.02 402.58 L362.35 401.76 L362.68 400.96 L363.00 400.16 L363.33 399.37 L363.66 398.60 L363.99 397.83 L364.31 397.07 L364.64 396.33 L364.97 395.60 L365.29 394.87 L365.62 394.16 L365.95 393.47 L366.28 392.78 L366.60 392.11 L366.93 391.45 L367.26 390.80 L367.58 390.17 L367.91 389.55 L368.24 388.95 L368.57 388.36 L368.89 387.79 L369.22 387.23 L369.55 386.68 L369.87 386.16 L370.20 385.64 L370.53 385.15 L370.86 384.67 L371.18 384.21 L371.51 383.76 L371.84 383.33 L372.17 382.92 L372.49 382.53 L372.82 382.15 L373.15 381.79 L373.47 381.46 L373.80 381.13 L374.13 380.83 L374.46 380.55 L374.78 380.28 L375.11 380.04 L375.44 379.81 L375.76 379.60 L376.09 379.42 L376.42 379.25 L376.75 379.10 L377.07 378.97 L377.40 378.86 L377.73 378.77 L378.05 378.70 L378.38 378.65 L378.71 378.62 L379.04 378.61 L379.36 378.62 L379.69 378.65 L380.02 378.70 L380.34 378.77 L380.67 378.86 L381.00 378.97 L381.33 379.10 L381.65 379.25 L381.98 379.42 L382.31 379.60 L382.63 379.81 L382.96 380.04 L383.29 380.28 L383.62 380.55 L383.94 380.83 L384.27 381.13 L384.60 381.46 L384.92 381.79 L385.25 382.15 L385.58 382.53 L385.91 382.92 L386.23 383.33 L386.56 383.76 L386.89 384.21 L387.21 384.67 L387.54 385.15 L387.87 385.64 L388.20 386.16 L388.52 386.68 L388.85 387.23 L389.18 387.79 L389.51 388.36 L389.83 388.95 L390.16 389.55 L390.49 390.17 L390.81 390.80 L391.14 391.45 L391.47 392.11 L391.80 392.78 L392.12 393.47 L392.45 394.16 L392.78 394.87 L393.10 395.60 L393.43 396.33 L393.76 397.07 L394.09 397.83 L394.41 398.60 L394.74 399.37 L395.07 400.16 L395.39 400.96 L395.72 401.76 L396.05 402.58 L396.38 403.40 L396.70 404.24 L397.03 405.08 L397.36 405.93 L397.68 406.78 L398.01 407.65 L398.34 408.52 L398.67 409.40 L398.99 410.28 L399.32 411.17 L399.65 412.07 L399.97 412.97 L400.30 413.88 L400.63 414.80 L400.96 415.71 L401.28 416.64 L401.61 417.57 L401.94 418.50 L402.26 419.43 L402.59 420.37 L402.92 421.31 L403.25 422.26 L403.57 423.21 L403.90 424.16 L404.23 425.11 L404.55 426.07 L404.88 427.03 L405.21 427.99 L405.54 428.95 L405.86 429.91 L406.19 430.88 L406.52 431.84 L406.85 432.81 L407.17 433.78 L407.50 434.74 L407.83 435.71 L408.15 436.68 L408.48 437.65 L408.81 438.61 L409.14 439.58 L409.46 440.55 L409.79 441.51 L410.12 442.48 L410.44 443.44 L410.77 444.41 L411.10 445.37 L411.43 446.33 L411.75 447.29 L412.08 448.25 L412.41 449.21 L412.73 450.16 L413.06 451.11 L413.39 452.06 L413.72 453.01 L414.04 453.96 L414.37 454.90 L414.70 455.84 L415.02 456.78 L415.35 457.72 L415.68 458.65 L416.01 459.58 L416.33 460.51 L416.66 461.43 L416.99 462.36 L417.31 463.28 L417.64 464.19 L417.97 465.10 L418.30 466.01 L418.62 466.92 L418.95 467.82 L419.28 468.72 L419.60 469.62 L419.93 470.51 L420.26 471.40 L420.59 472.29 L420.91 473.17 L421.24 474.04 L421.57 474.92 L421.89 475.79 L422.22 476.66 L422.55 477.52 L422.88 478.38 L423.20 479.23 L423.53 480.08 L423.86 480.93 L424.19 481.78 L424.51 482.62 L424.84 483.45 L425.17 484.28 L425.49 485.11 L425.82 485.93 L426.15 486.75 L426.48 487.57 L426.80 488.38 L427.13 489.19 L427.46 489.99 L427.78 490.79 L428.11 491.58 L428.44 492.37 L428.77 493.16 L429.09 493.94 L429.42 494.72 L429.75 495.50 L430.07 496.27 L430.40 497.03 L430.73 497.79 L431.06 498.55 L431.38 499.31 L431.71 500.05 L432.04 500.80 L432.36 501.54 L432.69 502.28 L433.02 503.01 L433.35 503.74 L433.67 504.47 L434.00 505.19 L434.33 505.90 L434.65 506.62 L434.98 507.33 L435.31 508.03 L435.64 508.73 L435.96 509.43 L436.29 510.12 L436.62 510.81 L436.94 511.50 L437.27 512.18 L437.60 512.85 L437.93 513.53 L438.25 514.20 L438.58 514.86 L438.91 515.52 L439.23 516.18 L439.56 516.83 L439.89 517.48 L440.22 518.13 L440.54 518.77 L440.87 519.41 L441.20 520.05 L441.53 520.68 L441.85 521.31 L442.18 521.93 L442.51 522.55 L442.83 523.17 L443.16 523.78 L443.49 524.39 L443.82 524.99 L444.14 525.60 L444.47 526.19 L444.80 526.79 L445.12 527.38 L445.45 527.97 L445.78 528.55 L446.11 529.13 L446.43 529.71 L446.76 530.29 L447.09 530.86 L447.41 531.42 L447.74 531.99 L448.07 532.55 L448.40 533.10 L448.72 533.66 L449.05 534.21 L449.38 534.76 L449.70 535.30 L450.03 535.84 L450.36 536.38 L450.69 536.91 L451.01 537.44 L451.34 537.97 L451.67 538.50 L451.99 539.02 L452.32 539.54 L452.65 540.05 L452.98 540.57 L453.30 541.08 L453.63 541.58 L453.96 542.09 L454.28 542.59 L454.61 543.08 L454.94 543.58 L455.27 544.07 L455.59 544.56 L455.92 545.04 L456.25 545.53 L456.57 546.01 L456.90 546.49 L457.23 546.96 L457.56 547.43 L457.88 547.90 L458.21 548.37 L458.54 548.83 L458.87 549.29 L459.19 549.75 L459.52 550.20 L459.85 550.66 L460.17 551.11 L460.50 551.55 L460.83 552.00 L461.16 552.44 L461.48 552.88 L461.81 553.32 L462.14 553.75 L462.46 554.18 L462.79 554.61 L463.12 555.04 L463.45 555.46 L463.77 555.89 L464.10 556.31 L464.43 556.72 L464.75 557.14 L465.08 557.55 L465.41 557.96 L465.74 558.37 L466.06 558.77 L466.39 559.18 L466.72 559.58 L467.04 559.97 L467.37 560.37 L467.70 560.76 L468.03 561.16 L468.35 561.54 L468.68 561.93 L469.01 562.32 L469.33 562.70 L469.66 563.08 L469.99 563.46 L470.32 563.83 L470.64 564.21 L470.97 564.58 L471.30 564.95 L471.62 565.32 L471.95 565.68 L472.28 566.05 L472.61 566.41 L472.93 566.77 L473.26 567.12 L473.59 567.48 L473.91 567.83 L474.24 568.18 L474.57 568.53 L474.90 568.88 L475.22 569.23 L475.55 569.57 L475.88 569.91 L476.21 570.25 L476.53 570.59 L476.86 570.93 L477.19 571.26 L477.51 571.59 L477.84 571.92 L478.17 572.25 L478.50 572.58 L478.82 572.90 L479.15 573.23 L479.48 573.55 L479.80 573.87" stroke="#70c070" stroke-width="2.2" stroke-linejoin="round" fill="none"/><path d="M87.20 632.78 L87.53 632.77 L87.85 632.77 L88.18 632.77 L88.51 632.77 L88.84 632.77 L89.16 632.76 L89.49 632.76 L89.82 632.76 L90.14 632.75 L90.47 632.75 L90.80 632.75 L91.13 632.74 L91.45 632.74 L91.78 632.73 L92.11 632.73 L92.43 632.73 L92.76 632.72 L93.09 632.72 L93.42 632.71 L93.74 632.71 L94.07 632.70 L94.40 632.69 L94.72 632.69 L95.05 632.68 L95.38 632.68 L95.71 632.67 L96.03 632.66 L96.36 632.66 L96.69 632.65 L97.02 632.64 L97.34 632.63 L97.67 632.63 L98.00 632.62 L98.32 632.61 L98.65 632.60 L98.98 632.59 L99.31 632.58 L99.63 632.58 L99.96 632.57 L100.29 632.56 L100.61 632.55 L100.94 632.54 L101.27 632.53 L101.60 632.52 L101.92 632.51 L102.25 632.50 L102.58 632.49 L102.90 632.48 L103.23 632.46 L103.56 632.45 L103.89 632.44 L104.21 632.43 L104.54 632.42 L104.87 632.41 L105.19 632.39 L105.52 632.38 L105.85 632.37 L106.18 632.36 L106.50 632.34 L106.83 632.33 L107.16 632.32 L107.48 632.30 L107.81 632.29 L108.14 632.27 L108.47 632.26 L108.79 632.25 L109.12 632.23 L109.45 632.22 L109.77 632.20 L110.10 632.19 L110.43 632.17 L110.76 632.15 L111.08 632.14 L111.41 632.12 L111.74 632.11 L112.06 632.09 L112.39 632.07 L112.72 632.06 L113.05 632.04 L113.37 632.02 L113.70 632.00 L114.03 631.99 L114.36 631.97 L114.68 631.95 L115.01 631.93 L115.34 631.91 L115.66 631.89 L115.99 631.88 L116.32 631.86 L116.65 631.84 L116.97 631.82 L117.30 631.80 L117.63 631.78 L117.95 631.76 L118.28 631.74 L118.61 631.72 L118.94 631.70 L119.26 631.67 L119.59 631.65 L119.92 631.63 L120.24 631.61 L120.57 631.59 L120.90 631.57 L121.23 631.54 L121.55 631.52 L121.88 631.50 L122.21 631.48 L122.53 631.45 L122.86 631.43 L123.19 631.41 L123.52 631.38 L123.84 631.36 L124.17 631.33 L124.50 631.31 L124.82 631.29 L125.15 631.26 L125.48 631.24 L125.81 631.21 L126.13 631.18 L126.46 631.16 L126.79 631.13 L127.11 631.11 L127.44 631.08 L127.77 631.05 L128.10 631.03 L128.42 631.00 L128.75 630.97 L129.08 630.95 L129.40 630.92 L129.73 630.89 L130.06 630.86 L130.39 630.83 L130.71 630.80 L131.04 630.78 L131.37 630.75 L131.70 630.72 L132.02 630.69 L132.35 630.66 L132.68 630.63 L133.00 630.60 L133.33 630.57 L133.66 630.54 L133.99 630.51 L134.31 630.48 L134.64 630.45 L134.97 630.41 L135.29 630.38 L135.62 630.35 L135.95 630.32 L136.28 630.29 L136.60 630.25 L136.93 630.22 L137.26 630.19 L137.58 630.15 L137.91 630.12 L138.24 630.09 L138.57 630.05 L138.89 630.02 L139.22 629.98 L139.55 629.95 L139.87 629.92 L140.20 629.88 L140.53 629.84 L140.86 629.81 L141.18 629.77 L141.51 629.74 L141.84 629.70 L142.16 629.66 L142.49 629.63 L142.82 629.59 L143.15 629.55 L143.47 629.52 L143.80 629.48 L144.13 629.44 L144.45 629.40 L144.78 629.36 L145.11 629.33 L145.44 629.29 L145.76 629.25 L146.09 629.21 L146.42 629.17 L146.74 629.13 L147.07 629.09 L147.40 629.05 L147.73 629.01 L148.05 628.97 L148.38 628.93 L148.71 628.88 L149.04 628.84 L149.36 628.80 L149.69 628.76 L150.02 628.72 L150.34 628.67 L150.67 628.63 L151.00 628.59 L151.33 628.54 L151.65 628.50 L151.98 628.46 L152.31 628.41 L152.63 628.37 L152.96 628.32 L153.29 628.28 L153.62 628.23 L153.94 628.19 L154.27 628.14 L154.60 628.10 L154.92 628.05 L155.25 628.01 L155.58 627.96 L155.91 627.91 L156.23 627.86 L156.56 627.82 L156.89 627.77 L157.21 627.72 L157.54 627.67 L157.87 627.62 L158.20 627.58 L158.52 627.53 L158.85 627.48 L159.18 627.43 L159.50 627.38 L159.83 627.33 L160.16 627.28 L160.49 627.23 L160.81 627.18 L161.14 627.13 L161.47 627.07 L161.79 627.02 L162.12 626.97 L162.45 626.92 L162.78 626.87 L163.10 626.81 L163.43 626.76 L163.76 626.71 L164.08 626.65 L164.41 626.60 L164.74 626.54 L165.07 626.49 L165.39 626.44 L165.72 626.38 L166.05 626.33 L166.38 626.27 L166.70 626.21 L167.03 626.16 L167.36 626.10 L167.68 626.04 L168.01 625.99 L168.34 625.93 L168.67 625.87 L168.99 625.81 L169.32 625.76 L169.65 625.70 L169.97 625.64 L170.30 625.58 L170.63 625.52 L170.96 625.46 L171.28 625.40 L171.61 625.34 L171.94 625.28 L172.26 625.22 L172.59 625.16 L172.92 625.10 L173.25 625.04 L173.57 624.97 L173.90 624.91 L174.23 624.85 L174.55 624.79 L174.88 624.72 L175.21 624.66 L175.54 624.59 L175.86 624.53 L176.19 624.47 L176.52 624.40 L176.84 624.34 L177.17 624.27 L177.50 624.20 L177.83 624.14 L178.15 624.07 L178.48 624.01 L178.81 623.94 L179.13 623.87 L179.46 623.80 L179.79 623.74 L180.12 623.67 L180.44 623.60 L180.77 623.53 L181.10 623.46 L181.42 623.39 L181.75 623.32 L182.08 623.25 L182.41 623.18 L182.73 623.11 L183.06 623.04 L183.39 622.97 L183.72 622.89 L184.04 622.82 L184.37 622.75 L184.70 622.68 L185.02 622.60 L185.35 622.53 L185.68 622.45 L186.01 622.38 L186.33 622.31 L186.66 622.23 L186.99 622.15 L187.31 622.08 L187.64 622.00 L187.97 621.93 L188.30 621.85 L188.62 621.77 L188.95 621.70 L189.28 621.62 L189.60 621.54 L189.93 621.46 L190.26 621.38 L190.59 621.30 L190.91 621.22 L191.24 621.14 L191.57 621.06 L191.89 620.98 L192.22 620.90 L192.55 620.82 L192.88 620.74 L193.20 620.65 L193.53 620.57 L193.86 620.49 L194.18 620.41 L194.51 620.32 L194.84 620.24 L195.17 620.15 L195.49 620.07 L195.82 619.98 L196.15 619.90 L196.47 619.81 L196.80 619.73 L197.13 619.64 L197.46 619.55 L197.78 619.46 L198.11 619.38 L198.44 619.29 L198.76 619.20 L199.09 619.11 L199.42 619.02 L199.75 618.93 L200.07 618.84 L200.40 618.75 L200.73 618.66 L201.06 618.57 L201.38 618.47 L201.71 618.38 L202.04 618.29 L202.36 618.19 L202.69 618.10 L203.02 618.01 L203.35 617.91 L203.67 617.82 L204.00 617.72 L204.33 617.63 L204.65 617.53 L204.98 617.43 L205.31 617.34 L205.64 617.24 L205.96 617.14 L206.29 617.04 L206.62 616.94 L206.94 616.84 L207.27 616.74 L207.60 616.64 L207.93 616.54 L208.25 616.44 L208.58 616.34 L208.91 616.24 L209.23 616.14 L209.56 616.03 L209.89 615.93 L210.22 615.83 L210.54 615.72 L210.87 615.62 L211.20 615.51 L211.52 615.41 L211.85 615.30 L212.18 615.20 L212.51 615.09 L212.83 614.98 L213.16 614.87 L213.49 614.76 L213.81 614.66 L214.14 614.55 L214.47 614.44 L214.80 614.33 L215.12 614.22 L215.45 614.10 L215.78 613.99 L216.10 613.88 L216.43 613.77 L216.76 613.65 L217.09 613.54 L217.41 613.43 L217.74 613.31 L218.07 613.20 L218.40 613.08 L218.72 612.96 L219.05 612.85 L219.38 612.73 L219.70 612.61 L220.03 612.49 L220.36 612.37 L220.69 612.25 L221.01 612.13 L221.34 612.01 L221.67 611.89 L221.99 611.77 L222.32 611.65 L222.65 611.53 L222.98 611.40 L223.30 611.28 L223.63 611.16 L223.96 611.03 L224.28 610.91 L224.61 610.78 L224.94 610.65 L225.27 610.53 L225.59 610.40 L225.92 610.27 L226.25 610.14 L226.57 610.01 L226.90 609.88 L227.23 609.75 L227.56 609.62 L227.88 609.49 L228.21 609.36 L228.54 609.23 L228.86 609.09 L229.19 608.96 L229.52 608.82 L229.85 608.69 L230.17 608.55 L230.50 608.42 L230.83 608.28 L231.15 608.14 L231.48 608.00 L231.81 607.87 L232.14 607.73 L232.46 607.59 L232.79 607.45 L233.12 607.30 L233.44 607.16 L233.77 607.02 L234.10 606.88 L234.43 606.73 L234.75 606.59 L235.08 606.44 L235.41 606.30 L235.74 606.15 L236.06 606.00 L236.39 605.86 L236.72 605.71 L237.04 605.56 L237.37 605.41 L237.70 605.26 L238.03 605.11 L238.35 604.96 L238.68 604.81 L239.01 604.65 L239.33 604.50 L239.66 604.34 L239.99 604.19 L240.32 604.03 L240.64 603.88 L240.97 603.72 L241.30 603.56 L241.62 603.40 L241.95 603.24 L242.28 603.08 L242.61 602.92 L242.93 602.76 L243.26 602.60 L243.59 602.44 L243.91 602.27 L244.24 602.11 L244.57 601.95 L244.90 601.78 L245.22 601.61 L245.55 601.45 L245.88 601.28 L246.20 601.11 L246.53 600.94 L246.86 600.77 L247.19 600.60 L247.51 600.43 L247.84 600.25 L248.17 600.08 L248.49 599.91 L248.82 599.73 L249.15 599.56 L249.48 599.38 L249.80 599.20 L250.13 599.02 L250.46 598.84 L250.79 598.66 L251.11 598.48 L251.44 598.30 L251.77 598.12 L252.09 597.94 L252.42 597.75 L252.75 597.57 L253.08 597.38 L253.40 597.20 L253.73 597.01 L254.06 596.82 L254.38 596.63 L254.71 596.44 L255.04 596.25 L255.37 596.06 L255.69 595.87 L256.02 595.67 L256.35 595.48 L256.67 595.28 L257.00 595.09 L257.33 594.89 L257.66 594.69 L257.98 594.49 L258.31 594.29 L258.64 594.09 L258.96 593.89 L259.29 593.69 L259.62 593.49 L259.95 593.28 L260.27 593.08 L260.60 592.87 L260.93 592.66 L261.25 592.46 L261.58 592.25 L261.91 592.04 L262.24 591.82 L262.56 591.61 L262.89 591.40 L263.22 591.19 L263.54 590.97 L263.87 590.75 L264.20 590.54 L264.53 590.32 L264.85 590.10 L265.18 589.88 L265.51 589.66 L265.83 589.44 L266.16 589.21 L266.49 588.99 L266.82 588.76 L267.14 588.54 L267.47 588.31 L267.80 588.08 L268.13 587.85 L268.45 587.62 L268.78 587.39 L269.11 587.16 L269.43 586.92 L269.76 586.69 L270.09 586.45 L270.42 586.21 L270.74 585.97 L271.07 585.74 L271.40 585.49 L271.72 585.25 L272.05 585.01 L272.38 584.77 L272.71 584.52 L273.03 584.27 L273.36 584.03 L273.69 583.78 L274.01 583.53 L274.34 583.28 L274.67 583.02 L275.00 582.77 L275.32 582.51 L275.65 582.26 L275.98 582.00 L276.30 581.74 L276.63 581.48 L276.96 581.22 L277.29 580.96 L277.61 580.70 L277.94 580.43 L278.27 580.16 L278.59 579.90 L278.92 579.63 L279.25 579.36 L279.58 579.09 L279.90 578.81 L280.23 578.54 L280.56 578.26 L280.88 577.99 L281.21 577.71 L281.54 577.43 L281.87 577.15 L282.19 576.87 L282.52 576.58 L282.85 576.30 L283.17 576.01 L283.50 575.73 L283.83 575.44 L284.16 575.15 L284.48 574.85 L284.81 574.56 L285.14 574.27 L285.47 573.97 L285.79 573.67 L286.12 573.37 L286.45 573.07 L286.77 572.77 L287.10 572.47 L287.43 572.16 L287.76 571.85 L288.08 571.55 L288.41 571.24 L288.74 570.92 L289.06 570.61 L289.39 570.30 L289.72 569.98 L290.05 569.66 L290.37 569.34 L290.70 569.02 L291.03 568.70 L291.35 568.38 L291.68 568.05 L292.01 567.72 L292.34 567.40 L292.66 567.07 L292.99 566.73 L293.32 566.40 L293.64 566.06 L293.97 565.73 L294.30 565.39 L294.63 565.05 L294.95 564.71 L295.28 564.36 L295.61 564.02 L295.93 563.67 L296.26 563.32 L296.59 562.97 L296.92 562.62 L297.24 562.26 L297.57 561.90 L297.90 561.55 L298.22 561.19 L298.55 560.82 L298.88 560.46 L299.21 560.09 L299.53 559.73 L299.86 559.36 L300.19 558.99 L300.51 558.61 L300.84 558.24 L301.17 557.86 L301.50 557.48 L301.82 557.10 L302.15 556.72 L302.48 556.34 L302.81 555.95 L303.13 555.56 L303.46 555.17 L303.79 554.78 L304.11 554.38 L304.44 553.99 L304.77 553.59 L305.10 553.19 L305.42 552.78 L305.75 552.38 L306.08 551.97 L306.40 551.56 L306.73 551.15 L307.06 550.74 L307.39 550.32 L307.71 549.90 L308.04 549.48 L308.37 549.06 L308.69 548.64 L309.02 548.21 L309.35 547.78 L309.68 547.35 L310.00 546.92 L310.33 546.48 L310.66 546.04 L310.98 545.60 L311.31 545.16 L311.64 544.72 L311.97 544.27 L312.29 543.82 L312.62 543.37 L312.95 542.91 L313.27 542.46 L313.60 542.00 L313.93 541.54 L314.26 541.07 L314.58 540.61 L314.91 540.14 L315.24 539.67 L315.56 539.20 L315.89 538.72 L316.22 538.24 L316.55 537.76 L316.87 537.28 L317.20 536.79 L317.53 536.30 L317.85 535.81 L318.18 535.32 L318.51 534.82 L318.84 534.32 L319.16 533.82 L319.49 533.31 L319.82 532.81 L320.15 532.30 L320.47 531.78 L320.80 531.27 L321.13 530.75 L321.45 530.23 L321.78 529.71 L322.11 529.18 L322.44 528.65 L322.76 528.12 L323.09 527.58 L323.42 527.05 L323.74 526.51 L324.07 525.96 L324.40 525.42 L324.73 524.87 L325.05 524.31 L325.38 523.76 L325.71 523.20 L326.03 522.64 L326.36 522.08 L326.69 521.51 L327.02 520.94 L327.34 520.36 L327.67 519.79 L328.00 519.21 L328.32 518.63 L328.65 518.04 L328.98 517.45 L329.31 516.86 L329.63 516.27 L329.96 515.67 L330.29 515.07 L330.61 514.46 L330.94 513.85 L331.27 513.24 L331.60 512.63 L331.92 512.01 L332.25 511.39 L332.58 510.76 L332.90 510.14 L333.23 509.51 L333.56 508.87 L333.89 508.23 L334.21 507.59 L334.54 506.95 L334.87 506.30 L335.19 505.65 L335.52 504.99 L335.85 504.33 L336.18 503.67 L336.50 503.00 L336.83 502.33 L337.16 501.66 L337.49 500.98 L337.81 500.30 L338.14 499.62 L338.47 498.93 L338.79 498.24 L339.12 497.55 L339.45 496.85 L339.78 496.15 L340.10 495.44 L340.43 494.73 L340.76 494.02 L341.08 493.30 L341.41 492.58 L341.74 491.85 L342.07 491.12 L342.39 490.39 L342.72 489.65 L343.05 488.91 L343.37 488.16 L343.70 487.42 L344.03 486.66 L344.36 485.91 L344.68 485.14 L345.01 484.38 L345.34 483.61 L345.66 482.84 L345.99 482.06 L346.32 481.28 L346.65 480.49 L346.97 479.70 L347.30 478.91 L347.63 478.11 L347.95 477.31 L348.28 476.50 L348.61 475.69 L348.94 474.87 L349.26 474.05 L349.59 473.23 L349.92 472.40 L350.24 471.57 L350.57 470.73 L350.90 469.89 L351.23 469.04 L351.55 468.19 L351.88 467.34 L352.21 466.48 L352.53 465.61 L352.86 464.74 L353.19 463.87 L353.52 462.99 L353.84 462.11 L354.17 461.22 L354.50 460.33 L354.83 459.43 L355.15 458.53 L355.48 457.62 L355.81 456.71 L356.13 455.80 L356.46 454.88 L356.79 453.95 L357.12 453.02 L357.44 452.09 L357.77 451.15 L358.10 450.20 L358.42 449.25 L358.75 448.30 L359.08 447.34 L359.41 446.37 L359.73 445.40 L360.06 444.43 L360.39 443.45 L360.71 442.47 L361.04 441.48 L361.37 440.48 L361.70 439.48 L362.02 438.48 L362.35 437.47 L362.68 436.45 L363.00 435.43 L363.33 434.40 L363.66 433.37 L363.99 432.34 L364.31 431.30 L364.64 430.25 L364.97 429.20 L365.29 428.14 L365.62 427.08 L365.95 426.01 L366.28 424.93 L366.60 423.85 L366.93 422.77 L367.26 421.68 L367.58 420.58 L367.91 419.48 L368.24 418.37 L368.57 417.26 L368.89 416.14 L369.22 415.02 L369.55 413.89 L369.87 412.76 L370.20 411.62 L370.53 410.47 L370.86 409.32 L371.18 408.16 L371.51 407.00 L371.84 405.83 L372.17 404.65 L372.49 403.47 L372.82 402.29 L373.15 401.09 L373.47 399.90 L373.80 398.69 L374.13 397.48 L374.46 396.27 L374.78 395.04 L375.11 393.82 L375.44 392.58 L375.76 391.34 L376.09 390.10 L376.42 388.85 L376.75 387.59 L377.07 386.32 L377.40 385.05 L377.73 383.78 L378.05 382.49 L378.38 381.21 L378.71 379.91 L379.04 378.61 L379.36 379.91 L379.69 381.21 L380.02 382.49 L380.34 383.78 L380.67 385.05 L381.00 386.32 L381.33 387.59 L381.65 388.85 L381.98 390.10 L382.31 391.34 L382.63 392.58 L382.96 393.82 L383.29 395.04 L383.62 396.27 L383.94 397.48 L384.27 398.69 L384.60 399.90 L384.92 401.09 L385.25 402.29 L385.58 403.47 L385.91 404.65 L386.23 405.83 L386.56 407.00 L386.89 408.16 L387.21 409.32 L387.54 410.47 L387.87 411.62 L388.20 412.76 L388.52 413.89 L388.85 415.02 L389.18 416.14 L389.51 417.26 L389.83 418.37 L390.16 419.48 L390.49 420.58 L390.81 421.68 L391.14 422.77 L391.47 423.85 L391.80 424.93 L392.12 426.01 L392.45 427.08 L392.78 428.14 L393.10 429.20 L393.43 430.25 L393.76 431.30 L394.09 432.34 L394.41 433.37 L394.74 434.40 L395.07 435.43 L395.39 436.45 L395.72 437.47 L396.05 438.48 L396.38 439.48 L396.70 440.48 L397.03 441.48 L397.36 442.47 L397.68 443.45 L398.01 444.43 L398.34 445.40 L398.67 446.37 L398.99 447.34 L399.32 448.30 L399.65 449.25 L399.97 450.20 L400.30 451.15 L400.63 452.09 L400.96 453.02 L401.28 453.95 L401.61 454.88 L401.94 455.80 L402.26 456.71 L402.59 457.62 L402.92 458.53 L403.25 459.43 L403.57 460.33 L403.90 461.22 L404.23 462.11 L404.55 462.99 L404.88 463.87 L405.21 464.74 L405.54 465.61 L405.86 466.48 L406.19 467.34 L406.52 468.19 L406.85 469.04 L407.17 469.89 L407.50 470.73 L407.83 471.57 L408.15 472.40 L408.48 473.23 L408.81 474.05 L409.14 474.87 L409.46 475.69 L409.79 476.50 L410.12 477.31 L410.44 478.11 L410.77 478.91 L411.10 479.70 L411.43 480.49 L411.75 481.28 L412.08 482.06 L412.41 482.84 L412.73 483.61 L413.06 484.38 L413.39 485.14 L413.72 485.91 L414.04 486.66 L414.37 487.42 L414.70 488.16 L415.02 488.91 L415.35 489.65 L415.68 490.39 L416.01 491.12 L416.33 491.85 L416.66 492.58 L416.99 493.30 L417.31 494.02 L417.64 494.73 L417.97 495.44 L418.30 496.15 L418.62 496.85 L418.95 497.55 L419.28 498.24 L419.60 498.93 L419.93 499.62 L420.26 500.30 L420.59 500.98 L420.91 501.66 L421.24 502.33 L421.57 503.00 L421.89 503.67 L422.22 504.33 L422.55 504.99 L422.88 505.65 L423.20 506.30 L423.53 506.95 L423.86 507.59 L424.19 508.23 L424.51 508.87 L424.84 509.51 L425.17 510.14 L425.49 510.76 L425.82 511.39 L426.15 512.01 L426.48 512.63 L426.80 513.24 L427.13 513.85 L427.46 514.46 L427.78 515.07 L428.11 515.67 L428.44 516.27 L428.77 516.86 L429.09 517.45 L429.42 518.04 L429.75 518.63 L430.07 519.21 L430.40 519.79 L430.73 520.36 L431.06 520.94 L431.38 521.51 L431.71 522.08 L432.04 522.64 L432.36 523.20 L432.69 523.76 L433.02 524.31 L433.35 524.87 L433.67 525.42 L434.00 525.96 L434.33 526.51 L434.65 527.05 L434.98 527.58 L435.31 528.12 L435.64 528.65 L435.96 529.18 L436.29 529.71 L436.62 530.23 L436.94 530.75 L437.27 531.27 L437.60 531.78 L437.93 532.30 L438.25 532.81 L438.58 533.31 L438.91 533.82 L439.23 534.32 L439.56 534.82 L439.89 535.32 L440.22 535.81 L440.54 536.30 L440.87 536.79 L441.20 537.28 L441.53 537.76 L441.85 538.24 L442.18 538.72 L442.51 539.20 L442.83 539.67 L443.16 540.14 L443.49 540.61 L443.82 541.07 L444.14 541.54 L444.47 542.00 L444.80 542.46 L445.12 542.91 L445.45 543.37 L445.78 543.82 L446.11 544.27 L446.43 544.72 L446.76 545.16 L447.09 545.60 L447.41 546.04 L447.74 546.48 L448.07 546.92 L448.40 547.35 L448.72 547.78 L449.05 548.21 L449.38 548.64 L449.70 549.06 L450.03 549.48 L450.36 549.90 L450.69 550.32 L451.01 550.74 L451.34 551.15 L451.67 551.56 L451.99 551.97 L452.32 552.38 L452.65 552.78 L452.98 553.19 L453.30 553.59 L453.63 553.99 L453.96 554.38 L454.28 554.78 L454.61 555.17 L454.94 555.56 L455.27 555.95 L455.59 556.34 L455.92 556.72 L456.25 557.10 L456.57 557.48 L456.90 557.86 L457.23 558.24 L457.56 558.61 L457.88 558.99 L458.21 559.36 L458.54 559.73 L458.87 560.09 L459.19 560.46 L459.52 560.82 L459.85 561.19 L460.17 561.55 L460.50 561.90 L460.83 562.26 L461.16 562.62 L461.48 562.97 L461.81 563.32 L462.14 563.67 L462.46 564.02 L462.79 564.36 L463.12 564.71 L463.45 565.05 L463.77 565.39 L464.10 565.73 L464.43 566.06 L464.75 566.40 L465.08 566.73 L465.41 567.07 L465.74 567.40 L466.06 567.72 L466.39 568.05 L466.72 568.38 L467.04 568.70 L467.37 569.02 L467.70 569.34 L468.03 569.66 L468.35 569.98 L468.68 570.30 L469.01 570.61 L469.33 570.92 L469.66 571.24 L469.99 571.55 L470.32 571.85 L470.64 572.16 L470.97 572.47 L471.30 572.77 L471.62 573.07 L471.95 573.37 L472.28 573.67 L472.61 573.97 L472.93 574.27 L473.26 574.56 L473.59 574.85 L473.91 575.15 L474.24 575.44 L474.57 575.73 L474.90 576.01 L475.22 576.30 L475.55 576.58 L475.88 576.87 L476.21 577.15 L476.53 577.43 L476.86 577.71 L477.19 577.99 L477.51 578.26 L477.84 578.54 L478.17 578.81 L478.50 579.09 L478.82 579.36 L479.15 579.63 L479.48 579.90 L479.80 580.16" stroke="#1f3cff" stroke-width="2.2" stroke-linejoin="round" fill="none"/></g><ellipse cx="119" cy="424.5" rx="7.3" ry="6.8" fill="#000"/><path d="M97.3 444H140" stroke="#70c070" stroke-width="2.1"/><path d="M97.3 463.9H140" stroke="#0a1aff" stroke-width="2.3"/><g fill="#ff47a6"><ellipse cx="560.8" cy="639.3" rx="4.7" ry="4.4"/><ellipse cx="593.6" cy="639.3" rx="4.7" ry="4.4"/><ellipse cx="626.3" cy="639.1" rx="4.7" ry="4.4"/><ellipse cx="659.1" cy="638.9" rx="4.7" ry="4.4"/><ellipse cx="691.8" cy="638.6" rx="4.7" ry="4.4"/><ellipse cx="724.6" cy="638.2" rx="4.7" ry="4.4"/><ellipse cx="757.3" cy="636.9" rx="4.7" ry="4.4"/><ellipse cx="773.7" cy="636.4" rx="4.7" ry="4.4"/><ellipse cx="790.1" cy="635.6" rx="4.7" ry="4.4"/><ellipse cx="806.5" cy="633.9" rx="4.7" ry="4.4"/><ellipse cx="813.0" cy="632.3" rx="4.7" ry="4.4"/><ellipse cx="816.3" cy="632.9" rx="4.7" ry="4.4"/><ellipse cx="817.9" cy="632.0" rx="4.7" ry="4.4"/><ellipse cx="819.7" cy="631.7" rx="4.7" ry="4.4"/><ellipse cx="821.2" cy="631.6" rx="4.7" ry="4.4"/><ellipse cx="822.9" cy="630.2" rx="4.7" ry="4.4"/><ellipse cx="824.5" cy="630.8" rx="4.7" ry="4.4"/><ellipse cx="826.1" cy="629.1" rx="4.7" ry="4.4"/><ellipse cx="827.8" cy="629.9" rx="4.7" ry="4.4"/><ellipse cx="829.4" cy="628.9" rx="4.7" ry="4.4"/><ellipse cx="831.0" cy="627.8" rx="4.7" ry="4.4"/><ellipse cx="832.6" cy="626.3" rx="4.7" ry="4.4"/><ellipse cx="834.3" cy="625.8" rx="4.7" ry="4.4"/><ellipse cx="836.0" cy="623.7" rx="4.7" ry="4.4"/><ellipse cx="837.5" cy="623.0" rx="4.7" ry="4.4"/><ellipse cx="839.2" cy="621.1" rx="4.7" ry="4.4"/><ellipse cx="839.8" cy="620.2" rx="4.7" ry="4.4"/><ellipse cx="840.6" cy="619.5" rx="4.7" ry="4.4"/><ellipse cx="841.1" cy="618.7" rx="4.7" ry="4.4"/><ellipse cx="841.8" cy="618.5" rx="4.7" ry="4.4"/><ellipse cx="842.5" cy="617.0" rx="4.7" ry="4.4"/><ellipse cx="843.3" cy="613.8" rx="4.7" ry="4.4"/><ellipse cx="843.7" cy="613.3" rx="4.7" ry="4.4"/><ellipse cx="844.4" cy="611.8" rx="4.7" ry="4.4"/><ellipse cx="845.1" cy="612.2" rx="4.7" ry="4.4"/><ellipse cx="845.8" cy="608.2" rx="4.7" ry="4.4"/><ellipse cx="846.5" cy="606.9" rx="4.7" ry="4.4"/><ellipse cx="847.2" cy="604.3" rx="4.7" ry="4.4"/><ellipse cx="847.7" cy="601.3" rx="4.7" ry="4.4"/><ellipse cx="848.5" cy="594.7" rx="4.7" ry="4.4"/><ellipse cx="849.2" cy="589.7" rx="4.7" ry="4.4"/><ellipse cx="849.3" cy="588.6" rx="4.7" ry="4.4"/><ellipse cx="849.4" cy="589.6" rx="4.7" ry="4.4"/><ellipse cx="849.7" cy="587.6" rx="4.7" ry="4.4"/><ellipse cx="849.9" cy="585.7" rx="4.7" ry="4.4"/><ellipse cx="850.1" cy="584.4" rx="4.7" ry="4.4"/><ellipse cx="850.2" cy="581.6" rx="4.7" ry="4.4"/><ellipse cx="850.5" cy="581.9" rx="4.7" ry="4.4"/><ellipse cx="850.7" cy="580.3" rx="4.7" ry="4.4"/><ellipse cx="850.8" cy="579.5" rx="4.7" ry="4.4"/><ellipse cx="851.1" cy="572.9" rx="4.7" ry="4.4"/><ellipse cx="851.2" cy="574.1" rx="4.7" ry="4.4"/><ellipse cx="851.5" cy="569.7" rx="4.7" ry="4.4"/><ellipse cx="851.5" cy="563.5" rx="4.7" ry="4.4"/><ellipse cx="851.7" cy="562.9" rx="4.7" ry="4.4"/><ellipse cx="852.0" cy="558.1" rx="4.7" ry="4.4"/><ellipse cx="852.2" cy="548.1" rx="4.7" ry="4.4"/><ellipse cx="852.4" cy="553.3" rx="4.7" ry="4.4"/><ellipse cx="852.5" cy="546.9" rx="4.7" ry="4.4"/><ellipse cx="852.8" cy="537.2" rx="4.7" ry="4.4"/><ellipse cx="853.0" cy="534.5" rx="4.7" ry="4.4"/><ellipse cx="853.2" cy="528.9" rx="4.7" ry="4.4"/><ellipse cx="853.4" cy="518.9" rx="4.7" ry="4.4"/><ellipse cx="853.6" cy="499.3" rx="4.7" ry="4.4"/><ellipse cx="853.8" cy="507.1" rx="4.7" ry="4.4"/><ellipse cx="854.1" cy="481.3" rx="4.7" ry="4.4"/><ellipse cx="854.1" cy="476.6" rx="4.7" ry="4.4"/><ellipse cx="854.4" cy="470.0" rx="4.7" ry="4.4"/><ellipse cx="854.5" cy="462.3" rx="4.7" ry="4.4"/><ellipse cx="856.7" cy="444.7" rx="4.7" ry="4.4"/><ellipse cx="856.8" cy="461.6" rx="4.7" ry="4.4"/><ellipse cx="857.2" cy="493.0" rx="4.7" ry="4.4"/><ellipse cx="857.3" cy="492.5" rx="4.7" ry="4.4"/><ellipse cx="857.4" cy="502.3" rx="4.7" ry="4.4"/><ellipse cx="857.7" cy="507.0" rx="4.7" ry="4.4"/><ellipse cx="857.8" cy="515.8" rx="4.7" ry="4.4"/><ellipse cx="858.1" cy="525.3" rx="4.7" ry="4.4"/><ellipse cx="858.3" cy="531.5" rx="4.7" ry="4.4"/><ellipse cx="858.5" cy="531.3" rx="4.7" ry="4.4"/><ellipse cx="858.7" cy="543.7" rx="4.7" ry="4.4"/><ellipse cx="858.9" cy="552.4" rx="4.7" ry="4.4"/><ellipse cx="859.0" cy="549.3" rx="4.7" ry="4.4"/><ellipse cx="859.3" cy="552.5" rx="4.7" ry="4.4"/><ellipse cx="859.4" cy="565.0" rx="4.7" ry="4.4"/><ellipse cx="859.7" cy="562.9" rx="4.7" ry="4.4"/><ellipse cx="859.7" cy="562.1" rx="4.7" ry="4.4"/><ellipse cx="860.0" cy="575.1" rx="4.7" ry="4.4"/><ellipse cx="860.2" cy="573.8" rx="4.7" ry="4.4"/><ellipse cx="860.5" cy="578.6" rx="4.7" ry="4.4"/><ellipse cx="860.6" cy="578.2" rx="4.7" ry="4.4"/><ellipse cx="860.8" cy="581.8" rx="4.7" ry="4.4"/><ellipse cx="861.0" cy="579.7" rx="4.7" ry="4.4"/><ellipse cx="861.2" cy="586.4" rx="4.7" ry="4.4"/><ellipse cx="861.3" cy="584.8" rx="4.7" ry="4.4"/><ellipse cx="861.5" cy="588.4" rx="4.7" ry="4.4"/><ellipse cx="861.7" cy="584.3" rx="4.7" ry="4.4"/><ellipse cx="862.0" cy="592.9" rx="4.7" ry="4.4"/><ellipse cx="862.2" cy="590.0" rx="4.7" ry="4.4"/><ellipse cx="862.0" cy="592.0" rx="4.7" ry="4.4"/><ellipse cx="862.8" cy="595.0" rx="4.7" ry="4.4"/><ellipse cx="863.5" cy="600.2" rx="4.7" ry="4.4"/><ellipse cx="864.1" cy="600.2" rx="4.7" ry="4.4"/><ellipse cx="864.9" cy="606.8" rx="4.7" ry="4.4"/><ellipse cx="865.4" cy="604.2" rx="4.7" ry="4.4"/><ellipse cx="866.0" cy="610.4" rx="4.7" ry="4.4"/><ellipse cx="866.8" cy="611.1" rx="4.7" ry="4.4"/><ellipse cx="867.5" cy="613.0" rx="4.7" ry="4.4"/><ellipse cx="868.0" cy="614.1" rx="4.7" ry="4.4"/><ellipse cx="868.7" cy="614.2" rx="4.7" ry="4.4"/><ellipse cx="869.4" cy="618.4" rx="4.7" ry="4.4"/><ellipse cx="870.0" cy="616.8" rx="4.7" ry="4.4"/><ellipse cx="870.7" cy="620.9" rx="4.7" ry="4.4"/><ellipse cx="871.3" cy="620.0" rx="4.7" ry="4.4"/><ellipse cx="872.1" cy="621.8" rx="4.7" ry="4.4"/><ellipse cx="873.7" cy="622.2" rx="4.7" ry="4.4"/><ellipse cx="875.2" cy="624.3" rx="4.7" ry="4.4"/><ellipse cx="877.0" cy="624.6" rx="4.7" ry="4.4"/><ellipse cx="878.6" cy="626.4" rx="4.7" ry="4.4"/><ellipse cx="880.3" cy="627.6" rx="4.7" ry="4.4"/><ellipse cx="881.8" cy="628.8" rx="4.7" ry="4.4"/><ellipse cx="883.5" cy="629.1" rx="4.7" ry="4.4"/><ellipse cx="885.3" cy="629.9" rx="4.7" ry="4.4"/><ellipse cx="886.8" cy="629.8" rx="4.7" ry="4.4"/><ellipse cx="888.4" cy="630.4" rx="4.7" ry="4.4"/><ellipse cx="889.9" cy="631.2" rx="4.7" ry="4.4"/><ellipse cx="891.7" cy="632.6" rx="4.7" ry="4.4"/><ellipse cx="854.7" cy="461.6" rx="4.7" ry="4.4"/><ellipse cx="854.9" cy="444.5" rx="4.7" ry="4.4"/><ellipse cx="855.1" cy="435.9" rx="4.7" ry="4.4"/><ellipse cx="855.2" cy="422.5" rx="4.7" ry="4.4"/><ellipse cx="855.4" cy="402.9" rx="4.7" ry="4.4"/><ellipse cx="855.6" cy="396.5" rx="4.7" ry="4.4"/><ellipse cx="855.9" cy="417.0" rx="4.7" ry="4.4"/><ellipse cx="856.3" cy="451.0" rx="4.7" ry="4.4"/><ellipse cx="856.5" cy="461.6" rx="4.7" ry="4.4"/><ellipse cx="856.6" cy="474.0" rx="4.7" ry="4.4"/><ellipse cx="904.8" cy="633.9" rx="4.7" ry="4.4"/><ellipse cx="921.1" cy="635.8" rx="4.7" ry="4.4"/></g><g clip-path="url(#cd)"><path d="M560.80 639.22 L561.50 639.22 L562.20 639.22 L562.89 639.22 L563.59 639.22 L564.29 639.22 L564.99 639.22 L565.68 639.22 L566.38 639.22 L567.08 639.22 L567.78 639.22 L568.48 639.22 L569.17 639.22 L569.87 639.22 L570.57 639.22 L571.27 639.22 L571.97 639.22 L572.66 639.22 L573.36 639.22 L574.06 639.21 L574.76 639.21 L575.45 639.21 L576.15 639.21 L576.85 639.21 L577.55 639.21 L578.25 639.21 L578.94 639.21 L579.64 639.21 L580.34 639.21 L581.04 639.21 L581.74 639.21 L582.43 639.21 L583.13 639.21 L583.83 639.21 L584.53 639.21 L585.22 639.20 L585.92 639.20 L586.62 639.20 L587.32 639.20 L588.02 639.20 L588.71 639.20 L589.41 639.20 L590.11 639.20 L590.81 639.20 L591.51 639.20 L592.20 639.20 L592.90 639.19 L593.60 639.19 L594.30 639.19 L594.99 639.19 L595.69 639.19 L596.39 639.19 L597.09 639.19 L597.79 639.19 L598.48 639.18 L599.18 639.18 L599.88 639.18 L600.58 639.18 L601.28 639.18 L601.97 639.18 L602.67 639.18 L603.37 639.17 L604.07 639.17 L604.76 639.17 L605.46 639.17 L606.16 639.17 L606.86 639.17 L607.56 639.17 L608.25 639.16 L608.95 639.16 L609.65 639.16 L610.35 639.16 L611.05 639.16 L611.74 639.16 L612.44 639.15 L613.14 639.15 L613.84 639.15 L614.53 639.15 L615.23 639.15 L615.93 639.14 L616.63 639.14 L617.33 639.14 L618.02 639.14 L618.72 639.14 L619.42 639.13 L620.12 639.13 L620.82 639.13 L621.51 639.13 L622.21 639.12 L622.91 639.12 L623.61 639.12 L624.30 639.12 L625.00 639.12 L625.70 639.11 L626.40 639.11 L627.10 639.11 L627.79 639.11 L628.49 639.10 L629.19 639.10 L629.89 639.10 L630.59 639.10 L631.28 639.09 L631.98 639.09 L632.68 639.09 L633.38 639.09 L634.07 639.08 L634.77 639.08 L635.47 639.08 L636.17 639.07 L636.87 639.07 L637.56 639.07 L638.26 639.06 L638.96 639.06 L639.66 639.06 L640.36 639.06 L641.05 639.05 L641.75 639.05 L642.45 639.05 L643.15 639.04 L643.84 639.04 L644.54 639.04 L645.24 639.03 L645.94 639.03 L646.64 639.03 L647.33 639.02 L648.03 639.02 L648.73 639.02 L649.43 639.01 L650.13 639.01 L650.82 639.01 L651.52 639.00 L652.22 639.00 L652.92 638.99 L653.61 638.99 L654.31 638.99 L655.01 638.98 L655.71 638.98 L656.41 638.97 L657.10 638.97 L657.80 638.97 L658.50 638.96 L659.20 638.96 L659.90 638.95 L660.59 638.95 L661.29 638.95 L661.99 638.94 L662.69 638.94 L663.38 638.93 L664.08 638.93 L664.78 638.92 L665.48 638.92 L666.18 638.91 L666.87 638.91 L667.57 638.90 L668.27 638.90 L668.97 638.90 L669.66 638.89 L670.36 638.89 L671.06 638.88 L671.76 638.88 L672.46 638.87 L673.15 638.87 L673.85 638.86 L674.55 638.85 L675.25 638.85 L675.95 638.84 L676.64 638.84 L677.34 638.83 L678.04 638.83 L678.74 638.82 L679.43 638.82 L680.13 638.81 L680.83 638.81 L681.53 638.80 L682.23 638.79 L682.92 638.79 L683.62 638.78 L684.32 638.78 L685.02 638.77 L685.72 638.76 L686.41 638.76 L687.11 638.75 L687.81 638.74 L688.51 638.74 L689.20 638.73 L689.90 638.72 L690.60 638.72 L691.30 638.71 L692.00 638.70 L692.69 638.70 L693.39 638.69 L694.09 638.68 L694.79 638.68 L695.49 638.67 L696.18 638.66 L696.88 638.65 L697.58 638.65 L698.28 638.64 L698.97 638.63 L699.67 638.62 L700.37 638.62 L701.07 638.61 L701.77 638.60 L702.46 638.59 L703.16 638.58 L703.86 638.58 L704.56 638.57 L705.26 638.56 L705.95 638.55 L706.65 638.54 L707.35 638.53 L708.05 638.52 L708.74 638.52 L709.44 638.51 L710.14 638.50 L710.84 638.49 L711.54 638.48 L712.23 638.47 L712.93 638.46 L713.63 638.45 L714.33 638.44 L715.03 638.43 L715.72 638.42 L716.42 638.41 L717.12 638.40 L717.82 638.39 L718.51 638.38 L719.21 638.37 L719.91 638.36 L720.61 638.35 L721.31 638.34 L722.00 638.33 L722.70 638.32 L723.40 638.30 L724.10 638.29 L724.80 638.28 L725.49 638.27 L726.19 638.26 L726.89 638.25 L727.59 638.23 L728.28 638.22 L728.98 638.21 L729.68 638.20 L730.38 638.18 L731.08 638.17 L731.77 638.16 L732.47 638.14 L733.17 638.13 L733.87 638.12 L734.57 638.10 L735.26 638.09 L735.96 638.08 L736.66 638.06 L737.36 638.05 L738.05 638.03 L738.75 638.02 L739.45 638.00 L740.15 637.99 L740.85 637.97 L741.54 637.96 L742.24 637.94 L742.94 637.92 L743.64 637.91 L744.34 637.89 L745.03 637.88 L745.73 637.86 L746.43 637.84 L747.13 637.82 L747.82 637.81 L748.52 637.79 L749.22 637.77 L749.92 637.75 L750.62 637.73 L751.31 637.71 L752.01 637.69 L752.71 637.68 L753.41 637.66 L754.11 637.64 L754.80 637.62 L755.50 637.59 L756.20 637.57 L756.90 637.55 L757.59 637.53 L758.29 637.51 L758.99 637.49 L759.69 637.46 L760.39 637.44 L761.08 637.42 L761.78 637.39 L762.48 637.37 L763.18 637.35 L763.87 637.32 L764.57 637.30 L765.27 637.27 L765.97 637.24 L766.67 637.22 L767.36 637.19 L768.06 637.16 L768.76 637.14 L769.46 637.11 L770.16 637.08 L770.85 637.05 L771.55 637.02 L772.25 636.99 L772.95 636.96 L773.64 636.93 L774.34 636.90 L775.04 636.86 L775.74 636.83 L776.44 636.80 L777.13 636.76 L777.83 636.73 L778.53 636.69 L779.23 636.65 L779.93 636.62 L780.62 636.58 L781.32 636.54 L782.02 636.50 L782.72 636.46 L783.41 636.42 L784.11 636.38 L784.81 636.34 L785.51 636.29 L786.21 636.25 L786.90 636.21 L787.60 636.16 L788.30 636.11 L789.00 636.07 L789.70 636.02 L790.39 635.97 L791.09 635.91 L791.79 635.86 L792.49 635.81 L793.18 635.75 L793.88 635.70 L794.58 635.64 L795.28 635.58 L795.98 635.52 L796.67 635.46 L797.37 635.40 L798.07 635.33 L798.77 635.27 L799.47 635.20 L800.16 635.13 L800.86 635.06 L801.56 634.99 L802.26 634.91 L802.95 634.83 L803.65 634.75 L804.35 634.67 L805.05 634.59 L805.75 634.50 L806.44 634.41 L807.14 634.32 L807.84 634.23 L808.54 634.13 L809.24 634.03 L809.93 633.93 L810.63 633.82 L811.33 633.72 L812.03 633.60 L812.72 633.49 L813.42 633.37 L814.12 633.24 L814.82 633.11 L815.52 632.98 L816.21 632.84 L816.91 632.70 L817.61 632.55 L818.31 632.40 L819.01 632.24 L819.70 632.07 L820.40 631.90 L821.10 631.72 L821.80 631.53 L822.49 631.34 L823.19 631.14 L823.89 630.92 L824.59 630.70 L825.29 630.47 L825.98 630.23 L826.68 629.97 L827.38 629.71 L828.08 629.43 L828.78 629.13 L829.47 628.82 L830.17 628.49 L830.87 628.15 L831.57 627.78 L832.26 627.40 L832.96 626.98 L833.66 626.55 L834.36 626.08 L835.06 625.58 L835.75 625.05 L836.45 624.48 L837.15 623.87 L837.85 623.21 L838.55 622.50 L839.24 621.72 L839.24 621.72 L839.26 621.70 L839.28 621.68 L839.29 621.66 L839.31 621.65 L839.32 621.63 L839.34 621.61 L839.36 621.59 L839.37 621.57 L839.39 621.55 L839.41 621.53 L839.42 621.51 L839.44 621.49 L839.46 621.47 L839.47 621.45 L839.49 621.43 L839.51 621.41 L839.52 621.39 L839.54 621.38 L839.55 621.36 L839.57 621.34 L839.59 621.32 L839.60 621.30 L839.62 621.28 L839.64 621.26 L839.65 621.24 L839.67 621.22 L839.69 621.20 L839.70 621.18 L839.72 621.16 L839.73 621.14 L839.75 621.12 L839.77 621.10 L839.78 621.08 L839.80 621.06 L839.82 621.04 L839.83 621.02 L839.85 621.00 L839.87 620.98 L839.88 620.95 L839.90 620.93 L839.91 620.91 L839.93 620.89 L839.95 620.87 L839.96 620.85 L839.98 620.83 L840.00 620.81 L840.01 620.79 L840.03 620.77 L840.05 620.75 L840.06 620.73 L840.08 620.71 L840.09 620.69 L840.11 620.66 L840.13 620.64 L840.14 620.62 L840.16 620.60 L840.18 620.58 L840.19 620.56 L840.21 620.54 L840.23 620.52 L840.24 620.49 L840.26 620.47 L840.27 620.45 L840.29 620.43 L840.31 620.41 L840.32 620.39 L840.34 620.37 L840.36 620.34 L840.37 620.32 L840.39 620.30 L840.41 620.28 L840.42 620.26 L840.44 620.23 L840.46 620.21 L840.47 620.19 L840.49 620.17 L840.50 620.15 L840.52 620.12 L840.54 620.10 L840.55 620.08 L840.57 620.06 L840.59 620.03 L840.60 620.01 L840.62 619.99 L840.64 619.97 L840.65 619.94 L840.67 619.92 L840.68 619.90 L840.70 619.88 L840.72 619.85 L840.73 619.83 L840.75 619.81 L840.77 619.79 L840.78 619.76 L840.80 619.74 L840.82 619.72 L840.83 619.69 L840.85 619.67 L840.86 619.65 L840.88 619.62 L840.90 619.60 L840.91 619.58 L840.93 619.55 L840.95 619.53 L840.96 619.51 L840.98 619.48 L841.00 619.46 L841.01 619.44 L841.03 619.41 L841.04 619.39 L841.06 619.36 L841.08 619.34 L841.09 619.32 L841.11 619.29 L841.13 619.27 L841.14 619.25 L841.16 619.22 L841.18 619.20 L841.19 619.17 L841.21 619.15 L841.22 619.12 L841.24 619.10 L841.26 619.08 L841.27 619.05 L841.29 619.03 L841.31 619.00 L841.32 618.98 L841.34 618.95 L841.36 618.93 L841.37 618.90 L841.39 618.88 L841.41 618.85 L841.42 618.83 L841.44 618.80 L841.45 618.78 L841.47 618.75 L841.49 618.73 L841.50 618.70 L841.52 618.68 L841.54 618.65 L841.55 618.63 L841.57 618.60 L841.59 618.57 L841.60 618.55 L841.62 618.52 L841.63 618.50 L841.65 618.47 L841.67 618.45 L841.68 618.42 L841.70 618.39 L841.72 618.37 L841.73 618.34 L841.75 618.32 L841.77 618.29 L841.78 618.26 L841.80 618.24 L841.81 618.21 L841.83 618.18 L841.85 618.16 L841.86 618.13 L841.88 618.10 L841.90 618.08 L841.91 618.05 L841.93 618.02 L841.95 618.00 L841.96 617.97 L841.98 617.94 L841.99 617.92 L842.01 617.89 L842.03 617.86 L842.04 617.83 L842.06 617.81 L842.08 617.78 L842.09 617.75 L842.11 617.72 L842.13 617.70 L842.14 617.67 L842.16 617.64 L842.17 617.61 L842.19 617.59 L842.21 617.56 L842.22 617.53 L842.24 617.50 L842.26 617.47 L842.27 617.45 L842.29 617.42 L842.31 617.39 L842.32 617.36 L842.34 617.33 L842.36 617.30 L842.37 617.27 L842.39 617.25 L842.40 617.22 L842.42 617.19 L842.44 617.16 L842.45 617.13 L842.47 617.10 L842.49 617.07 L842.50 617.04 L842.52 617.01 L842.54 616.98 L842.55 616.95 L842.57 616.93 L842.58 616.90 L842.60 616.87 L842.62 616.84 L842.63 616.81 L842.65 616.78 L842.67 616.75 L842.68 616.72 L842.70 616.69 L842.72 616.66 L842.73 616.63 L842.75 616.60 L842.76 616.57 L842.78 616.54 L842.80 616.51 L842.81 616.47 L842.83 616.44 L842.85 616.41 L842.86 616.38 L842.88 616.35 L842.90 616.32 L842.91 616.29 L842.93 616.26 L842.94 616.23 L842.96 616.20 L842.98 616.16 L842.99 616.13 L843.01 616.10 L843.03 616.07 L843.04 616.04 L843.06 616.01 L843.08 615.97 L843.09 615.94 L843.11 615.91 L843.12 615.88 L843.14 615.85 L843.16 615.81 L843.17 615.78 L843.19 615.75 L843.21 615.72 L843.22 615.68 L843.24 615.65 L843.26 615.62 L843.27 615.59 L843.29 615.55 L843.30 615.52 L843.32 615.49 L843.34 615.45 L843.35 615.42 L843.37 615.39 L843.39 615.35 L843.40 615.32 L843.42 615.29 L843.44 615.25 L843.45 615.22 L843.47 615.19 L843.49 615.15 L843.50 615.12 L843.52 615.08 L843.53 615.05 L843.55 615.02 L843.57 614.98 L843.58 614.95 L843.60 614.91 L843.62 614.88 L843.63 614.84 L843.65 614.81 L843.67 614.77 L843.68 614.74 L843.70 614.70 L843.71 614.67 L843.73 614.63 L843.75 614.60 L843.76 614.56 L843.78 614.53 L843.80 614.49 L843.81 614.45 L843.83 614.42 L843.85 614.38 L843.86 614.35 L843.88 614.31 L843.89 614.27 L843.91 614.24 L843.93 614.20 L843.94 614.16 L843.96 614.13 L843.98 614.09 L843.99 614.05 L844.01 614.02 L844.03 613.98 L844.04 613.94 L844.06 613.90 L844.07 613.87 L844.09 613.83 L844.11 613.79 L844.12 613.75 L844.14 613.72 L844.16 613.68 L844.17 613.64 L844.19 613.60 L844.21 613.56 L844.22 613.53 L844.24 613.49 L844.25 613.45 L844.27 613.41 L844.29 613.37 L844.30 613.33 L844.32 613.29 L844.34 613.26 L844.35 613.22 L844.37 613.18 L844.39 613.14 L844.40 613.10 L844.42 613.06 L844.44 613.02 L844.45 612.98 L844.47 612.94 L844.48 612.90 L844.50 612.86 L844.52 612.82 L844.53 612.78 L844.55 612.74 L844.57 612.70 L844.58 612.66 L844.60 612.61 L844.62 612.57 L844.63 612.53 L844.65 612.49 L844.66 612.45 L844.68 612.41 L844.70 612.37 L844.71 612.32 L844.73 612.28 L844.75 612.24 L844.76 612.20 L844.78 612.16 L844.80 612.11 L844.81 612.07 L844.83 612.03 L844.84 611.99 L844.86 611.94 L844.88 611.90 L844.89 611.86 L844.91 611.81 L844.93 611.77 L844.94 611.73 L844.96 611.68 L844.98 611.64 L844.99 611.60 L845.01 611.55 L845.02 611.51 L845.04 611.46 L845.06 611.42 L845.07 611.38 L845.09 611.33 L845.11 611.29 L845.12 611.24 L845.14 611.20 L845.16 611.15 L845.17 611.11 L845.19 611.06 L845.20 611.01 L845.22 610.97 L845.24 610.92 L845.25 610.88 L845.27 610.83 L845.29 610.78 L845.30 610.74 L845.32 610.69 L845.34 610.64 L845.35 610.60 L845.37 610.55 L845.39 610.50 L845.40 610.46 L845.42 610.41 L845.43 610.36 L845.45 610.31 L845.47 610.27 L845.48 610.22 L845.50 610.17 L845.52 610.12 L845.53 610.07 L845.55 610.02 L845.57 609.98 L845.58 609.93 L845.60 609.88 L845.61 609.83 L845.63 609.78 L845.65 609.73 L845.66 609.68 L845.68 609.63 L845.70 609.58 L845.71 609.53 L845.73 609.48 L845.75 609.43 L845.76 609.38 L845.78 609.33 L845.79 609.28 L845.81 609.23 L845.83 609.17 L845.84 609.12 L845.86 609.07 L845.88 609.02 L845.89 608.97 L845.91 608.91 L845.93 608.86 L845.94 608.81 L845.96 608.76 L845.97 608.70 L845.99 608.65 L846.01 608.60 L846.02 608.55 L846.04 608.49 L846.06 608.44 L846.07 608.38 L846.09 608.33 L846.11 608.28 L846.12 608.22 L846.14 608.17 L846.15 608.11 L846.17 608.06 L846.19 608.00 L846.20 607.95 L846.22 607.89 L846.24 607.84 L846.25 607.78 L846.27 607.72 L846.29 607.67 L846.30 607.61 L846.32 607.56 L846.34 607.50 L846.35 607.44 L846.37 607.38 L846.38 607.33 L846.40 607.27 L846.42 607.21 L846.43 607.15 L846.45 607.10 L846.47 607.04 L846.48 606.98 L846.50 606.92 L846.52 606.86 L846.53 606.80 L846.55 606.74 L846.56 606.68 L846.58 606.62 L846.60 606.56 L846.61 606.50 L846.63 606.44 L846.65 606.38 L846.66 606.32 L846.68 606.26 L846.70 606.20 L846.71 606.14 L846.73 606.08 L846.74 606.01 L846.76 605.95 L846.78 605.89 L846.79 605.83 L846.81 605.77 L846.83 605.70 L846.84 605.64 L846.86 605.58 L846.88 605.51 L846.89 605.45 L846.91 605.38 L846.92 605.32 L846.94 605.26 L846.96 605.19 L846.97 605.13 L846.99 605.06 L847.01 605.00 L847.02 604.93 L847.04 604.86 L847.06 604.80 L847.07 604.73 L847.09 604.66 L847.10 604.60 L847.12 604.53 L847.14 604.46 L847.15 604.40 L847.17 604.33 L847.19 604.26 L847.20 604.19 L847.22 604.12 L847.24 604.05 L847.25 603.98 L847.27 603.92 L847.29 603.85 L847.30 603.78 L847.32 603.71 L847.33 603.64 L847.35 603.56 L847.37 603.49 L847.38 603.42 L847.40 603.35 L847.42 603.28 L847.43 603.21 L847.45 603.14 L847.47 603.06 L847.48 602.99 L847.50 602.92 L847.51 602.84 L847.53 602.77 L847.55 602.70 L847.56 602.62 L847.58 602.55 L847.60 602.47 L847.61 602.40 L847.63 602.32 L847.65 602.25 L847.66 602.17 L847.68 602.10 L847.69 602.02 L847.71 601.94 L847.73 601.86 L847.74 601.79 L847.76 601.71 L847.78 601.63 L847.79 601.55 L847.81 601.48 L847.83 601.40 L847.84 601.32 L847.86 601.24 L847.87 601.16 L847.89 601.08 L847.91 601.00 L847.92 600.92 L847.94 600.84 L847.96 600.75 L847.97 600.67 L847.99 600.59 L848.01 600.51 L848.02 600.42 L848.04 600.34 L848.05 600.26 L848.07 600.17 L848.09 600.09 L848.10 600.01 L848.12 599.92 L848.14 599.84 L848.15 599.75 L848.17 599.67 L848.19 599.58 L848.20 599.49 L848.22 599.41 L848.24 599.32 L848.25 599.23 L848.27 599.14 L848.28 599.06 L848.30 598.97 L848.32 598.88 L848.33 598.79 L848.35 598.70 L848.37 598.61 L848.38 598.52 L848.40 598.43 L848.42 598.34 L848.43 598.24 L848.45 598.15 L848.46 598.06 L848.48 597.97 L848.50 597.87 L848.51 597.78 L848.53 597.69 L848.55 597.59 L848.56 597.50 L848.58 597.40 L848.60 597.31 L848.61 597.21 L848.63 597.11 L848.64 597.02 L848.66 596.92 L848.68 596.82 L848.69 596.72 L848.71 596.63 L848.73 596.53 L848.74 596.43 L848.76 596.33 L848.78 596.23 L848.79 596.13 L848.81 596.03 L848.82 595.92 L848.84 595.82 L848.86 595.72 L848.87 595.62 L848.89 595.51 L848.91 595.41 L848.92 595.31 L848.94 595.20 L848.96 595.10 L848.97 594.99 L848.99 594.88 L849.00 594.78 L849.02 594.67 L849.04 594.56 L849.05 594.46 L849.07 594.35 L849.09 594.24 L849.10 594.13 L849.12 594.02 L849.14 593.91 L849.15 593.80 L849.17 593.68 L849.19 593.57 L849.20 593.46 L849.22 593.35 L849.23 593.23 L849.25 593.12 L849.27 593.00 L849.28 592.89 L849.30 592.77 L849.32 592.66 L849.33 592.54 L849.35 592.42 L849.37 592.31 L849.38 592.19 L849.40 592.07 L849.41 591.95 L849.43 591.83 L849.45 591.71 L849.46 591.59 L849.48 591.46 L849.50 591.34 L849.51 591.22 L849.53 591.10 L849.55 590.97 L849.56 590.85 L849.58 590.72 L849.59 590.59 L849.61 590.47 L849.63 590.34 L849.64 590.21 L849.66 590.08 L849.68 589.96 L849.69 589.83 L849.71 589.69 L849.73 589.56 L849.74 589.43 L849.76 589.30 L849.77 589.17 L849.79 589.03 L849.81 588.90 L849.82 588.76 L849.84 588.63 L849.86 588.49 L849.87 588.35 L849.89 588.22 L849.91 588.08 L849.92 587.94 L849.94 587.80 L849.95 587.66 L849.97 587.52 L849.99 587.38 L850.00 587.23 L850.02 587.09 L850.04 586.95 L850.05 586.80 L850.07 586.65 L850.09 586.51 L850.10 586.36 L850.12 586.21 L850.14 586.06 L850.15 585.92 L850.17 585.76 L850.18 585.61 L850.20 585.46 L850.22 585.31 L850.23 585.16 L850.25 585.00 L850.27 584.85 L850.28 584.69 L850.30 584.53 L850.32 584.38 L850.33 584.22 L850.35 584.06 L850.36 583.90 L850.38 583.74 L850.40 583.58 L850.41 583.41 L850.43 583.25 L850.45 583.09 L850.46 582.92 L850.48 582.75 L850.50 582.59 L850.51 582.42 L850.53 582.25 L850.54 582.08 L850.56 581.91 L850.58 581.74 L850.59 581.56 L850.61 581.39 L850.63 581.22 L850.64 581.04 L850.66 580.86 L850.68 580.69 L850.69 580.51 L850.71 580.33 L850.72 580.15 L850.74 579.96 L850.76 579.78 L850.77 579.60 L850.79 579.41 L850.81 579.23 L850.82 579.04 L850.84 578.85 L850.86 578.66 L850.87 578.47 L850.89 578.28 L850.90 578.09 L850.92 577.90 L850.94 577.70 L850.95 577.51 L850.97 577.31 L850.99 577.11 L851.00 576.91 L851.02 576.71 L851.04 576.51 L851.05 576.31 L851.07 576.10 L851.09 575.90 L851.10 575.69 L851.12 575.48 L851.13 575.27 L851.15 575.06 L851.17 574.85 L851.18 574.64 L851.20 574.43 L851.22 574.21 L851.23 573.99 L851.25 573.78 L851.27 573.56 L851.28 573.34 L851.30 573.11 L851.31 572.89 L851.33 572.67 L851.35 572.44 L851.36 572.21 L851.38 571.98 L851.40 571.75 L851.41 571.52 L851.43 571.29 L851.45 571.05 L851.46 570.82 L851.48 570.58 L851.49 570.34 L851.51 570.10 L851.53 569.86 L851.54 569.61 L851.56 569.37 L851.58 569.12 L851.59 568.87 L851.61 568.62 L851.63 568.37 L851.64 568.12 L851.66 567.86 L851.67 567.61 L851.69 567.35 L851.71 567.09 L851.72 566.83 L851.74 566.56 L851.76 566.30 L851.77 566.03 L851.79 565.76 L851.81 565.49 L851.82 565.22 L851.84 564.95 L851.85 564.67 L851.87 564.39 L851.89 564.11 L851.90 563.83 L851.92 563.55 L851.94 563.26 L851.95 562.98 L851.97 562.69 L851.99 562.40 L852.00 562.10 L852.02 561.81 L852.03 561.51 L852.05 561.21 L852.07 560.91 L852.08 560.61 L852.10 560.30 L852.12 560.00 L852.13 559.69 L852.15 559.38 L852.17 559.06 L852.18 558.75 L852.20 558.43 L852.22 558.11 L852.23 557.78 L852.25 557.46 L852.26 557.13 L852.28 556.80 L852.30 556.47 L852.31 556.14 L852.33 555.80 L852.35 555.46 L852.36 555.12 L852.38 554.77 L852.40 554.43 L852.41 554.08 L852.43 553.73 L852.44 553.37 L852.46 553.02 L852.48 552.66 L852.49 552.29 L852.51 551.93 L852.53 551.56 L852.54 551.19 L852.56 550.82 L852.58 550.44 L852.59 550.06 L852.61 549.68 L852.62 549.30 L852.64 548.91 L852.66 548.52 L852.67 548.13 L852.69 547.73 L852.71 547.34 L852.72 546.93 L852.74 546.53 L852.76 546.12 L852.77 545.71 L852.79 545.30 L852.80 544.88 L852.82 544.46 L852.84 544.04 L852.85 543.61 L852.87 543.18 L852.89 542.74 L852.90 542.31 L852.92 541.87 L852.94 541.42 L852.95 540.98 L852.97 540.53 L852.98 540.07 L853.00 539.61 L853.02 539.15 L853.03 538.69 L853.05 538.22 L853.07 537.75 L853.08 537.27 L853.10 536.79 L853.12 536.31 L853.13 535.82 L853.15 535.33 L853.17 534.83 L853.18 534.33 L853.20 533.83 L853.21 533.32 L853.23 532.81 L853.25 532.30 L853.26 531.78 L853.28 531.25 L853.30 530.72 L853.31 530.19 L853.33 529.65 L853.35 529.11 L853.36 528.57 L853.38 528.02 L853.39 527.46 L853.41 526.90 L853.43 526.34 L853.44 525.77 L853.46 525.20 L853.48 524.62 L853.49 524.04 L853.51 523.45 L853.53 522.86 L853.54 522.26 L853.56 521.66 L853.57 521.05 L853.59 520.44 L853.61 519.82 L853.62 519.19 L853.64 518.57 L853.66 517.93 L853.67 517.29 L853.69 516.65 L853.71 516.00 L853.72 515.35 L853.74 514.69 L853.75 514.02 L853.77 513.35 L853.79 512.67 L853.80 511.99 L853.82 511.30 L853.84 510.60 L853.85 509.90 L853.87 509.19 L853.89 508.48 L853.90 507.76 L853.92 507.04 L853.93 506.31 L853.95 505.57 L853.97 504.82 L853.98 504.07 L854.00 503.32 L854.02 502.55 L854.03 501.78 L854.05 501.01 L854.07 500.23 L854.08 499.44 L854.10 498.64 L854.12 497.84 L854.13 497.03 L854.15 496.21 L854.16 495.38 L854.18 494.55 L854.20 493.71 L854.21 492.87 L854.23 492.01 L854.25 491.15 L854.26 490.29 L854.28 489.41 L854.30 488.53 L854.31 487.64 L854.33 486.74 L854.34 485.83 L854.36 484.92 L854.38 484.00 L854.39 483.07 L854.41 482.13 L854.43 481.19 L854.44 480.23 L854.46 479.27 L854.48 478.30 L854.49 477.32 L854.51 476.34 L854.52 475.34 L854.54 474.34 L854.56 473.33 L854.57 472.31 L854.59 471.28 L854.61 470.24 L854.62 469.19 L854.64 468.14 L854.66 467.07 L854.67 466.00 L854.69 464.92 L854.70 463.83 L854.72 462.73 L854.74 461.62 L854.75 460.50 L854.77 459.37 L854.79 458.23 L854.80 457.09 L854.82 455.93 L854.84 454.76 L854.85 453.59 L854.87 452.40 L854.88 451.21 L854.90 450.00 L854.92 448.79 L854.93 447.56 L854.95 446.33 L854.97 445.08 L854.98 443.83 L855.00 442.57 L855.02 441.29 L855.03 440.01 L855.05 438.71 L855.07 437.41 L855.08 436.09 L855.10 434.77 L855.11 433.43 L855.13 432.08 L855.15 430.73 L855.16 429.36 L855.18 427.98 L855.20 426.59 L855.21 425.20 L855.23 423.79 L855.25 422.37 L855.26 420.94 L855.28 419.49 L855.29 418.04 L855.31 416.58 L855.33 415.10 L855.34 413.62 L855.36 412.12 L855.38 410.62 L855.39 409.10 L855.41 407.57 L855.43 406.03 L855.44 404.48 L855.46 402.92 L855.47 401.35 L855.49 399.76 L855.51 398.17 L855.52 396.56 L855.54 394.95 L855.56 393.32 L855.57 391.68 L855.59 390.03 L855.61 388.37 L855.62 386.70 L855.64 388.37 L855.65 390.03 L855.67 391.68 L855.69 393.32 L855.70 394.95 L855.72 396.56 L855.74 398.17 L855.75 399.76 L855.77 401.35 L855.79 402.92 L855.80 404.48 L855.82 406.03 L855.83 407.57 L855.85 409.10 L855.87 410.62 L855.88 412.12 L855.90 413.62 L855.92 415.10 L855.93 416.58 L855.95 418.04 L855.97 419.49 L855.98 420.94 L856.00 422.37 L856.02 423.79 L856.03 425.20 L856.05 426.59 L856.06 427.98 L856.08 429.36 L856.10 430.73 L856.11 432.08 L856.13 433.43 L856.15 434.77 L856.16 436.09 L856.18 437.41 L856.20 438.71 L856.21 440.01 L856.23 441.29 L856.24 442.57 L856.26 443.83 L856.28 445.08 L856.29 446.33 L856.31 447.56 L856.33 448.79 L856.34 450.00 L856.36 451.21 L856.38 452.40 L856.39 453.59 L856.41 454.76 L856.42 455.93 L856.44 457.09 L856.46 458.23 L856.47 459.37 L856.49 460.50 L856.51 461.62 L856.52 462.73 L856.54 463.83 L856.56 464.92 L856.57 466.00 L856.59 467.07 L856.60 468.14 L856.62 469.19 L856.64 470.24 L856.65 471.28 L856.67 472.31 L856.69 473.33 L856.70 474.34 L856.72 475.34 L856.74 476.34 L856.75 477.32 L856.77 478.30 L856.78 479.27 L856.80 480.23 L856.82 481.19 L856.83 482.13 L856.85 483.07 L856.87 484.00 L856.88 484.92 L856.90 485.83 L856.92 486.74 L856.93 487.64 L856.95 488.53 L856.97 489.41 L856.98 490.29 L857.00 491.15 L857.01 492.01 L857.03 492.87 L857.05 493.71 L857.06 494.55 L857.08 495.38 L857.10 496.21 L857.11 497.03 L857.13 497.84 L857.15 498.64 L857.16 499.44 L857.18 500.23 L857.19 501.01 L857.21 501.78 L857.23 502.55 L857.24 503.32 L857.26 504.07 L857.28 504.82 L857.29 505.57 L857.31 506.31 L857.33 507.04 L857.34 507.76 L857.36 508.48 L857.37 509.19 L857.39 509.90 L857.41 510.60 L857.42 511.30 L857.44 511.99 L857.46 512.67 L857.47 513.35 L857.49 514.02 L857.51 514.69 L857.52 515.35 L857.54 516.00 L857.55 516.65 L857.57 517.29 L857.59 517.93 L857.60 518.57 L857.62 519.19 L857.64 519.82 L857.65 520.44 L857.67 521.05 L857.69 521.66 L857.70 522.26 L857.72 522.86 L857.73 523.45 L857.75 524.04 L857.77 524.62 L857.78 525.20 L857.80 525.77 L857.82 526.34 L857.83 526.90 L857.85 527.46 L857.87 528.02 L857.88 528.57 L857.90 529.11 L857.92 529.65 L857.93 530.19 L857.95 530.72 L857.96 531.25 L857.98 531.78 L858.00 532.30 L858.01 532.81 L858.03 533.32 L858.05 533.83 L858.06 534.33 L858.08 534.83 L858.10 535.33 L858.11 535.82 L858.13 536.31 L858.14 536.79 L858.16 537.27 L858.18 537.75 L858.19 538.22 L858.21 538.69 L858.23 539.15 L858.24 539.61 L858.26 540.07 L858.28 540.53 L858.29 540.98 L858.31 541.42 L858.32 541.87 L858.34 542.31 L858.36 542.74 L858.37 543.18 L858.39 543.61 L858.41 544.04 L858.42 544.46 L858.44 544.88 L858.46 545.30 L858.47 545.71 L858.49 546.12 L858.50 546.53 L858.52 546.93 L858.54 547.34 L858.55 547.73 L858.57 548.13 L858.59 548.52 L858.60 548.91 L858.62 549.30 L858.64 549.68 L858.65 550.06 L858.67 550.44 L858.68 550.82 L858.70 551.19 L858.72 551.56 L858.73 551.93 L858.75 552.29 L858.77 552.66 L858.78 553.02 L858.80 553.37 L858.82 553.73 L858.83 554.08 L858.85 554.43 L858.87 554.77 L858.88 555.12 L858.90 555.46 L858.91 555.80 L858.93 556.14 L858.95 556.47 L858.96 556.80 L858.98 557.13 L859.00 557.46 L859.01 557.78 L859.03 558.11 L859.05 558.43 L859.06 558.75 L859.08 559.06 L859.09 559.38 L859.11 559.69 L859.13 560.00 L859.14 560.30 L859.16 560.61 L859.18 560.91 L859.19 561.21 L859.21 561.51 L859.23 561.81 L859.24 562.10 L859.26 562.40 L859.27 562.69 L859.29 562.98 L859.31 563.26 L859.32 563.55 L859.34 563.83 L859.36 564.11 L859.37 564.39 L859.39 564.67 L859.41 564.95 L859.42 565.22 L859.44 565.49 L859.45 565.76 L859.47 566.03 L859.49 566.30 L859.50 566.56 L859.52 566.83 L859.54 567.09 L859.55 567.35 L859.57 567.61 L859.59 567.86 L859.60 568.12 L859.62 568.37 L859.63 568.62 L859.65 568.87 L859.67 569.12 L859.68 569.37 L859.70 569.61 L859.72 569.86 L859.73 570.10 L859.75 570.34 L859.77 570.58 L859.78 570.82 L859.80 571.05 L859.82 571.29 L859.83 571.52 L859.85 571.75 L859.86 571.98 L859.88 572.21 L859.90 572.44 L859.91 572.67 L859.93 572.89 L859.95 573.11 L859.96 573.34 L859.98 573.56 L860.00 573.78 L860.01 573.99 L860.03 574.21 L860.04 574.43 L860.06 574.64 L860.08 574.85 L860.09 575.06 L860.11 575.27 L860.13 575.48 L860.14 575.69 L860.16 575.90 L860.18 576.10 L860.19 576.31 L860.21 576.51 L860.22 576.71 L860.24 576.91 L860.26 577.11 L860.27 577.31 L860.29 577.51 L860.31 577.70 L860.32 577.90 L860.34 578.09 L860.36 578.28 L860.37 578.47 L860.39 578.66 L860.40 578.85 L860.42 579.04 L860.44 579.23 L860.45 579.41 L860.47 579.60 L860.49 579.78 L860.50 579.96 L860.52 580.15 L860.54 580.33 L860.55 580.51 L860.57 580.69 L860.58 580.86 L860.60 581.04 L860.62 581.22 L860.63 581.39 L860.65 581.56 L860.67 581.74 L860.68 581.91 L860.70 582.08 L860.72 582.25 L860.73 582.42 L860.75 582.59 L860.77 582.75 L860.78 582.92 L860.80 583.09 L860.81 583.25 L860.83 583.41 L860.85 583.58 L860.86 583.74 L860.88 583.90 L860.90 584.06 L860.91 584.22 L860.93 584.38 L860.95 584.53 L860.96 584.69 L860.98 584.85 L860.99 585.00 L861.01 585.16 L861.03 585.31 L861.04 585.46 L861.06 585.61 L861.08 585.76 L861.09 585.92 L861.11 586.06 L861.13 586.21 L861.14 586.36 L861.16 586.51 L861.17 586.65 L861.19 586.80 L861.21 586.95 L861.22 587.09 L861.24 587.23 L861.26 587.38 L861.27 587.52 L861.29 587.66 L861.31 587.80 L861.32 587.94 L861.34 588.08 L861.35 588.22 L861.37 588.35 L861.39 588.49 L861.40 588.63 L861.42 588.76 L861.44 588.90 L861.45 589.03 L861.47 589.17 L861.49 589.30 L861.50 589.43 L861.52 589.56 L861.53 589.69 L861.55 589.83 L861.57 589.96 L861.58 590.08 L861.60 590.21 L861.62 590.34 L861.63 590.47 L861.65 590.59 L861.67 590.72 L861.68 590.85 L861.70 590.97 L861.71 591.10 L861.73 591.22 L861.75 591.34 L861.76 591.46 L861.78 591.59 L861.80 591.71 L861.81 591.83 L861.83 591.95 L861.85 592.07 L861.86 592.19 L861.88 592.31 L861.90 592.42 L861.91 592.54 L861.93 592.66 L861.94 592.77 L861.96 592.89 L861.98 593.00 L861.99 593.12 L862.01 593.23 L862.03 593.35 L862.04 593.46 L862.06 593.57 L862.08 593.68 L862.09 593.80 L862.11 593.91 L862.12 594.02 L862.14 594.13 L862.16 594.24 L862.17 594.35 L862.19 594.46 L862.21 594.56 L862.22 594.67 L862.24 594.78 L862.26 594.88 L862.27 594.99 L862.29 595.10 L862.30 595.20 L862.32 595.31 L862.34 595.41 L862.35 595.51 L862.37 595.62 L862.39 595.72 L862.40 595.82 L862.42 595.92 L862.44 596.03 L862.45 596.13 L862.47 596.23 L862.48 596.33 L862.50 596.43 L862.52 596.53 L862.53 596.63 L862.55 596.72 L862.57 596.82 L862.58 596.92 L862.60 597.02 L862.62 597.11 L862.63 597.21 L862.65 597.31 L862.66 597.40 L862.68 597.50 L862.70 597.59 L862.71 597.69 L862.73 597.78 L862.75 597.87 L862.76 597.97 L862.78 598.06 L862.80 598.15 L862.81 598.24 L862.83 598.34 L862.85 598.43 L862.86 598.52 L862.88 598.61 L862.89 598.70 L862.91 598.79 L862.93 598.88 L862.94 598.97 L862.96 599.06 L862.98 599.14 L862.99 599.23 L863.01 599.32 L863.03 599.41 L863.04 599.49 L863.06 599.58 L863.07 599.67 L863.09 599.75 L863.11 599.84 L863.12 599.92 L863.14 600.01 L863.16 600.09 L863.17 600.17 L863.19 600.26 L863.21 600.34 L863.22 600.42 L863.24 600.51 L863.25 600.59 L863.27 600.67 L863.29 600.75 L863.30 600.84 L863.32 600.92 L863.34 601.00 L863.35 601.08 L863.37 601.16 L863.39 601.24 L863.40 601.32 L863.42 601.40 L863.43 601.48 L863.45 601.55 L863.47 601.63 L863.48 601.71 L863.50 601.79 L863.52 601.86 L863.53 601.94 L863.55 602.02 L863.57 602.10 L863.58 602.17 L863.60 602.25 L863.61 602.32 L863.63 602.40 L863.65 602.47 L863.66 602.55 L863.68 602.62 L863.70 602.70 L863.71 602.77 L863.73 602.84 L863.75 602.92 L863.76 602.99 L863.78 603.06 L863.80 603.14 L863.81 603.21 L863.83 603.28 L863.84 603.35 L863.86 603.42 L863.88 603.49 L863.89 603.56 L863.91 603.64 L863.93 603.71 L863.94 603.78 L863.96 603.85 L863.98 603.92 L863.99 603.98 L864.01 604.05 L864.02 604.12 L864.04 604.19 L864.06 604.26 L864.07 604.33 L864.09 604.40 L864.11 604.46 L864.12 604.53 L864.14 604.60 L864.16 604.66 L864.17 604.73 L864.19 604.80 L864.20 604.86 L864.22 604.93 L864.24 605.00 L864.25 605.06 L864.27 605.13 L864.29 605.19 L864.30 605.26 L864.32 605.32 L864.34 605.38 L864.35 605.45 L864.37 605.51 L864.38 605.58 L864.40 605.64 L864.42 605.70 L864.43 605.77 L864.45 605.83 L864.47 605.89 L864.48 605.95 L864.50 606.01 L864.52 606.08 L864.53 606.14 L864.55 606.20 L864.56 606.26 L864.58 606.32 L864.60 606.38 L864.61 606.44 L864.63 606.50 L864.65 606.56 L864.66 606.62 L864.68 606.68 L864.70 606.74 L864.71 606.80 L864.73 606.86 L864.75 606.92 L864.76 606.98 L864.78 607.04 L864.79 607.10 L864.81 607.15 L864.83 607.21 L864.84 607.27 L864.86 607.33 L864.88 607.38 L864.89 607.44 L864.91 607.50 L864.93 607.56 L864.94 607.61 L864.96 607.67 L864.97 607.72 L864.99 607.78 L865.01 607.84 L865.02 607.89 L865.04 607.95 L865.06 608.00 L865.07 608.06 L865.09 608.11 L865.11 608.17 L865.12 608.22 L865.14 608.28 L865.15 608.33 L865.17 608.38 L865.19 608.44 L865.20 608.49 L865.22 608.55 L865.24 608.60 L865.25 608.65 L865.27 608.70 L865.29 608.76 L865.30 608.81 L865.32 608.86 L865.33 608.91 L865.35 608.97 L865.37 609.02 L865.38 609.07 L865.40 609.12 L865.42 609.17 L865.43 609.23 L865.45 609.28 L865.47 609.33 L865.48 609.38 L865.50 609.43 L865.51 609.48 L865.53 609.53 L865.55 609.58 L865.56 609.63 L865.58 609.68 L865.60 609.73 L865.61 609.78 L865.63 609.83 L865.65 609.88 L865.66 609.93 L865.68 609.98 L865.70 610.02 L865.71 610.07 L865.73 610.12 L865.74 610.17 L865.76 610.22 L865.78 610.27 L865.79 610.31 L865.81 610.36 L865.83 610.41 L865.84 610.46 L865.86 610.50 L865.88 610.55 L865.89 610.60 L865.91 610.64 L865.92 610.69 L865.94 610.74 L865.96 610.78 L865.97 610.83 L865.99 610.88 L866.01 610.92 L866.02 610.97 L866.04 611.01 L866.06 611.06 L866.07 611.11 L866.09 611.15 L866.10 611.20 L866.12 611.24 L866.14 611.29 L866.15 611.33 L866.17 611.38 L866.19 611.42 L866.20 611.46 L866.22 611.51 L866.24 611.55 L866.25 611.60 L866.27 611.64 L866.28 611.68 L866.30 611.73 L866.32 611.77 L866.33 611.81 L866.35 611.86 L866.37 611.90 L866.38 611.94 L866.40 611.99 L866.42 612.03 L866.43 612.07 L866.45 612.11 L866.46 612.16 L866.48 612.20 L866.50 612.24 L866.51 612.28 L866.53 612.32 L866.55 612.37 L866.56 612.41 L866.58 612.45 L866.60 612.49 L866.61 612.53 L866.63 612.57 L866.65 612.61 L866.66 612.66 L866.68 612.70 L866.69 612.74 L866.71 612.78 L866.73 612.82 L866.74 612.86 L866.76 612.90 L866.78 612.94 L866.79 612.98 L866.81 613.02 L866.83 613.06 L866.84 613.10 L866.86 613.14 L866.87 613.18 L866.89 613.22 L866.91 613.26 L866.92 613.29 L866.94 613.33 L866.96 613.37 L866.97 613.41 L866.99 613.45 L867.01 613.49 L867.02 613.53 L867.04 613.56 L867.05 613.60 L867.07 613.64 L867.09 613.68 L867.10 613.72 L867.12 613.75 L867.14 613.79 L867.15 613.83 L867.17 613.87 L867.19 613.90 L867.20 613.94 L867.22 613.98 L867.23 614.02 L867.25 614.05 L867.27 614.09 L867.28 614.13 L867.30 614.16 L867.32 614.20 L867.33 614.24 L867.35 614.27 L867.37 614.31 L867.38 614.35 L867.40 614.38 L867.41 614.42 L867.43 614.45 L867.45 614.49 L867.46 614.53 L867.48 614.56 L867.50 614.60 L867.51 614.63 L867.53 614.67 L867.55 614.70 L867.56 614.74 L867.58 614.77 L867.60 614.81 L867.61 614.84 L867.63 614.88 L867.64 614.91 L867.66 614.95 L867.68 614.98 L867.69 615.02 L867.71 615.05 L867.73 615.08 L867.74 615.12 L867.76 615.15 L867.78 615.19 L867.79 615.22 L867.81 615.25 L867.82 615.29 L867.84 615.32 L867.86 615.35 L867.87 615.39 L867.89 615.42 L867.91 615.45 L867.92 615.49 L867.94 615.52 L867.96 615.55 L867.97 615.59 L867.99 615.62 L868.00 615.65 L868.02 615.68 L868.04 615.72 L868.05 615.75 L868.07 615.78 L868.09 615.81 L868.10 615.85 L868.12 615.88 L868.14 615.91 L868.15 615.94 L868.17 615.97 L868.18 616.01 L868.20 616.04 L868.22 616.07 L868.23 616.10 L868.25 616.13 L868.27 616.16 L868.28 616.20 L868.30 616.23 L868.32 616.26 L868.33 616.29 L868.35 616.32 L868.36 616.35 L868.38 616.38 L868.40 616.41 L868.41 616.44 L868.43 616.47 L868.45 616.51 L868.46 616.54 L868.48 616.57 L868.50 616.60 L868.51 616.63 L868.53 616.66 L868.55 616.69 L868.56 616.72 L868.58 616.75 L868.59 616.78 L868.61 616.81 L868.63 616.84 L868.64 616.87 L868.66 616.90 L868.68 616.93 L868.69 616.95 L868.71 616.98 L868.73 617.01 L868.74 617.04 L868.76 617.07 L868.77 617.10 L868.79 617.13 L868.81 617.16 L868.82 617.19 L868.84 617.22 L868.86 617.25 L868.87 617.27 L868.89 617.30 L868.91 617.33 L868.92 617.36 L868.94 617.39 L868.95 617.42 L868.97 617.45 L868.99 617.47 L869.00 617.50 L869.02 617.53 L869.04 617.56 L869.05 617.59 L869.07 617.61 L869.09 617.64 L869.10 617.67 L869.12 617.70 L869.13 617.72 L869.15 617.75 L869.17 617.78 L869.18 617.81 L869.20 617.83 L869.22 617.86 L869.23 617.89 L869.25 617.92 L869.27 617.94 L869.28 617.97 L869.30 618.00 L869.31 618.02 L869.33 618.05 L869.35 618.08 L869.36 618.10 L869.38 618.13 L869.40 618.16 L869.41 618.18 L869.43 618.21 L869.45 618.24 L869.46 618.26 L869.48 618.29 L869.50 618.32 L869.51 618.34 L869.53 618.37 L869.54 618.39 L869.56 618.42 L869.58 618.45 L869.59 618.47 L869.61 618.50 L869.63 618.52 L869.64 618.55 L869.66 618.57 L869.68 618.60 L869.69 618.63 L869.71 618.65 L869.72 618.68 L869.74 618.70 L869.76 618.73 L869.77 618.75 L869.79 618.78 L869.81 618.80 L869.82 618.83 L869.84 618.85 L869.86 618.88 L869.87 618.90 L869.89 618.93 L869.90 618.95 L869.92 618.98 L869.94 619.00 L869.95 619.03 L869.97 619.05 L869.99 619.08 L870.00 619.10 L870.02 619.12 L870.04 619.15 L870.05 619.17 L870.07 619.20 L870.08 619.22 L870.10 619.25 L870.12 619.27 L870.13 619.29 L870.15 619.32 L870.17 619.34 L870.18 619.36 L870.20 619.39 L870.22 619.41 L870.23 619.44 L870.25 619.46 L870.26 619.48 L870.28 619.51 L870.30 619.53 L870.31 619.55 L870.33 619.58 L870.35 619.60 L870.36 619.62 L870.38 619.65 L870.40 619.67 L870.41 619.69 L870.43 619.72 L870.44 619.74 L870.46 619.76 L870.48 619.79 L870.49 619.81 L870.51 619.83 L870.53 619.85 L870.54 619.88 L870.56 619.90 L870.58 619.92 L870.59 619.94 L870.61 619.97 L870.63 619.99 L870.64 620.01 L870.66 620.03 L870.67 620.06 L870.69 620.08 L870.71 620.10 L870.72 620.12 L870.74 620.15 L870.76 620.17 L870.77 620.19 L870.79 620.21 L870.81 620.23 L870.82 620.26 L870.84 620.28 L870.85 620.30 L870.87 620.32 L870.89 620.34 L870.90 620.37 L870.92 620.39 L870.94 620.41 L870.95 620.43 L870.97 620.45 L870.99 620.47 L871.00 620.49 L871.02 620.52 L871.03 620.54 L871.05 620.56 L871.07 620.58 L871.08 620.60 L871.10 620.62 L871.12 620.64 L871.13 620.66 L871.15 620.69 L871.17 620.71 L871.18 620.73 L871.20 620.75 L871.21 620.77 L871.23 620.79 L871.25 620.81 L871.26 620.83 L871.28 620.85 L871.30 620.87 L871.31 620.89 L871.33 620.91 L871.35 620.93 L871.36 620.95 L871.38 620.98 L871.39 621.00 L871.41 621.02 L871.43 621.04 L871.44 621.06 L871.46 621.08 L871.48 621.10 L871.49 621.12 L871.51 621.14 L871.53 621.16 L871.54 621.18 L871.56 621.20 L871.58 621.22 L871.59 621.24 L871.61 621.26 L871.62 621.28 L871.64 621.30 L871.66 621.32 L871.67 621.34 L871.69 621.36 L871.71 621.38 L871.72 621.39 L871.74 621.41 L871.76 621.43 L871.77 621.45 L871.79 621.47 L871.80 621.49 L871.82 621.51 L871.84 621.53 L871.85 621.55 L871.87 621.57 L871.89 621.59 L871.90 621.61 L871.92 621.63 L871.94 621.65 L871.95 621.66 L871.97 621.68 L871.98 621.70 L872.00 621.72 L872.00 621.72 L872.27 622.03 L872.55 622.33 L872.82 622.63 L873.10 622.91 L873.37 623.18 L873.64 623.45 L873.92 623.71 L874.19 623.96 L874.47 624.20 L874.74 624.44 L875.01 624.67 L875.29 624.89 L875.56 625.11 L875.84 625.32 L876.11 625.53 L876.38 625.73 L876.66 625.92 L876.93 626.11 L877.21 626.30 L877.48 626.48 L877.75 626.65 L878.03 626.83 L878.30 627.00 L878.57 627.16 L878.85 627.32 L879.12 627.48 L879.40 627.63 L879.67 627.78 L879.94 627.92 L880.22 628.07 L880.49 628.21 L880.77 628.34 L881.04 628.48 L881.31 628.61 L881.59 628.74 L881.86 628.86 L882.14 628.99 L882.41 629.11 L882.68 629.22 L882.96 629.34 L883.23 629.45 L883.50 629.56 L883.78 629.67 L884.05 629.78 L884.33 629.89 L884.60 629.99 L884.87 630.09 L885.15 630.19 L885.42 630.29 L885.70 630.38 L885.97 630.48 L886.24 630.57 L886.52 630.66 L886.79 630.75 L887.07 630.83 L887.34 630.92 L887.61 631.00 L887.89 631.09 L888.16 631.17 L888.43 631.25 L888.71 631.33 L888.98 631.41 L889.26 631.48 L889.53 631.56 L889.80 631.63 L890.08 631.70 L890.35 631.77 L890.63 631.85 L890.90 631.91 L891.17 631.98 L891.45 632.05 L891.72 632.12 L892.00 632.18 L892.27 632.25 L892.54 632.31 L892.82 632.37 L893.09 632.43 L893.36 632.49 L893.64 632.55 L893.91 632.61 L894.19 632.67 L894.46 632.73 L894.73 632.78 L895.01 632.84 L895.28 632.89 L895.56 632.95 L895.83 633.00 L896.10 633.05 L896.38 633.10 L896.65 633.16 L896.93 633.21 L897.20 633.26 L897.47 633.30 L897.75 633.35 L898.02 633.40 L898.30 633.45 L898.57 633.50 L898.84 633.54 L899.12 633.59 L899.39 633.63 L899.66 633.68 L899.94 633.72 L900.21 633.76 L900.49 633.81 L900.76 633.85 L901.03 633.89 L901.31 633.93 L901.58 633.97 L901.86 634.01 L902.13 634.05 L902.40 634.09 L902.68 634.13 L902.95 634.17 L903.23 634.20 L903.50 634.24 L903.77 634.28 L904.05 634.32 L904.32 634.35 L904.59 634.39 L904.87 634.42 L905.14 634.46 L905.42 634.49 L905.69 634.53 L905.96 634.56 L906.24 634.59 L906.51 634.63 L906.79 634.66 L907.06 634.69 L907.33 634.72 L907.61 634.76 L907.88 634.79 L908.16 634.82 L908.43 634.85 L908.70 634.88 L908.98 634.91 L909.25 634.94 L909.52 634.97 L909.80 635.00 L910.07 635.03 L910.35 635.05 L910.62 635.08 L910.89 635.11 L911.17 635.14 L911.44 635.17 L911.72 635.19 L911.99 635.22 L912.26 635.25 L912.54 635.27 L912.81 635.30 L913.09 635.33 L913.36 635.35 L913.63 635.38 L913.91 635.40 L914.18 635.43 L914.45 635.45 L914.73 635.48 L915.00 635.50 L915.28 635.52 L915.55 635.55 L915.82 635.57 L916.10 635.59 L916.37 635.62 L916.65 635.64 L916.92 635.66 L917.19 635.68 L917.47 635.71 L917.74 635.73 L918.02 635.75 L918.29 635.77 L918.56 635.79 L918.84 635.82 L919.11 635.84 L919.39 635.86 L919.66 635.88 L919.93 635.90 L920.21 635.92 L920.48 635.94 L920.75 635.96 L921.03 635.98 L921.30 636.00 L921.58 636.02 L921.85 636.04 L922.12 636.06 L922.40 636.08 L922.67 636.09 L922.95 636.11 L923.22 636.13 L923.49 636.15 L923.77 636.17 L924.04 636.19 L924.32 636.20 L924.59 636.22 L924.86 636.24 L925.14 636.26 L925.41 636.27 L925.68 636.29 L925.96 636.31 L926.23 636.33 L926.51 636.34 L926.78 636.36 L927.05 636.38 L927.33 636.39 L927.60 636.41 L927.88 636.42 L928.15 636.44 L928.42 636.46 L928.70 636.47 L928.97 636.49 L929.25 636.50 L929.52 636.52 L929.79 636.53 L930.07 636.55 L930.34 636.56 L930.61 636.58 L930.89 636.59 L931.16 636.61 L931.44 636.62 L931.71 636.64 L931.98 636.65 L932.26 636.67 L932.53 636.68 L932.81 636.70 L933.08 636.71 L933.35 636.72 L933.63 636.74 L933.90 636.75 L934.18 636.76 L934.45 636.78 L934.72 636.79 L935.00 636.81 L935.27 636.82 L935.54 636.83 L935.82 636.84 L936.09 636.86 L936.37 636.87 L936.64 636.88 L936.91 636.90 L937.19 636.91 L937.46 636.92 L937.74 636.93 L938.01 636.95 L938.28 636.96 L938.56 636.97 L938.83 636.98 L939.11 636.99 L939.38 637.01 L939.65 637.02 L939.93 637.03 L940.20 637.04 L940.48 637.05 L940.75 637.06 L941.02 637.08 L941.30 637.09 L941.57 637.10 L941.84 637.11 L942.12 637.12 L942.39 637.13 L942.67 637.14 L942.94 637.15 L943.21 637.16 L943.49 637.18 L943.76 637.19 L944.04 637.20 L944.31 637.21 L944.58 637.22 L944.86 637.23 L945.13 637.24 L945.41 637.25 L945.68 637.26 L945.95 637.27 L946.23 637.28 L946.50 637.29 L946.77 637.30 L947.05 637.31 L947.32 637.32 L947.60 637.33 L947.87 637.34 L948.14 637.35 L948.42 637.36 L948.69 637.37 L948.97 637.38 L949.24 637.39 L949.51 637.40 L949.79 637.41 L950.06 637.41 L950.34 637.42 L950.61 637.43 L950.88 637.44 L951.16 637.45 L951.43 637.46 L951.70 637.47 L951.98 637.48 L952.25 637.49 L952.53 637.50 L952.80 637.50 L953.07 637.51 L953.35 637.52 L953.62 637.53 L953.90 637.54" stroke="#1020ff" stroke-width="2.6" stroke-linejoin="round" fill="none"/><path d="M560.80 639.22 L561.50 639.22 L562.20 639.22 L562.89 639.22 L563.59 639.22 L564.29 639.22 L564.99 639.22 L565.68 639.22 L566.38 639.22 L567.08 639.22 L567.78 639.22 L568.48 639.22 L569.17 639.21 L569.87 639.21 L570.57 639.21 L571.27 639.21 L571.97 639.21 L572.66 639.21 L573.36 639.21 L574.06 639.21 L574.76 639.21 L575.45 639.21 L576.15 639.21 L576.85 639.21 L577.55 639.21 L578.25 639.21 L578.94 639.21 L579.64 639.21 L580.34 639.21 L581.04 639.21 L581.74 639.21 L582.43 639.21 L583.13 639.20 L583.83 639.20 L584.53 639.20 L585.22 639.20 L585.92 639.20 L586.62 639.20 L587.32 639.20 L588.02 639.20 L588.71 639.20 L589.41 639.20 L590.11 639.20 L590.81 639.19 L591.51 639.19 L592.20 639.19 L592.90 639.19 L593.60 639.19 L594.30 639.19 L594.99 639.19 L595.69 639.19 L596.39 639.19 L597.09 639.18 L597.79 639.18 L598.48 639.18 L599.18 639.18 L599.88 639.18 L600.58 639.18 L601.28 639.18 L601.97 639.18 L602.67 639.17 L603.37 639.17 L604.07 639.17 L604.76 639.17 L605.46 639.17 L606.16 639.17 L606.86 639.16 L607.56 639.16 L608.25 639.16 L608.95 639.16 L609.65 639.16 L610.35 639.16 L611.05 639.15 L611.74 639.15 L612.44 639.15 L613.14 639.15 L613.84 639.15 L614.53 639.15 L615.23 639.14 L615.93 639.14 L616.63 639.14 L617.33 639.14 L618.02 639.14 L618.72 639.13 L619.42 639.13 L620.12 639.13 L620.82 639.13 L621.51 639.12 L622.21 639.12 L622.91 639.12 L623.61 639.12 L624.30 639.12 L625.00 639.11 L625.70 639.11 L626.40 639.11 L627.10 639.11 L627.79 639.10 L628.49 639.10 L629.19 639.10 L629.89 639.10 L630.59 639.09 L631.28 639.09 L631.98 639.09 L632.68 639.09 L633.38 639.08 L634.07 639.08 L634.77 639.08 L635.47 639.07 L636.17 639.07 L636.87 639.07 L637.56 639.07 L638.26 639.06 L638.96 639.06 L639.66 639.06 L640.36 639.05 L641.05 639.05 L641.75 639.05 L642.45 639.04 L643.15 639.04 L643.84 639.04 L644.54 639.03 L645.24 639.03 L645.94 639.03 L646.64 639.02 L647.33 639.02 L648.03 639.02 L648.73 639.01 L649.43 639.01 L650.13 639.01 L650.82 639.00 L651.52 639.00 L652.22 639.00 L652.92 638.99 L653.61 638.99 L654.31 638.98 L655.01 638.98 L655.71 638.98 L656.41 638.97 L657.10 638.97 L657.80 638.96 L658.50 638.96 L659.20 638.96 L659.90 638.95 L660.59 638.95 L661.29 638.94 L661.99 638.94 L662.69 638.93 L663.38 638.93 L664.08 638.93 L664.78 638.92 L665.48 638.92 L666.18 638.91 L666.87 638.91 L667.57 638.90 L668.27 638.90 L668.97 638.89 L669.66 638.89 L670.36 638.88 L671.06 638.88 L671.76 638.87 L672.46 638.87 L673.15 638.86 L673.85 638.86 L674.55 638.85 L675.25 638.85 L675.95 638.84 L676.64 638.84 L677.34 638.83 L678.04 638.82 L678.74 638.82 L679.43 638.81 L680.13 638.81 L680.83 638.80 L681.53 638.80 L682.23 638.79 L682.92 638.78 L683.62 638.78 L684.32 638.77 L685.02 638.77 L685.72 638.76 L686.41 638.75 L687.11 638.75 L687.81 638.74 L688.51 638.73 L689.20 638.73 L689.90 638.72 L690.60 638.71 L691.30 638.71 L692.00 638.70 L692.69 638.69 L693.39 638.69 L694.09 638.68 L694.79 638.67 L695.49 638.67 L696.18 638.66 L696.88 638.65 L697.58 638.64 L698.28 638.64 L698.97 638.63 L699.67 638.62 L700.37 638.61 L701.07 638.60 L701.77 638.60 L702.46 638.59 L703.16 638.58 L703.86 638.57 L704.56 638.56 L705.26 638.56 L705.95 638.55 L706.65 638.54 L707.35 638.53 L708.05 638.52 L708.74 638.51 L709.44 638.50 L710.14 638.49 L710.84 638.49 L711.54 638.48 L712.23 638.47 L712.93 638.46 L713.63 638.45 L714.33 638.44 L715.03 638.43 L715.72 638.42 L716.42 638.41 L717.12 638.40 L717.82 638.39 L718.51 638.38 L719.21 638.37 L719.91 638.36 L720.61 638.35 L721.31 638.33 L722.00 638.32 L722.70 638.31 L723.40 638.30 L724.10 638.29 L724.80 638.28 L725.49 638.27 L726.19 638.25 L726.89 638.24 L727.59 638.23 L728.28 638.22 L728.98 638.21 L729.68 638.19 L730.38 638.18 L731.08 638.17 L731.77 638.15 L732.47 638.14 L733.17 638.13 L733.87 638.11 L734.57 638.10 L735.26 638.09 L735.96 638.07 L736.66 638.06 L737.36 638.04 L738.05 638.03 L738.75 638.01 L739.45 638.00 L740.15 637.98 L740.85 637.97 L741.54 637.95 L742.24 637.94 L742.94 637.92 L743.64 637.90 L744.34 637.89 L745.03 637.87 L745.73 637.85 L746.43 637.84 L747.13 637.82 L747.82 637.80 L748.52 637.78 L749.22 637.77 L749.92 637.75 L750.62 637.73 L751.31 637.71 L752.01 637.69 L752.71 637.67 L753.41 637.65 L754.11 637.63 L754.80 637.61 L755.50 637.59 L756.20 637.57 L756.90 637.55 L757.59 637.53 L758.29 637.50 L758.99 637.48 L759.69 637.46 L760.39 637.44 L761.08 637.41 L761.78 637.39 L762.48 637.36 L763.18 637.34 L763.87 637.32 L764.57 637.29 L765.27 637.26 L765.97 637.24 L766.67 637.21 L767.36 637.18 L768.06 637.16 L768.76 637.13 L769.46 637.10 L770.16 637.07 L770.85 637.04 L771.55 637.01 L772.25 636.98 L772.95 636.95 L773.64 636.92 L774.34 636.89 L775.04 636.86 L775.74 636.82 L776.44 636.79 L777.13 636.76 L777.83 636.72 L778.53 636.68 L779.23 636.65 L779.93 636.61 L780.62 636.57 L781.32 636.53 L782.02 636.50 L782.72 636.46 L783.41 636.41 L784.11 636.37 L784.81 636.33 L785.51 636.29 L786.21 636.24 L786.90 636.20 L787.60 636.15 L788.30 636.11 L789.00 636.06 L789.70 636.01 L790.39 635.96 L791.09 635.91 L791.79 635.85 L792.49 635.80 L793.18 635.75 L793.88 635.69 L794.58 635.63 L795.28 635.57 L795.98 635.51 L796.67 635.45 L797.37 635.39 L798.07 635.32 L798.77 635.26 L799.47 635.19 L800.16 635.12 L800.86 635.05 L801.56 634.98 L802.26 634.90 L802.95 634.82 L803.65 634.74 L804.35 634.66 L805.05 634.58 L805.75 634.49 L806.44 634.40 L807.14 634.31 L807.84 634.22 L808.54 634.12 L809.24 634.02 L809.93 633.92 L810.63 633.81 L811.33 633.70 L812.03 633.59 L812.72 633.47 L813.42 633.35 L814.12 633.23 L814.82 633.10 L815.52 632.97 L816.21 632.83 L816.91 632.68 L817.61 632.54 L818.31 632.38 L819.01 632.22 L819.70 632.05 L820.40 631.88 L821.10 631.70 L821.80 631.51 L822.49 631.32 L823.19 631.12 L823.89 630.90 L824.59 630.68 L825.29 630.45 L825.98 630.20 L826.68 629.95 L827.38 629.68 L828.08 629.40 L828.78 629.10 L829.47 628.79 L830.17 628.46 L830.87 628.11 L831.57 627.75 L832.26 627.36 L832.96 626.94 L833.66 626.50 L834.36 626.03 L835.06 625.53 L835.75 625.00 L836.45 624.42 L837.15 623.81 L837.85 623.14 L838.55 622.42 L839.24 621.64 L839.24 621.64 L839.26 621.62 L839.28 621.60 L839.29 621.58 L839.31 621.56 L839.32 621.54 L839.34 621.52 L839.36 621.51 L839.37 621.49 L839.39 621.47 L839.41 621.45 L839.42 621.43 L839.44 621.41 L839.46 621.39 L839.47 621.37 L839.49 621.35 L839.51 621.33 L839.52 621.31 L839.54 621.29 L839.55 621.27 L839.57 621.25 L839.59 621.23 L839.60 621.21 L839.62 621.19 L839.64 621.17 L839.65 621.15 L839.67 621.13 L839.69 621.11 L839.70 621.09 L839.72 621.07 L839.73 621.05 L839.75 621.03 L839.77 621.01 L839.78 620.99 L839.80 620.97 L839.82 620.95 L839.83 620.93 L839.85 620.91 L839.87 620.89 L839.88 620.86 L839.90 620.84 L839.91 620.82 L839.93 620.80 L839.95 620.78 L839.96 620.76 L839.98 620.74 L840.00 620.72 L840.01 620.70 L840.03 620.68 L840.05 620.66 L840.06 620.63 L840.08 620.61 L840.09 620.59 L840.11 620.57 L840.13 620.55 L840.14 620.53 L840.16 620.51 L840.18 620.49 L840.19 620.46 L840.21 620.44 L840.23 620.42 L840.24 620.40 L840.26 620.38 L840.27 620.36 L840.29 620.33 L840.31 620.31 L840.32 620.29 L840.34 620.27 L840.36 620.25 L840.37 620.22 L840.39 620.20 L840.41 620.18 L840.42 620.16 L840.44 620.14 L840.46 620.11 L840.47 620.09 L840.49 620.07 L840.50 620.05 L840.52 620.02 L840.54 620.00 L840.55 619.98 L840.57 619.96 L840.59 619.93 L840.60 619.91 L840.62 619.89 L840.64 619.87 L840.65 619.84 L840.67 619.82 L840.68 619.80 L840.70 619.78 L840.72 619.75 L840.73 619.73 L840.75 619.71 L840.77 619.68 L840.78 619.66 L840.80 619.64 L840.82 619.61 L840.83 619.59 L840.85 619.57 L840.86 619.54 L840.88 619.52 L840.90 619.50 L840.91 619.47 L840.93 619.45 L840.95 619.42 L840.96 619.40 L840.98 619.38 L841.00 619.35 L841.01 619.33 L841.03 619.31 L841.04 619.28 L841.06 619.26 L841.08 619.23 L841.09 619.21 L841.11 619.18 L841.13 619.16 L841.14 619.14 L841.16 619.11 L841.18 619.09 L841.19 619.06 L841.21 619.04 L841.22 619.01 L841.24 618.99 L841.26 618.96 L841.27 618.94 L841.29 618.91 L841.31 618.89 L841.32 618.86 L841.34 618.84 L841.36 618.81 L841.37 618.79 L841.39 618.76 L841.41 618.74 L841.42 618.71 L841.44 618.69 L841.45 618.66 L841.47 618.64 L841.49 618.61 L841.50 618.59 L841.52 618.56 L841.54 618.53 L841.55 618.51 L841.57 618.48 L841.59 618.46 L841.60 618.43 L841.62 618.40 L841.63 618.38 L841.65 618.35 L841.67 618.33 L841.68 618.30 L841.70 618.27 L841.72 618.25 L841.73 618.22 L841.75 618.19 L841.77 618.17 L841.78 618.14 L841.80 618.11 L841.81 618.09 L841.83 618.06 L841.85 618.03 L841.86 618.01 L841.88 617.98 L841.90 617.95 L841.91 617.93 L841.93 617.90 L841.95 617.87 L841.96 617.84 L841.98 617.82 L841.99 617.79 L842.01 617.76 L842.03 617.73 L842.04 617.71 L842.06 617.68 L842.08 617.65 L842.09 617.62 L842.11 617.59 L842.13 617.57 L842.14 617.54 L842.16 617.51 L842.17 617.48 L842.19 617.45 L842.21 617.43 L842.22 617.40 L842.24 617.37 L842.26 617.34 L842.27 617.31 L842.29 617.28 L842.31 617.25 L842.32 617.23 L842.34 617.20 L842.36 617.17 L842.37 617.14 L842.39 617.11 L842.40 617.08 L842.42 617.05 L842.44 617.02 L842.45 616.99 L842.47 616.96 L842.49 616.93 L842.50 616.90 L842.52 616.87 L842.54 616.84 L842.55 616.81 L842.57 616.78 L842.58 616.75 L842.60 616.72 L842.62 616.69 L842.63 616.66 L842.65 616.63 L842.67 616.60 L842.68 616.57 L842.70 616.54 L842.72 616.51 L842.73 616.48 L842.75 616.45 L842.76 616.42 L842.78 616.39 L842.80 616.36 L842.81 616.33 L842.83 616.30 L842.85 616.27 L842.86 616.23 L842.88 616.20 L842.90 616.17 L842.91 616.14 L842.93 616.11 L842.94 616.08 L842.96 616.04 L842.98 616.01 L842.99 615.98 L843.01 615.95 L843.03 615.92 L843.04 615.88 L843.06 615.85 L843.08 615.82 L843.09 615.79 L843.11 615.75 L843.12 615.72 L843.14 615.69 L843.16 615.66 L843.17 615.62 L843.19 615.59 L843.21 615.56 L843.22 615.52 L843.24 615.49 L843.26 615.46 L843.27 615.43 L843.29 615.39 L843.30 615.36 L843.32 615.32 L843.34 615.29 L843.35 615.26 L843.37 615.22 L843.39 615.19 L843.40 615.16 L843.42 615.12 L843.44 615.09 L843.45 615.05 L843.47 615.02 L843.49 614.98 L843.50 614.95 L843.52 614.91 L843.53 614.88 L843.55 614.84 L843.57 614.81 L843.58 614.77 L843.60 614.74 L843.62 614.70 L843.63 614.67 L843.65 614.63 L843.67 614.60 L843.68 614.56 L843.70 614.53 L843.71 614.49 L843.73 614.45 L843.75 614.42 L843.76 614.38 L843.78 614.35 L843.80 614.31 L843.81 614.27 L843.83 614.24 L843.85 614.20 L843.86 614.16 L843.88 614.13 L843.89 614.09 L843.91 614.05 L843.93 614.02 L843.94 613.98 L843.96 613.94 L843.98 613.90 L843.99 613.87 L844.01 613.83 L844.03 613.79 L844.04 613.75 L844.06 613.71 L844.07 613.68 L844.09 613.64 L844.11 613.60 L844.12 613.56 L844.14 613.52 L844.16 613.48 L844.17 613.45 L844.19 613.41 L844.21 613.37 L844.22 613.33 L844.24 613.29 L844.25 613.25 L844.27 613.21 L844.29 613.17 L844.30 613.13 L844.32 613.09 L844.34 613.05 L844.35 613.01 L844.37 612.97 L844.39 612.93 L844.40 612.89 L844.42 612.85 L844.44 612.81 L844.45 612.77 L844.47 612.73 L844.48 612.69 L844.50 612.65 L844.52 612.61 L844.53 612.57 L844.55 612.52 L844.57 612.48 L844.58 612.44 L844.60 612.40 L844.62 612.36 L844.63 612.32 L844.65 612.27 L844.66 612.23 L844.68 612.19 L844.70 612.15 L844.71 612.10 L844.73 612.06 L844.75 612.02 L844.76 611.98 L844.78 611.93 L844.80 611.89 L844.81 611.85 L844.83 611.80 L844.84 611.76 L844.86 611.72 L844.88 611.67 L844.89 611.63 L844.91 611.58 L844.93 611.54 L844.94 611.49 L844.96 611.45 L844.98 611.41 L844.99 611.36 L845.01 611.32 L845.02 611.27 L845.04 611.23 L845.06 611.18 L845.07 611.14 L845.09 611.09 L845.11 611.04 L845.12 611.00 L845.14 610.95 L845.16 610.91 L845.17 610.86 L845.19 610.81 L845.20 610.77 L845.22 610.72 L845.24 610.67 L845.25 610.63 L845.27 610.58 L845.29 610.53 L845.30 610.48 L845.32 610.44 L845.34 610.39 L845.35 610.34 L845.37 610.29 L845.39 610.24 L845.40 610.20 L845.42 610.15 L845.43 610.10 L845.45 610.05 L845.47 610.00 L845.48 609.95 L845.50 609.90 L845.52 609.85 L845.53 609.80 L845.55 609.75 L845.57 609.70 L845.58 609.65 L845.60 609.60 L845.61 609.55 L845.63 609.50 L845.65 609.45 L845.66 609.40 L845.68 609.35 L845.70 609.30 L845.71 609.25 L845.73 609.20 L845.75 609.14 L845.76 609.09 L845.78 609.04 L845.79 608.99 L845.81 608.94 L845.83 608.88 L845.84 608.83 L845.86 608.78 L845.88 608.72 L845.89 608.67 L845.91 608.62 L845.93 608.56 L845.94 608.51 L845.96 608.46 L845.97 608.40 L845.99 608.35 L846.01 608.29 L846.02 608.24 L846.04 608.18 L846.06 608.13 L846.07 608.07 L846.09 608.02 L846.11 607.96 L846.12 607.91 L846.14 607.85 L846.15 607.79 L846.17 607.74 L846.19 607.68 L846.20 607.62 L846.22 607.57 L846.24 607.51 L846.25 607.45 L846.27 607.40 L846.29 607.34 L846.30 607.28 L846.32 607.22 L846.34 607.16 L846.35 607.11 L846.37 607.05 L846.38 606.99 L846.40 606.93 L846.42 606.87 L846.43 606.81 L846.45 606.75 L846.47 606.69 L846.48 606.63 L846.50 606.57 L846.52 606.51 L846.53 606.45 L846.55 606.39 L846.56 606.33 L846.58 606.26 L846.60 606.20 L846.61 606.14 L846.63 606.08 L846.65 606.02 L846.66 605.95 L846.68 605.89 L846.70 605.83 L846.71 605.77 L846.73 605.70 L846.74 605.64 L846.76 605.57 L846.78 605.51 L846.79 605.45 L846.81 605.38 L846.83 605.32 L846.84 605.25 L846.86 605.19 L846.88 605.12 L846.89 605.05 L846.91 604.99 L846.92 604.92 L846.94 604.86 L846.96 604.79 L846.97 604.72 L846.99 604.66 L847.01 604.59 L847.02 604.52 L847.04 604.45 L847.06 604.38 L847.07 604.32 L847.09 604.25 L847.10 604.18 L847.12 604.11 L847.14 604.04 L847.15 603.97 L847.17 603.90 L847.19 603.83 L847.20 603.76 L847.22 603.69 L847.24 603.62 L847.25 603.55 L847.27 603.47 L847.29 603.40 L847.30 603.33 L847.32 603.26 L847.33 603.18 L847.35 603.11 L847.37 603.04 L847.38 602.96 L847.40 602.89 L847.42 602.82 L847.43 602.74 L847.45 602.67 L847.47 602.59 L847.48 602.52 L847.50 602.44 L847.51 602.37 L847.53 602.29 L847.55 602.21 L847.56 602.14 L847.58 602.06 L847.60 601.98 L847.61 601.90 L847.63 601.83 L847.65 601.75 L847.66 601.67 L847.68 601.59 L847.69 601.51 L847.71 601.43 L847.73 601.35 L847.74 601.27 L847.76 601.19 L847.78 601.11 L847.79 601.03 L847.81 600.95 L847.83 600.87 L847.84 600.78 L847.86 600.70 L847.87 600.62 L847.89 600.54 L847.91 600.45 L847.92 600.37 L847.94 600.28 L847.96 600.20 L847.97 600.11 L847.99 600.03 L848.01 599.94 L848.02 599.86 L848.04 599.77 L848.05 599.69 L848.07 599.60 L848.09 599.51 L848.10 599.42 L848.12 599.34 L848.14 599.25 L848.15 599.16 L848.17 599.07 L848.19 598.98 L848.20 598.89 L848.22 598.80 L848.24 598.71 L848.25 598.62 L848.27 598.53 L848.28 598.43 L848.30 598.34 L848.32 598.25 L848.33 598.16 L848.35 598.06 L848.37 597.97 L848.38 597.87 L848.40 597.78 L848.42 597.68 L848.43 597.59 L848.45 597.49 L848.46 597.40 L848.48 597.30 L848.50 597.20 L848.51 597.10 L848.53 597.01 L848.55 596.91 L848.56 596.81 L848.58 596.71 L848.60 596.61 L848.61 596.51 L848.63 596.41 L848.64 596.31 L848.66 596.21 L848.68 596.10 L848.69 596.00 L848.71 595.90 L848.73 595.79 L848.74 595.69 L848.76 595.59 L848.78 595.48 L848.79 595.38 L848.81 595.27 L848.82 595.16 L848.84 595.06 L848.86 594.95 L848.87 594.84 L848.89 594.73 L848.91 594.62 L848.92 594.52 L848.94 594.41 L848.96 594.29 L848.97 594.18 L848.99 594.07 L849.00 593.96 L849.02 593.85 L849.04 593.74 L849.05 593.62 L849.07 593.51 L849.09 593.39 L849.10 593.28 L849.12 593.16 L849.14 593.05 L849.15 592.93 L849.17 592.81 L849.19 592.69 L849.20 592.58 L849.22 592.46 L849.23 592.34 L849.25 592.22 L849.27 592.10 L849.28 591.97 L849.30 591.85 L849.32 591.73 L849.33 591.61 L849.35 591.48 L849.37 591.36 L849.38 591.23 L849.40 591.11 L849.41 590.98 L849.43 590.85 L849.45 590.73 L849.46 590.60 L849.48 590.47 L849.50 590.34 L849.51 590.21 L849.53 590.08 L849.55 589.95 L849.56 589.82 L849.58 589.68 L849.59 589.55 L849.61 589.42 L849.63 589.28 L849.64 589.15 L849.66 589.01 L849.68 588.87 L849.69 588.73 L849.71 588.60 L849.73 588.46 L849.74 588.32 L849.76 588.18 L849.77 588.04 L849.79 587.89 L849.81 587.75 L849.82 587.61 L849.84 587.46 L849.86 587.32 L849.87 587.17 L849.89 587.03 L849.91 586.88 L849.92 586.73 L849.94 586.58 L849.95 586.43 L849.97 586.28 L849.99 586.13 L850.00 585.98 L850.02 585.82 L850.04 585.67 L850.05 585.52 L850.07 585.36 L850.09 585.20 L850.10 585.05 L850.12 584.89 L850.14 584.73 L850.15 584.57 L850.17 584.41 L850.18 584.25 L850.20 584.08 L850.22 583.92 L850.23 583.76 L850.25 583.59 L850.27 583.43 L850.28 583.26 L850.30 583.09 L850.32 582.92 L850.33 582.75 L850.35 582.58 L850.36 582.41 L850.38 582.23 L850.40 582.06 L850.41 581.89 L850.43 581.71 L850.45 581.53 L850.46 581.35 L850.48 581.18 L850.50 580.99 L850.51 580.81 L850.53 580.63 L850.54 580.45 L850.56 580.26 L850.58 580.08 L850.59 579.89 L850.61 579.70 L850.63 579.51 L850.64 579.32 L850.66 579.13 L850.68 578.94 L850.69 578.75 L850.71 578.55 L850.72 578.36 L850.74 578.16 L850.76 577.96 L850.77 577.76 L850.79 577.56 L850.81 577.36 L850.82 577.16 L850.84 576.95 L850.86 576.75 L850.87 576.54 L850.89 576.33 L850.90 576.12 L850.92 575.91 L850.94 575.70 L850.95 575.48 L850.97 575.27 L850.99 575.05 L851.00 574.84 L851.02 574.62 L851.04 574.40 L851.05 574.17 L851.07 573.95 L851.09 573.73 L851.10 573.50 L851.12 573.27 L851.13 573.04 L851.15 572.81 L851.17 572.58 L851.18 572.35 L851.20 572.11 L851.22 571.87 L851.23 571.64 L851.25 571.40 L851.27 571.15 L851.28 570.91 L851.30 570.67 L851.31 570.42 L851.33 570.17 L851.35 569.92 L851.36 569.67 L851.38 569.42 L851.40 569.16 L851.41 568.90 L851.43 568.65 L851.45 568.39 L851.46 568.12 L851.48 567.86 L851.49 567.59 L851.51 567.33 L851.53 567.06 L851.54 566.79 L851.56 566.51 L851.58 566.24 L851.59 565.96 L851.61 565.68 L851.63 565.40 L851.64 565.12 L851.66 564.83 L851.67 564.54 L851.69 564.25 L851.71 563.96 L851.72 563.67 L851.74 563.37 L851.76 563.08 L851.77 562.78 L851.79 562.47 L851.81 562.17 L851.82 561.86 L851.84 561.56 L851.85 561.24 L851.87 560.93 L851.89 560.61 L851.90 560.30 L851.92 559.98 L851.94 559.65 L851.95 559.33 L851.97 559.00 L851.99 558.67 L852.00 558.34 L852.02 558.00 L852.03 557.66 L852.05 557.32 L852.07 556.98 L852.08 556.63 L852.10 556.29 L852.12 555.93 L852.13 555.58 L852.15 555.22 L852.17 554.86 L852.18 554.50 L852.20 554.14 L852.22 553.77 L852.23 553.40 L852.25 553.02 L852.26 552.65 L852.28 552.27 L852.30 551.88 L852.31 551.50 L852.33 551.11 L852.35 550.71 L852.36 550.32 L852.38 549.92 L852.40 549.52 L852.41 549.11 L852.43 548.70 L852.44 548.29 L852.46 547.87 L852.48 547.46 L852.49 547.03 L852.51 546.61 L852.53 546.18 L852.54 545.74 L852.56 545.31 L852.58 544.87 L852.59 544.42 L852.61 543.97 L852.62 543.52 L852.64 543.06 L852.66 542.61 L852.67 542.14 L852.69 541.67 L852.71 541.20 L852.72 540.73 L852.74 540.25 L852.76 539.76 L852.77 539.27 L852.79 538.78 L852.80 538.28 L852.82 537.78 L852.84 537.28 L852.85 536.76 L852.87 536.25 L852.89 535.73 L852.90 535.21 L852.92 534.68 L852.94 534.14 L852.95 533.60 L852.97 533.06 L852.98 532.51 L853.00 531.96 L853.02 531.40 L853.03 530.84 L853.05 530.27 L853.07 529.70 L853.08 529.12 L853.10 528.53 L853.12 527.94 L853.13 527.35 L853.15 526.75 L853.17 526.14 L853.18 525.53 L853.20 524.91 L853.21 524.29 L853.23 523.66 L853.25 523.02 L853.26 522.38 L853.28 521.73 L853.30 521.08 L853.31 520.42 L853.33 519.76 L853.35 519.08 L853.36 518.41 L853.38 517.72 L853.39 517.03 L853.41 516.33 L853.43 515.63 L853.44 514.92 L853.46 514.20 L853.48 513.47 L853.49 512.74 L853.51 512.00 L853.53 511.26 L853.54 510.50 L853.56 509.74 L853.57 508.98 L853.59 508.20 L853.61 507.42 L853.62 506.63 L853.64 505.83 L853.66 505.03 L853.67 504.22 L853.69 503.40 L853.71 502.57 L853.72 501.73 L853.74 500.89 L853.75 500.03 L853.77 499.17 L853.79 498.31 L853.80 497.43 L853.82 496.54 L853.84 495.65 L853.85 494.75 L853.87 493.84 L853.89 492.92 L853.90 491.99 L853.92 491.06 L853.93 490.11 L853.95 489.16 L853.97 488.20 L853.98 487.23 L854.00 486.25 L854.02 485.26 L854.03 484.26 L854.05 483.26 L854.07 482.24 L854.08 481.22 L854.10 480.18 L854.12 479.14 L854.13 478.09 L854.15 477.03 L854.16 475.96 L854.18 474.89 L854.20 473.80 L854.21 472.71 L854.23 471.60 L854.25 470.49 L854.26 469.37 L854.28 468.24 L854.30 467.10 L854.31 465.95 L854.33 464.80 L854.34 463.63 L854.36 462.46 L854.38 461.28 L854.39 460.10 L854.41 458.90 L854.43 457.70 L854.44 456.49 L854.46 455.27 L854.48 454.05 L854.49 452.82 L854.51 451.58 L854.52 450.34 L854.54 449.09 L854.56 447.84 L854.57 446.58 L854.59 445.31 L854.61 444.04 L854.62 442.77 L854.64 441.49 L854.66 440.21 L854.67 438.93 L854.69 437.65 L854.70 436.36 L854.72 435.07 L854.74 433.78 L854.75 432.49 L854.77 431.20 L854.79 429.92 L854.80 428.63 L854.82 427.35 L854.84 426.07 L854.85 424.79 L854.87 423.52 L854.88 422.25 L854.90 420.99 L854.92 419.73 L854.93 418.49 L854.95 417.25 L854.97 416.02 L854.98 414.81 L855.00 413.60 L855.02 412.41 L855.03 411.23 L855.05 410.07 L855.07 408.92 L855.08 407.79 L855.10 406.67 L855.11 405.58 L855.13 404.50 L855.15 403.45 L855.16 402.41 L855.18 401.41 L855.20 400.42 L855.21 399.46 L855.23 398.53 L855.25 397.63 L855.26 396.75 L855.28 395.91 L855.29 395.09 L855.31 394.31 L855.33 393.56 L855.34 392.85 L855.36 392.17 L855.38 391.52 L855.39 390.92 L855.41 390.35 L855.43 389.82 L855.44 389.33 L855.46 388.88 L855.47 388.47 L855.49 388.10 L855.51 387.77 L855.52 387.49 L855.54 387.25 L855.56 387.05 L855.57 386.90 L855.59 386.79 L855.61 386.72 L855.62 386.70 L855.64 386.72 L855.65 386.79 L855.67 386.90 L855.69 387.05 L855.70 387.25 L855.72 387.49 L855.74 387.77 L855.75 388.10 L855.77 388.47 L855.79 388.88 L855.80 389.33 L855.82 389.82 L855.83 390.35 L855.85 390.92 L855.87 391.52 L855.88 392.17 L855.90 392.85 L855.92 393.56 L855.93 394.31 L855.95 395.09 L855.97 395.91 L855.98 396.75 L856.00 397.63 L856.02 398.53 L856.03 399.46 L856.05 400.42 L856.06 401.41 L856.08 402.41 L856.10 403.45 L856.11 404.50 L856.13 405.58 L856.15 406.67 L856.16 407.79 L856.18 408.92 L856.20 410.07 L856.21 411.23 L856.23 412.41 L856.24 413.60 L856.26 414.81 L856.28 416.02 L856.29 417.25 L856.31 418.49 L856.33 419.73 L856.34 420.99 L856.36 422.25 L856.38 423.52 L856.39 424.79 L856.41 426.07 L856.42 427.35 L856.44 428.63 L856.46 429.92 L856.47 431.20 L856.49 432.49 L856.51 433.78 L856.52 435.07 L856.54 436.36 L856.56 437.65 L856.57 438.93 L856.59 440.21 L856.60 441.49 L856.62 442.77 L856.64 444.04 L856.65 445.31 L856.67 446.58 L856.69 447.84 L856.70 449.09 L856.72 450.34 L856.74 451.58 L856.75 452.82 L856.77 454.05 L856.78 455.27 L856.80 456.49 L856.82 457.70 L856.83 458.90 L856.85 460.10 L856.87 461.28 L856.88 462.46 L856.90 463.63 L856.92 464.80 L856.93 465.95 L856.95 467.10 L856.97 468.24 L856.98 469.37 L857.00 470.49 L857.01 471.60 L857.03 472.71 L857.05 473.80 L857.06 474.89 L857.08 475.96 L857.10 477.03 L857.11 478.09 L857.13 479.14 L857.15 480.18 L857.16 481.22 L857.18 482.24 L857.19 483.26 L857.21 484.26 L857.23 485.26 L857.24 486.25 L857.26 487.23 L857.28 488.20 L857.29 489.16 L857.31 490.11 L857.33 491.06 L857.34 491.99 L857.36 492.92 L857.37 493.84 L857.39 494.75 L857.41 495.65 L857.42 496.54 L857.44 497.43 L857.46 498.31 L857.47 499.17 L857.49 500.03 L857.51 500.89 L857.52 501.73 L857.54 502.57 L857.55 503.40 L857.57 504.22 L857.59 505.03 L857.60 505.83 L857.62 506.63 L857.64 507.42 L857.65 508.20 L857.67 508.98 L857.69 509.74 L857.70 510.50 L857.72 511.26 L857.73 512.00 L857.75 512.74 L857.77 513.47 L857.78 514.20 L857.80 514.92 L857.82 515.63 L857.83 516.33 L857.85 517.03 L857.87 517.72 L857.88 518.41 L857.90 519.08 L857.92 519.76 L857.93 520.42 L857.95 521.08 L857.96 521.73 L857.98 522.38 L858.00 523.02 L858.01 523.66 L858.03 524.29 L858.05 524.91 L858.06 525.53 L858.08 526.14 L858.10 526.75 L858.11 527.35 L858.13 527.94 L858.14 528.53 L858.16 529.12 L858.18 529.70 L858.19 530.27 L858.21 530.84 L858.23 531.40 L858.24 531.96 L858.26 532.51 L858.28 533.06 L858.29 533.60 L858.31 534.14 L858.32 534.68 L858.34 535.21 L858.36 535.73 L858.37 536.25 L858.39 536.76 L858.41 537.28 L858.42 537.78 L858.44 538.28 L858.46 538.78 L858.47 539.27 L858.49 539.76 L858.50 540.25 L858.52 540.73 L858.54 541.20 L858.55 541.67 L858.57 542.14 L858.59 542.61 L858.60 543.06 L858.62 543.52 L858.64 543.97 L858.65 544.42 L858.67 544.87 L858.68 545.31 L858.70 545.74 L858.72 546.18 L858.73 546.61 L858.75 547.03 L858.77 547.46 L858.78 547.87 L858.80 548.29 L858.82 548.70 L858.83 549.11 L858.85 549.52 L858.87 549.92 L858.88 550.32 L858.90 550.71 L858.91 551.11 L858.93 551.50 L858.95 551.88 L858.96 552.27 L858.98 552.65 L859.00 553.02 L859.01 553.40 L859.03 553.77 L859.05 554.14 L859.06 554.50 L859.08 554.86 L859.09 555.22 L859.11 555.58 L859.13 555.93 L859.14 556.29 L859.16 556.63 L859.18 556.98 L859.19 557.32 L859.21 557.66 L859.23 558.00 L859.24 558.34 L859.26 558.67 L859.27 559.00 L859.29 559.33 L859.31 559.65 L859.32 559.98 L859.34 560.30 L859.36 560.61 L859.37 560.93 L859.39 561.24 L859.41 561.56 L859.42 561.86 L859.44 562.17 L859.45 562.47 L859.47 562.78 L859.49 563.08 L859.50 563.37 L859.52 563.67 L859.54 563.96 L859.55 564.25 L859.57 564.54 L859.59 564.83 L859.60 565.12 L859.62 565.40 L859.63 565.68 L859.65 565.96 L859.67 566.24 L859.68 566.51 L859.70 566.79 L859.72 567.06 L859.73 567.33 L859.75 567.59 L859.77 567.86 L859.78 568.12 L859.80 568.39 L859.82 568.65 L859.83 568.90 L859.85 569.16 L859.86 569.42 L859.88 569.67 L859.90 569.92 L859.91 570.17 L859.93 570.42 L859.95 570.67 L859.96 570.91 L859.98 571.15 L860.00 571.40 L860.01 571.64 L860.03 571.87 L860.04 572.11 L860.06 572.35 L860.08 572.58 L860.09 572.81 L860.11 573.04 L860.13 573.27 L860.14 573.50 L860.16 573.73 L860.18 573.95 L860.19 574.17 L860.21 574.40 L860.22 574.62 L860.24 574.84 L860.26 575.05 L860.27 575.27 L860.29 575.48 L860.31 575.70 L860.32 575.91 L860.34 576.12 L860.36 576.33 L860.37 576.54 L860.39 576.75 L860.40 576.95 L860.42 577.16 L860.44 577.36 L860.45 577.56 L860.47 577.76 L860.49 577.96 L860.50 578.16 L860.52 578.36 L860.54 578.55 L860.55 578.75 L860.57 578.94 L860.58 579.13 L860.60 579.32 L860.62 579.51 L860.63 579.70 L860.65 579.89 L860.67 580.08 L860.68 580.26 L860.70 580.45 L860.72 580.63 L860.73 580.81 L860.75 580.99 L860.77 581.18 L860.78 581.35 L860.80 581.53 L860.81 581.71 L860.83 581.89 L860.85 582.06 L860.86 582.23 L860.88 582.41 L860.90 582.58 L860.91 582.75 L860.93 582.92 L860.95 583.09 L860.96 583.26 L860.98 583.43 L860.99 583.59 L861.01 583.76 L861.03 583.92 L861.04 584.08 L861.06 584.25 L861.08 584.41 L861.09 584.57 L861.11 584.73 L861.13 584.89 L861.14 585.05 L861.16 585.20 L861.17 585.36 L861.19 585.52 L861.21 585.67 L861.22 585.82 L861.24 585.98 L861.26 586.13 L861.27 586.28 L861.29 586.43 L861.31 586.58 L861.32 586.73 L861.34 586.88 L861.35 587.03 L861.37 587.17 L861.39 587.32 L861.40 587.46 L861.42 587.61 L861.44 587.75 L861.45 587.89 L861.47 588.04 L861.49 588.18 L861.50 588.32 L861.52 588.46 L861.53 588.60 L861.55 588.73 L861.57 588.87 L861.58 589.01 L861.60 589.15 L861.62 589.28 L861.63 589.42 L861.65 589.55 L861.67 589.68 L861.68 589.82 L861.70 589.95 L861.71 590.08 L861.73 590.21 L861.75 590.34 L861.76 590.47 L861.78 590.60 L861.80 590.73 L861.81 590.85 L861.83 590.98 L861.85 591.11 L861.86 591.23 L861.88 591.36 L861.90 591.48 L861.91 591.61 L861.93 591.73 L861.94 591.85 L861.96 591.97 L861.98 592.10 L861.99 592.22 L862.01 592.34 L862.03 592.46 L862.04 592.58 L862.06 592.69 L862.08 592.81 L862.09 592.93 L862.11 593.05 L862.12 593.16 L862.14 593.28 L862.16 593.39 L862.17 593.51 L862.19 593.62 L862.21 593.74 L862.22 593.85 L862.24 593.96 L862.26 594.07 L862.27 594.18 L862.29 594.29 L862.30 594.41 L862.32 594.52 L862.34 594.62 L862.35 594.73 L862.37 594.84 L862.39 594.95 L862.40 595.06 L862.42 595.16 L862.44 595.27 L862.45 595.38 L862.47 595.48 L862.48 595.59 L862.50 595.69 L862.52 595.79 L862.53 595.90 L862.55 596.00 L862.57 596.10 L862.58 596.21 L862.60 596.31 L862.62 596.41 L862.63 596.51 L862.65 596.61 L862.66 596.71 L862.68 596.81 L862.70 596.91 L862.71 597.01 L862.73 597.10 L862.75 597.20 L862.76 597.30 L862.78 597.40 L862.80 597.49 L862.81 597.59 L862.83 597.68 L862.85 597.78 L862.86 597.87 L862.88 597.97 L862.89 598.06 L862.91 598.16 L862.93 598.25 L862.94 598.34 L862.96 598.43 L862.98 598.53 L862.99 598.62 L863.01 598.71 L863.03 598.80 L863.04 598.89 L863.06 598.98 L863.07 599.07 L863.09 599.16 L863.11 599.25 L863.12 599.34 L863.14 599.42 L863.16 599.51 L863.17 599.60 L863.19 599.69 L863.21 599.77 L863.22 599.86 L863.24 599.94 L863.25 600.03 L863.27 600.11 L863.29 600.20 L863.30 600.28 L863.32 600.37 L863.34 600.45 L863.35 600.54 L863.37 600.62 L863.39 600.70 L863.40 600.78 L863.42 600.87 L863.43 600.95 L863.45 601.03 L863.47 601.11 L863.48 601.19 L863.50 601.27 L863.52 601.35 L863.53 601.43 L863.55 601.51 L863.57 601.59 L863.58 601.67 L863.60 601.75 L863.61 601.83 L863.63 601.90 L863.65 601.98 L863.66 602.06 L863.68 602.14 L863.70 602.21 L863.71 602.29 L863.73 602.37 L863.75 602.44 L863.76 602.52 L863.78 602.59 L863.80 602.67 L863.81 602.74 L863.83 602.82 L863.84 602.89 L863.86 602.96 L863.88 603.04 L863.89 603.11 L863.91 603.18 L863.93 603.26 L863.94 603.33 L863.96 603.40 L863.98 603.47 L863.99 603.55 L864.01 603.62 L864.02 603.69 L864.04 603.76 L864.06 603.83 L864.07 603.90 L864.09 603.97 L864.11 604.04 L864.12 604.11 L864.14 604.18 L864.16 604.25 L864.17 604.32 L864.19 604.38 L864.20 604.45 L864.22 604.52 L864.24 604.59 L864.25 604.66 L864.27 604.72 L864.29 604.79 L864.30 604.86 L864.32 604.92 L864.34 604.99 L864.35 605.05 L864.37 605.12 L864.38 605.19 L864.40 605.25 L864.42 605.32 L864.43 605.38 L864.45 605.45 L864.47 605.51 L864.48 605.57 L864.50 605.64 L864.52 605.70 L864.53 605.77 L864.55 605.83 L864.56 605.89 L864.58 605.95 L864.60 606.02 L864.61 606.08 L864.63 606.14 L864.65 606.20 L864.66 606.26 L864.68 606.33 L864.70 606.39 L864.71 606.45 L864.73 606.51 L864.75 606.57 L864.76 606.63 L864.78 606.69 L864.79 606.75 L864.81 606.81 L864.83 606.87 L864.84 606.93 L864.86 606.99 L864.88 607.05 L864.89 607.11 L864.91 607.16 L864.93 607.22 L864.94 607.28 L864.96 607.34 L864.97 607.40 L864.99 607.45 L865.01 607.51 L865.02 607.57 L865.04 607.62 L865.06 607.68 L865.07 607.74 L865.09 607.79 L865.11 607.85 L865.12 607.91 L865.14 607.96 L865.15 608.02 L865.17 608.07 L865.19 608.13 L865.20 608.18 L865.22 608.24 L865.24 608.29 L865.25 608.35 L865.27 608.40 L865.29 608.46 L865.30 608.51 L865.32 608.56 L865.33 608.62 L865.35 608.67 L865.37 608.72 L865.38 608.78 L865.40 608.83 L865.42 608.88 L865.43 608.94 L865.45 608.99 L865.47 609.04 L865.48 609.09 L865.50 609.14 L865.51 609.20 L865.53 609.25 L865.55 609.30 L865.56 609.35 L865.58 609.40 L865.60 609.45 L865.61 609.50 L865.63 609.55 L865.65 609.60 L865.66 609.65 L865.68 609.70 L865.70 609.75 L865.71 609.80 L865.73 609.85 L865.74 609.90 L865.76 609.95 L865.78 610.00 L865.79 610.05 L865.81 610.10 L865.83 610.15 L865.84 610.20 L865.86 610.24 L865.88 610.29 L865.89 610.34 L865.91 610.39 L865.92 610.44 L865.94 610.48 L865.96 610.53 L865.97 610.58 L865.99 610.63 L866.01 610.67 L866.02 610.72 L866.04 610.77 L866.06 610.81 L866.07 610.86 L866.09 610.91 L866.10 610.95 L866.12 611.00 L866.14 611.04 L866.15 611.09 L866.17 611.14 L866.19 611.18 L866.20 611.23 L866.22 611.27 L866.24 611.32 L866.25 611.36 L866.27 611.41 L866.28 611.45 L866.30 611.49 L866.32 611.54 L866.33 611.58 L866.35 611.63 L866.37 611.67 L866.38 611.72 L866.40 611.76 L866.42 611.80 L866.43 611.85 L866.45 611.89 L866.46 611.93 L866.48 611.98 L866.50 612.02 L866.51 612.06 L866.53 612.10 L866.55 612.15 L866.56 612.19 L866.58 612.23 L866.60 612.27 L866.61 612.32 L866.63 612.36 L866.65 612.40 L866.66 612.44 L866.68 612.48 L866.69 612.52 L866.71 612.57 L866.73 612.61 L866.74 612.65 L866.76 612.69 L866.78 612.73 L866.79 612.77 L866.81 612.81 L866.83 612.85 L866.84 612.89 L866.86 612.93 L866.87 612.97 L866.89 613.01 L866.91 613.05 L866.92 613.09 L866.94 613.13 L866.96 613.17 L866.97 613.21 L866.99 613.25 L867.01 613.29 L867.02 613.33 L867.04 613.37 L867.05 613.41 L867.07 613.45 L867.09 613.48 L867.10 613.52 L867.12 613.56 L867.14 613.60 L867.15 613.64 L867.17 613.68 L867.19 613.71 L867.20 613.75 L867.22 613.79 L867.23 613.83 L867.25 613.87 L867.27 613.90 L867.28 613.94 L867.30 613.98 L867.32 614.02 L867.33 614.05 L867.35 614.09 L867.37 614.13 L867.38 614.16 L867.40 614.20 L867.41 614.24 L867.43 614.27 L867.45 614.31 L867.46 614.35 L867.48 614.38 L867.50 614.42 L867.51 614.45 L867.53 614.49 L867.55 614.53 L867.56 614.56 L867.58 614.60 L867.60 614.63 L867.61 614.67 L867.63 614.70 L867.64 614.74 L867.66 614.77 L867.68 614.81 L867.69 614.84 L867.71 614.88 L867.73 614.91 L867.74 614.95 L867.76 614.98 L867.78 615.02 L867.79 615.05 L867.81 615.09 L867.82 615.12 L867.84 615.16 L867.86 615.19 L867.87 615.22 L867.89 615.26 L867.91 615.29 L867.92 615.32 L867.94 615.36 L867.96 615.39 L867.97 615.43 L867.99 615.46 L868.00 615.49 L868.02 615.52 L868.04 615.56 L868.05 615.59 L868.07 615.62 L868.09 615.66 L868.10 615.69 L868.12 615.72 L868.14 615.75 L868.15 615.79 L868.17 615.82 L868.18 615.85 L868.20 615.88 L868.22 615.92 L868.23 615.95 L868.25 615.98 L868.27 616.01 L868.28 616.04 L868.30 616.08 L868.32 616.11 L868.33 616.14 L868.35 616.17 L868.36 616.20 L868.38 616.23 L868.40 616.27 L868.41 616.30 L868.43 616.33 L868.45 616.36 L868.46 616.39 L868.48 616.42 L868.50 616.45 L868.51 616.48 L868.53 616.51 L868.55 616.54 L868.56 616.57 L868.58 616.60 L868.59 616.63 L868.61 616.66 L868.63 616.69 L868.64 616.72 L868.66 616.75 L868.68 616.78 L868.69 616.81 L868.71 616.84 L868.73 616.87 L868.74 616.90 L868.76 616.93 L868.77 616.96 L868.79 616.99 L868.81 617.02 L868.82 617.05 L868.84 617.08 L868.86 617.11 L868.87 617.14 L868.89 617.17 L868.91 617.20 L868.92 617.23 L868.94 617.25 L868.95 617.28 L868.97 617.31 L868.99 617.34 L869.00 617.37 L869.02 617.40 L869.04 617.43 L869.05 617.45 L869.07 617.48 L869.09 617.51 L869.10 617.54 L869.12 617.57 L869.13 617.59 L869.15 617.62 L869.17 617.65 L869.18 617.68 L869.20 617.71 L869.22 617.73 L869.23 617.76 L869.25 617.79 L869.27 617.82 L869.28 617.84 L869.30 617.87 L869.31 617.90 L869.33 617.93 L869.35 617.95 L869.36 617.98 L869.38 618.01 L869.40 618.03 L869.41 618.06 L869.43 618.09 L869.45 618.11 L869.46 618.14 L869.48 618.17 L869.50 618.19 L869.51 618.22 L869.53 618.25 L869.54 618.27 L869.56 618.30 L869.58 618.33 L869.59 618.35 L869.61 618.38 L869.63 618.40 L869.64 618.43 L869.66 618.46 L869.68 618.48 L869.69 618.51 L869.71 618.53 L869.72 618.56 L869.74 618.59 L869.76 618.61 L869.77 618.64 L869.79 618.66 L869.81 618.69 L869.82 618.71 L869.84 618.74 L869.86 618.76 L869.87 618.79 L869.89 618.81 L869.90 618.84 L869.92 618.86 L869.94 618.89 L869.95 618.91 L869.97 618.94 L869.99 618.96 L870.00 618.99 L870.02 619.01 L870.04 619.04 L870.05 619.06 L870.07 619.09 L870.08 619.11 L870.10 619.14 L870.12 619.16 L870.13 619.18 L870.15 619.21 L870.17 619.23 L870.18 619.26 L870.20 619.28 L870.22 619.31 L870.23 619.33 L870.25 619.35 L870.26 619.38 L870.28 619.40 L870.30 619.42 L870.31 619.45 L870.33 619.47 L870.35 619.50 L870.36 619.52 L870.38 619.54 L870.40 619.57 L870.41 619.59 L870.43 619.61 L870.44 619.64 L870.46 619.66 L870.48 619.68 L870.49 619.71 L870.51 619.73 L870.53 619.75 L870.54 619.78 L870.56 619.80 L870.58 619.82 L870.59 619.84 L870.61 619.87 L870.63 619.89 L870.64 619.91 L870.66 619.93 L870.67 619.96 L870.69 619.98 L870.71 620.00 L870.72 620.02 L870.74 620.05 L870.76 620.07 L870.77 620.09 L870.79 620.11 L870.81 620.14 L870.82 620.16 L870.84 620.18 L870.85 620.20 L870.87 620.22 L870.89 620.25 L870.90 620.27 L870.92 620.29 L870.94 620.31 L870.95 620.33 L870.97 620.36 L870.99 620.38 L871.00 620.40 L871.02 620.42 L871.03 620.44 L871.05 620.46 L871.07 620.49 L871.08 620.51 L871.10 620.53 L871.12 620.55 L871.13 620.57 L871.15 620.59 L871.17 620.61 L871.18 620.63 L871.20 620.66 L871.21 620.68 L871.23 620.70 L871.25 620.72 L871.26 620.74 L871.28 620.76 L871.30 620.78 L871.31 620.80 L871.33 620.82 L871.35 620.84 L871.36 620.86 L871.38 620.89 L871.39 620.91 L871.41 620.93 L871.43 620.95 L871.44 620.97 L871.46 620.99 L871.48 621.01 L871.49 621.03 L871.51 621.05 L871.53 621.07 L871.54 621.09 L871.56 621.11 L871.58 621.13 L871.59 621.15 L871.61 621.17 L871.62 621.19 L871.64 621.21 L871.66 621.23 L871.67 621.25 L871.69 621.27 L871.71 621.29 L871.72 621.31 L871.74 621.33 L871.76 621.35 L871.77 621.37 L871.79 621.39 L871.80 621.41 L871.82 621.43 L871.84 621.45 L871.85 621.47 L871.87 621.49 L871.89 621.51 L871.90 621.52 L871.92 621.54 L871.94 621.56 L871.95 621.58 L871.97 621.60 L871.98 621.62 L872.00 621.64 L872.00 621.64 L872.27 621.95 L872.55 622.26 L872.82 622.55 L873.10 622.84 L873.37 623.11 L873.64 623.38 L873.92 623.64 L874.19 623.90 L874.47 624.14 L874.74 624.38 L875.01 624.61 L875.29 624.84 L875.56 625.05 L875.84 625.27 L876.11 625.48 L876.38 625.68 L876.66 625.87 L876.93 626.07 L877.21 626.25 L877.48 626.43 L877.75 626.61 L878.03 626.79 L878.30 626.95 L878.57 627.12 L878.85 627.28 L879.12 627.44 L879.40 627.59 L879.67 627.74 L879.94 627.89 L880.22 628.03 L880.49 628.17 L880.77 628.31 L881.04 628.45 L881.31 628.58 L881.59 628.71 L881.86 628.83 L882.14 628.96 L882.41 629.08 L882.68 629.20 L882.96 629.31 L883.23 629.43 L883.50 629.54 L883.78 629.65 L884.05 629.75 L884.33 629.86 L884.60 629.96 L884.87 630.06 L885.15 630.16 L885.42 630.26 L885.70 630.36 L885.97 630.45 L886.24 630.54 L886.52 630.63 L886.79 630.72 L887.07 630.81 L887.34 630.90 L887.61 630.98 L887.89 631.07 L888.16 631.15 L888.43 631.23 L888.71 631.31 L888.98 631.39 L889.26 631.46 L889.53 631.54 L889.80 631.61 L890.08 631.68 L890.35 631.76 L890.63 631.83 L890.90 631.90 L891.17 631.96 L891.45 632.03 L891.72 632.10 L892.00 632.16 L892.27 632.23 L892.54 632.29 L892.82 632.35 L893.09 632.42 L893.36 632.48 L893.64 632.54 L893.91 632.60 L894.19 632.65 L894.46 632.71 L894.73 632.77 L895.01 632.82 L895.28 632.88 L895.56 632.93 L895.83 632.98 L896.10 633.04 L896.38 633.09 L896.65 633.14 L896.93 633.19 L897.20 633.24 L897.47 633.29 L897.75 633.34 L898.02 633.39 L898.30 633.43 L898.57 633.48 L898.84 633.53 L899.12 633.57 L899.39 633.62 L899.66 633.66 L899.94 633.71 L900.21 633.75 L900.49 633.79 L900.76 633.83 L901.03 633.88 L901.31 633.92 L901.58 633.96 L901.86 634.00 L902.13 634.04 L902.40 634.08 L902.68 634.12 L902.95 634.16 L903.23 634.19 L903.50 634.23 L903.77 634.27 L904.05 634.30 L904.32 634.34 L904.59 634.38 L904.87 634.41 L905.14 634.45 L905.42 634.48 L905.69 634.52 L905.96 634.55 L906.24 634.58 L906.51 634.62 L906.79 634.65 L907.06 634.68 L907.33 634.71 L907.61 634.75 L907.88 634.78 L908.16 634.81 L908.43 634.84 L908.70 634.87 L908.98 634.90 L909.25 634.93 L909.52 634.96 L909.80 634.99 L910.07 635.02 L910.35 635.05 L910.62 635.07 L910.89 635.10 L911.17 635.13 L911.44 635.16 L911.72 635.18 L911.99 635.21 L912.26 635.24 L912.54 635.26 L912.81 635.29 L913.09 635.32 L913.36 635.34 L913.63 635.37 L913.91 635.39 L914.18 635.42 L914.45 635.44 L914.73 635.47 L915.00 635.49 L915.28 635.51 L915.55 635.54 L915.82 635.56 L916.10 635.58 L916.37 635.61 L916.65 635.63 L916.92 635.65 L917.19 635.68 L917.47 635.70 L917.74 635.72 L918.02 635.74 L918.29 635.76 L918.56 635.79 L918.84 635.81 L919.11 635.83 L919.39 635.85 L919.66 635.87 L919.93 635.89 L920.21 635.91 L920.48 635.93 L920.75 635.95 L921.03 635.97 L921.30 635.99 L921.58 636.01 L921.85 636.03 L922.12 636.05 L922.40 636.07 L922.67 636.09 L922.95 636.11 L923.22 636.12 L923.49 636.14 L923.77 636.16 L924.04 636.18 L924.32 636.20 L924.59 636.21 L924.86 636.23 L925.14 636.25 L925.41 636.27 L925.68 636.28 L925.96 636.30 L926.23 636.32 L926.51 636.34 L926.78 636.35 L927.05 636.37 L927.33 636.39 L927.60 636.40 L927.88 636.42 L928.15 636.43 L928.42 636.45 L928.70 636.47 L928.97 636.48 L929.25 636.50 L929.52 636.51 L929.79 636.53 L930.07 636.54 L930.34 636.56 L930.61 636.57 L930.89 636.59 L931.16 636.60 L931.44 636.62 L931.71 636.63 L931.98 636.65 L932.26 636.66 L932.53 636.67 L932.81 636.69 L933.08 636.70 L933.35 636.72 L933.63 636.73 L933.90 636.74 L934.18 636.76 L934.45 636.77 L934.72 636.79 L935.00 636.80 L935.27 636.81 L935.54 636.83 L935.82 636.84 L936.09 636.85 L936.37 636.86 L936.64 636.88 L936.91 636.89 L937.19 636.90 L937.46 636.91 L937.74 636.93 L938.01 636.94 L938.28 636.95 L938.56 636.96 L938.83 636.98 L939.11 636.99 L939.38 637.00 L939.65 637.01 L939.93 637.02 L940.20 637.04 L940.48 637.05 L940.75 637.06 L941.02 637.07 L941.30 637.08 L941.57 637.09 L941.84 637.10 L942.12 637.11 L942.39 637.13 L942.67 637.14 L942.94 637.15 L943.21 637.16 L943.49 637.17 L943.76 637.18 L944.04 637.19 L944.31 637.20 L944.58 637.21 L944.86 637.22 L945.13 637.23 L945.41 637.24 L945.68 637.25 L945.95 637.26 L946.23 637.27 L946.50 637.28 L946.77 637.29 L947.05 637.30 L947.32 637.31 L947.60 637.32 L947.87 637.33 L948.14 637.34 L948.42 637.35 L948.69 637.36 L948.97 637.37 L949.24 637.38 L949.51 637.39 L949.79 637.40 L950.06 637.41 L950.34 637.42 L950.61 637.43 L950.88 637.44 L951.16 637.45 L951.43 637.45 L951.70 637.46 L951.98 637.47 L952.25 637.48 L952.53 637.49 L952.80 637.50 L953.07 637.51 L953.35 637.52 L953.62 637.52 L953.90 637.53" stroke="#76c276" stroke-width="2.0" stroke-dasharray="13.4 14" fill="none"/></g><ellipse cx="592.8" cy="570.8" rx="4.7" ry="4.4" fill="#ff47a6"/><path d="M571.2 590.3H613.5" stroke="#76c276" stroke-width="2.1" stroke-dasharray="14.1 12.9"/><path d="M571.2 610.3H613.5" stroke="#1020ff" stroke-width="2.3"/><rect x="698.2" y="368.4" width="127.1" height="152.8" fill="#fff"/><g clip-path="url(#ci)"><g fill="#ff47a6"><ellipse cx="707.5" cy="498.4" rx="9.8" ry="9.1"/><ellipse cx="718.7" cy="472.9" rx="9.8" ry="9.1"/><ellipse cx="730.0" cy="460.0" rx="9.8" ry="9.1"/><ellipse cx="741.5" cy="440.1" rx="9.8" ry="9.1"/><ellipse cx="752.7" cy="410.9" rx="9.8" ry="9.1"/><ellipse cx="764.0" cy="401.2" rx="9.8" ry="9.1"/><ellipse cx="786.1" cy="431.9" rx="9.8" ry="9.1"/><ellipse cx="808.6" cy="482.6" rx="9.8" ry="9.1"/><ellipse cx="819.5" cy="498.4" rx="9.8" ry="9.1"/><ellipse cx="828.6" cy="516.9" rx="9.8" ry="9.1"/></g><path d="M680.70 537.21 L680.91 536.95 L681.12 536.68 L681.34 536.41 L681.55 536.14 L681.76 535.88 L681.97 535.61 L682.19 535.34 L682.40 535.07 L682.61 534.80 L682.82 534.52 L683.04 534.25 L683.25 533.98 L683.46 533.71 L683.67 533.44 L683.89 533.16 L684.10 532.89 L684.31 532.61 L684.52 532.34 L684.74 532.06 L684.95 531.79 L685.16 531.51 L685.38 531.23 L685.59 530.96 L685.80 530.68 L686.01 530.40 L686.22 530.12 L686.44 529.84 L686.65 529.56 L686.86 529.28 L687.07 529.00 L687.29 528.72 L687.50 528.44 L687.71 528.16 L687.93 527.88 L688.14 527.59 L688.35 527.31 L688.56 527.03 L688.77 526.74 L688.99 526.46 L689.20 526.17 L689.41 525.89 L689.62 525.60 L689.84 525.31 L690.05 525.03 L690.26 524.74 L690.48 524.45 L690.69 524.16 L690.90 523.87 L691.11 523.58 L691.32 523.29 L691.54 523.00 L691.75 522.71 L691.96 522.42 L692.17 522.12 L692.39 521.83 L692.60 521.54 L692.81 521.25 L693.03 520.95 L693.24 520.66 L693.45 520.36 L693.66 520.07 L693.87 519.77 L694.09 519.47 L694.30 519.17 L694.51 518.88 L694.72 518.58 L694.94 518.28 L695.15 517.98 L695.36 517.68 L695.58 517.38 L695.79 517.08 L696.00 516.78 L696.21 516.48 L696.42 516.17 L696.64 515.87 L696.85 515.57 L697.06 515.26 L697.27 514.96 L697.49 514.66 L697.70 514.35 L697.91 514.04 L698.13 513.74 L698.34 513.43 L698.55 513.12 L698.76 512.81 L698.97 512.51 L699.19 512.20 L699.40 511.89 L699.61 511.58 L699.82 511.27 L700.04 510.96 L700.25 510.64 L700.46 510.33 L700.68 510.02 L700.89 509.71 L701.10 509.39 L701.31 509.08 L701.52 508.76 L701.74 508.45 L701.95 508.13 L702.16 507.82 L702.37 507.50 L702.59 507.18 L702.80 506.86 L703.01 506.54 L703.22 506.23 L703.44 505.91 L703.65 505.59 L703.86 505.27 L704.07 504.94 L704.29 504.62 L704.50 504.30 L704.71 503.98 L704.92 503.65 L705.14 503.33 L705.35 503.01 L705.56 502.68 L705.77 502.35 L705.99 502.03 L706.20 501.70 L706.41 501.38 L706.62 501.05 L706.84 500.72 L707.05 500.39 L707.26 500.06 L707.47 499.73 L707.69 499.40 L707.90 499.07 L708.11 498.74 L708.32 498.41 L708.54 498.07 L708.75 497.74 L708.96 497.41 L709.17 497.07 L709.39 496.74 L709.60 496.40 L709.81 496.07 L710.02 495.73 L710.24 495.39 L710.45 495.05 L710.66 494.72 L710.87 494.38 L711.09 494.04 L711.30 493.70 L711.51 493.36 L711.72 493.02 L711.94 492.68 L712.15 492.33 L712.36 491.99 L712.58 491.65 L712.79 491.30 L713.00 490.96 L713.21 490.61 L713.42 490.27 L713.64 489.92 L713.85 489.58 L714.06 489.23 L714.27 488.88 L714.49 488.53 L714.70 488.18 L714.91 487.83 L715.13 487.48 L715.34 487.13 L715.55 486.78 L715.76 486.43 L715.97 486.08 L716.19 485.72 L716.40 485.37 L716.61 485.02 L716.82 484.66 L717.04 484.31 L717.25 483.95 L717.46 483.59 L717.68 483.24 L717.89 482.88 L718.10 482.52 L718.31 482.16 L718.52 481.80 L718.74 481.44 L718.95 481.08 L719.16 480.72 L719.37 480.36 L719.59 480.00 L719.80 479.64 L720.01 479.27 L720.23 478.91 L720.44 478.54 L720.65 478.18 L720.86 477.81 L721.07 477.45 L721.29 477.08 L721.50 476.71 L721.71 476.34 L721.92 475.97 L722.14 475.60 L722.35 475.23 L722.56 474.86 L722.78 474.49 L722.99 474.12 L723.20 473.75 L723.41 473.38 L723.62 473.00 L723.84 472.63 L724.05 472.25 L724.26 471.88 L724.47 471.50 L724.69 471.13 L724.90 470.75 L725.11 470.37 L725.33 469.99 L725.54 469.61 L725.75 469.23 L725.96 468.85 L726.17 468.47 L726.39 468.09 L726.60 467.71 L726.81 467.33 L727.02 466.94 L727.24 466.56 L727.45 466.18 L727.66 465.79 L727.88 465.41 L728.09 465.02 L728.30 464.63 L728.51 464.25 L728.72 463.86 L728.94 463.47 L729.15 463.08 L729.36 462.69 L729.57 462.30 L729.79 461.91 L730.00 461.52 L730.21 461.12 L730.43 460.73 L730.64 460.34 L730.85 459.94 L731.06 459.55 L731.27 459.15 L731.49 458.76 L731.70 458.36 L731.91 457.96 L732.12 457.57 L732.34 457.17 L732.55 456.77 L732.76 456.37 L732.98 455.97 L733.19 455.57 L733.40 455.17 L733.61 454.76 L733.82 454.36 L734.04 453.96 L734.25 453.55 L734.46 453.15 L734.67 452.74 L734.89 452.34 L735.10 451.93 L735.31 451.52 L735.53 451.11 L735.74 450.71 L735.95 450.30 L736.16 449.89 L736.37 449.48 L736.59 449.07 L736.80 448.65 L737.01 448.24 L737.23 447.83 L737.44 447.42 L737.65 447.00 L737.86 446.59 L738.08 446.17 L738.29 445.76 L738.50 445.34 L738.71 444.92 L738.92 444.50 L739.14 444.09 L739.35 443.67 L739.56 443.25 L739.78 442.83 L739.99 442.40 L740.20 441.98 L740.41 441.56 L740.63 441.14 L740.84 440.71 L741.05 440.29 L741.26 439.86 L741.47 439.44 L741.69 439.01 L741.90 438.59 L742.11 438.16 L742.33 437.73 L742.54 437.30 L742.75 436.87 L742.96 436.44 L743.18 436.01 L743.39 435.58 L743.60 435.15 L743.81 434.72 L744.02 434.28 L744.24 433.85 L744.45 433.41 L744.66 432.98 L744.88 432.54 L745.09 432.11 L745.30 431.67 L745.51 431.23 L745.72 430.79 L745.94 430.35 L746.15 429.91 L746.36 429.47 L746.57 429.03 L746.79 428.59 L747.00 428.15 L747.21 427.71 L747.43 427.26 L747.64 426.82 L747.85 426.37 L748.06 425.93 L748.27 425.48 L748.49 425.04 L748.70 424.59 L748.91 424.14 L749.12 423.69 L749.34 423.24 L749.55 422.79 L749.76 422.34 L749.98 421.89 L750.19 421.44 L750.40 420.98 L750.61 420.53 L750.82 420.08 L751.04 419.62 L751.25 419.17 L751.46 418.71 L751.67 418.26 L751.89 417.80 L752.10 417.34 L752.31 416.88 L752.53 416.42 L752.74 415.96 L752.95 415.50 L753.16 415.04 L753.37 414.58 L753.59 414.12 L753.80 413.65 L754.01 413.19 L754.22 412.73 L754.44 412.26 L754.65 411.79 L754.86 411.33 L755.08 410.86 L755.29 410.39 L755.50 409.93 L755.71 409.46 L755.92 408.99 L756.14 408.52 L756.35 408.05 L756.56 407.57 L756.77 407.10 L756.99 406.63 L757.20 406.15 L757.41 405.68 L757.63 405.21 L757.84 404.73 L758.05 404.25 L758.26 403.78 L758.47 403.30 L758.69 402.82 L758.90 402.34 L759.11 401.86 L759.32 401.38 L759.54 400.90 L759.75 400.42 L759.96 399.94 L760.18 399.46 L760.39 398.97 L760.60 398.49 L760.81 398.00 L761.02 397.52 L761.24 397.03 L761.45 396.54 L761.66 396.06 L761.87 395.57 L762.09 395.08 L762.30 394.59 L762.51 394.10 L762.73 393.61 L762.94 393.12 L763.15 392.63 L763.36 392.13 L763.57 391.64 L763.79 391.15 L764.00 390.65 L764.21 390.16 L764.42 389.66 L764.64 389.16 L764.85 388.67 L765.06 388.17 L765.28 387.67 L765.49 387.17 L765.70 386.67 L765.91 387.17 L766.12 387.67 L766.34 388.17 L766.55 388.67 L766.76 389.16 L766.98 389.66 L767.19 390.16 L767.40 390.65 L767.61 391.15 L767.83 391.64 L768.04 392.13 L768.25 392.63 L768.46 393.12 L768.67 393.61 L768.89 394.10 L769.10 394.59 L769.31 395.08 L769.53 395.57 L769.74 396.06 L769.95 396.54 L770.16 397.03 L770.38 397.52 L770.59 398.00 L770.80 398.49 L771.01 398.97 L771.22 399.46 L771.44 399.94 L771.65 400.42 L771.86 400.90 L772.08 401.38 L772.29 401.86 L772.50 402.34 L772.71 402.82 L772.93 403.30 L773.14 403.78 L773.35 404.25 L773.56 404.73 L773.77 405.21 L773.99 405.68 L774.20 406.15 L774.41 406.63 L774.63 407.10 L774.84 407.57 L775.05 408.05 L775.26 408.52 L775.48 408.99 L775.69 409.46 L775.90 409.93 L776.11 410.39 L776.32 410.86 L776.54 411.33 L776.75 411.79 L776.96 412.26 L777.18 412.73 L777.39 413.19 L777.60 413.65 L777.81 414.12 L778.03 414.58 L778.24 415.04 L778.45 415.50 L778.66 415.96 L778.87 416.42 L779.09 416.88 L779.30 417.34 L779.51 417.80 L779.73 418.26 L779.94 418.71 L780.15 419.17 L780.36 419.62 L780.58 420.08 L780.79 420.53 L781.00 420.98 L781.21 421.44 L781.42 421.89 L781.64 422.34 L781.85 422.79 L782.06 423.24 L782.28 423.69 L782.49 424.14 L782.70 424.59 L782.91 425.04 L783.13 425.48 L783.34 425.93 L783.55 426.37 L783.76 426.82 L783.97 427.26 L784.19 427.71 L784.40 428.15 L784.61 428.59 L784.83 429.03 L785.04 429.47 L785.25 429.91 L785.46 430.35 L785.68 430.79 L785.89 431.23 L786.10 431.67 L786.31 432.11 L786.52 432.54 L786.74 432.98 L786.95 433.41 L787.16 433.85 L787.38 434.28 L787.59 434.72 L787.80 435.15 L788.01 435.58 L788.22 436.01 L788.44 436.44 L788.65 436.87 L788.86 437.30 L789.07 437.73 L789.29 438.16 L789.50 438.59 L789.71 439.01 L789.93 439.44 L790.14 439.86 L790.35 440.29 L790.56 440.71 L790.77 441.14 L790.99 441.56 L791.20 441.98 L791.41 442.40 L791.62 442.83 L791.84 443.25 L792.05 443.67 L792.26 444.09 L792.48 444.50 L792.69 444.92 L792.90 445.34 L793.11 445.76 L793.32 446.17 L793.54 446.59 L793.75 447.00 L793.96 447.42 L794.18 447.83 L794.39 448.24 L794.60 448.65 L794.81 449.07 L795.03 449.48 L795.24 449.89 L795.45 450.30 L795.66 450.71 L795.87 451.11 L796.09 451.52 L796.30 451.93 L796.51 452.34 L796.73 452.74 L796.94 453.15 L797.15 453.55 L797.36 453.96 L797.58 454.36 L797.79 454.76 L798.00 455.17 L798.21 455.57 L798.42 455.97 L798.64 456.37 L798.85 456.77 L799.06 457.17 L799.28 457.57 L799.49 457.96 L799.70 458.36 L799.91 458.76 L800.13 459.15 L800.34 459.55 L800.55 459.94 L800.76 460.34 L800.97 460.73 L801.19 461.12 L801.40 461.52 L801.61 461.91 L801.83 462.30 L802.04 462.69 L802.25 463.08 L802.46 463.47 L802.68 463.86 L802.89 464.25 L803.10 464.63 L803.31 465.02 L803.52 465.41 L803.74 465.79 L803.95 466.18 L804.16 466.56 L804.38 466.94 L804.59 467.33 L804.80 467.71 L805.01 468.09 L805.23 468.47 L805.44 468.85 L805.65 469.23 L805.86 469.61 L806.07 469.99 L806.29 470.37 L806.50 470.75 L806.71 471.13 L806.93 471.50 L807.14 471.88 L807.35 472.25 L807.56 472.63 L807.78 473.00 L807.99 473.38 L808.20 473.75 L808.41 474.12 L808.62 474.49 L808.84 474.86 L809.05 475.23 L809.26 475.60 L809.48 475.97 L809.69 476.34 L809.90 476.71 L810.11 477.08 L810.33 477.45 L810.54 477.81 L810.75 478.18 L810.96 478.54 L811.17 478.91 L811.39 479.27 L811.60 479.64 L811.81 480.00 L812.03 480.36 L812.24 480.72 L812.45 481.08 L812.66 481.44 L812.88 481.80 L813.09 482.16 L813.30 482.52 L813.51 482.88 L813.72 483.24 L813.94 483.59 L814.15 483.95 L814.36 484.31 L814.58 484.66 L814.79 485.02 L815.00 485.37 L815.21 485.72 L815.43 486.08 L815.64 486.43 L815.85 486.78 L816.06 487.13 L816.27 487.48 L816.49 487.83 L816.70 488.18 L816.91 488.53 L817.13 488.88 L817.34 489.23 L817.55 489.58 L817.76 489.92 L817.98 490.27 L818.19 490.61 L818.40 490.96 L818.61 491.30 L818.83 491.65 L819.04 491.99 L819.25 492.33 L819.46 492.68 L819.68 493.02 L819.89 493.36 L820.10 493.70 L820.31 494.04 L820.53 494.38 L820.74 494.72 L820.95 495.05 L821.16 495.39 L821.38 495.73 L821.59 496.07 L821.80 496.40 L822.01 496.74 L822.23 497.07 L822.44 497.41 L822.65 497.74 L822.86 498.07 L823.08 498.41 L823.29 498.74 L823.50 499.07 L823.71 499.40 L823.93 499.73 L824.14 500.06 L824.35 500.39 L824.56 500.72 L824.78 501.05 L824.99 501.38 L825.20 501.70 L825.41 502.03 L825.63 502.35 L825.84 502.68 L826.05 503.01 L826.26 503.33 L826.48 503.65 L826.69 503.98 L826.90 504.30 L827.11 504.62 L827.33 504.94 L827.54 505.27 L827.75 505.59 L827.96 505.91 L828.18 506.23 L828.39 506.54 L828.60 506.86 L828.81 507.18 L829.03 507.50 L829.24 507.82 L829.45 508.13 L829.66 508.45 L829.88 508.76 L830.09 509.08 L830.30 509.39 L830.51 509.71 L830.72 510.02 L830.94 510.33 L831.15 510.64 L831.36 510.96 L831.58 511.27 L831.79 511.58 L832.00 511.89 L832.21 512.20 L832.43 512.51 L832.64 512.81 L832.85 513.12 L833.06 513.43 L833.27 513.74 L833.49 514.04 L833.70 514.35 L833.91 514.66 L834.13 514.96 L834.34 515.26 L834.55 515.57 L834.76 515.87 L834.98 516.17 L835.19 516.48 L835.40 516.78 L835.61 517.08 L835.82 517.38 L836.04 517.68 L836.25 517.98 L836.46 518.28 L836.68 518.58 L836.89 518.88 L837.10 519.17 L837.31 519.47 L837.53 519.77 L837.74 520.07 L837.95 520.36 L838.16 520.66 L838.37 520.95 L838.59 521.25 L838.80 521.54 L839.01 521.83 L839.23 522.12 L839.44 522.42 L839.65 522.71 L839.86 523.00 L840.08 523.29 L840.29 523.58 L840.50 523.87 L840.71 524.16 L840.92 524.45 L841.14 524.74 L841.35 525.03 L841.56 525.31 L841.78 525.60 L841.99 525.89 L842.20 526.17 L842.41 526.46 L842.63 526.74 L842.84 527.03 L843.05 527.31 L843.26 527.59 L843.47 527.88 L843.69 528.16 L843.90 528.44 L844.11 528.72 L844.33 529.00 L844.54 529.28 L844.75 529.56 L844.96 529.84 L845.18 530.12 L845.39 530.40 L845.60 530.68 L845.81 530.96 L846.03 531.23 L846.24 531.51 L846.45 531.79 L846.66 532.06 L846.88 532.34 L847.09 532.61 L847.30 532.89 L847.51 533.16 L847.73 533.44 L847.94 533.71 L848.15 533.98 L848.36 534.25 L848.58 534.52 L848.79 534.80 L849.00 535.07 L849.21 535.34 L849.43 535.61 L849.64 535.88 L849.85 536.14 L850.06 536.41 L850.28 536.68 L850.49 536.95 L850.70 537.21" stroke="#1f3cff" stroke-width="3" stroke-linejoin="round" fill="none"/><path d="M680.70 506.56 L680.91 506.21 L681.12 505.87 L681.34 505.53 L681.55 505.19 L681.76 504.84 L681.97 504.50 L682.19 504.16 L682.40 503.81 L682.61 503.47 L682.82 503.12 L683.04 502.77 L683.25 502.43 L683.46 502.08 L683.67 501.73 L683.89 501.38 L684.10 501.04 L684.31 500.69 L684.52 500.34 L684.74 499.99 L684.95 499.64 L685.16 499.29 L685.38 498.93 L685.59 498.58 L685.80 498.23 L686.01 497.88 L686.22 497.52 L686.44 497.17 L686.65 496.82 L686.86 496.46 L687.07 496.11 L687.29 495.75 L687.50 495.39 L687.71 495.04 L687.93 494.68 L688.14 494.32 L688.35 493.97 L688.56 493.61 L688.77 493.25 L688.99 492.89 L689.20 492.53 L689.41 492.17 L689.62 491.81 L689.84 491.45 L690.05 491.09 L690.26 490.73 L690.48 490.37 L690.69 490.00 L690.90 489.64 L691.11 489.28 L691.32 488.92 L691.54 488.55 L691.75 488.19 L691.96 487.82 L692.17 487.46 L692.39 487.09 L692.60 486.73 L692.81 486.36 L693.03 485.99 L693.24 485.63 L693.45 485.26 L693.66 484.89 L693.87 484.52 L694.09 484.16 L694.30 483.79 L694.51 483.42 L694.72 483.05 L694.94 482.68 L695.15 482.31 L695.36 481.94 L695.58 481.57 L695.79 481.20 L696.00 480.82 L696.21 480.45 L696.42 480.08 L696.64 479.71 L696.85 479.34 L697.06 478.96 L697.27 478.59 L697.49 478.22 L697.70 477.84 L697.91 477.47 L698.13 477.09 L698.34 476.72 L698.55 476.34 L698.76 475.97 L698.97 475.59 L699.19 475.22 L699.40 474.84 L699.61 474.47 L699.82 474.09 L700.04 473.71 L700.25 473.34 L700.46 472.96 L700.68 472.58 L700.89 472.20 L701.10 471.82 L701.31 471.45 L701.52 471.07 L701.74 470.69 L701.95 470.31 L702.16 469.93 L702.37 469.55 L702.59 469.17 L702.80 468.79 L703.01 468.41 L703.22 468.03 L703.44 467.65 L703.65 467.27 L703.86 466.89 L704.07 466.51 L704.29 466.13 L704.50 465.75 L704.71 465.37 L704.92 464.99 L705.14 464.61 L705.35 464.23 L705.56 463.85 L705.77 463.47 L705.99 463.08 L706.20 462.70 L706.41 462.32 L706.62 461.94 L706.84 461.56 L707.05 461.18 L707.26 460.79 L707.47 460.41 L707.69 460.03 L707.90 459.65 L708.11 459.27 L708.32 458.88 L708.54 458.50 L708.75 458.12 L708.96 457.74 L709.17 457.36 L709.39 456.97 L709.60 456.59 L709.81 456.21 L710.02 455.83 L710.24 455.45 L710.45 455.06 L710.66 454.68 L710.87 454.30 L711.09 453.92 L711.30 453.54 L711.51 453.15 L711.72 452.77 L711.94 452.39 L712.15 452.01 L712.36 451.63 L712.58 451.25 L712.79 450.87 L713.00 450.49 L713.21 450.11 L713.42 449.73 L713.64 449.35 L713.85 448.97 L714.06 448.59 L714.27 448.21 L714.49 447.83 L714.70 447.45 L714.91 447.07 L715.13 446.69 L715.34 446.31 L715.55 445.93 L715.76 445.56 L715.97 445.18 L716.19 444.80 L716.40 444.42 L716.61 444.05 L716.82 443.67 L717.04 443.30 L717.25 442.92 L717.46 442.54 L717.68 442.17 L717.89 441.79 L718.10 441.42 L718.31 441.05 L718.52 440.67 L718.74 440.30 L718.95 439.93 L719.16 439.55 L719.37 439.18 L719.59 438.81 L719.80 438.44 L720.01 438.07 L720.23 437.70 L720.44 437.33 L720.65 436.96 L720.86 436.59 L721.07 436.22 L721.29 435.85 L721.50 435.49 L721.71 435.12 L721.92 434.75 L722.14 434.39 L722.35 434.02 L722.56 433.66 L722.78 433.30 L722.99 432.93 L723.20 432.57 L723.41 432.21 L723.62 431.85 L723.84 431.49 L724.05 431.13 L724.26 430.77 L724.47 430.41 L724.69 430.05 L724.90 429.69 L725.11 429.34 L725.33 428.98 L725.54 428.63 L725.75 428.27 L725.96 427.92 L726.17 427.57 L726.39 427.21 L726.60 426.86 L726.81 426.51 L727.02 426.16 L727.24 425.81 L727.45 425.47 L727.66 425.12 L727.88 424.77 L728.09 424.43 L728.30 424.08 L728.51 423.74 L728.72 423.40 L728.94 423.06 L729.15 422.72 L729.36 422.38 L729.57 422.04 L729.79 421.70 L730.00 421.36 L730.21 421.03 L730.43 420.69 L730.64 420.36 L730.85 420.03 L731.06 419.70 L731.27 419.37 L731.49 419.04 L731.70 418.71 L731.91 418.38 L732.12 418.06 L732.34 417.73 L732.55 417.41 L732.76 417.09 L732.98 416.77 L733.19 416.45 L733.40 416.13 L733.61 415.81 L733.82 415.49 L734.04 415.18 L734.25 414.87 L734.46 414.55 L734.67 414.24 L734.89 413.93 L735.10 413.62 L735.31 413.32 L735.53 413.01 L735.74 412.71 L735.95 412.40 L736.16 412.10 L736.37 411.80 L736.59 411.50 L736.80 411.20 L737.01 410.91 L737.23 410.61 L737.44 410.32 L737.65 410.03 L737.86 409.74 L738.08 409.45 L738.29 409.16 L738.50 408.88 L738.71 408.59 L738.92 408.31 L739.14 408.03 L739.35 407.75 L739.56 407.47 L739.78 407.20 L739.99 406.92 L740.20 406.65 L740.41 406.38 L740.63 406.11 L740.84 405.84 L741.05 405.57 L741.26 405.31 L741.47 405.05 L741.69 404.78 L741.90 404.52 L742.11 404.27 L742.33 404.01 L742.54 403.76 L742.75 403.50 L742.96 403.25 L743.18 403.01 L743.39 402.76 L743.60 402.51 L743.81 402.27 L744.02 402.03 L744.24 401.79 L744.45 401.55 L744.66 401.32 L744.88 401.08 L745.09 400.85 L745.30 400.62 L745.51 400.39 L745.72 400.17 L745.94 399.94 L746.15 399.72 L746.36 399.50 L746.57 399.28 L746.79 399.07 L747.00 398.85 L747.21 398.64 L747.43 398.43 L747.64 398.23 L747.85 398.02 L748.06 397.82 L748.27 397.62 L748.49 397.42 L748.70 397.22 L748.91 397.02 L749.12 396.83 L749.34 396.64 L749.55 396.45 L749.76 396.27 L749.98 396.08 L750.19 395.90 L750.40 395.72 L750.61 395.54 L750.82 395.37 L751.04 395.19 L751.25 395.02 L751.46 394.85 L751.67 394.69 L751.89 394.52 L752.10 394.36 L752.31 394.20 L752.53 394.05 L752.74 393.89 L752.95 393.74 L753.16 393.59 L753.37 393.44 L753.59 393.30 L753.80 393.15 L754.01 393.01 L754.22 392.87 L754.44 392.74 L754.65 392.60 L754.86 392.47 L755.08 392.34 L755.29 392.22 L755.50 392.09 L755.71 391.97 L755.92 391.85 L756.14 391.74 L756.35 391.62 L756.56 391.51 L756.77 391.40 L756.99 391.30 L757.20 391.19 L757.41 391.09 L757.63 390.99 L757.84 390.89 L758.05 390.80 L758.26 390.71 L758.47 390.62 L758.69 390.53 L758.90 390.45 L759.11 390.37 L759.32 390.29 L759.54 390.21 L759.75 390.14 L759.96 390.07 L760.18 390.00 L760.39 389.93 L760.60 389.87 L760.81 389.81 L761.02 389.75 L761.24 389.69 L761.45 389.64 L761.66 389.59 L761.87 389.54 L762.09 389.49 L762.30 389.45 L762.51 389.41 L762.73 389.37 L762.94 389.34 L763.15 389.30 L763.36 389.27 L763.57 389.25 L763.79 389.22 L764.00 389.20 L764.21 389.18 L764.42 389.16 L764.64 389.15 L764.85 389.14 L765.06 389.13 L765.28 389.12 L765.49 389.12 L765.70 389.12 L765.91 389.12 L766.12 389.12 L766.34 389.13 L766.55 389.14 L766.76 389.15 L766.98 389.16 L767.19 389.18 L767.40 389.20 L767.61 389.22 L767.83 389.25 L768.04 389.27 L768.25 389.30 L768.46 389.34 L768.67 389.37 L768.89 389.41 L769.10 389.45 L769.31 389.49 L769.53 389.54 L769.74 389.59 L769.95 389.64 L770.16 389.69 L770.38 389.75 L770.59 389.81 L770.80 389.87 L771.01 389.93 L771.22 390.00 L771.44 390.07 L771.65 390.14 L771.86 390.21 L772.08 390.29 L772.29 390.37 L772.50 390.45 L772.71 390.53 L772.93 390.62 L773.14 390.71 L773.35 390.80 L773.56 390.89 L773.77 390.99 L773.99 391.09 L774.20 391.19 L774.41 391.30 L774.63 391.40 L774.84 391.51 L775.05 391.62 L775.26 391.74 L775.48 391.85 L775.69 391.97 L775.90 392.09 L776.11 392.22 L776.32 392.34 L776.54 392.47 L776.75 392.60 L776.96 392.74 L777.18 392.87 L777.39 393.01 L777.60 393.15 L777.81 393.30 L778.03 393.44 L778.24 393.59 L778.45 393.74 L778.66 393.89 L778.87 394.05 L779.09 394.20 L779.30 394.36 L779.51 394.52 L779.73 394.69 L779.94 394.85 L780.15 395.02 L780.36 395.19 L780.58 395.37 L780.79 395.54 L781.00 395.72 L781.21 395.90 L781.42 396.08 L781.64 396.27 L781.85 396.45 L782.06 396.64 L782.28 396.83 L782.49 397.02 L782.70 397.22 L782.91 397.42 L783.13 397.62 L783.34 397.82 L783.55 398.02 L783.76 398.23 L783.97 398.43 L784.19 398.64 L784.40 398.85 L784.61 399.07 L784.83 399.28 L785.04 399.50 L785.25 399.72 L785.46 399.94 L785.68 400.17 L785.89 400.39 L786.10 400.62 L786.31 400.85 L786.52 401.08 L786.74 401.32 L786.95 401.55 L787.16 401.79 L787.38 402.03 L787.59 402.27 L787.80 402.51 L788.01 402.76 L788.22 403.01 L788.44 403.25 L788.65 403.50 L788.86 403.76 L789.07 404.01 L789.29 404.27 L789.50 404.52 L789.71 404.78 L789.93 405.05 L790.14 405.31 L790.35 405.57 L790.56 405.84 L790.77 406.11 L790.99 406.38 L791.20 406.65 L791.41 406.92 L791.62 407.20 L791.84 407.47 L792.05 407.75 L792.26 408.03 L792.48 408.31 L792.69 408.59 L792.90 408.88 L793.11 409.16 L793.32 409.45 L793.54 409.74 L793.75 410.03 L793.96 410.32 L794.18 410.61 L794.39 410.91 L794.60 411.20 L794.81 411.50 L795.03 411.80 L795.24 412.10 L795.45 412.40 L795.66 412.71 L795.87 413.01 L796.09 413.32 L796.30 413.62 L796.51 413.93 L796.73 414.24 L796.94 414.55 L797.15 414.87 L797.36 415.18 L797.58 415.49 L797.79 415.81 L798.00 416.13 L798.21 416.45 L798.42 416.77 L798.64 417.09 L798.85 417.41 L799.06 417.73 L799.28 418.06 L799.49 418.38 L799.70 418.71 L799.91 419.04 L800.13 419.37 L800.34 419.70 L800.55 420.03 L800.76 420.36 L800.97 420.69 L801.19 421.03 L801.40 421.36 L801.61 421.70 L801.83 422.04 L802.04 422.38 L802.25 422.72 L802.46 423.06 L802.68 423.40 L802.89 423.74 L803.10 424.08 L803.31 424.43 L803.52 424.77 L803.74 425.12 L803.95 425.47 L804.16 425.81 L804.38 426.16 L804.59 426.51 L804.80 426.86 L805.01 427.21 L805.23 427.57 L805.44 427.92 L805.65 428.27 L805.86 428.63 L806.07 428.98 L806.29 429.34 L806.50 429.69 L806.71 430.05 L806.93 430.41 L807.14 430.77 L807.35 431.13 L807.56 431.49 L807.78 431.85 L807.99 432.21 L808.20 432.57 L808.41 432.93 L808.62 433.30 L808.84 433.66 L809.05 434.02 L809.26 434.39 L809.48 434.75 L809.69 435.12 L809.90 435.49 L810.11 435.85 L810.33 436.22 L810.54 436.59 L810.75 436.96 L810.96 437.33 L811.17 437.70 L811.39 438.07 L811.60 438.44 L811.81 438.81 L812.03 439.18 L812.24 439.55 L812.45 439.93 L812.66 440.30 L812.88 440.67 L813.09 441.05 L813.30 441.42 L813.51 441.79 L813.72 442.17 L813.94 442.54 L814.15 442.92 L814.36 443.30 L814.58 443.67 L814.79 444.05 L815.00 444.42 L815.21 444.80 L815.43 445.18 L815.64 445.56 L815.85 445.93 L816.06 446.31 L816.27 446.69 L816.49 447.07 L816.70 447.45 L816.91 447.83 L817.13 448.21 L817.34 448.59 L817.55 448.97 L817.76 449.35 L817.98 449.73 L818.19 450.11 L818.40 450.49 L818.61 450.87 L818.83 451.25 L819.04 451.63 L819.25 452.01 L819.46 452.39 L819.68 452.77 L819.89 453.15 L820.10 453.54 L820.31 453.92 L820.53 454.30 L820.74 454.68 L820.95 455.06 L821.16 455.45 L821.38 455.83 L821.59 456.21 L821.80 456.59 L822.01 456.97 L822.23 457.36 L822.44 457.74 L822.65 458.12 L822.86 458.50 L823.08 458.88 L823.29 459.27 L823.50 459.65 L823.71 460.03 L823.93 460.41 L824.14 460.79 L824.35 461.18 L824.56 461.56 L824.78 461.94 L824.99 462.32 L825.20 462.70 L825.41 463.08 L825.63 463.47 L825.84 463.85 L826.05 464.23 L826.26 464.61 L826.48 464.99 L826.69 465.37 L826.90 465.75 L827.11 466.13 L827.33 466.51 L827.54 466.89 L827.75 467.27 L827.96 467.65 L828.18 468.03 L828.39 468.41 L828.60 468.79 L828.81 469.17 L829.03 469.55 L829.24 469.93 L829.45 470.31 L829.66 470.69 L829.88 471.07 L830.09 471.45 L830.30 471.82 L830.51 472.20 L830.72 472.58 L830.94 472.96 L831.15 473.34 L831.36 473.71 L831.58 474.09 L831.79 474.47 L832.00 474.84 L832.21 475.22 L832.43 475.59 L832.64 475.97 L832.85 476.34 L833.06 476.72 L833.27 477.09 L833.49 477.47 L833.70 477.84 L833.91 478.22 L834.13 478.59 L834.34 478.96 L834.55 479.34 L834.76 479.71 L834.98 480.08 L835.19 480.45 L835.40 480.82 L835.61 481.20 L835.82 481.57 L836.04 481.94 L836.25 482.31 L836.46 482.68 L836.68 483.05 L836.89 483.42 L837.10 483.79 L837.31 484.16 L837.53 484.52 L837.74 484.89 L837.95 485.26 L838.16 485.63 L838.37 485.99 L838.59 486.36 L838.80 486.73 L839.01 487.09 L839.23 487.46 L839.44 487.82 L839.65 488.19 L839.86 488.55 L840.08 488.92 L840.29 489.28 L840.50 489.64 L840.71 490.00 L840.92 490.37 L841.14 490.73 L841.35 491.09 L841.56 491.45 L841.78 491.81 L841.99 492.17 L842.20 492.53 L842.41 492.89 L842.63 493.25 L842.84 493.61 L843.05 493.97 L843.26 494.32 L843.47 494.68 L843.69 495.04 L843.90 495.39 L844.11 495.75 L844.33 496.11 L844.54 496.46 L844.75 496.82 L844.96 497.17 L845.18 497.52 L845.39 497.88 L845.60 498.23 L845.81 498.58 L846.03 498.93 L846.24 499.29 L846.45 499.64 L846.66 499.99 L846.88 500.34 L847.09 500.69 L847.30 501.04 L847.51 501.38 L847.73 501.73 L847.94 502.08 L848.15 502.43 L848.36 502.77 L848.58 503.12 L848.79 503.47 L849.00 503.81 L849.21 504.16 L849.43 504.50 L849.64 504.84 L849.85 505.19 L850.06 505.53 L850.28 505.87 L850.49 506.21 L850.70 506.56" stroke="#70c070" stroke-width="2.5" stroke-dasharray="22.5 27.0" stroke-dashoffset="42.92" fill="none"/></g><path d="M723.20 521.20L723.20 516.20M765.70 521.20L765.70 516.20M808.20 521.20L808.20 516.20M744.45 521.20L744.45 518.40M786.95 521.20L786.95 518.40M698.20 521.20L703.20 521.20M698.20 460.05L703.20 460.05M698.20 398.90L703.20 398.90M698.20 490.63L701.00 490.63M698.20 429.48L701.00 429.48" stroke="#303030" stroke-width="1.3" fill="none"/><rect x="698.2" y="368.4" width="127.10" height="152.80" fill="none" stroke="#303030" stroke-width="1.3"/><g font-family="Liberation Serif"><text transform="translate(103.64 29.11) scale(0.9546 1)" font-size="27.8" fill="#000">(</text><text transform="translate(113.09 28.80) scale(1.3790 1)" font-size="23.8" fill="#000">a</text><text transform="translate(128.20 29.11) scale(0.9546 1)" font-size="27.8" fill="#000">)</text><text transform="translate(153.30 30.70) scale(1.1791 1)" font-size="25.4" fill="#000">FeSe</text><text transform="translate(359.50 33.90) scale(1.4071 1)" font-size="25.4" fill="#000"><tspan font-style="italic">T</tspan></text><text transform="translate(409.32 33.90) scale(1.1643 1)" font-size="25.4" fill="#000">8.0</text><text transform="translate(450.92 33.90) scale(1.1579 1)" font-size="25.4" fill="#000">K</text><text transform="translate(335.94 77.80) scale(1.1530 1)" font-size="25.4" fill="#000"><tspan font-style="italic">θ</tspan></text><text transform="translate(381.56 77.80) scale(1.0256 1)" font-size="25.4" fill="#000">0°</text><text transform="translate(392.40 255.60) scale(1.1061 1)" font-size="25.4" fill="#000"><tspan font-style="italic">θ</tspan></text><text transform="translate(438.41 255.60) scale(1.0379 1)" font-size="25.4" fill="#000">90°</text><text transform="translate(129.24 190.80) scale(1.2672 1)" font-size="20.0" fill="#000"><tspan font-style="italic">c</tspan>-axis</text><text transform="translate(105.38 208.20) scale(1.0878 1)" font-size="16.5" fill="#000"><tspan font-style="italic">H</tspan></text><text transform="translate(137.17 210.50) scale(1.4137 1)" font-size="16.0" fill="#000"><tspan font-style="italic">θ</tspan></text><text transform="translate(105.80 240.60) scale(1.0672 1)" font-size="19.5" fill="#ff1a1a"><tspan font-style="italic">I</tspan></text><text transform="translate(46.21 42.00) scale(1.1964 1)" font-size="25.0" fill="#000">1.0</text><text transform="translate(46.51 170.80) scale(1.1863 1)" font-size="25.0" fill="#000">0.5</text><text transform="translate(46.95 275.00) scale(1.1513 1)" font-size="25.0" fill="#000">0.1</text><text transform="translate(46.94 295.80) scale(1.1590 1)" font-size="25.0" fill="#000">0.0</text><text transform="translate(125.83 314.00) scale(1.1714 1)" font-size="25.0" fill="#000">8</text><text transform="translate(204.53 314.00) scale(1.1304 1)" font-size="25.0" fill="#000">4</text><text transform="translate(275.34 314.00) scale(1.1619 1)" font-size="25.0" fill="#000">0</text><text transform="translate(353.14 314.00) scale(1.1217 1)" font-size="25.0" fill="#000">4</text><text transform="translate(433.37 314.00) scale(1.1333 1)" font-size="25.0" fill="#000">8</text><text transform="translate(230.00 343.70) scale(1.2910 1)" font-size="29.5" fill="#000"><tspan font-style="italic">μ</tspan></text><text transform="translate(247.68 348.70) scale(1.2132 1)" font-size="21.0" fill="#000">0</text><text transform="translate(262.62 343.70) scale(1.0865 1)" font-size="29.5" fill="#000"><tspan font-style="italic">H</tspan></text><text transform="translate(300.25 343.70) scale(1.2249 1)" font-size="29.5" fill="#000">(T)</text><text transform="translate(570.94 29.11) scale(0.9546 1)" font-size="27.8" fill="#000">(</text><text transform="translate(582.10 29.00) scale(1.2422 1)" font-size="23.8" fill="#000">b</text><text transform="translate(597.40 29.11) scale(0.9546 1)" font-size="27.8" fill="#000">)</text><text transform="translate(624.22 28.90) scale(1.1581 1)" font-size="25.4" fill="#000">(Li,Fe)OHFeSe</text><text transform="translate(819.54 47.90) scale(1.3269 1)" font-size="25.4" fill="#000"><tspan font-style="italic">T</tspan></text><text transform="translate(868.55 47.90) scale(1.0902 1)" font-size="25.4" fill="#000">41.5</text><text transform="translate(924.34 47.90) scale(1.1348 1)" font-size="25.4" fill="#000">K</text><text transform="translate(817.87 80.60) scale(1.0499 1)" font-size="25.4" fill="#000"><tspan font-style="italic">θ</tspan></text><text transform="translate(863.30 80.60) scale(0.9867 1)" font-size="25.4" fill="#000">0°</text><text transform="translate(859.90 283.80) scale(1.1061 1)" font-size="25.4" fill="#e8559a"><tspan font-style="italic">θ</tspan></text><text transform="translate(905.51 283.80) scale(1.0409 1)" font-size="25.4" fill="#e8559a">90°</text><text transform="translate(523.01 139.90) scale(1.1863 1)" font-size="25.0" fill="#000">0.5</text><text transform="translate(522.94 266.80) scale(1.1617 1)" font-size="25.0" fill="#000">0.1</text><text transform="translate(522.90 298.40) scale(1.2000 1)" font-size="25.0" fill="#000">0.0</text><text transform="translate(600.08 314.00) scale(1.1238 1)" font-size="25.0" fill="#000">8</text><text transform="translate(678.83 314.00) scale(1.1304 1)" font-size="25.0" fill="#000">4</text><text transform="translate(750.04 314.00) scale(1.1619 1)" font-size="25.0" fill="#000">0</text><text transform="translate(827.14 314.00) scale(1.1217 1)" font-size="25.0" fill="#000">4</text><text transform="translate(907.80 314.00) scale(1.1048 1)" font-size="25.0" fill="#000">8</text><text transform="translate(704.10 343.70) scale(1.2910 1)" font-size="29.5" fill="#000"><tspan font-style="italic">μ</tspan></text><text transform="translate(721.78 348.70) scale(1.2132 1)" font-size="21.0" fill="#000">0</text><text transform="translate(736.72 343.70) scale(1.0865 1)" font-size="29.5" fill="#000"><tspan font-style="italic">H</tspan></text><text transform="translate(774.35 343.70) scale(1.2249 1)" font-size="29.5" fill="#000">(T)</text><text transform="translate(104.82 377.11) scale(0.9685 1)" font-size="27.8" fill="#000">(</text><text transform="translate(114.57 377.00) scale(1.2946 1)" font-size="23.8" fill="#000">c</text><text transform="translate(128.43 377.11) scale(0.9270 1)" font-size="27.8" fill="#000">)</text><text transform="translate(156.94 402.10) scale(1.1116 1)" font-size="25.4" fill="#000">4.5</text><text transform="translate(145.39 429.90) scale(1.2800 1)" font-size="16.0" letter-spacing="0.384" fill="#000">FeSe</text><text transform="translate(144.98 450.10) scale(1.2800 1)" font-size="16.0" letter-spacing="0.440" fill="#000">3D Anisotropic G-L</text><text transform="translate(145.18 468.50) scale(1.2800 1)" font-size="16.0" letter-spacing="0.592" fill="#000">2D Tinkham</text><text transform="translate(46.53 399.50) scale(1.1726 1)" font-size="25.0" fill="#000">2.5</text><text transform="translate(46.53 461.90) scale(1.1726 1)" font-size="25.0" fill="#000">2.0</text><text transform="translate(44.94 524.30) scale(1.2250 1)" font-size="25.0" fill="#000">1.5</text><text transform="translate(44.94 586.80) scale(1.2250 1)" font-size="25.0" fill="#000">1.0</text><text transform="translate(46.53 646.90) scale(1.1726 1)" font-size="25.0" fill="#000">0.5</text><text transform="translate(77.71 663.00) scale(1.2857 1)" font-size="25.0" fill="#000">0</text><text transform="translate(138.56 663.00) scale(1.1739 1)" font-size="25.0" fill="#000">20</text><text transform="translate(204.59 663.00) scale(1.1489 1)" font-size="25.0" fill="#000">40</text><text transform="translate(269.43 663.00) scale(1.1739 1)" font-size="25.0" fill="#000">60</text><text transform="translate(334.86 663.00) scale(1.1739 1)" font-size="25.0" fill="#000">80</text><text transform="translate(392.68 663.00) scale(1.1504 1)" font-size="25.0" fill="#000">100</text><text transform="translate(458.12 663.00) scale(1.1504 1)" font-size="25.0" fill="#000">120</text><text transform="translate(232.93 696.60) scale(1.1299 1)" font-size="29.5" fill="#000"><tspan font-style="italic">θ</tspan></text><text transform="translate(261.24 696.60) scale(1.1555 1)" font-size="29.5" fill="#000">(deg)</text><text transform="translate(571.18 377.16) scale(0.9131 1)" font-size="27.8" fill="#000">(</text><text transform="translate(580.67 376.80) scale(1.2885 1)" font-size="23.8" fill="#000">d</text><text transform="translate(597.54 377.16) scale(0.9131 1)" font-size="27.8" fill="#000">)</text><text transform="translate(619.27 401.10) scale(1.1053 1)" font-size="25.4" fill="#000">151</text><text transform="translate(619.28 575.70) scale(1.2800 1)" font-size="16.0" letter-spacing="0.315" fill="#000">(Li,Fe)OHFeSe</text><text transform="translate(619.08 595.70) scale(1.2800 1)" font-size="16.0" letter-spacing="0.440" fill="#000">3D Anisotropic G-L</text><text transform="translate(619.28 615.50) scale(1.2800 1)" font-size="16.0" letter-spacing="0.548" fill="#000">2D Tinkham</text><text transform="translate(539.46 402.00) scale(1.1442 1)" font-size="25.0" fill="#000">6</text><text transform="translate(540.07 484.00) scale(1.0696 1)" font-size="25.0" fill="#000">4</text><text transform="translate(539.37 566.00) scale(1.2300 1)" font-size="25.0" fill="#000">2</text><text transform="translate(539.35 647.90) scale(1.1524 1)" font-size="25.0" fill="#000">0</text><text transform="translate(552.35 662.90) scale(1.1524 1)" font-size="25.0" fill="#000">0</text><text transform="translate(612.24 662.90) scale(1.1739 1)" font-size="25.0" fill="#000">20</text><text transform="translate(678.36 662.90) scale(1.1489 1)" font-size="25.0" fill="#000">40</text><text transform="translate(743.27 662.90) scale(1.1739 1)" font-size="25.0" fill="#000">60</text><text transform="translate(808.79 662.90) scale(1.1739 1)" font-size="25.0" fill="#000">80</text><text transform="translate(866.69 662.90) scale(1.1504 1)" font-size="25.0" fill="#000">100</text><text transform="translate(932.21 662.90) scale(1.1504 1)" font-size="25.0" fill="#000">120</text><text transform="translate(707.63 696.60) scale(1.1299 1)" font-size="29.5" fill="#000"><tspan font-style="italic">θ</tspan></text><text transform="translate(735.82 696.60) scale(1.1672 1)" font-size="29.5" fill="#000">(deg)</text><text transform="translate(685.35 405.40) scale(1.4299 1)" font-size="14.8" fill="#000">6</text><text transform="translate(684.84 467.20) scale(1.5372 1)" font-size="14.8" fill="#000">5</text><text transform="translate(685.80 527.20) scale(1.3367 1)" font-size="14.8" fill="#000">4</text><text transform="translate(707.32 536.50) scale(1.3190 1)" font-size="14.8" fill="#000">89.8</text><text transform="translate(750.02 536.50) scale(1.2991 1)" font-size="14.8" fill="#000">90.0</text><text transform="translate(792.01 536.50) scale(1.3229 1)" font-size="14.8" fill="#000">90.2</text><text transform="translate(728.93 555.70) scale(1.2736 1)" font-size="20.0" fill="#000"><tspan font-style="italic">θ</tspan> (deg)</text><text transform="translate(28.90 226.60) rotate(-90) scale(1.2083 1)" font-size="31.0" fill="#000"><tspan font-style="italic">R</tspan></text><text transform="translate(28.90 186.30) rotate(-90) scale(1.2466 1)" font-size="31.0" fill="#000"><tspan font-style="italic">R</tspan></text><text transform="translate(32.20 163.22) rotate(-90) scale(1.2638 1)" font-size="19.5" fill="#000">15 K,0 T</text><text transform="translate(506.90 226.60) rotate(-90) scale(1.2083 1)" font-size="31.0" fill="#000"><tspan font-style="italic">R</tspan></text><text transform="translate(506.90 186.30) rotate(-90) scale(1.2466 1)" font-size="31.0" fill="#000"><tspan font-style="italic">R</tspan></text><text transform="translate(510.20 162.47) rotate(-90) scale(1.2527 1)" font-size="19.5" fill="#000">50 K,0 T</text><text transform="translate(28.80 571.20) rotate(-90) scale(1.2189 1)" font-size="29.5" fill="#000"><tspan font-style="italic">μ</tspan></text><text transform="translate(33.40 552.36) rotate(-90) scale(1.2024 1)" font-size="20.0" fill="#000">0</text><text transform="translate(28.00 538.67) rotate(-90) scale(1.1299 1)" font-size="29.5" fill="#000"><tspan font-style="italic">H</tspan></text><text transform="translate(32.20 517.41) rotate(-90) scale(1.3824 1)" font-size="20.0" fill="#000">c2</text><text transform="translate(28.20 478.15) rotate(-90) scale(1.2249 1)" font-size="29.5" fill="#000">(T)</text><text transform="translate(514.80 569.00) rotate(-90) scale(1.2189 1)" font-size="29.5" fill="#000"><tspan font-style="italic">μ</tspan></text><text transform="translate(519.40 550.16) rotate(-90) scale(1.2024 1)" font-size="20.0" fill="#000">0</text><text transform="translate(514.00 536.47) rotate(-90) scale(1.1299 1)" font-size="29.5" fill="#000"><tspan font-style="italic">H</tspan></text><text transform="translate(518.20 515.21) rotate(-90) scale(1.3824 1)" font-size="20.0" fill="#000">c2</text><text transform="translate(514.20 475.95) rotate(-90) scale(1.2249 1)" font-size="29.5" fill="#000">(T)</text><text transform="translate(673.80 503.40) rotate(-90) scale(1.2316 1)" font-size="21.5" fill="#000"><tspan font-style="italic">μ</tspan><tspan font-size="70%" dy="0.154em">0</tspan><tspan font-style="italic"><tspan dy="-0.108em">H</tspan></tspan><tspan font-size="70%" dy="0.154em">c2</tspan><tspan dy="-0.108em"> (T)</tspan></text></g><path d="M385.30 24.60H403.20M385.30 30.50H403.20M357.20 68.50H376.00M357.20 74.40H376.00M412.80 246.30H431.20M412.80 252.20H431.20M842.70 38.60H861.70M842.70 44.50H861.70M838.00 71.30H855.80M838.00 77.20H855.80M131.70 392.90H150.20M131.70 398.70H150.20M594.20 391.40H612.90M594.20 397.30H612.90" stroke="#000" stroke-width="1.15" fill="none"/><path d="M105.80 307.80H123.00M184.90 307.60H202.00M580.20 307.80H597.40M659.00 307.60H676.20" stroke="#000" stroke-width="1.1" fill="none"/><path d="M879.80 274.20H898.40M879.80 280.40H898.40" stroke="#e8559a" stroke-width="1.15" fill="none"/><g transform="translate(0.0 0.0)" fill="none" stroke="#000" stroke-linecap="round"><path d="M111.3 395.6C111.9 391.6 118.4 388.9 120.5 394.6L121.3 399.3" stroke-width="1.35"/><path d="M124.8 391.3L119.4 406.3" stroke-width="1.25"/></g><g transform="translate(462.5 -1.3)" fill="none" stroke="#000" stroke-linecap="round"><path d="M111.3 395.6C111.9 391.6 118.4 388.9 120.5 394.6L121.3 399.3" stroke-width="1.35"/><path d="M124.8 391.3L119.4 406.3" stroke-width="1.25"/></g><path d="M34.5 202.5L6.7 189.0M512.5 202.5L484.7 189.0" stroke="#000" stroke-width="1.4" fill="none"/></svg></body></html>
